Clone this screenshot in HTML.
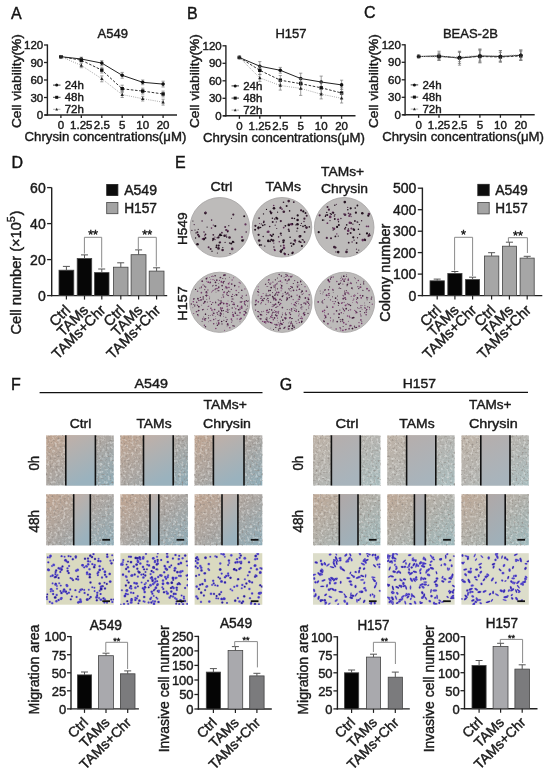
<!DOCTYPE html>
<html><head><meta charset="utf-8"><title>Chrysin figure</title>
<style>html,body{margin:0;padding:0;background:#fff;} svg{display:block;font-family:"Liberation Sans", Arial, sans-serif;} text{stroke:#1a1a1a;stroke-width:0.42px;}</style>
</head><body>
<svg width="550" height="776" viewBox="0 0 550 776">
<rect width="550" height="776" fill="#fff"/>
<text x="11.0" y="18.5" font-size="16" text-anchor="start" fill="#111">A</text>
<text x="187.0" y="18.5" font-size="16" text-anchor="start" fill="#111">B</text>
<text x="364.0" y="18.3" font-size="16" text-anchor="start" fill="#111">C</text>
<text x="11.5" y="167.8" font-size="16" text-anchor="start" fill="#111">D</text>
<text x="175.0" y="167.8" font-size="16" text-anchor="start" fill="#111">E</text>
<text x="11.0" y="390.0" font-size="16" text-anchor="start" fill="#111">F</text>
<text x="279.8" y="390.0" font-size="16" text-anchor="start" fill="#111">G</text>
<text x="112.8" y="37.5" font-size="13" text-anchor="middle" fill="#1a1a1a">A549</text>
<line x1="47.4" y1="44.4" x2="47.4" y2="115.6" stroke="#222" stroke-width="1.4"/>
<line x1="44.7" y1="115.0" x2="177.0" y2="115.0" stroke="#222" stroke-width="1.4"/>
<line x1="44.0" y1="115.0" x2="47.4" y2="115.0" stroke="#222" stroke-width="1.3"/>
<text x="43.2" y="119.1" font-size="11.5" text-anchor="end" fill="#1a1a1a">0</text>
<line x1="44.0" y1="97.5" x2="47.4" y2="97.5" stroke="#222" stroke-width="1.3"/>
<text x="43.2" y="101.6" font-size="11.5" text-anchor="end" fill="#1a1a1a">30</text>
<line x1="44.0" y1="80.0" x2="47.4" y2="80.0" stroke="#222" stroke-width="1.3"/>
<text x="43.2" y="84.1" font-size="11.5" text-anchor="end" fill="#1a1a1a">60</text>
<line x1="44.0" y1="62.5" x2="47.4" y2="62.5" stroke="#222" stroke-width="1.3"/>
<text x="43.2" y="66.6" font-size="11.5" text-anchor="end" fill="#1a1a1a">90</text>
<line x1="44.0" y1="45.0" x2="47.4" y2="45.0" stroke="#222" stroke-width="1.3"/>
<text x="43.2" y="49.1" font-size="11.5" text-anchor="end" fill="#1a1a1a">120</text>
<line x1="60.9" y1="115.0" x2="60.9" y2="118.0" stroke="#222" stroke-width="1.3"/>
<line x1="81.3" y1="115.0" x2="81.3" y2="118.0" stroke="#222" stroke-width="1.3"/>
<line x1="101.8" y1="115.0" x2="101.8" y2="118.0" stroke="#222" stroke-width="1.3"/>
<line x1="122.2" y1="115.0" x2="122.2" y2="118.0" stroke="#222" stroke-width="1.3"/>
<line x1="142.7" y1="115.0" x2="142.7" y2="118.0" stroke="#222" stroke-width="1.3"/>
<line x1="163.1" y1="115.0" x2="163.1" y2="118.0" stroke="#222" stroke-width="1.3"/>
<text x="60.9" y="128.7" font-size="11.5" text-anchor="middle" fill="#1a1a1a">0</text>
<text x="81.3" y="128.7" font-size="11.5" text-anchor="middle" fill="#1a1a1a">1.25</text>
<text x="101.8" y="128.7" font-size="11.5" text-anchor="middle" fill="#1a1a1a">2.5</text>
<text x="122.2" y="128.7" font-size="11.5" text-anchor="middle" fill="#1a1a1a">5</text>
<text x="142.7" y="128.7" font-size="11.5" text-anchor="middle" fill="#1a1a1a">10</text>
<text x="163.1" y="128.7" font-size="11.5" text-anchor="middle" fill="#1a1a1a">20</text>
<text x="24.5" y="141.3" font-size="13.2" text-anchor="start" fill="#1a1a1a" textLength="161.8" lengthAdjust="spacingAndGlyphs">Chrysin concentrations(μM)</text>
<text transform="translate(20.6,81.1) rotate(-90)" font-size="13" text-anchor="middle" fill="#1a1a1a" textLength="94" lengthAdjust="spacingAndGlyphs">Cell viability(%)</text>
<polyline points="60.9,56.7 81.3,59.0 101.8,63.1 122.2,75.3 142.7,82.3 163.1,84.1" fill="none" stroke="#222" stroke-width="1.0"/>
<polyline points="60.9,56.7 81.3,60.2 101.8,70.1 122.2,88.8 142.7,91.1 163.1,94.0" fill="none" stroke="#333" stroke-width="1.0" stroke-dasharray="2.6,1.6"/>
<polyline points="60.9,56.7 81.3,65.4 101.8,78.8 122.2,94.6 142.7,98.7 163.1,102.2" fill="none" stroke="#aaa" stroke-width="1.0" stroke-dasharray="1.0,1.2"/>
<line x1="60.9" y1="55.5" x2="60.9" y2="57.8" stroke="#777" stroke-width="0.7"/>
<line x1="59.3" y1="55.5" x2="62.5" y2="55.5" stroke="#777" stroke-width="0.7"/>
<line x1="59.3" y1="57.8" x2="62.5" y2="57.8" stroke="#777" stroke-width="0.7"/>
<circle cx="60.9" cy="56.7" r="1.8" fill="#111"/>
<line x1="81.3" y1="57.2" x2="81.3" y2="60.8" stroke="#777" stroke-width="0.7"/>
<line x1="79.7" y1="57.2" x2="82.9" y2="57.2" stroke="#777" stroke-width="0.7"/>
<line x1="79.7" y1="60.8" x2="82.9" y2="60.8" stroke="#777" stroke-width="0.7"/>
<circle cx="81.3" cy="59.0" r="1.8" fill="#111"/>
<line x1="101.8" y1="60.7" x2="101.8" y2="65.4" stroke="#777" stroke-width="0.7"/>
<line x1="100.2" y1="60.7" x2="103.4" y2="60.7" stroke="#777" stroke-width="0.7"/>
<line x1="100.2" y1="65.4" x2="103.4" y2="65.4" stroke="#777" stroke-width="0.7"/>
<circle cx="101.8" cy="63.1" r="1.8" fill="#111"/>
<line x1="122.2" y1="72.4" x2="122.2" y2="78.2" stroke="#777" stroke-width="0.7"/>
<line x1="120.6" y1="72.4" x2="123.8" y2="72.4" stroke="#777" stroke-width="0.7"/>
<line x1="120.6" y1="78.2" x2="123.8" y2="78.2" stroke="#777" stroke-width="0.7"/>
<circle cx="122.2" cy="75.3" r="1.8" fill="#111"/>
<line x1="142.7" y1="80.0" x2="142.7" y2="84.7" stroke="#777" stroke-width="0.7"/>
<line x1="141.1" y1="80.0" x2="144.3" y2="80.0" stroke="#777" stroke-width="0.7"/>
<line x1="141.1" y1="84.7" x2="144.3" y2="84.7" stroke="#777" stroke-width="0.7"/>
<circle cx="142.7" cy="82.3" r="1.8" fill="#111"/>
<line x1="163.1" y1="81.2" x2="163.1" y2="87.0" stroke="#777" stroke-width="0.7"/>
<line x1="161.5" y1="81.2" x2="164.7" y2="81.2" stroke="#777" stroke-width="0.7"/>
<line x1="161.5" y1="87.0" x2="164.7" y2="87.0" stroke="#777" stroke-width="0.7"/>
<circle cx="163.1" cy="84.1" r="1.8" fill="#111"/>
<line x1="60.9" y1="55.5" x2="60.9" y2="57.8" stroke="#777" stroke-width="0.7"/>
<line x1="59.3" y1="55.5" x2="62.5" y2="55.5" stroke="#777" stroke-width="0.7"/>
<line x1="59.3" y1="57.8" x2="62.5" y2="57.8" stroke="#777" stroke-width="0.7"/>
<rect x="59.2" y="55.0" width="3.4" height="3.4" fill="#111"/>
<line x1="81.3" y1="58.4" x2="81.3" y2="61.9" stroke="#777" stroke-width="0.7"/>
<line x1="79.7" y1="58.4" x2="82.9" y2="58.4" stroke="#777" stroke-width="0.7"/>
<line x1="79.7" y1="61.9" x2="82.9" y2="61.9" stroke="#777" stroke-width="0.7"/>
<rect x="79.6" y="58.5" width="3.4" height="3.4" fill="#111"/>
<line x1="101.8" y1="67.2" x2="101.8" y2="73.0" stroke="#777" stroke-width="0.7"/>
<line x1="100.2" y1="67.2" x2="103.4" y2="67.2" stroke="#777" stroke-width="0.7"/>
<line x1="100.2" y1="73.0" x2="103.4" y2="73.0" stroke="#777" stroke-width="0.7"/>
<rect x="100.1" y="68.4" width="3.4" height="3.4" fill="#111"/>
<line x1="122.2" y1="85.2" x2="122.2" y2="92.2" stroke="#777" stroke-width="0.7"/>
<line x1="120.6" y1="85.2" x2="123.8" y2="85.2" stroke="#777" stroke-width="0.7"/>
<line x1="120.6" y1="92.2" x2="123.8" y2="92.2" stroke="#777" stroke-width="0.7"/>
<rect x="120.5" y="87.0" width="3.4" height="3.4" fill="#111"/>
<line x1="142.7" y1="88.2" x2="142.7" y2="94.0" stroke="#777" stroke-width="0.7"/>
<line x1="141.1" y1="88.2" x2="144.3" y2="88.2" stroke="#777" stroke-width="0.7"/>
<line x1="141.1" y1="94.0" x2="144.3" y2="94.0" stroke="#777" stroke-width="0.7"/>
<rect x="141.0" y="89.4" width="3.4" height="3.4" fill="#111"/>
<line x1="163.1" y1="91.1" x2="163.1" y2="96.9" stroke="#777" stroke-width="0.7"/>
<line x1="161.5" y1="91.1" x2="164.7" y2="91.1" stroke="#777" stroke-width="0.7"/>
<line x1="161.5" y1="96.9" x2="164.7" y2="96.9" stroke="#777" stroke-width="0.7"/>
<rect x="161.4" y="92.3" width="3.4" height="3.4" fill="#111"/>
<line x1="60.9" y1="55.5" x2="60.9" y2="57.8" stroke="#777" stroke-width="0.7"/>
<line x1="59.3" y1="55.5" x2="62.5" y2="55.5" stroke="#777" stroke-width="0.7"/>
<line x1="59.3" y1="57.8" x2="62.5" y2="57.8" stroke="#777" stroke-width="0.7"/>
<path d="M60.9,54.8 L62.6,58.0 L59.2,58.0 Z" fill="#222"/>
<line x1="81.3" y1="63.1" x2="81.3" y2="67.7" stroke="#777" stroke-width="0.7"/>
<line x1="79.7" y1="63.1" x2="82.9" y2="63.1" stroke="#777" stroke-width="0.7"/>
<line x1="79.7" y1="67.7" x2="82.9" y2="67.7" stroke="#777" stroke-width="0.7"/>
<path d="M81.3,63.5 L83.0,66.7 L79.6,66.7 Z" fill="#222"/>
<line x1="101.8" y1="75.9" x2="101.8" y2="81.8" stroke="#777" stroke-width="0.7"/>
<line x1="100.2" y1="75.9" x2="103.4" y2="75.9" stroke="#777" stroke-width="0.7"/>
<line x1="100.2" y1="81.8" x2="103.4" y2="81.8" stroke="#777" stroke-width="0.7"/>
<path d="M101.8,76.9 L103.5,80.1 L100.1,80.1 Z" fill="#222"/>
<line x1="122.2" y1="91.7" x2="122.2" y2="97.5" stroke="#777" stroke-width="0.7"/>
<line x1="120.6" y1="91.7" x2="123.8" y2="91.7" stroke="#777" stroke-width="0.7"/>
<line x1="120.6" y1="97.5" x2="123.8" y2="97.5" stroke="#777" stroke-width="0.7"/>
<path d="M122.2,92.7 L123.9,95.9 L120.5,95.9 Z" fill="#222"/>
<line x1="142.7" y1="96.3" x2="142.7" y2="101.0" stroke="#777" stroke-width="0.7"/>
<line x1="141.1" y1="96.3" x2="144.3" y2="96.3" stroke="#777" stroke-width="0.7"/>
<line x1="141.1" y1="101.0" x2="144.3" y2="101.0" stroke="#777" stroke-width="0.7"/>
<path d="M142.7,96.8 L144.4,100.0 L141.0,100.0 Z" fill="#222"/>
<line x1="163.1" y1="99.2" x2="163.1" y2="105.1" stroke="#777" stroke-width="0.7"/>
<line x1="161.5" y1="99.2" x2="164.7" y2="99.2" stroke="#777" stroke-width="0.7"/>
<line x1="161.5" y1="105.1" x2="164.7" y2="105.1" stroke="#777" stroke-width="0.7"/>
<path d="M163.1,100.3 L164.8,103.5 L161.4,103.5 Z" fill="#222"/>
<line x1="53.0" y1="85.1" x2="60.5" y2="85.1" stroke="#222" stroke-width="0.9"/>
<circle cx="56.7" cy="85.1" r="1.5" fill="#111"/>
<text x="64.7" y="89.0" font-size="11.5" text-anchor="start" fill="#1a1a1a">24h</text>
<line x1="53.0" y1="97.3" x2="60.5" y2="97.3" stroke="#333" stroke-width="0.9"/>
<rect x="55.2" y="95.8" width="3.0" height="3.0" fill="#111"/>
<text x="64.7" y="101.2" font-size="11.5" text-anchor="start" fill="#1a1a1a">48h</text>
<line x1="53.0" y1="109.3" x2="60.5" y2="109.3" stroke="#aaa" stroke-width="0.9"/>
<path d="M56.7,107.7 L58.1,110.4 L55.3,110.4 Z" fill="#222"/>
<text x="64.7" y="113.2" font-size="11.5" text-anchor="start" fill="#1a1a1a">72h</text>
<text x="291.0" y="38.4" font-size="13" text-anchor="middle" fill="#1a1a1a">H157</text>
<line x1="225.9" y1="45.2" x2="225.9" y2="116.4" stroke="#222" stroke-width="1.4"/>
<line x1="223.2" y1="115.8" x2="355.5" y2="115.8" stroke="#222" stroke-width="1.4"/>
<line x1="222.5" y1="115.8" x2="225.9" y2="115.8" stroke="#222" stroke-width="1.3"/>
<text x="221.7" y="119.9" font-size="11.5" text-anchor="end" fill="#1a1a1a">0</text>
<line x1="222.5" y1="98.3" x2="225.9" y2="98.3" stroke="#222" stroke-width="1.3"/>
<text x="221.7" y="102.4" font-size="11.5" text-anchor="end" fill="#1a1a1a">30</text>
<line x1="222.5" y1="80.8" x2="225.9" y2="80.8" stroke="#222" stroke-width="1.3"/>
<text x="221.7" y="84.9" font-size="11.5" text-anchor="end" fill="#1a1a1a">60</text>
<line x1="222.5" y1="63.3" x2="225.9" y2="63.3" stroke="#222" stroke-width="1.3"/>
<text x="221.7" y="67.4" font-size="11.5" text-anchor="end" fill="#1a1a1a">90</text>
<line x1="222.5" y1="45.8" x2="225.9" y2="45.8" stroke="#222" stroke-width="1.3"/>
<text x="221.7" y="49.9" font-size="11.5" text-anchor="end" fill="#1a1a1a">120</text>
<line x1="239.4" y1="115.8" x2="239.4" y2="118.8" stroke="#222" stroke-width="1.3"/>
<line x1="259.8" y1="115.8" x2="259.8" y2="118.8" stroke="#222" stroke-width="1.3"/>
<line x1="280.3" y1="115.8" x2="280.3" y2="118.8" stroke="#222" stroke-width="1.3"/>
<line x1="300.7" y1="115.8" x2="300.7" y2="118.8" stroke="#222" stroke-width="1.3"/>
<line x1="321.2" y1="115.8" x2="321.2" y2="118.8" stroke="#222" stroke-width="1.3"/>
<line x1="341.6" y1="115.8" x2="341.6" y2="118.8" stroke="#222" stroke-width="1.3"/>
<text x="239.4" y="129.5" font-size="11.5" text-anchor="middle" fill="#1a1a1a">0</text>
<text x="259.8" y="129.5" font-size="11.5" text-anchor="middle" fill="#1a1a1a">1.25</text>
<text x="280.3" y="129.5" font-size="11.5" text-anchor="middle" fill="#1a1a1a">2.5</text>
<text x="300.7" y="129.5" font-size="11.5" text-anchor="middle" fill="#1a1a1a">5</text>
<text x="321.2" y="129.5" font-size="11.5" text-anchor="middle" fill="#1a1a1a">10</text>
<text x="341.6" y="129.5" font-size="11.5" text-anchor="middle" fill="#1a1a1a">20</text>
<text x="203.0" y="142.1" font-size="13.2" text-anchor="start" fill="#1a1a1a" textLength="161.8" lengthAdjust="spacingAndGlyphs">Chrysin concentrations(μM)</text>
<text transform="translate(199.1,81.1) rotate(-90)" font-size="13" text-anchor="middle" fill="#1a1a1a" textLength="94" lengthAdjust="spacingAndGlyphs">Cell viability(%)</text>
<polyline points="239.4,57.5 259.8,66.2 280.3,70.3 300.7,78.5 321.2,82.0 341.6,84.9" fill="none" stroke="#222" stroke-width="1.0"/>
<polyline points="239.4,57.5 259.8,70.3 280.3,80.2 300.7,83.7 321.2,87.8 341.6,93.0" fill="none" stroke="#333" stroke-width="1.0" stroke-dasharray="2.6,1.6"/>
<polyline points="239.4,57.5 259.8,77.9 280.3,85.5 300.7,88.4 321.2,94.2 341.6,98.3" fill="none" stroke="#aaa" stroke-width="1.0" stroke-dasharray="1.0,1.2"/>
<line x1="239.4" y1="56.3" x2="239.4" y2="58.6" stroke="#777" stroke-width="0.7"/>
<line x1="237.8" y1="56.3" x2="241.0" y2="56.3" stroke="#777" stroke-width="0.7"/>
<line x1="237.8" y1="58.6" x2="241.0" y2="58.6" stroke="#777" stroke-width="0.7"/>
<circle cx="239.4" cy="57.5" r="1.8" fill="#111"/>
<line x1="259.8" y1="61.6" x2="259.8" y2="70.9" stroke="#777" stroke-width="0.7"/>
<line x1="258.2" y1="61.6" x2="261.4" y2="61.6" stroke="#777" stroke-width="0.7"/>
<line x1="258.2" y1="70.9" x2="261.4" y2="70.9" stroke="#777" stroke-width="0.7"/>
<circle cx="259.8" cy="66.2" r="1.8" fill="#111"/>
<line x1="280.3" y1="67.4" x2="280.3" y2="73.2" stroke="#777" stroke-width="0.7"/>
<line x1="278.7" y1="67.4" x2="281.9" y2="67.4" stroke="#777" stroke-width="0.7"/>
<line x1="278.7" y1="73.2" x2="281.9" y2="73.2" stroke="#777" stroke-width="0.7"/>
<circle cx="280.3" cy="70.3" r="1.8" fill="#111"/>
<line x1="300.7" y1="73.2" x2="300.7" y2="83.7" stroke="#777" stroke-width="0.7"/>
<line x1="299.1" y1="73.2" x2="302.3" y2="73.2" stroke="#777" stroke-width="0.7"/>
<line x1="299.1" y1="83.7" x2="302.3" y2="83.7" stroke="#777" stroke-width="0.7"/>
<circle cx="300.7" cy="78.5" r="1.8" fill="#111"/>
<line x1="321.2" y1="76.1" x2="321.2" y2="87.8" stroke="#777" stroke-width="0.7"/>
<line x1="319.6" y1="76.1" x2="322.8" y2="76.1" stroke="#777" stroke-width="0.7"/>
<line x1="319.6" y1="87.8" x2="322.8" y2="87.8" stroke="#777" stroke-width="0.7"/>
<circle cx="321.2" cy="82.0" r="1.8" fill="#111"/>
<line x1="341.6" y1="80.2" x2="341.6" y2="89.5" stroke="#777" stroke-width="0.7"/>
<line x1="340.0" y1="80.2" x2="343.2" y2="80.2" stroke="#777" stroke-width="0.7"/>
<line x1="340.0" y1="89.5" x2="343.2" y2="89.5" stroke="#777" stroke-width="0.7"/>
<circle cx="341.6" cy="84.9" r="1.8" fill="#111"/>
<line x1="239.4" y1="56.3" x2="239.4" y2="58.6" stroke="#777" stroke-width="0.7"/>
<line x1="237.8" y1="56.3" x2="241.0" y2="56.3" stroke="#777" stroke-width="0.7"/>
<line x1="237.8" y1="58.6" x2="241.0" y2="58.6" stroke="#777" stroke-width="0.7"/>
<rect x="237.7" y="55.8" width="3.4" height="3.4" fill="#111"/>
<line x1="259.8" y1="66.2" x2="259.8" y2="74.4" stroke="#777" stroke-width="0.7"/>
<line x1="258.2" y1="66.2" x2="261.4" y2="66.2" stroke="#777" stroke-width="0.7"/>
<line x1="258.2" y1="74.4" x2="261.4" y2="74.4" stroke="#777" stroke-width="0.7"/>
<rect x="258.1" y="68.6" width="3.4" height="3.4" fill="#111"/>
<line x1="280.3" y1="75.5" x2="280.3" y2="84.9" stroke="#777" stroke-width="0.7"/>
<line x1="278.7" y1="75.5" x2="281.9" y2="75.5" stroke="#777" stroke-width="0.7"/>
<line x1="278.7" y1="84.9" x2="281.9" y2="84.9" stroke="#777" stroke-width="0.7"/>
<rect x="278.6" y="78.5" width="3.4" height="3.4" fill="#111"/>
<line x1="300.7" y1="78.5" x2="300.7" y2="89.0" stroke="#777" stroke-width="0.7"/>
<line x1="299.1" y1="78.5" x2="302.3" y2="78.5" stroke="#777" stroke-width="0.7"/>
<line x1="299.1" y1="89.0" x2="302.3" y2="89.0" stroke="#777" stroke-width="0.7"/>
<rect x="299.0" y="82.0" width="3.4" height="3.4" fill="#111"/>
<line x1="321.2" y1="82.0" x2="321.2" y2="93.6" stroke="#777" stroke-width="0.7"/>
<line x1="319.6" y1="82.0" x2="322.8" y2="82.0" stroke="#777" stroke-width="0.7"/>
<line x1="319.6" y1="93.6" x2="322.8" y2="93.6" stroke="#777" stroke-width="0.7"/>
<rect x="319.5" y="86.1" width="3.4" height="3.4" fill="#111"/>
<line x1="341.6" y1="87.8" x2="341.6" y2="98.3" stroke="#777" stroke-width="0.7"/>
<line x1="340.0" y1="87.8" x2="343.2" y2="87.8" stroke="#777" stroke-width="0.7"/>
<line x1="340.0" y1="98.3" x2="343.2" y2="98.3" stroke="#777" stroke-width="0.7"/>
<rect x="339.9" y="91.3" width="3.4" height="3.4" fill="#111"/>
<line x1="239.4" y1="56.3" x2="239.4" y2="58.6" stroke="#777" stroke-width="0.7"/>
<line x1="237.8" y1="56.3" x2="241.0" y2="56.3" stroke="#777" stroke-width="0.7"/>
<line x1="237.8" y1="58.6" x2="241.0" y2="58.6" stroke="#777" stroke-width="0.7"/>
<path d="M239.4,55.6 L241.1,58.8 L237.7,58.8 Z" fill="#222"/>
<line x1="259.8" y1="74.4" x2="259.8" y2="81.4" stroke="#777" stroke-width="0.7"/>
<line x1="258.2" y1="74.4" x2="261.4" y2="74.4" stroke="#777" stroke-width="0.7"/>
<line x1="258.2" y1="81.4" x2="261.4" y2="81.4" stroke="#777" stroke-width="0.7"/>
<path d="M259.8,76.0 L261.5,79.2 L258.1,79.2 Z" fill="#222"/>
<line x1="280.3" y1="80.8" x2="280.3" y2="90.1" stroke="#777" stroke-width="0.7"/>
<line x1="278.7" y1="80.8" x2="281.9" y2="80.8" stroke="#777" stroke-width="0.7"/>
<line x1="278.7" y1="90.1" x2="281.9" y2="90.1" stroke="#777" stroke-width="0.7"/>
<path d="M280.3,83.6 L282.0,86.8 L278.6,86.8 Z" fill="#222"/>
<line x1="300.7" y1="81.4" x2="300.7" y2="95.4" stroke="#777" stroke-width="0.7"/>
<line x1="299.1" y1="81.4" x2="302.3" y2="81.4" stroke="#777" stroke-width="0.7"/>
<line x1="299.1" y1="95.4" x2="302.3" y2="95.4" stroke="#777" stroke-width="0.7"/>
<path d="M300.7,86.5 L302.4,89.7 L299.0,89.7 Z" fill="#222"/>
<line x1="321.2" y1="89.5" x2="321.2" y2="98.9" stroke="#777" stroke-width="0.7"/>
<line x1="319.6" y1="89.5" x2="322.8" y2="89.5" stroke="#777" stroke-width="0.7"/>
<line x1="319.6" y1="98.9" x2="322.8" y2="98.9" stroke="#777" stroke-width="0.7"/>
<path d="M321.2,92.3 L322.9,95.5 L319.5,95.5 Z" fill="#222"/>
<line x1="341.6" y1="93.6" x2="341.6" y2="103.0" stroke="#777" stroke-width="0.7"/>
<line x1="340.0" y1="93.6" x2="343.2" y2="93.6" stroke="#777" stroke-width="0.7"/>
<line x1="340.0" y1="103.0" x2="343.2" y2="103.0" stroke="#777" stroke-width="0.7"/>
<path d="M341.6,96.4 L343.3,99.6 L339.9,99.6 Z" fill="#222"/>
<line x1="231.5" y1="85.9" x2="239.0" y2="85.9" stroke="#222" stroke-width="0.9"/>
<circle cx="235.2" cy="85.9" r="1.5" fill="#111"/>
<text x="243.2" y="89.8" font-size="11.5" text-anchor="start" fill="#1a1a1a">24h</text>
<line x1="231.5" y1="98.1" x2="239.0" y2="98.1" stroke="#333" stroke-width="0.9"/>
<rect x="233.7" y="96.6" width="3.0" height="3.0" fill="#111"/>
<text x="243.2" y="102.0" font-size="11.5" text-anchor="start" fill="#1a1a1a">48h</text>
<line x1="231.5" y1="110.1" x2="239.0" y2="110.1" stroke="#aaa" stroke-width="0.9"/>
<path d="M235.2,108.5 L236.6,111.2 L233.8,111.2 Z" fill="#222"/>
<text x="243.2" y="114.0" font-size="11.5" text-anchor="start" fill="#1a1a1a">72h</text>
<text x="470.4" y="38.2" font-size="13" text-anchor="middle" fill="#1a1a1a">BEAS-2B</text>
<line x1="405.1" y1="44.2" x2="405.1" y2="115.4" stroke="#222" stroke-width="1.4"/>
<line x1="402.4" y1="114.8" x2="534.7" y2="114.8" stroke="#222" stroke-width="1.4"/>
<line x1="401.7" y1="114.8" x2="405.1" y2="114.8" stroke="#222" stroke-width="1.3"/>
<text x="400.9" y="118.9" font-size="11.5" text-anchor="end" fill="#1a1a1a">0</text>
<line x1="401.7" y1="97.3" x2="405.1" y2="97.3" stroke="#222" stroke-width="1.3"/>
<text x="400.9" y="101.4" font-size="11.5" text-anchor="end" fill="#1a1a1a">30</text>
<line x1="401.7" y1="79.8" x2="405.1" y2="79.8" stroke="#222" stroke-width="1.3"/>
<text x="400.9" y="83.9" font-size="11.5" text-anchor="end" fill="#1a1a1a">60</text>
<line x1="401.7" y1="62.3" x2="405.1" y2="62.3" stroke="#222" stroke-width="1.3"/>
<text x="400.9" y="66.4" font-size="11.5" text-anchor="end" fill="#1a1a1a">90</text>
<line x1="401.7" y1="44.8" x2="405.1" y2="44.8" stroke="#222" stroke-width="1.3"/>
<text x="400.9" y="48.9" font-size="11.5" text-anchor="end" fill="#1a1a1a">120</text>
<line x1="418.6" y1="114.8" x2="418.6" y2="117.8" stroke="#222" stroke-width="1.3"/>
<line x1="439.0" y1="114.8" x2="439.0" y2="117.8" stroke="#222" stroke-width="1.3"/>
<line x1="459.5" y1="114.8" x2="459.5" y2="117.8" stroke="#222" stroke-width="1.3"/>
<line x1="479.9" y1="114.8" x2="479.9" y2="117.8" stroke="#222" stroke-width="1.3"/>
<line x1="500.4" y1="114.8" x2="500.4" y2="117.8" stroke="#222" stroke-width="1.3"/>
<line x1="520.8" y1="114.8" x2="520.8" y2="117.8" stroke="#222" stroke-width="1.3"/>
<text x="418.6" y="128.5" font-size="11.5" text-anchor="middle" fill="#1a1a1a">0</text>
<text x="439.0" y="128.5" font-size="11.5" text-anchor="middle" fill="#1a1a1a">1.25</text>
<text x="459.5" y="128.5" font-size="11.5" text-anchor="middle" fill="#1a1a1a">2.5</text>
<text x="479.9" y="128.5" font-size="11.5" text-anchor="middle" fill="#1a1a1a">5</text>
<text x="500.4" y="128.5" font-size="11.5" text-anchor="middle" fill="#1a1a1a">10</text>
<text x="520.8" y="128.5" font-size="11.5" text-anchor="middle" fill="#1a1a1a">20</text>
<text x="382.2" y="141.1" font-size="13.2" text-anchor="start" fill="#1a1a1a" textLength="161.8" lengthAdjust="spacingAndGlyphs">Chrysin concentrations(μM)</text>
<text transform="translate(378.3,81.1) rotate(-90)" font-size="13" text-anchor="middle" fill="#1a1a1a" textLength="94" lengthAdjust="spacingAndGlyphs">Cell viability(%)</text>
<polyline points="418.6,56.5 439.0,55.9 459.5,58.2 479.9,55.9 500.4,56.5 520.8,55.3" fill="none" stroke="#222" stroke-width="1.0"/>
<polyline points="418.6,56.5 439.0,56.5 459.5,57.6 479.9,56.5 500.4,57.0 520.8,55.9" fill="none" stroke="#333" stroke-width="1.0" stroke-dasharray="2.6,1.6"/>
<polyline points="418.6,56.5 439.0,57.0 459.5,57.0 479.9,55.3 500.4,55.9 520.8,54.7" fill="none" stroke="#aaa" stroke-width="1.0" stroke-dasharray="1.0,1.2"/>
<line x1="418.6" y1="55.3" x2="418.6" y2="57.6" stroke="#777" stroke-width="0.7"/>
<line x1="417.0" y1="55.3" x2="420.2" y2="55.3" stroke="#777" stroke-width="0.7"/>
<line x1="417.0" y1="57.6" x2="420.2" y2="57.6" stroke="#777" stroke-width="0.7"/>
<circle cx="418.6" cy="56.5" r="1.8" fill="#111"/>
<line x1="439.0" y1="51.2" x2="439.0" y2="60.5" stroke="#777" stroke-width="0.7"/>
<line x1="437.4" y1="51.2" x2="440.6" y2="51.2" stroke="#777" stroke-width="0.7"/>
<line x1="437.4" y1="60.5" x2="440.6" y2="60.5" stroke="#777" stroke-width="0.7"/>
<circle cx="439.0" cy="55.9" r="1.8" fill="#111"/>
<line x1="459.5" y1="51.2" x2="459.5" y2="65.2" stroke="#777" stroke-width="0.7"/>
<line x1="457.9" y1="51.2" x2="461.1" y2="51.2" stroke="#777" stroke-width="0.7"/>
<line x1="457.9" y1="65.2" x2="461.1" y2="65.2" stroke="#777" stroke-width="0.7"/>
<circle cx="459.5" cy="58.2" r="1.8" fill="#111"/>
<line x1="479.9" y1="48.9" x2="479.9" y2="62.9" stroke="#777" stroke-width="0.7"/>
<line x1="478.3" y1="48.9" x2="481.5" y2="48.9" stroke="#777" stroke-width="0.7"/>
<line x1="478.3" y1="62.9" x2="481.5" y2="62.9" stroke="#777" stroke-width="0.7"/>
<circle cx="479.9" cy="55.9" r="1.8" fill="#111"/>
<line x1="500.4" y1="50.6" x2="500.4" y2="62.3" stroke="#777" stroke-width="0.7"/>
<line x1="498.8" y1="50.6" x2="502.0" y2="50.6" stroke="#777" stroke-width="0.7"/>
<line x1="498.8" y1="62.3" x2="502.0" y2="62.3" stroke="#777" stroke-width="0.7"/>
<circle cx="500.4" cy="56.5" r="1.8" fill="#111"/>
<line x1="520.8" y1="50.0" x2="520.8" y2="60.5" stroke="#777" stroke-width="0.7"/>
<line x1="519.2" y1="50.0" x2="522.4" y2="50.0" stroke="#777" stroke-width="0.7"/>
<line x1="519.2" y1="60.5" x2="522.4" y2="60.5" stroke="#777" stroke-width="0.7"/>
<circle cx="520.8" cy="55.3" r="1.8" fill="#111"/>
<line x1="418.6" y1="55.3" x2="418.6" y2="57.6" stroke="#777" stroke-width="0.7"/>
<line x1="417.0" y1="55.3" x2="420.2" y2="55.3" stroke="#777" stroke-width="0.7"/>
<line x1="417.0" y1="57.6" x2="420.2" y2="57.6" stroke="#777" stroke-width="0.7"/>
<rect x="416.9" y="54.8" width="3.4" height="3.4" fill="#111"/>
<line x1="439.0" y1="53.0" x2="439.0" y2="60.0" stroke="#777" stroke-width="0.7"/>
<line x1="437.4" y1="53.0" x2="440.6" y2="53.0" stroke="#777" stroke-width="0.7"/>
<line x1="437.4" y1="60.0" x2="440.6" y2="60.0" stroke="#777" stroke-width="0.7"/>
<rect x="437.3" y="54.8" width="3.4" height="3.4" fill="#111"/>
<line x1="459.5" y1="51.8" x2="459.5" y2="63.5" stroke="#777" stroke-width="0.7"/>
<line x1="457.9" y1="51.8" x2="461.1" y2="51.8" stroke="#777" stroke-width="0.7"/>
<line x1="457.9" y1="63.5" x2="461.1" y2="63.5" stroke="#777" stroke-width="0.7"/>
<rect x="457.8" y="55.9" width="3.4" height="3.4" fill="#111"/>
<line x1="479.9" y1="50.6" x2="479.9" y2="62.3" stroke="#777" stroke-width="0.7"/>
<line x1="478.3" y1="50.6" x2="481.5" y2="50.6" stroke="#777" stroke-width="0.7"/>
<line x1="478.3" y1="62.3" x2="481.5" y2="62.3" stroke="#777" stroke-width="0.7"/>
<rect x="478.2" y="54.8" width="3.4" height="3.4" fill="#111"/>
<line x1="500.4" y1="52.4" x2="500.4" y2="61.7" stroke="#777" stroke-width="0.7"/>
<line x1="498.8" y1="52.4" x2="502.0" y2="52.4" stroke="#777" stroke-width="0.7"/>
<line x1="498.8" y1="61.7" x2="502.0" y2="61.7" stroke="#777" stroke-width="0.7"/>
<rect x="498.7" y="55.3" width="3.4" height="3.4" fill="#111"/>
<line x1="520.8" y1="51.2" x2="520.8" y2="60.5" stroke="#777" stroke-width="0.7"/>
<line x1="519.2" y1="51.2" x2="522.4" y2="51.2" stroke="#777" stroke-width="0.7"/>
<line x1="519.2" y1="60.5" x2="522.4" y2="60.5" stroke="#777" stroke-width="0.7"/>
<rect x="519.1" y="54.2" width="3.4" height="3.4" fill="#111"/>
<line x1="418.6" y1="55.3" x2="418.6" y2="57.6" stroke="#777" stroke-width="0.7"/>
<line x1="417.0" y1="55.3" x2="420.2" y2="55.3" stroke="#777" stroke-width="0.7"/>
<line x1="417.0" y1="57.6" x2="420.2" y2="57.6" stroke="#777" stroke-width="0.7"/>
<path d="M418.6,54.6 L420.3,57.8 L416.9,57.8 Z" fill="#222"/>
<line x1="439.0" y1="54.1" x2="439.0" y2="60.0" stroke="#777" stroke-width="0.7"/>
<line x1="437.4" y1="54.1" x2="440.6" y2="54.1" stroke="#777" stroke-width="0.7"/>
<line x1="437.4" y1="60.0" x2="440.6" y2="60.0" stroke="#777" stroke-width="0.7"/>
<path d="M439.0,55.1 L440.7,58.3 L437.3,58.3 Z" fill="#222"/>
<line x1="459.5" y1="52.4" x2="459.5" y2="61.7" stroke="#777" stroke-width="0.7"/>
<line x1="457.9" y1="52.4" x2="461.1" y2="52.4" stroke="#777" stroke-width="0.7"/>
<line x1="457.9" y1="61.7" x2="461.1" y2="61.7" stroke="#777" stroke-width="0.7"/>
<path d="M459.5,55.1 L461.2,58.3 L457.8,58.3 Z" fill="#222"/>
<line x1="479.9" y1="49.5" x2="479.9" y2="61.1" stroke="#777" stroke-width="0.7"/>
<line x1="478.3" y1="49.5" x2="481.5" y2="49.5" stroke="#777" stroke-width="0.7"/>
<line x1="478.3" y1="61.1" x2="481.5" y2="61.1" stroke="#777" stroke-width="0.7"/>
<path d="M479.9,53.4 L481.6,56.6 L478.2,56.6 Z" fill="#222"/>
<line x1="500.4" y1="50.6" x2="500.4" y2="61.1" stroke="#777" stroke-width="0.7"/>
<line x1="498.8" y1="50.6" x2="502.0" y2="50.6" stroke="#777" stroke-width="0.7"/>
<line x1="498.8" y1="61.1" x2="502.0" y2="61.1" stroke="#777" stroke-width="0.7"/>
<path d="M500.4,54.0 L502.1,57.2 L498.7,57.2 Z" fill="#222"/>
<line x1="520.8" y1="50.0" x2="520.8" y2="59.4" stroke="#777" stroke-width="0.7"/>
<line x1="519.2" y1="50.0" x2="522.4" y2="50.0" stroke="#777" stroke-width="0.7"/>
<line x1="519.2" y1="59.4" x2="522.4" y2="59.4" stroke="#777" stroke-width="0.7"/>
<path d="M520.8,52.8 L522.5,56.0 L519.1,56.0 Z" fill="#222"/>
<line x1="410.7" y1="84.9" x2="418.2" y2="84.9" stroke="#222" stroke-width="0.9"/>
<circle cx="414.4" cy="84.9" r="1.5" fill="#111"/>
<text x="422.4" y="88.8" font-size="11.5" text-anchor="start" fill="#1a1a1a">24h</text>
<line x1="410.7" y1="97.1" x2="418.2" y2="97.1" stroke="#333" stroke-width="0.9"/>
<rect x="412.9" y="95.6" width="3.0" height="3.0" fill="#111"/>
<text x="422.4" y="101.0" font-size="11.5" text-anchor="start" fill="#1a1a1a">48h</text>
<line x1="410.7" y1="109.1" x2="418.2" y2="109.1" stroke="#aaa" stroke-width="0.9"/>
<path d="M414.4,107.5 L415.8,110.2 L413.0,110.2 Z" fill="#222"/>
<text x="422.4" y="113.0" font-size="11.5" text-anchor="start" fill="#1a1a1a">72h</text>
<line x1="51.7" y1="187.6" x2="51.7" y2="296.2" stroke="#222" stroke-width="1.4"/>
<line x1="51.0" y1="295.6" x2="167.2" y2="295.6" stroke="#222" stroke-width="1.4"/>
<line x1="47.1" y1="295.6" x2="51.7" y2="295.6" stroke="#222" stroke-width="1.3"/>
<text x="45.7" y="300.7" font-size="14" text-anchor="end" fill="#1a1a1a">0</text>
<line x1="47.1" y1="259.6" x2="51.7" y2="259.6" stroke="#222" stroke-width="1.3"/>
<text x="45.7" y="264.7" font-size="14" text-anchor="end" fill="#1a1a1a">20</text>
<line x1="47.1" y1="223.6" x2="51.7" y2="223.6" stroke="#222" stroke-width="1.3"/>
<text x="45.7" y="228.7" font-size="14" text-anchor="end" fill="#1a1a1a">40</text>
<line x1="47.1" y1="187.6" x2="51.7" y2="187.6" stroke="#222" stroke-width="1.3"/>
<text x="45.7" y="192.7" font-size="14" text-anchor="end" fill="#1a1a1a">60</text>
<rect x="59.0" y="270.2" width="14.8" height="25.4" fill="#060606" stroke="#444" stroke-width="0.8"/>
<line x1="66.4" y1="270.2" x2="66.4" y2="266.4" stroke="#555" stroke-width="1.0"/>
<line x1="62.9" y1="266.4" x2="69.9" y2="266.4" stroke="#555" stroke-width="1.0"/>
<line x1="66.4" y1="295.6" x2="66.4" y2="299.6" stroke="#222" stroke-width="1.2"/>
<rect x="77.2" y="258.5" width="14.5" height="37.1" fill="#060606" stroke="#444" stroke-width="0.8"/>
<line x1="84.5" y1="258.5" x2="84.5" y2="254.9" stroke="#555" stroke-width="1.0"/>
<line x1="81.0" y1="254.9" x2="88.0" y2="254.9" stroke="#555" stroke-width="1.0"/>
<line x1="84.5" y1="295.6" x2="84.5" y2="299.6" stroke="#222" stroke-width="1.2"/>
<rect x="94.5" y="272.6" width="14.5" height="23.0" fill="#060606" stroke="#444" stroke-width="0.8"/>
<line x1="101.8" y1="272.6" x2="101.8" y2="269.0" stroke="#555" stroke-width="1.0"/>
<line x1="98.2" y1="269.0" x2="105.2" y2="269.0" stroke="#555" stroke-width="1.0"/>
<line x1="101.8" y1="295.6" x2="101.8" y2="299.6" stroke="#222" stroke-width="1.2"/>
<rect x="113.5" y="267.2" width="14.5" height="28.4" fill="#a2a2a2" stroke="#444" stroke-width="0.8"/>
<line x1="120.8" y1="267.2" x2="120.8" y2="262.8" stroke="#555" stroke-width="1.0"/>
<line x1="117.2" y1="262.8" x2="124.2" y2="262.8" stroke="#555" stroke-width="1.0"/>
<line x1="120.8" y1="295.6" x2="120.8" y2="299.6" stroke="#222" stroke-width="1.2"/>
<rect x="131.1" y="254.7" width="14.9" height="40.9" fill="#a2a2a2" stroke="#444" stroke-width="0.8"/>
<line x1="138.6" y1="254.7" x2="138.6" y2="249.9" stroke="#555" stroke-width="1.0"/>
<line x1="135.1" y1="249.9" x2="142.1" y2="249.9" stroke="#555" stroke-width="1.0"/>
<line x1="138.6" y1="295.6" x2="138.6" y2="299.6" stroke="#222" stroke-width="1.2"/>
<rect x="149.2" y="271.1" width="14.8" height="24.5" fill="#a2a2a2" stroke="#444" stroke-width="0.8"/>
<line x1="156.6" y1="271.1" x2="156.6" y2="267.8" stroke="#555" stroke-width="1.0"/>
<line x1="153.1" y1="267.8" x2="160.1" y2="267.8" stroke="#555" stroke-width="1.0"/>
<line x1="156.6" y1="295.6" x2="156.6" y2="299.6" stroke="#222" stroke-width="1.2"/>
<polyline points="84.4,253.6 84.4,237.3 101.7,237.3 101.7,267.6" fill="none" stroke="#8a8a8a" stroke-width="1.0"/>
<text x="93.1" y="239.4" font-size="12.75" text-anchor="middle" fill="#111" stroke-width="0.6">**</text>
<polyline points="138.3,249.2 138.3,237.3 156.3,237.3 156.3,266.5" fill="none" stroke="#8a8a8a" stroke-width="1.0"/>
<text x="147.3" y="239.4" font-size="12.75" text-anchor="middle" fill="#111" stroke-width="0.6">**</text>
<text transform="translate(71.2,311.1) rotate(-45)" font-size="14.6" text-anchor="end" fill="#1a1a1a">Ctrl</text>
<text transform="translate(89.2,311.1) rotate(-45)" font-size="14.6" text-anchor="end" fill="#1a1a1a">TAMs</text>
<text transform="translate(106.5,311.1) rotate(-45)" font-size="14.6" text-anchor="end" fill="#1a1a1a">TAMs+Chr</text>
<text transform="translate(125.5,311.1) rotate(-45)" font-size="14.6" text-anchor="end" fill="#1a1a1a">Ctrl</text>
<text transform="translate(143.4,311.1) rotate(-45)" font-size="14.6" text-anchor="end" fill="#1a1a1a">TAMs</text>
<text transform="translate(161.4,311.1) rotate(-45)" font-size="14.6" text-anchor="end" fill="#1a1a1a">TAMs+Chr</text>
<text transform="translate(21.0,272.6) rotate(-90)" font-size="14.6" text-anchor="middle" fill="#1a1a1a">Cell number (×10<tspan dy="-6.2" font-size="10.8">5</tspan><tspan dy="6.2" dx="0.6">)</tspan></text>
<rect x="106.7" y="184.4" width="11.2" height="11.2" fill="#0d0d0d" stroke="#222" stroke-width="0.8"/>
<rect x="106.7" y="202.5" width="11.2" height="11.2" fill="#a4a4a4" stroke="#444" stroke-width="0.8"/>
<text x="124.2" y="195.0" font-size="14" text-anchor="start" fill="#1a1a1a" textLength="32.8" lengthAdjust="spacingAndGlyphs">A549</text>
<text x="124.2" y="213.2" font-size="14" text-anchor="start" fill="#1a1a1a" textLength="32.8" lengthAdjust="spacingAndGlyphs">H157</text>
<line x1="422.4" y1="187.6" x2="422.4" y2="296.2" stroke="#222" stroke-width="1.4"/>
<line x1="421.7" y1="295.6" x2="542.3" y2="295.6" stroke="#222" stroke-width="1.4"/>
<line x1="417.8" y1="295.6" x2="422.4" y2="295.6" stroke="#222" stroke-width="1.3"/>
<text x="416.4" y="300.7" font-size="14" text-anchor="end" fill="#1a1a1a">0</text>
<line x1="417.8" y1="274.1" x2="422.4" y2="274.1" stroke="#222" stroke-width="1.3"/>
<text x="416.4" y="279.2" font-size="14" text-anchor="end" fill="#1a1a1a">100</text>
<line x1="417.8" y1="252.6" x2="422.4" y2="252.6" stroke="#222" stroke-width="1.3"/>
<text x="416.4" y="257.7" font-size="14" text-anchor="end" fill="#1a1a1a">200</text>
<line x1="417.8" y1="231.2" x2="422.4" y2="231.2" stroke="#222" stroke-width="1.3"/>
<text x="416.4" y="236.3" font-size="14" text-anchor="end" fill="#1a1a1a">300</text>
<line x1="417.8" y1="209.7" x2="422.4" y2="209.7" stroke="#222" stroke-width="1.3"/>
<text x="416.4" y="214.8" font-size="14" text-anchor="end" fill="#1a1a1a">400</text>
<line x1="417.8" y1="188.2" x2="422.4" y2="188.2" stroke="#222" stroke-width="1.3"/>
<text x="416.4" y="193.3" font-size="14" text-anchor="end" fill="#1a1a1a">500</text>
<rect x="430.0" y="280.8" width="14.4" height="14.8" fill="#060606" stroke="#444" stroke-width="0.8"/>
<line x1="437.2" y1="280.8" x2="437.2" y2="279.1" stroke="#555" stroke-width="1.0"/>
<line x1="433.7" y1="279.1" x2="440.7" y2="279.1" stroke="#555" stroke-width="1.0"/>
<line x1="437.2" y1="295.6" x2="437.2" y2="299.6" stroke="#222" stroke-width="1.2"/>
<rect x="447.8" y="273.5" width="14.2" height="22.1" fill="#060606" stroke="#444" stroke-width="0.8"/>
<line x1="454.9" y1="273.5" x2="454.9" y2="271.5" stroke="#555" stroke-width="1.0"/>
<line x1="451.4" y1="271.5" x2="458.4" y2="271.5" stroke="#555" stroke-width="1.0"/>
<line x1="454.9" y1="295.6" x2="454.9" y2="299.6" stroke="#222" stroke-width="1.2"/>
<rect x="465.5" y="279.6" width="14.1" height="16.0" fill="#060606" stroke="#444" stroke-width="0.8"/>
<line x1="472.6" y1="279.6" x2="472.6" y2="277.2" stroke="#555" stroke-width="1.0"/>
<line x1="469.1" y1="277.2" x2="476.1" y2="277.2" stroke="#555" stroke-width="1.0"/>
<line x1="472.6" y1="295.6" x2="472.6" y2="299.6" stroke="#222" stroke-width="1.2"/>
<rect x="484.4" y="256.0" width="14.4" height="39.6" fill="#a6a6a6" stroke="#444" stroke-width="0.8"/>
<line x1="491.6" y1="256.0" x2="491.6" y2="252.7" stroke="#555" stroke-width="1.0"/>
<line x1="488.1" y1="252.7" x2="495.1" y2="252.7" stroke="#555" stroke-width="1.0"/>
<line x1="491.6" y1="295.6" x2="491.6" y2="299.6" stroke="#222" stroke-width="1.2"/>
<rect x="502.4" y="246.2" width="14.1" height="49.4" fill="#a6a6a6" stroke="#444" stroke-width="0.8"/>
<line x1="509.4" y1="246.2" x2="509.4" y2="242.2" stroke="#555" stroke-width="1.0"/>
<line x1="505.9" y1="242.2" x2="513.0" y2="242.2" stroke="#555" stroke-width="1.0"/>
<line x1="509.4" y1="295.6" x2="509.4" y2="299.6" stroke="#222" stroke-width="1.2"/>
<rect x="520.1" y="258.1" width="14.1" height="37.5" fill="#a6a6a6" stroke="#444" stroke-width="0.8"/>
<line x1="527.2" y1="258.1" x2="527.2" y2="256.3" stroke="#555" stroke-width="1.0"/>
<line x1="523.7" y1="256.3" x2="530.7" y2="256.3" stroke="#555" stroke-width="1.0"/>
<line x1="527.2" y1="295.6" x2="527.2" y2="299.6" stroke="#222" stroke-width="1.2"/>
<polyline points="454.6,270.5 454.6,237.3 472.6,237.3 472.6,276.0" fill="none" stroke="#8a8a8a" stroke-width="1.0"/>
<text x="463.6" y="239.4" font-size="12.75" text-anchor="middle" fill="#111" stroke-width="0.6">*</text>
<polyline points="508.4,242.5 508.4,237.7 527.4,237.7 527.4,253.0" fill="none" stroke="#8a8a8a" stroke-width="1.0"/>
<text x="517.9" y="239.8" font-size="12.75" text-anchor="middle" fill="#111" stroke-width="0.6">**</text>
<text transform="translate(442.0,311.1) rotate(-45)" font-size="14.6" text-anchor="end" fill="#1a1a1a">Ctrl</text>
<text transform="translate(459.7,311.1) rotate(-45)" font-size="14.6" text-anchor="end" fill="#1a1a1a">TAMs</text>
<text transform="translate(477.4,311.1) rotate(-45)" font-size="14.6" text-anchor="end" fill="#1a1a1a">TAMs+Chr</text>
<text transform="translate(496.4,311.1) rotate(-45)" font-size="14.6" text-anchor="end" fill="#1a1a1a">Ctrl</text>
<text transform="translate(514.2,311.1) rotate(-45)" font-size="14.6" text-anchor="end" fill="#1a1a1a">TAMs</text>
<text transform="translate(532.0,311.1) rotate(-45)" font-size="14.6" text-anchor="end" fill="#1a1a1a">TAMs+Chr</text>
<text transform="translate(389.6,272.7) rotate(-90)" font-size="14" text-anchor="middle" fill="#1a1a1a" textLength="98" lengthAdjust="spacingAndGlyphs">Colony number</text>
<rect x="477.8" y="184.3" width="11.4" height="11.4" fill="#0d0d0d" stroke="#222" stroke-width="0.8"/>
<rect x="477.8" y="202.5" width="11.4" height="11.4" fill="#a4a4a4" stroke="#444" stroke-width="0.8"/>
<text x="495.2" y="195.2" font-size="14" text-anchor="start" fill="#1a1a1a" textLength="32.5" lengthAdjust="spacingAndGlyphs">A549</text>
<text x="495.2" y="213.4" font-size="14" text-anchor="start" fill="#1a1a1a" textLength="32.5" lengthAdjust="spacingAndGlyphs">H157</text>
<circle cx="219.8" cy="227.3" r="29.8" fill="#bdbbba" stroke="#a4a2a2" stroke-width="0.8"/>
<circle cx="214.9" cy="237.1" r="0.6" fill="#4a2644"/>
<circle cx="221.6" cy="235.4" r="0.7" fill="#1a0c18"/>
<circle cx="213.3" cy="225.1" r="0.7" fill="#603058"/>
<circle cx="197.5" cy="244.2" r="1.3" fill="#22101e"/>
<circle cx="217.2" cy="237.7" r="0.8" fill="#4a2644"/>
<circle cx="226.2" cy="230.0" r="1.1" fill="#4a2644"/>
<circle cx="205.5" cy="234.3" r="0.9" fill="#2c1628"/>
<circle cx="212.0" cy="251.3" r="0.7" fill="#1a0c18"/>
<circle cx="231.2" cy="243.5" r="1.1" fill="#1a0c18"/>
<circle cx="210.6" cy="249.0" r="1.0" fill="#3a1e34"/>
<circle cx="227.7" cy="230.9" r="1.1" fill="#603058"/>
<circle cx="242.0" cy="236.9" r="1.0" fill="#603058"/>
<circle cx="224.6" cy="235.7" r="1.3" fill="#2c1628"/>
<circle cx="229.5" cy="237.5" r="1.3" fill="#3a1e34"/>
<circle cx="216.6" cy="245.3" r="0.9" fill="#22101e"/>
<circle cx="226.7" cy="237.0" r="0.7" fill="#1a0c18"/>
<circle cx="198.2" cy="229.3" r="0.6" fill="#22101e"/>
<circle cx="204.8" cy="235.7" r="0.7" fill="#603058"/>
<circle cx="205.5" cy="237.9" r="0.9" fill="#1a0c18"/>
<circle cx="230.0" cy="253.5" r="0.6" fill="#2c1628"/>
<circle cx="192.9" cy="221.0" r="0.6" fill="#22101e"/>
<circle cx="211.6" cy="220.1" r="0.8" fill="#4a2644"/>
<circle cx="213.3" cy="234.8" r="0.9" fill="#3a1e34"/>
<circle cx="211.5" cy="228.1" r="0.8" fill="#603058"/>
<circle cx="217.4" cy="253.0" r="0.6" fill="#22101e"/>
<circle cx="215.3" cy="226.1" r="1.1" fill="#1a0c18"/>
<circle cx="232.2" cy="248.9" r="1.3" fill="#4a2644"/>
<circle cx="213.4" cy="239.0" r="1.3" fill="#22101e"/>
<circle cx="222.8" cy="247.5" r="0.6" fill="#1a0c18"/>
<circle cx="227.7" cy="231.7" r="0.8" fill="#22101e"/>
<circle cx="191.9" cy="230.4" r="0.6" fill="#3a1e34"/>
<circle cx="199.1" cy="236.4" r="1.1" fill="#3a1e34"/>
<circle cx="196.0" cy="232.9" r="0.7" fill="#22101e"/>
<circle cx="197.4" cy="232.3" r="1.0" fill="#3a1e34"/>
<circle cx="195.6" cy="238.0" r="0.7" fill="#1a0c18"/>
<circle cx="219.6" cy="242.6" r="1.0" fill="#2c1628"/>
<circle cx="218.7" cy="245.6" r="1.1" fill="#2c1628"/>
<circle cx="194.2" cy="224.6" r="0.7" fill="#4a2644"/>
<circle cx="226.1" cy="235.9" r="0.6" fill="#4a2644"/>
<circle cx="195.0" cy="230.0" r="0.6" fill="#22101e"/>
<circle cx="221.9" cy="232.7" r="0.9" fill="#4a2644"/>
<circle cx="246.2" cy="232.0" r="0.8" fill="#4a2644"/>
<circle cx="216.4" cy="247.2" r="1.0" fill="#22101e"/>
<circle cx="218.5" cy="248.4" r="1.3" fill="#3a1e34"/>
<circle cx="226.2" cy="234.8" r="0.6" fill="#603058"/>
<circle cx="220.3" cy="234.9" r="1.3" fill="#1a0c18"/>
<circle cx="203.9" cy="239.1" r="1.3" fill="#22101e"/>
<circle cx="229.6" cy="243.1" r="0.8" fill="#3a1e34"/>
<circle cx="225.1" cy="242.4" r="0.6" fill="#2c1628"/>
<circle cx="202.1" cy="221.0" r="0.8" fill="#4a2644"/>
<circle cx="205.4" cy="213.1" r="1.3" fill="#22101e"/>
<circle cx="228.8" cy="225.7" r="0.6" fill="#22101e"/>
<circle cx="218.5" cy="237.4" r="1.1" fill="#2c1628"/>
<circle cx="202.6" cy="238.9" r="0.9" fill="#603058"/>
<circle cx="212.8" cy="240.5" r="0.7" fill="#3a1e34"/>
<circle cx="231.4" cy="218.3" r="0.6" fill="#2c1628"/>
<circle cx="242.5" cy="240.5" r="1.3" fill="#1a0c18"/>
<circle cx="204.0" cy="232.0" r="0.8" fill="#4a2644"/>
<circle cx="233.9" cy="242.2" r="0.6" fill="#22101e"/>
<circle cx="205.6" cy="212.4" r="0.9" fill="#4a2644"/>
<circle cx="225.2" cy="227.1" r="1.0" fill="#4a2644"/>
<circle cx="198.1" cy="234.8" r="1.1" fill="#3a1e34"/>
<circle cx="215.1" cy="239.6" r="0.7" fill="#603058"/>
<circle cx="245.5" cy="224.4" r="1.1" fill="#603058"/>
<circle cx="233.3" cy="214.6" r="1.1" fill="#3a1e34"/>
<circle cx="220.5" cy="242.6" r="0.7" fill="#2c1628"/>
<circle cx="207.1" cy="227.1" r="0.6" fill="#1a0c18"/>
<circle cx="219.0" cy="235.7" r="0.6" fill="#3a1e34"/>
<circle cx="235.3" cy="229.5" r="1.0" fill="#4a2644"/>
<circle cx="220.3" cy="241.8" r="0.6" fill="#603058"/>
<circle cx="244.2" cy="216.3" r="1.0" fill="#1a0c18"/>
<circle cx="222.6" cy="250.0" r="1.3" fill="#3a1e34"/>
<circle cx="243.7" cy="239.8" r="0.6" fill="#4a2644"/>
<circle cx="208.6" cy="247.2" r="1.0" fill="#4a2644"/>
<circle cx="232.9" cy="241.9" r="1.1" fill="#1a0c18"/>
<circle cx="282.0" cy="227.3" r="29.8" fill="#bdbbba" stroke="#a4a2a2" stroke-width="0.8"/>
<circle cx="273.7" cy="205.5" r="0.8" fill="#603058"/>
<circle cx="262.8" cy="225.3" r="0.9" fill="#1a0c18"/>
<circle cx="303.0" cy="226.4" r="0.8" fill="#1a0c18"/>
<circle cx="285.4" cy="225.8" r="0.9" fill="#1a0c18"/>
<circle cx="293.8" cy="202.1" r="0.9" fill="#2c1628"/>
<circle cx="261.5" cy="245.0" r="0.7" fill="#1a0c18"/>
<circle cx="272.7" cy="222.1" r="1.0" fill="#2c1628"/>
<circle cx="291.9" cy="224.3" r="1.3" fill="#603058"/>
<circle cx="255.4" cy="225.8" r="1.1" fill="#2c1628"/>
<circle cx="285.1" cy="253.9" r="0.9" fill="#3a1e34"/>
<circle cx="283.7" cy="227.6" r="0.9" fill="#603058"/>
<circle cx="267.2" cy="232.0" r="0.7" fill="#3a1e34"/>
<circle cx="273.1" cy="240.5" r="1.3" fill="#2c1628"/>
<circle cx="306.5" cy="227.6" r="1.3" fill="#3a1e34"/>
<circle cx="301.9" cy="246.0" r="1.1" fill="#1a0c18"/>
<circle cx="294.4" cy="218.5" r="0.8" fill="#1a0c18"/>
<circle cx="259.9" cy="244.9" r="1.0" fill="#1a0c18"/>
<circle cx="270.1" cy="241.5" r="0.8" fill="#1a0c18"/>
<circle cx="280.8" cy="233.6" r="1.1" fill="#2c1628"/>
<circle cx="274.8" cy="219.1" r="0.8" fill="#3a1e34"/>
<circle cx="269.7" cy="226.5" r="0.8" fill="#3a1e34"/>
<circle cx="301.1" cy="210.3" r="1.1" fill="#3a1e34"/>
<circle cx="305.5" cy="213.1" r="1.0" fill="#22101e"/>
<circle cx="280.8" cy="221.1" r="1.1" fill="#3a1e34"/>
<circle cx="258.6" cy="234.8" r="1.1" fill="#2c1628"/>
<circle cx="255.1" cy="229.7" r="1.0" fill="#22101e"/>
<circle cx="290.7" cy="243.3" r="0.8" fill="#2c1628"/>
<circle cx="281.1" cy="251.6" r="1.1" fill="#2c1628"/>
<circle cx="270.5" cy="235.0" r="0.9" fill="#4a2644"/>
<circle cx="277.2" cy="218.7" r="1.1" fill="#22101e"/>
<circle cx="299.8" cy="236.4" r="1.3" fill="#3a1e34"/>
<circle cx="263.9" cy="221.4" r="0.8" fill="#3a1e34"/>
<circle cx="263.2" cy="236.5" r="0.7" fill="#1a0c18"/>
<circle cx="291.6" cy="246.1" r="0.8" fill="#22101e"/>
<circle cx="264.8" cy="246.1" r="0.7" fill="#1a0c18"/>
<circle cx="282.0" cy="209.1" r="0.9" fill="#603058"/>
<circle cx="264.8" cy="224.7" r="0.8" fill="#1a0c18"/>
<circle cx="260.5" cy="227.5" r="0.8" fill="#22101e"/>
<circle cx="274.0" cy="208.3" r="1.3" fill="#22101e"/>
<circle cx="304.4" cy="242.0" r="0.9" fill="#3a1e34"/>
<circle cx="270.7" cy="212.5" r="0.8" fill="#1a0c18"/>
<circle cx="294.9" cy="240.5" r="1.3" fill="#3a1e34"/>
<circle cx="301.4" cy="223.4" r="0.6" fill="#3a1e34"/>
<circle cx="306.7" cy="215.7" r="1.0" fill="#3a1e34"/>
<circle cx="295.9" cy="224.9" r="0.6" fill="#22101e"/>
<circle cx="293.6" cy="244.2" r="1.1" fill="#1a0c18"/>
<circle cx="304.4" cy="218.7" r="1.1" fill="#3a1e34"/>
<circle cx="303.5" cy="240.0" r="0.6" fill="#22101e"/>
<circle cx="285.0" cy="254.3" r="1.1" fill="#603058"/>
<circle cx="278.6" cy="236.9" r="0.8" fill="#4a2644"/>
<circle cx="266.5" cy="209.4" r="0.6" fill="#1a0c18"/>
<circle cx="300.5" cy="236.1" r="1.0" fill="#22101e"/>
<circle cx="271.8" cy="236.0" r="1.0" fill="#1a0c18"/>
<circle cx="297.5" cy="228.3" r="0.9" fill="#2c1628"/>
<circle cx="304.0" cy="221.5" r="0.7" fill="#3a1e34"/>
<circle cx="261.3" cy="223.9" r="0.6" fill="#3a1e34"/>
<circle cx="277.6" cy="212.2" r="0.6" fill="#22101e"/>
<circle cx="258.8" cy="227.5" r="0.9" fill="#1a0c18"/>
<circle cx="280.9" cy="250.4" r="0.8" fill="#22101e"/>
<circle cx="258.4" cy="228.3" r="1.1" fill="#3a1e34"/>
<circle cx="270.4" cy="240.9" r="0.6" fill="#2c1628"/>
<circle cx="280.6" cy="207.2" r="0.7" fill="#3a1e34"/>
<circle cx="297.5" cy="224.3" r="1.3" fill="#22101e"/>
<circle cx="283.6" cy="240.5" r="1.3" fill="#2c1628"/>
<circle cx="299.3" cy="241.4" r="1.0" fill="#22101e"/>
<circle cx="297.7" cy="215.4" r="1.1" fill="#1a0c18"/>
<circle cx="292.3" cy="223.9" r="0.9" fill="#1a0c18"/>
<circle cx="288.4" cy="254.5" r="0.7" fill="#3a1e34"/>
<circle cx="288.6" cy="229.5" r="0.9" fill="#3a1e34"/>
<circle cx="303.3" cy="211.4" r="1.1" fill="#1a0c18"/>
<circle cx="309.3" cy="226.9" r="0.8" fill="#22101e"/>
<circle cx="292.8" cy="252.5" r="1.1" fill="#3a1e34"/>
<circle cx="304.6" cy="231.9" r="0.9" fill="#2c1628"/>
<circle cx="300.7" cy="225.5" r="0.6" fill="#1a0c18"/>
<circle cx="289.1" cy="231.1" r="0.9" fill="#1a0c18"/>
<circle cx="259.1" cy="218.1" r="0.9" fill="#2c1628"/>
<circle cx="283.8" cy="211.7" r="1.3" fill="#3a1e34"/>
<circle cx="302.3" cy="239.8" r="0.7" fill="#2c1628"/>
<circle cx="263.7" cy="222.4" r="0.8" fill="#2c1628"/>
<circle cx="280.4" cy="207.9" r="1.1" fill="#3a1e34"/>
<circle cx="282.3" cy="249.7" r="0.9" fill="#1a0c18"/>
<circle cx="268.3" cy="240.9" r="1.3" fill="#1a0c18"/>
<circle cx="280.9" cy="251.7" r="1.0" fill="#2c1628"/>
<circle cx="271.3" cy="239.7" r="1.0" fill="#1a0c18"/>
<circle cx="280.2" cy="251.2" r="0.8" fill="#2c1628"/>
<circle cx="274.9" cy="250.3" r="1.0" fill="#603058"/>
<circle cx="288.8" cy="224.9" r="1.3" fill="#22101e"/>
<circle cx="300.7" cy="242.2" r="0.9" fill="#3a1e34"/>
<circle cx="288.7" cy="201.1" r="1.3" fill="#3a1e34"/>
<circle cx="295.4" cy="242.1" r="0.6" fill="#603058"/>
<circle cx="274.3" cy="249.5" r="0.7" fill="#4a2644"/>
<circle cx="284.3" cy="253.5" r="0.9" fill="#2c1628"/>
<circle cx="286.6" cy="205.9" r="1.0" fill="#22101e"/>
<circle cx="273.2" cy="234.4" r="0.9" fill="#1a0c18"/>
<circle cx="270.4" cy="211.4" r="1.0" fill="#2c1628"/>
<circle cx="291.8" cy="243.0" r="0.6" fill="#1a0c18"/>
<circle cx="281.2" cy="235.5" r="0.6" fill="#3a1e34"/>
<circle cx="258.2" cy="227.5" r="0.9" fill="#22101e"/>
<circle cx="283.8" cy="245.5" r="1.0" fill="#603058"/>
<circle cx="284.0" cy="248.0" r="1.3" fill="#603058"/>
<circle cx="283.5" cy="202.3" r="0.8" fill="#2c1628"/>
<circle cx="279.3" cy="241.7" r="0.8" fill="#603058"/>
<circle cx="280.8" cy="246.0" r="0.7" fill="#22101e"/>
<circle cx="283.4" cy="242.3" r="1.0" fill="#22101e"/>
<circle cx="273.8" cy="243.1" r="0.7" fill="#4a2644"/>
<circle cx="259.5" cy="223.5" r="0.6" fill="#603058"/>
<circle cx="276.7" cy="228.5" r="0.6" fill="#3a1e34"/>
<circle cx="292.1" cy="218.2" r="0.9" fill="#2c1628"/>
<circle cx="296.9" cy="231.1" r="0.6" fill="#1a0c18"/>
<circle cx="292.3" cy="253.2" r="1.0" fill="#22101e"/>
<circle cx="297.6" cy="220.0" r="1.3" fill="#22101e"/>
<circle cx="268.3" cy="231.8" r="1.3" fill="#603058"/>
<circle cx="290.7" cy="224.2" r="1.0" fill="#603058"/>
<circle cx="272.4" cy="218.3" r="0.8" fill="#2c1628"/>
<circle cx="290.1" cy="237.2" r="0.8" fill="#1a0c18"/>
<circle cx="263.5" cy="213.9" r="0.7" fill="#1a0c18"/>
<circle cx="289.6" cy="210.9" r="0.8" fill="#22101e"/>
<circle cx="276.3" cy="221.9" r="0.6" fill="#3a1e34"/>
<circle cx="275.2" cy="225.2" r="0.6" fill="#3a1e34"/>
<circle cx="276.3" cy="217.8" r="1.0" fill="#1a0c18"/>
<circle cx="271.8" cy="212.7" r="0.8" fill="#3a1e34"/>
<circle cx="305.1" cy="225.6" r="0.9" fill="#1a0c18"/>
<circle cx="273.9" cy="247.0" r="0.8" fill="#3a1e34"/>
<circle cx="259.2" cy="240.5" r="1.3" fill="#2c1628"/>
<circle cx="271.1" cy="213.4" r="0.9" fill="#22101e"/>
<circle cx="344.2" cy="227.3" r="29.8" fill="#bdbbba" stroke="#a4a2a2" stroke-width="0.8"/>
<circle cx="361.6" cy="220.7" r="0.7" fill="#3a1e34"/>
<circle cx="350.6" cy="232.9" r="1.0" fill="#2c1628"/>
<circle cx="333.1" cy="230.1" r="0.6" fill="#1a0c18"/>
<circle cx="322.7" cy="220.1" r="0.9" fill="#1a0c18"/>
<circle cx="319.7" cy="215.3" r="1.1" fill="#4a2644"/>
<circle cx="352.1" cy="242.0" r="0.7" fill="#4a2644"/>
<circle cx="347.7" cy="233.8" r="0.9" fill="#3a1e34"/>
<circle cx="344.8" cy="202.1" r="1.3" fill="#22101e"/>
<circle cx="335.9" cy="251.9" r="0.6" fill="#3a1e34"/>
<circle cx="335.5" cy="247.6" r="1.1" fill="#3a1e34"/>
<circle cx="364.7" cy="239.6" r="1.1" fill="#22101e"/>
<circle cx="327.5" cy="207.1" r="1.0" fill="#3a1e34"/>
<circle cx="334.8" cy="219.0" r="0.9" fill="#22101e"/>
<circle cx="338.9" cy="225.0" r="1.0" fill="#22101e"/>
<circle cx="336.8" cy="233.9" r="0.7" fill="#603058"/>
<circle cx="349.2" cy="215.9" r="1.0" fill="#603058"/>
<circle cx="369.4" cy="233.5" r="0.6" fill="#3a1e34"/>
<circle cx="327.2" cy="215.0" r="1.1" fill="#2c1628"/>
<circle cx="334.9" cy="214.6" r="0.7" fill="#3a1e34"/>
<circle cx="331.0" cy="238.3" r="1.0" fill="#3a1e34"/>
<circle cx="344.9" cy="228.8" r="0.9" fill="#3a1e34"/>
<circle cx="346.5" cy="251.9" r="1.3" fill="#3a1e34"/>
<circle cx="357.4" cy="205.5" r="0.9" fill="#1a0c18"/>
<circle cx="359.7" cy="234.2" r="0.8" fill="#1a0c18"/>
<circle cx="350.7" cy="208.3" r="1.1" fill="#1a0c18"/>
<circle cx="354.1" cy="229.9" r="1.1" fill="#2c1628"/>
<circle cx="347.7" cy="207.4" r="0.6" fill="#4a2644"/>
<circle cx="362.3" cy="213.3" r="1.3" fill="#22101e"/>
<circle cx="351.4" cy="228.5" r="1.0" fill="#603058"/>
<circle cx="340.9" cy="218.5" r="0.7" fill="#3a1e34"/>
<circle cx="338.2" cy="252.1" r="1.3" fill="#22101e"/>
<circle cx="334.8" cy="205.2" r="0.7" fill="#1a0c18"/>
<circle cx="355.2" cy="208.1" r="0.8" fill="#22101e"/>
<circle cx="334.3" cy="247.1" r="1.3" fill="#3a1e34"/>
<circle cx="356.6" cy="243.0" r="0.9" fill="#22101e"/>
<circle cx="325.6" cy="215.2" r="0.7" fill="#2c1628"/>
<circle cx="335.4" cy="236.4" r="0.9" fill="#22101e"/>
<circle cx="334.4" cy="216.0" r="0.8" fill="#3a1e34"/>
<circle cx="356.5" cy="249.2" r="0.6" fill="#4a2644"/>
<circle cx="369.2" cy="235.2" r="1.3" fill="#3a1e34"/>
<circle cx="323.9" cy="220.0" r="0.6" fill="#2c1628"/>
<circle cx="366.6" cy="226.3" r="0.9" fill="#603058"/>
<circle cx="348.5" cy="213.4" r="0.8" fill="#4a2644"/>
<circle cx="354.1" cy="240.2" r="0.6" fill="#3a1e34"/>
<circle cx="347.0" cy="249.3" r="0.6" fill="#2c1628"/>
<circle cx="350.3" cy="214.4" r="1.1" fill="#4a2644"/>
<circle cx="368.3" cy="215.7" r="1.1" fill="#1a0c18"/>
<circle cx="344.0" cy="214.0" r="0.8" fill="#4a2644"/>
<circle cx="331.3" cy="214.3" r="0.8" fill="#1a0c18"/>
<circle cx="353.3" cy="237.3" r="1.1" fill="#1a0c18"/>
<circle cx="345.6" cy="227.5" r="0.8" fill="#2c1628"/>
<circle cx="357.5" cy="237.8" r="0.7" fill="#3a1e34"/>
<circle cx="325.4" cy="216.4" r="0.7" fill="#2c1628"/>
<circle cx="330.3" cy="213.6" r="0.7" fill="#1a0c18"/>
<circle cx="357.1" cy="221.9" r="0.7" fill="#3a1e34"/>
<circle cx="362.8" cy="240.1" r="1.3" fill="#603058"/>
<circle cx="347.8" cy="209.7" r="0.8" fill="#1a0c18"/>
<circle cx="368.3" cy="236.2" r="0.8" fill="#4a2644"/>
<circle cx="332.7" cy="212.4" r="1.0" fill="#603058"/>
<circle cx="332.7" cy="227.8" r="0.6" fill="#1a0c18"/>
<circle cx="348.4" cy="229.0" r="0.7" fill="#22101e"/>
<circle cx="358.8" cy="250.1" r="0.6" fill="#1a0c18"/>
<circle cx="326.8" cy="212.4" r="0.7" fill="#22101e"/>
<circle cx="326.8" cy="237.9" r="1.1" fill="#4a2644"/>
<circle cx="333.3" cy="212.7" r="1.0" fill="#22101e"/>
<circle cx="337.1" cy="226.9" r="1.1" fill="#1a0c18"/>
<circle cx="368.3" cy="226.4" r="0.9" fill="#603058"/>
<circle cx="327.4" cy="223.2" r="0.9" fill="#603058"/>
<circle cx="351.0" cy="223.1" r="1.1" fill="#3a1e34"/>
<circle cx="357.0" cy="252.5" r="0.8" fill="#22101e"/>
<circle cx="338.1" cy="219.5" r="1.1" fill="#603058"/>
<circle cx="357.8" cy="222.2" r="0.6" fill="#2c1628"/>
<circle cx="328.9" cy="209.7" r="1.1" fill="#4a2644"/>
<circle cx="359.4" cy="224.6" r="0.7" fill="#1a0c18"/>
<circle cx="346.7" cy="224.9" r="0.8" fill="#22101e"/>
<circle cx="351.1" cy="216.6" r="0.7" fill="#603058"/>
<circle cx="354.9" cy="221.0" r="0.9" fill="#2c1628"/>
<circle cx="330.2" cy="216.9" r="1.3" fill="#603058"/>
<circle cx="368.9" cy="214.0" r="1.3" fill="#4a2644"/>
<circle cx="318.7" cy="232.2" r="1.1" fill="#1a0c18"/>
<circle cx="355.9" cy="212.7" r="1.1" fill="#22101e"/>
<circle cx="330.0" cy="220.6" r="0.7" fill="#3a1e34"/>
<circle cx="338.5" cy="221.8" r="0.7" fill="#22101e"/>
<circle cx="353.5" cy="229.2" r="1.0" fill="#22101e"/>
<circle cx="338.2" cy="236.1" r="0.6" fill="#1a0c18"/>
<circle cx="367.0" cy="233.4" r="1.1" fill="#1a0c18"/>
<circle cx="336.3" cy="204.3" r="0.6" fill="#4a2644"/>
<circle cx="345.1" cy="214.7" r="1.3" fill="#4a2644"/>
<circle cx="349.8" cy="222.7" r="1.3" fill="#603058"/>
<circle cx="352.9" cy="224.1" r="0.7" fill="#22101e"/>
<circle cx="348.2" cy="230.7" r="1.3" fill="#603058"/>
<circle cx="365.1" cy="240.1" r="1.1" fill="#2c1628"/>
<circle cx="334.0" cy="228.8" r="1.3" fill="#603058"/>
<circle cx="348.7" cy="242.7" r="0.9" fill="#2c1628"/>
<circle cx="358.4" cy="229.2" r="0.8" fill="#1a0c18"/>
<circle cx="219.7" cy="302.3" r="30.1" fill="#bdbbba" stroke="#a4a2a2" stroke-width="0.8"/>
<circle cx="216.0" cy="285.4" r="0.55" fill="#3a1a35"/>
<circle cx="193.3" cy="301.7" r="0.75" fill="#7a3a6e"/>
<circle cx="237.7" cy="305.9" r="0.65" fill="#3a1a35"/>
<circle cx="222.1" cy="285.6" r="0.85" fill="#552a4e"/>
<circle cx="206.8" cy="299.2" r="0.45" fill="#3a1a35"/>
<circle cx="224.7" cy="291.6" r="0.45" fill="#3a1a35"/>
<circle cx="227.1" cy="326.1" r="0.45" fill="#552a4e"/>
<circle cx="214.6" cy="309.5" r="0.85" fill="#66305e"/>
<circle cx="241.2" cy="297.8" r="0.75" fill="#45203e"/>
<circle cx="209.6" cy="296.9" r="0.5" fill="#7a3a6e"/>
<circle cx="221.0" cy="313.9" r="0.85" fill="#552a4e"/>
<circle cx="191.3" cy="304.0" r="0.75" fill="#552a4e"/>
<circle cx="207.9" cy="290.0" r="0.65" fill="#74406c"/>
<circle cx="238.9" cy="286.8" r="0.65" fill="#7a3a6e"/>
<circle cx="232.5" cy="304.3" r="0.55" fill="#74406c"/>
<circle cx="236.2" cy="290.5" r="0.65" fill="#7a3a6e"/>
<circle cx="221.7" cy="321.6" r="0.75" fill="#3a1a35"/>
<circle cx="220.4" cy="277.5" r="0.85" fill="#552a4e"/>
<circle cx="210.2" cy="315.6" r="0.5" fill="#74406c"/>
<circle cx="206.8" cy="281.3" r="0.5" fill="#74406c"/>
<circle cx="196.4" cy="311.7" r="0.75" fill="#66305e"/>
<circle cx="233.4" cy="316.1" r="0.85" fill="#66305e"/>
<circle cx="204.9" cy="301.6" r="0.85" fill="#3a1a35"/>
<circle cx="226.1" cy="311.6" r="0.5" fill="#7a3a6e"/>
<circle cx="210.1" cy="320.6" r="0.5" fill="#66305e"/>
<circle cx="213.8" cy="313.3" r="0.85" fill="#552a4e"/>
<circle cx="231.6" cy="322.2" r="0.5" fill="#74406c"/>
<circle cx="226.1" cy="311.2" r="0.55" fill="#7a3a6e"/>
<circle cx="215.3" cy="316.6" r="0.45" fill="#7a3a6e"/>
<circle cx="232.6" cy="294.3" r="0.65" fill="#74406c"/>
<circle cx="237.4" cy="306.1" r="0.65" fill="#7a3a6e"/>
<circle cx="224.6" cy="330.2" r="0.55" fill="#74406c"/>
<circle cx="234.1" cy="304.3" r="0.85" fill="#74406c"/>
<circle cx="233.8" cy="302.8" r="0.65" fill="#7a3a6e"/>
<circle cx="197.6" cy="291.2" r="0.65" fill="#66305e"/>
<circle cx="208.3" cy="282.2" r="0.85" fill="#7a3a6e"/>
<circle cx="207.9" cy="295.4" r="0.5" fill="#7a3a6e"/>
<circle cx="233.1" cy="315.5" r="0.55" fill="#7a3a6e"/>
<circle cx="211.4" cy="276.5" r="0.5" fill="#74406c"/>
<circle cx="214.5" cy="280.2" r="0.55" fill="#74406c"/>
<circle cx="215.7" cy="302.7" r="0.65" fill="#3a1a35"/>
<circle cx="207.2" cy="277.7" r="0.5" fill="#7a3a6e"/>
<circle cx="218.3" cy="304.9" r="0.65" fill="#552a4e"/>
<circle cx="240.2" cy="307.3" r="0.5" fill="#7a3a6e"/>
<circle cx="225.2" cy="275.1" r="0.75" fill="#45203e"/>
<circle cx="237.1" cy="315.2" r="0.75" fill="#66305e"/>
<circle cx="215.5" cy="282.3" r="0.85" fill="#45203e"/>
<circle cx="201.6" cy="299.8" r="0.65" fill="#66305e"/>
<circle cx="231.9" cy="301.6" r="0.75" fill="#552a4e"/>
<circle cx="216.8" cy="280.1" r="0.85" fill="#552a4e"/>
<circle cx="219.4" cy="320.0" r="0.45" fill="#552a4e"/>
<circle cx="244.1" cy="314.7" r="0.85" fill="#7a3a6e"/>
<circle cx="209.8" cy="282.9" r="0.45" fill="#66305e"/>
<circle cx="213.7" cy="319.4" r="0.75" fill="#66305e"/>
<circle cx="247.7" cy="301.3" r="0.65" fill="#66305e"/>
<circle cx="233.8" cy="326.0" r="0.45" fill="#7a3a6e"/>
<circle cx="227.7" cy="323.8" r="0.85" fill="#66305e"/>
<circle cx="224.0" cy="292.3" r="0.85" fill="#7a3a6e"/>
<circle cx="232.1" cy="280.0" r="0.65" fill="#74406c"/>
<circle cx="244.6" cy="301.7" r="0.85" fill="#66305e"/>
<circle cx="223.4" cy="283.1" r="0.5" fill="#45203e"/>
<circle cx="213.0" cy="279.6" r="0.65" fill="#7a3a6e"/>
<circle cx="220.3" cy="303.7" r="0.85" fill="#45203e"/>
<circle cx="205.2" cy="320.3" r="0.55" fill="#74406c"/>
<circle cx="197.2" cy="304.4" r="0.45" fill="#7a3a6e"/>
<circle cx="228.6" cy="295.6" r="0.55" fill="#74406c"/>
<circle cx="244.1" cy="311.4" r="0.55" fill="#66305e"/>
<circle cx="203.2" cy="299.1" r="0.75" fill="#552a4e"/>
<circle cx="212.5" cy="291.4" r="0.45" fill="#7a3a6e"/>
<circle cx="213.7" cy="323.8" r="0.75" fill="#66305e"/>
<circle cx="227.2" cy="292.5" r="0.65" fill="#45203e"/>
<circle cx="222.5" cy="289.6" r="0.65" fill="#3a1a35"/>
<circle cx="233.0" cy="325.8" r="0.75" fill="#552a4e"/>
<circle cx="206.4" cy="278.7" r="0.85" fill="#45203e"/>
<circle cx="227.4" cy="324.8" r="0.75" fill="#552a4e"/>
<circle cx="218.7" cy="283.4" r="0.45" fill="#3a1a35"/>
<circle cx="233.3" cy="314.8" r="0.5" fill="#74406c"/>
<circle cx="212.8" cy="302.6" r="0.65" fill="#66305e"/>
<circle cx="215.3" cy="288.8" r="0.5" fill="#3a1a35"/>
<circle cx="199.8" cy="287.9" r="0.5" fill="#45203e"/>
<circle cx="198.7" cy="306.6" r="0.85" fill="#45203e"/>
<circle cx="229.1" cy="287.5" r="0.65" fill="#7a3a6e"/>
<circle cx="240.0" cy="312.7" r="0.85" fill="#7a3a6e"/>
<circle cx="241.7" cy="306.3" r="0.85" fill="#7a3a6e"/>
<circle cx="234.6" cy="295.4" r="0.45" fill="#3a1a35"/>
<circle cx="194.9" cy="304.8" r="0.5" fill="#552a4e"/>
<circle cx="223.9" cy="320.2" r="0.5" fill="#45203e"/>
<circle cx="238.9" cy="315.3" r="0.55" fill="#74406c"/>
<circle cx="223.5" cy="281.4" r="0.5" fill="#45203e"/>
<circle cx="202.6" cy="309.7" r="0.75" fill="#552a4e"/>
<circle cx="226.9" cy="288.6" r="0.65" fill="#74406c"/>
<circle cx="205.5" cy="326.8" r="0.75" fill="#45203e"/>
<circle cx="242.5" cy="298.7" r="0.45" fill="#45203e"/>
<circle cx="228.3" cy="324.9" r="0.5" fill="#3a1a35"/>
<circle cx="228.0" cy="300.9" r="0.45" fill="#74406c"/>
<circle cx="215.1" cy="275.8" r="0.75" fill="#3a1a35"/>
<circle cx="234.6" cy="307.1" r="0.45" fill="#552a4e"/>
<circle cx="229.8" cy="327.8" r="0.75" fill="#7a3a6e"/>
<circle cx="238.5" cy="309.8" r="0.75" fill="#3a1a35"/>
<circle cx="211.9" cy="310.0" r="0.85" fill="#7a3a6e"/>
<circle cx="209.7" cy="277.5" r="0.45" fill="#66305e"/>
<circle cx="241.8" cy="307.9" r="0.85" fill="#66305e"/>
<circle cx="229.5" cy="309.5" r="0.45" fill="#74406c"/>
<circle cx="223.9" cy="275.3" r="0.85" fill="#552a4e"/>
<circle cx="202.1" cy="321.3" r="0.55" fill="#3a1a35"/>
<circle cx="213.1" cy="276.6" r="0.5" fill="#74406c"/>
<circle cx="223.7" cy="303.2" r="0.75" fill="#7a3a6e"/>
<circle cx="195.6" cy="289.4" r="0.65" fill="#3a1a35"/>
<circle cx="194.0" cy="298.7" r="0.65" fill="#3a1a35"/>
<circle cx="213.6" cy="285.2" r="0.45" fill="#552a4e"/>
<circle cx="210.3" cy="282.4" r="0.85" fill="#66305e"/>
<circle cx="201.6" cy="305.1" r="0.45" fill="#552a4e"/>
<circle cx="211.6" cy="291.9" r="0.5" fill="#7a3a6e"/>
<circle cx="221.7" cy="302.5" r="0.85" fill="#7a3a6e"/>
<circle cx="240.0" cy="321.8" r="0.45" fill="#66305e"/>
<circle cx="226.7" cy="294.8" r="0.45" fill="#45203e"/>
<circle cx="217.0" cy="288.5" r="0.85" fill="#7a3a6e"/>
<circle cx="222.2" cy="308.2" r="0.85" fill="#7a3a6e"/>
<circle cx="216.0" cy="292.1" r="0.45" fill="#45203e"/>
<circle cx="203.1" cy="284.9" r="0.65" fill="#7a3a6e"/>
<circle cx="232.8" cy="296.4" r="0.45" fill="#7a3a6e"/>
<circle cx="226.6" cy="303.7" r="0.85" fill="#7a3a6e"/>
<circle cx="223.0" cy="294.9" r="0.55" fill="#45203e"/>
<circle cx="218.2" cy="290.7" r="0.65" fill="#3a1a35"/>
<circle cx="235.8" cy="308.7" r="0.75" fill="#7a3a6e"/>
<circle cx="197.9" cy="311.1" r="0.5" fill="#552a4e"/>
<circle cx="204.7" cy="319.7" r="0.85" fill="#74406c"/>
<circle cx="194.7" cy="305.9" r="0.65" fill="#45203e"/>
<circle cx="224.3" cy="281.3" r="0.55" fill="#45203e"/>
<circle cx="245.9" cy="312.8" r="0.85" fill="#3a1a35"/>
<circle cx="208.7" cy="321.7" r="0.45" fill="#66305e"/>
<circle cx="206.9" cy="292.9" r="0.65" fill="#66305e"/>
<circle cx="202.8" cy="318.9" r="0.75" fill="#66305e"/>
<circle cx="225.1" cy="288.1" r="0.45" fill="#45203e"/>
<circle cx="218.2" cy="320.8" r="0.75" fill="#552a4e"/>
<circle cx="217.1" cy="312.7" r="0.75" fill="#66305e"/>
<circle cx="215.8" cy="328.4" r="0.75" fill="#7a3a6e"/>
<circle cx="223.1" cy="282.4" r="0.75" fill="#552a4e"/>
<circle cx="200.4" cy="297.4" r="0.65" fill="#66305e"/>
<circle cx="225.4" cy="278.7" r="0.5" fill="#45203e"/>
<circle cx="201.3" cy="287.7" r="0.65" fill="#7a3a6e"/>
<circle cx="223.6" cy="316.2" r="0.45" fill="#74406c"/>
<circle cx="211.5" cy="304.4" r="0.55" fill="#552a4e"/>
<circle cx="222.0" cy="323.9" r="0.55" fill="#3a1a35"/>
<circle cx="210.9" cy="320.7" r="0.5" fill="#66305e"/>
<circle cx="221.7" cy="310.7" r="0.85" fill="#45203e"/>
<circle cx="205.7" cy="318.6" r="0.65" fill="#3a1a35"/>
<circle cx="228.5" cy="291.2" r="0.65" fill="#45203e"/>
<circle cx="231.3" cy="289.3" r="0.65" fill="#552a4e"/>
<circle cx="232.0" cy="320.7" r="0.55" fill="#45203e"/>
<circle cx="215.6" cy="301.8" r="0.45" fill="#66305e"/>
<circle cx="246.3" cy="300.7" r="0.65" fill="#3a1a35"/>
<circle cx="206.4" cy="296.3" r="0.55" fill="#74406c"/>
<circle cx="235.4" cy="313.3" r="0.75" fill="#3a1a35"/>
<circle cx="233.7" cy="299.0" r="0.45" fill="#45203e"/>
<circle cx="223.4" cy="313.9" r="0.45" fill="#552a4e"/>
<circle cx="240.0" cy="309.0" r="0.85" fill="#74406c"/>
<circle cx="193.5" cy="304.5" r="0.45" fill="#3a1a35"/>
<circle cx="202.2" cy="281.2" r="0.85" fill="#552a4e"/>
<circle cx="218.7" cy="323.8" r="0.85" fill="#552a4e"/>
<circle cx="242.2" cy="296.0" r="0.65" fill="#66305e"/>
<circle cx="208.9" cy="305.9" r="0.5" fill="#7a3a6e"/>
<circle cx="220.7" cy="307.8" r="0.55" fill="#45203e"/>
<circle cx="239.5" cy="310.0" r="0.45" fill="#552a4e"/>
<circle cx="218.7" cy="322.8" r="0.85" fill="#7a3a6e"/>
<circle cx="221.2" cy="282.5" r="0.45" fill="#66305e"/>
<circle cx="218.8" cy="304.3" r="0.5" fill="#7a3a6e"/>
<circle cx="219.5" cy="280.3" r="0.65" fill="#7a3a6e"/>
<circle cx="232.5" cy="312.3" r="0.55" fill="#74406c"/>
<circle cx="233.8" cy="316.3" r="0.5" fill="#74406c"/>
<circle cx="220.5" cy="313.1" r="0.85" fill="#552a4e"/>
<circle cx="192.9" cy="307.8" r="0.45" fill="#66305e"/>
<circle cx="231.8" cy="296.4" r="0.75" fill="#45203e"/>
<circle cx="227.9" cy="295.4" r="0.65" fill="#552a4e"/>
<circle cx="235.6" cy="294.3" r="0.45" fill="#7a3a6e"/>
<circle cx="244.8" cy="315.1" r="0.55" fill="#66305e"/>
<circle cx="197.3" cy="305.5" r="0.5" fill="#45203e"/>
<circle cx="220.9" cy="309.0" r="0.85" fill="#74406c"/>
<circle cx="209.4" cy="298.7" r="0.5" fill="#45203e"/>
<circle cx="207.3" cy="309.3" r="0.45" fill="#45203e"/>
<circle cx="205.7" cy="295.6" r="0.5" fill="#45203e"/>
<circle cx="203.6" cy="303.2" r="0.65" fill="#552a4e"/>
<circle cx="231.4" cy="319.1" r="0.85" fill="#7a3a6e"/>
<circle cx="238.8" cy="292.6" r="0.55" fill="#552a4e"/>
<circle cx="219.1" cy="315.1" r="0.55" fill="#74406c"/>
<circle cx="248.2" cy="300.7" r="0.5" fill="#552a4e"/>
<circle cx="205.5" cy="314.0" r="0.5" fill="#552a4e"/>
<circle cx="233.7" cy="277.7" r="0.5" fill="#7a3a6e"/>
<circle cx="245.3" cy="304.9" r="0.55" fill="#3a1a35"/>
<circle cx="220.5" cy="303.3" r="0.75" fill="#45203e"/>
<circle cx="227.1" cy="319.7" r="0.65" fill="#66305e"/>
<circle cx="217.7" cy="314.3" r="0.5" fill="#3a1a35"/>
<circle cx="222.8" cy="278.4" r="0.5" fill="#3a1a35"/>
<circle cx="227.1" cy="306.3" r="0.75" fill="#7a3a6e"/>
<circle cx="204.7" cy="302.7" r="0.5" fill="#66305e"/>
<circle cx="201.4" cy="286.7" r="0.5" fill="#3a1a35"/>
<circle cx="218.7" cy="305.0" r="0.85" fill="#7a3a6e"/>
<circle cx="193.7" cy="299.1" r="0.45" fill="#3a1a35"/>
<circle cx="225.9" cy="286.9" r="0.85" fill="#74406c"/>
<circle cx="235.1" cy="312.1" r="0.65" fill="#66305e"/>
<circle cx="229.9" cy="291.7" r="0.5" fill="#3a1a35"/>
<circle cx="228.2" cy="287.2" r="0.5" fill="#7a3a6e"/>
<circle cx="204.5" cy="318.3" r="0.45" fill="#45203e"/>
<circle cx="200.8" cy="299.9" r="0.75" fill="#552a4e"/>
<circle cx="237.2" cy="318.9" r="0.55" fill="#7a3a6e"/>
<circle cx="234.4" cy="286.3" r="0.45" fill="#45203e"/>
<circle cx="239.2" cy="282.3" r="0.65" fill="#74406c"/>
<circle cx="198.9" cy="300.6" r="0.75" fill="#66305e"/>
<circle cx="247.6" cy="305.9" r="0.5" fill="#3a1a35"/>
<circle cx="223.5" cy="310.6" r="0.55" fill="#3a1a35"/>
<circle cx="221.7" cy="297.8" r="0.45" fill="#7a3a6e"/>
<circle cx="218.7" cy="287.7" r="0.75" fill="#7a3a6e"/>
<circle cx="201.4" cy="292.7" r="0.85" fill="#74406c"/>
<circle cx="241.0" cy="318.4" r="0.85" fill="#66305e"/>
<circle cx="229.3" cy="305.1" r="0.65" fill="#3a1a35"/>
<circle cx="204.6" cy="302.2" r="0.45" fill="#552a4e"/>
<circle cx="210.9" cy="308.2" r="0.75" fill="#66305e"/>
<circle cx="226.8" cy="293.9" r="0.75" fill="#74406c"/>
<circle cx="219.5" cy="290.7" r="0.45" fill="#7a3a6e"/>
<circle cx="205.5" cy="314.2" r="0.75" fill="#3a1a35"/>
<circle cx="247.1" cy="308.7" r="0.45" fill="#45203e"/>
<circle cx="212.3" cy="314.2" r="0.55" fill="#7a3a6e"/>
<circle cx="193.7" cy="313.5" r="0.55" fill="#74406c"/>
<circle cx="223.5" cy="296.9" r="0.75" fill="#66305e"/>
<circle cx="246.4" cy="295.1" r="0.5" fill="#74406c"/>
<circle cx="218.1" cy="299.7" r="0.45" fill="#3a1a35"/>
<circle cx="225.9" cy="317.3" r="0.5" fill="#3a1a35"/>
<circle cx="213.1" cy="290.4" r="0.65" fill="#74406c"/>
<circle cx="224.3" cy="275.0" r="0.85" fill="#552a4e"/>
<circle cx="229.5" cy="277.3" r="0.45" fill="#552a4e"/>
<circle cx="234.7" cy="285.5" r="0.85" fill="#3a1a35"/>
<circle cx="216.6" cy="323.1" r="0.45" fill="#3a1a35"/>
<circle cx="227.8" cy="308.2" r="0.45" fill="#74406c"/>
<circle cx="220.2" cy="308.0" r="0.45" fill="#45203e"/>
<circle cx="213.0" cy="311.9" r="0.45" fill="#3a1a35"/>
<circle cx="246.2" cy="295.3" r="0.55" fill="#552a4e"/>
<circle cx="199.3" cy="306.7" r="0.5" fill="#74406c"/>
<circle cx="227.1" cy="309.6" r="0.55" fill="#74406c"/>
<circle cx="206.5" cy="295.3" r="0.85" fill="#552a4e"/>
<circle cx="218.8" cy="287.0" r="0.65" fill="#3a1a35"/>
<circle cx="215.1" cy="289.6" r="0.65" fill="#66305e"/>
<circle cx="203.2" cy="297.1" r="0.75" fill="#45203e"/>
<circle cx="204.8" cy="289.6" r="0.55" fill="#552a4e"/>
<circle cx="220.4" cy="315.7" r="0.75" fill="#3a1a35"/>
<circle cx="203.5" cy="317.0" r="0.45" fill="#45203e"/>
<circle cx="234.3" cy="326.1" r="0.55" fill="#3a1a35"/>
<circle cx="212.9" cy="315.5" r="0.5" fill="#45203e"/>
<circle cx="223.7" cy="303.8" r="0.75" fill="#552a4e"/>
<circle cx="206.4" cy="291.9" r="0.85" fill="#552a4e"/>
<circle cx="193.7" cy="299.5" r="0.55" fill="#7a3a6e"/>
<circle cx="221.4" cy="281.7" r="0.85" fill="#7a3a6e"/>
<circle cx="236.6" cy="294.9" r="0.85" fill="#45203e"/>
<circle cx="227.9" cy="312.2" r="0.75" fill="#45203e"/>
<circle cx="228.6" cy="283.7" r="0.85" fill="#7a3a6e"/>
<circle cx="244.9" cy="288.9" r="0.55" fill="#7a3a6e"/>
<circle cx="212.7" cy="275.9" r="0.5" fill="#74406c"/>
<circle cx="221.0" cy="300.9" r="0.75" fill="#3a1a35"/>
<circle cx="233.0" cy="314.4" r="0.75" fill="#66305e"/>
<circle cx="197.7" cy="314.8" r="0.75" fill="#3a1a35"/>
<circle cx="239.9" cy="319.3" r="0.85" fill="#74406c"/>
<circle cx="215.7" cy="318.8" r="0.55" fill="#74406c"/>
<circle cx="197.9" cy="298.7" r="0.85" fill="#45203e"/>
<circle cx="244.4" cy="303.3" r="0.65" fill="#74406c"/>
<circle cx="208.2" cy="306.5" r="0.55" fill="#66305e"/>
<circle cx="203.6" cy="309.2" r="0.5" fill="#552a4e"/>
<circle cx="226.8" cy="287.5" r="0.75" fill="#66305e"/>
<circle cx="232.2" cy="299.0" r="0.65" fill="#552a4e"/>
<circle cx="234.0" cy="304.6" r="0.65" fill="#45203e"/>
<circle cx="241.8" cy="290.2" r="0.75" fill="#3a1a35"/>
<circle cx="240.3" cy="302.1" r="0.75" fill="#7a3a6e"/>
<circle cx="212.6" cy="285.9" r="0.55" fill="#552a4e"/>
<circle cx="205.7" cy="292.8" r="0.45" fill="#7a3a6e"/>
<circle cx="232.2" cy="308.0" r="0.65" fill="#45203e"/>
<circle cx="196.7" cy="302.2" r="0.75" fill="#66305e"/>
<circle cx="240.2" cy="283.1" r="0.65" fill="#74406c"/>
<circle cx="198.7" cy="310.6" r="0.75" fill="#45203e"/>
<circle cx="210.8" cy="279.2" r="0.45" fill="#66305e"/>
<circle cx="208.4" cy="315.5" r="0.45" fill="#45203e"/>
<circle cx="210.2" cy="301.5" r="0.55" fill="#7a3a6e"/>
<circle cx="204.4" cy="325.3" r="0.75" fill="#74406c"/>
<circle cx="205.6" cy="287.1" r="0.75" fill="#66305e"/>
<circle cx="207.3" cy="301.9" r="0.5" fill="#552a4e"/>
<circle cx="204.5" cy="286.1" r="0.55" fill="#3a1a35"/>
<circle cx="242.5" cy="301.4" r="0.45" fill="#7a3a6e"/>
<circle cx="198.2" cy="315.7" r="0.55" fill="#7a3a6e"/>
<circle cx="219.0" cy="300.6" r="0.55" fill="#74406c"/>
<circle cx="231.7" cy="284.0" r="0.85" fill="#552a4e"/>
<circle cx="226.3" cy="321.4" r="0.75" fill="#3a1a35"/>
<circle cx="217.4" cy="325.2" r="0.75" fill="#3a1a35"/>
<circle cx="241.4" cy="301.9" r="0.65" fill="#3a1a35"/>
<circle cx="227.9" cy="310.1" r="0.75" fill="#552a4e"/>
<circle cx="227.5" cy="303.7" r="0.75" fill="#74406c"/>
<circle cx="229.6" cy="282.2" r="0.45" fill="#7a3a6e"/>
<circle cx="244.7" cy="304.3" r="0.55" fill="#66305e"/>
<circle cx="216.0" cy="285.7" r="0.5" fill="#552a4e"/>
<circle cx="218.8" cy="311.3" r="0.75" fill="#552a4e"/>
<circle cx="208.5" cy="317.9" r="0.65" fill="#552a4e"/>
<circle cx="245.1" cy="311.4" r="0.75" fill="#552a4e"/>
<circle cx="198.8" cy="310.6" r="0.5" fill="#66305e"/>
<circle cx="246.2" cy="309.8" r="0.5" fill="#45203e"/>
<circle cx="282.0" cy="302.3" r="30.1" fill="#bdbbba" stroke="#a4a2a2" stroke-width="0.8"/>
<circle cx="308.6" cy="303.3" r="0.65" fill="#45203e"/>
<circle cx="269.5" cy="309.3" r="0.65" fill="#552a4e"/>
<circle cx="282.8" cy="320.1" r="0.85" fill="#3a1a35"/>
<circle cx="284.8" cy="317.9" r="0.85" fill="#74406c"/>
<circle cx="308.4" cy="306.0" r="0.45" fill="#66305e"/>
<circle cx="290.5" cy="317.7" r="0.45" fill="#45203e"/>
<circle cx="268.3" cy="312.8" r="0.55" fill="#3a1a35"/>
<circle cx="293.5" cy="290.3" r="0.85" fill="#552a4e"/>
<circle cx="300.0" cy="297.8" r="0.55" fill="#3a1a35"/>
<circle cx="282.4" cy="314.8" r="0.55" fill="#45203e"/>
<circle cx="282.4" cy="307.6" r="0.85" fill="#552a4e"/>
<circle cx="275.9" cy="311.8" r="0.85" fill="#66305e"/>
<circle cx="294.4" cy="310.5" r="0.5" fill="#3a1a35"/>
<circle cx="257.5" cy="311.4" r="0.5" fill="#66305e"/>
<circle cx="273.0" cy="312.1" r="0.65" fill="#74406c"/>
<circle cx="267.0" cy="286.5" r="0.55" fill="#74406c"/>
<circle cx="268.4" cy="301.9" r="0.65" fill="#7a3a6e"/>
<circle cx="298.3" cy="319.9" r="0.55" fill="#3a1a35"/>
<circle cx="299.7" cy="289.4" r="0.55" fill="#3a1a35"/>
<circle cx="282.5" cy="324.6" r="0.5" fill="#66305e"/>
<circle cx="289.0" cy="295.1" r="0.75" fill="#552a4e"/>
<circle cx="267.7" cy="298.4" r="0.65" fill="#552a4e"/>
<circle cx="270.2" cy="284.3" r="0.55" fill="#552a4e"/>
<circle cx="275.5" cy="307.6" r="0.5" fill="#66305e"/>
<circle cx="272.0" cy="323.3" r="0.45" fill="#552a4e"/>
<circle cx="266.1" cy="295.8" r="0.75" fill="#45203e"/>
<circle cx="290.5" cy="325.0" r="0.45" fill="#66305e"/>
<circle cx="275.8" cy="327.4" r="0.65" fill="#45203e"/>
<circle cx="265.8" cy="323.0" r="0.65" fill="#7a3a6e"/>
<circle cx="301.7" cy="284.5" r="0.5" fill="#45203e"/>
<circle cx="289.7" cy="317.8" r="0.85" fill="#7a3a6e"/>
<circle cx="271.1" cy="317.1" r="0.85" fill="#7a3a6e"/>
<circle cx="277.5" cy="288.8" r="0.65" fill="#45203e"/>
<circle cx="289.4" cy="297.3" r="0.55" fill="#552a4e"/>
<circle cx="279.1" cy="324.4" r="0.5" fill="#7a3a6e"/>
<circle cx="274.0" cy="286.0" r="0.75" fill="#66305e"/>
<circle cx="259.4" cy="312.8" r="0.5" fill="#74406c"/>
<circle cx="280.4" cy="281.1" r="0.85" fill="#7a3a6e"/>
<circle cx="302.1" cy="294.6" r="0.5" fill="#3a1a35"/>
<circle cx="261.4" cy="302.6" r="0.65" fill="#7a3a6e"/>
<circle cx="275.2" cy="286.8" r="0.45" fill="#552a4e"/>
<circle cx="294.7" cy="280.6" r="0.55" fill="#552a4e"/>
<circle cx="297.5" cy="286.8" r="0.85" fill="#552a4e"/>
<circle cx="305.3" cy="298.5" r="0.45" fill="#45203e"/>
<circle cx="288.8" cy="328.8" r="0.85" fill="#552a4e"/>
<circle cx="260.6" cy="314.6" r="0.85" fill="#3a1a35"/>
<circle cx="289.2" cy="289.0" r="0.45" fill="#45203e"/>
<circle cx="299.6" cy="296.1" r="0.55" fill="#7a3a6e"/>
<circle cx="258.3" cy="301.8" r="0.85" fill="#7a3a6e"/>
<circle cx="275.6" cy="304.2" r="0.85" fill="#66305e"/>
<circle cx="263.6" cy="311.2" r="0.5" fill="#74406c"/>
<circle cx="282.4" cy="296.3" r="0.85" fill="#3a1a35"/>
<circle cx="280.5" cy="323.4" r="0.85" fill="#66305e"/>
<circle cx="268.3" cy="298.4" r="0.45" fill="#66305e"/>
<circle cx="270.5" cy="316.6" r="0.5" fill="#7a3a6e"/>
<circle cx="278.1" cy="312.1" r="0.85" fill="#74406c"/>
<circle cx="275.3" cy="290.1" r="0.5" fill="#552a4e"/>
<circle cx="263.0" cy="300.5" r="0.85" fill="#45203e"/>
<circle cx="278.7" cy="292.4" r="0.85" fill="#66305e"/>
<circle cx="270.0" cy="295.0" r="0.85" fill="#552a4e"/>
<circle cx="258.2" cy="294.9" r="0.5" fill="#7a3a6e"/>
<circle cx="270.9" cy="283.1" r="0.65" fill="#74406c"/>
<circle cx="286.7" cy="293.9" r="0.55" fill="#552a4e"/>
<circle cx="273.7" cy="312.3" r="0.45" fill="#45203e"/>
<circle cx="278.8" cy="311.3" r="0.55" fill="#74406c"/>
<circle cx="293.2" cy="299.6" r="0.65" fill="#74406c"/>
<circle cx="268.0" cy="295.8" r="0.75" fill="#552a4e"/>
<circle cx="300.8" cy="307.8" r="0.65" fill="#552a4e"/>
<circle cx="281.7" cy="285.8" r="0.85" fill="#3a1a35"/>
<circle cx="279.9" cy="325.2" r="0.65" fill="#74406c"/>
<circle cx="289.8" cy="321.9" r="0.45" fill="#45203e"/>
<circle cx="302.1" cy="291.2" r="0.85" fill="#3a1a35"/>
<circle cx="303.2" cy="293.2" r="0.55" fill="#7a3a6e"/>
<circle cx="282.3" cy="312.9" r="0.45" fill="#552a4e"/>
<circle cx="286.0" cy="276.4" r="0.55" fill="#45203e"/>
<circle cx="291.0" cy="323.3" r="0.85" fill="#66305e"/>
<circle cx="301.4" cy="316.8" r="0.55" fill="#7a3a6e"/>
<circle cx="268.9" cy="290.5" r="0.85" fill="#45203e"/>
<circle cx="274.6" cy="318.0" r="0.75" fill="#45203e"/>
<circle cx="289.5" cy="290.0" r="0.45" fill="#552a4e"/>
<circle cx="302.0" cy="318.3" r="0.85" fill="#74406c"/>
<circle cx="305.0" cy="286.7" r="0.65" fill="#74406c"/>
<circle cx="270.7" cy="302.3" r="0.55" fill="#3a1a35"/>
<circle cx="274.9" cy="298.3" r="0.85" fill="#66305e"/>
<circle cx="291.8" cy="318.6" r="0.65" fill="#552a4e"/>
<circle cx="308.1" cy="298.8" r="0.65" fill="#66305e"/>
<circle cx="285.5" cy="319.4" r="0.45" fill="#3a1a35"/>
<circle cx="297.6" cy="282.3" r="0.65" fill="#66305e"/>
<circle cx="277.2" cy="325.1" r="0.75" fill="#7a3a6e"/>
<circle cx="267.4" cy="310.2" r="0.65" fill="#552a4e"/>
<circle cx="268.9" cy="279.8" r="0.85" fill="#66305e"/>
<circle cx="280.7" cy="303.6" r="0.75" fill="#7a3a6e"/>
<circle cx="274.7" cy="312.6" r="0.45" fill="#3a1a35"/>
<circle cx="273.3" cy="319.7" r="0.75" fill="#7a3a6e"/>
<circle cx="300.7" cy="281.2" r="0.75" fill="#3a1a35"/>
<circle cx="304.4" cy="314.9" r="0.85" fill="#7a3a6e"/>
<circle cx="270.6" cy="322.5" r="0.75" fill="#3a1a35"/>
<circle cx="266.7" cy="310.6" r="0.85" fill="#7a3a6e"/>
<circle cx="299.4" cy="322.5" r="0.75" fill="#7a3a6e"/>
<circle cx="294.2" cy="304.5" r="0.85" fill="#7a3a6e"/>
<circle cx="274.1" cy="305.0" r="0.85" fill="#3a1a35"/>
<circle cx="266.9" cy="318.0" r="0.65" fill="#45203e"/>
<circle cx="260.9" cy="298.3" r="0.65" fill="#45203e"/>
<circle cx="291.2" cy="310.3" r="0.5" fill="#3a1a35"/>
<circle cx="282.0" cy="288.8" r="0.55" fill="#7a3a6e"/>
<circle cx="299.2" cy="314.0" r="0.55" fill="#7a3a6e"/>
<circle cx="260.8" cy="303.7" r="0.5" fill="#3a1a35"/>
<circle cx="273.4" cy="298.1" r="0.75" fill="#3a1a35"/>
<circle cx="257.9" cy="291.5" r="0.85" fill="#552a4e"/>
<circle cx="285.3" cy="292.3" r="0.75" fill="#3a1a35"/>
<circle cx="255.8" cy="301.1" r="0.45" fill="#7a3a6e"/>
<circle cx="306.2" cy="300.9" r="0.45" fill="#74406c"/>
<circle cx="290.6" cy="286.6" r="0.5" fill="#66305e"/>
<circle cx="258.8" cy="292.6" r="0.5" fill="#45203e"/>
<circle cx="283.1" cy="295.5" r="0.5" fill="#552a4e"/>
<circle cx="279.6" cy="304.8" r="0.75" fill="#66305e"/>
<circle cx="272.4" cy="304.8" r="0.5" fill="#74406c"/>
<circle cx="289.1" cy="297.7" r="0.5" fill="#3a1a35"/>
<circle cx="300.3" cy="318.4" r="0.55" fill="#66305e"/>
<circle cx="264.4" cy="321.8" r="0.85" fill="#7a3a6e"/>
<circle cx="296.4" cy="303.4" r="0.5" fill="#45203e"/>
<circle cx="261.4" cy="300.6" r="0.55" fill="#7a3a6e"/>
<circle cx="256.2" cy="304.1" r="0.55" fill="#552a4e"/>
<circle cx="271.9" cy="315.2" r="0.75" fill="#552a4e"/>
<circle cx="308.7" cy="308.1" r="0.5" fill="#45203e"/>
<circle cx="267.5" cy="321.2" r="0.45" fill="#3a1a35"/>
<circle cx="258.4" cy="311.7" r="0.65" fill="#552a4e"/>
<circle cx="295.0" cy="308.8" r="0.5" fill="#3a1a35"/>
<circle cx="306.3" cy="291.1" r="0.85" fill="#74406c"/>
<circle cx="293.3" cy="283.5" r="0.55" fill="#3a1a35"/>
<circle cx="306.9" cy="301.9" r="0.55" fill="#74406c"/>
<circle cx="298.7" cy="303.7" r="0.5" fill="#74406c"/>
<circle cx="255.3" cy="302.0" r="0.45" fill="#552a4e"/>
<circle cx="292.7" cy="325.9" r="0.85" fill="#3a1a35"/>
<circle cx="266.6" cy="314.6" r="0.5" fill="#7a3a6e"/>
<circle cx="292.1" cy="287.5" r="0.75" fill="#3a1a35"/>
<circle cx="296.6" cy="309.8" r="0.5" fill="#45203e"/>
<circle cx="299.3" cy="288.7" r="0.45" fill="#66305e"/>
<circle cx="290.3" cy="317.3" r="0.65" fill="#45203e"/>
<circle cx="266.2" cy="294.0" r="0.55" fill="#45203e"/>
<circle cx="303.7" cy="303.1" r="0.55" fill="#66305e"/>
<circle cx="301.2" cy="304.8" r="0.75" fill="#552a4e"/>
<circle cx="265.4" cy="284.4" r="0.5" fill="#45203e"/>
<circle cx="276.6" cy="307.1" r="0.55" fill="#45203e"/>
<circle cx="263.1" cy="293.6" r="0.5" fill="#7a3a6e"/>
<circle cx="302.9" cy="306.9" r="0.45" fill="#66305e"/>
<circle cx="285.5" cy="279.8" r="0.85" fill="#552a4e"/>
<circle cx="272.1" cy="313.8" r="0.5" fill="#66305e"/>
<circle cx="275.4" cy="288.0" r="0.55" fill="#7a3a6e"/>
<circle cx="264.8" cy="322.4" r="0.5" fill="#45203e"/>
<circle cx="298.9" cy="285.0" r="0.55" fill="#552a4e"/>
<circle cx="275.4" cy="279.8" r="0.65" fill="#3a1a35"/>
<circle cx="272.5" cy="312.7" r="0.5" fill="#45203e"/>
<circle cx="289.6" cy="312.8" r="0.85" fill="#74406c"/>
<circle cx="267.1" cy="312.4" r="0.55" fill="#66305e"/>
<circle cx="272.7" cy="296.7" r="0.85" fill="#45203e"/>
<circle cx="281.7" cy="323.9" r="0.85" fill="#45203e"/>
<circle cx="293.2" cy="307.9" r="0.45" fill="#3a1a35"/>
<circle cx="291.4" cy="321.9" r="0.65" fill="#45203e"/>
<circle cx="305.4" cy="297.9" r="0.85" fill="#552a4e"/>
<circle cx="290.5" cy="288.6" r="0.5" fill="#45203e"/>
<circle cx="298.9" cy="289.6" r="0.5" fill="#7a3a6e"/>
<circle cx="279.3" cy="326.1" r="0.5" fill="#552a4e"/>
<circle cx="271.7" cy="309.9" r="0.75" fill="#45203e"/>
<circle cx="297.1" cy="284.9" r="0.5" fill="#66305e"/>
<circle cx="279.2" cy="274.4" r="0.75" fill="#552a4e"/>
<circle cx="304.6" cy="314.6" r="0.75" fill="#45203e"/>
<circle cx="281.6" cy="300.3" r="0.55" fill="#3a1a35"/>
<circle cx="279.8" cy="299.6" r="0.55" fill="#552a4e"/>
<circle cx="285.8" cy="318.2" r="0.85" fill="#552a4e"/>
<circle cx="271.2" cy="287.6" r="0.85" fill="#45203e"/>
<circle cx="294.1" cy="325.9" r="0.45" fill="#552a4e"/>
<circle cx="270.4" cy="290.5" r="0.65" fill="#3a1a35"/>
<circle cx="259.6" cy="318.7" r="0.45" fill="#552a4e"/>
<circle cx="301.2" cy="292.6" r="0.55" fill="#552a4e"/>
<circle cx="261.2" cy="314.5" r="0.55" fill="#66305e"/>
<circle cx="291.4" cy="308.6" r="0.5" fill="#3a1a35"/>
<circle cx="282.9" cy="293.8" r="0.55" fill="#74406c"/>
<circle cx="268.9" cy="321.9" r="0.75" fill="#66305e"/>
<circle cx="269.8" cy="283.8" r="0.55" fill="#66305e"/>
<circle cx="281.2" cy="287.8" r="0.85" fill="#74406c"/>
<circle cx="284.1" cy="277.2" r="0.55" fill="#7a3a6e"/>
<circle cx="286.0" cy="274.3" r="0.65" fill="#3a1a35"/>
<circle cx="278.3" cy="322.7" r="0.55" fill="#66305e"/>
<circle cx="281.6" cy="323.7" r="0.45" fill="#7a3a6e"/>
<circle cx="292.3" cy="276.0" r="0.5" fill="#7a3a6e"/>
<circle cx="285.4" cy="326.9" r="0.45" fill="#552a4e"/>
<circle cx="274.9" cy="295.2" r="0.75" fill="#3a1a35"/>
<circle cx="289.0" cy="326.5" r="0.55" fill="#3a1a35"/>
<circle cx="274.7" cy="310.6" r="0.5" fill="#7a3a6e"/>
<circle cx="297.6" cy="282.4" r="0.75" fill="#552a4e"/>
<circle cx="267.7" cy="321.7" r="0.65" fill="#74406c"/>
<circle cx="288.3" cy="328.9" r="0.65" fill="#74406c"/>
<circle cx="288.0" cy="327.0" r="0.45" fill="#552a4e"/>
<circle cx="280.1" cy="299.3" r="0.85" fill="#74406c"/>
<circle cx="274.2" cy="287.3" r="0.5" fill="#3a1a35"/>
<circle cx="262.6" cy="321.4" r="0.65" fill="#7a3a6e"/>
<circle cx="272.6" cy="292.6" r="0.55" fill="#552a4e"/>
<circle cx="280.5" cy="321.1" r="0.5" fill="#45203e"/>
<circle cx="289.2" cy="326.1" r="0.85" fill="#45203e"/>
<circle cx="273.5" cy="329.5" r="0.5" fill="#3a1a35"/>
<circle cx="287.0" cy="283.2" r="0.55" fill="#66305e"/>
<circle cx="288.7" cy="288.7" r="0.55" fill="#552a4e"/>
<circle cx="255.1" cy="304.7" r="0.5" fill="#45203e"/>
<circle cx="272.9" cy="282.1" r="0.65" fill="#66305e"/>
<circle cx="258.4" cy="289.5" r="0.5" fill="#7a3a6e"/>
<circle cx="265.9" cy="321.7" r="0.65" fill="#66305e"/>
<circle cx="272.2" cy="306.6" r="0.55" fill="#7a3a6e"/>
<circle cx="291.4" cy="303.8" r="0.45" fill="#66305e"/>
<circle cx="291.4" cy="296.4" r="0.85" fill="#45203e"/>
<circle cx="291.6" cy="309.1" r="0.85" fill="#74406c"/>
<circle cx="296.1" cy="311.2" r="0.85" fill="#7a3a6e"/>
<circle cx="268.8" cy="312.3" r="0.45" fill="#3a1a35"/>
<circle cx="284.5" cy="327.6" r="0.85" fill="#552a4e"/>
<circle cx="301.7" cy="307.1" r="0.5" fill="#3a1a35"/>
<circle cx="273.6" cy="306.2" r="0.45" fill="#552a4e"/>
<circle cx="298.1" cy="301.4" r="0.45" fill="#552a4e"/>
<circle cx="309.2" cy="294.8" r="0.75" fill="#74406c"/>
<circle cx="295.5" cy="302.5" r="0.75" fill="#66305e"/>
<circle cx="267.9" cy="286.6" r="0.45" fill="#3a1a35"/>
<circle cx="269.8" cy="318.3" r="0.45" fill="#45203e"/>
<circle cx="308.0" cy="297.4" r="0.5" fill="#7a3a6e"/>
<circle cx="303.5" cy="312.8" r="0.45" fill="#45203e"/>
<circle cx="278.7" cy="330.2" r="0.5" fill="#3a1a35"/>
<circle cx="306.3" cy="309.8" r="0.55" fill="#45203e"/>
<circle cx="305.7" cy="303.9" r="0.85" fill="#74406c"/>
<circle cx="261.6" cy="296.5" r="0.85" fill="#74406c"/>
<circle cx="308.6" cy="299.3" r="0.85" fill="#45203e"/>
<circle cx="269.0" cy="311.8" r="0.65" fill="#74406c"/>
<circle cx="299.5" cy="299.3" r="0.65" fill="#74406c"/>
<circle cx="291.0" cy="276.7" r="0.85" fill="#552a4e"/>
<circle cx="283.4" cy="322.5" r="0.55" fill="#7a3a6e"/>
<circle cx="268.5" cy="291.0" r="0.5" fill="#66305e"/>
<circle cx="277.6" cy="295.1" r="0.75" fill="#552a4e"/>
<circle cx="287.3" cy="298.8" r="0.85" fill="#3a1a35"/>
<circle cx="271.6" cy="322.8" r="0.75" fill="#7a3a6e"/>
<circle cx="270.7" cy="328.1" r="0.45" fill="#74406c"/>
<circle cx="281.4" cy="275.9" r="0.75" fill="#45203e"/>
<circle cx="258.1" cy="286.7" r="0.5" fill="#7a3a6e"/>
<circle cx="288.9" cy="276.5" r="0.55" fill="#7a3a6e"/>
<circle cx="308.0" cy="313.4" r="0.55" fill="#3a1a35"/>
<circle cx="268.0" cy="280.4" r="0.45" fill="#7a3a6e"/>
<circle cx="288.8" cy="280.0" r="0.75" fill="#45203e"/>
<circle cx="280.0" cy="328.4" r="0.85" fill="#45203e"/>
<circle cx="262.4" cy="299.6" r="0.5" fill="#66305e"/>
<circle cx="304.8" cy="312.3" r="0.55" fill="#3a1a35"/>
<circle cx="285.3" cy="313.6" r="0.55" fill="#66305e"/>
<circle cx="276.8" cy="292.4" r="0.85" fill="#74406c"/>
<circle cx="294.2" cy="327.3" r="0.85" fill="#552a4e"/>
<circle cx="274.5" cy="317.8" r="0.65" fill="#552a4e"/>
<circle cx="261.8" cy="315.1" r="0.65" fill="#552a4e"/>
<circle cx="266.6" cy="319.8" r="0.75" fill="#3a1a35"/>
<circle cx="274.5" cy="324.3" r="0.55" fill="#74406c"/>
<circle cx="277.2" cy="320.8" r="0.45" fill="#74406c"/>
<circle cx="265.8" cy="284.0" r="0.5" fill="#3a1a35"/>
<circle cx="295.9" cy="321.4" r="0.55" fill="#74406c"/>
<circle cx="268.2" cy="300.5" r="0.55" fill="#3a1a35"/>
<circle cx="272.5" cy="317.2" r="0.45" fill="#3a1a35"/>
<circle cx="288.6" cy="322.9" r="0.45" fill="#3a1a35"/>
<circle cx="292.5" cy="324.1" r="0.55" fill="#45203e"/>
<circle cx="281.5" cy="317.0" r="0.65" fill="#552a4e"/>
<circle cx="262.2" cy="299.1" r="0.45" fill="#66305e"/>
<circle cx="301.4" cy="322.5" r="0.55" fill="#3a1a35"/>
<circle cx="287.3" cy="275.4" r="0.85" fill="#74406c"/>
<circle cx="277.8" cy="306.4" r="0.55" fill="#74406c"/>
<circle cx="261.8" cy="311.7" r="0.55" fill="#45203e"/>
<circle cx="283.9" cy="328.6" r="0.5" fill="#3a1a35"/>
<circle cx="292.1" cy="328.6" r="0.85" fill="#3a1a35"/>
<circle cx="265.8" cy="319.1" r="0.55" fill="#552a4e"/>
<circle cx="298.7" cy="311.5" r="0.65" fill="#3a1a35"/>
<circle cx="258.2" cy="316.4" r="0.85" fill="#552a4e"/>
<circle cx="298.7" cy="315.8" r="0.65" fill="#7a3a6e"/>
<circle cx="291.8" cy="286.7" r="0.65" fill="#66305e"/>
<circle cx="296.6" cy="290.2" r="0.65" fill="#66305e"/>
<circle cx="256.1" cy="300.4" r="0.85" fill="#66305e"/>
<circle cx="280.9" cy="284.2" r="0.45" fill="#7a3a6e"/>
<circle cx="277.5" cy="318.1" r="0.65" fill="#74406c"/>
<circle cx="291.9" cy="311.4" r="0.45" fill="#3a1a35"/>
<circle cx="285.8" cy="294.0" r="0.45" fill="#66305e"/>
<circle cx="275.8" cy="299.7" r="0.85" fill="#66305e"/>
<circle cx="277.2" cy="283.0" r="0.45" fill="#3a1a35"/>
<circle cx="275.3" cy="285.1" r="0.75" fill="#66305e"/>
<circle cx="307.8" cy="302.0" r="0.85" fill="#66305e"/>
<circle cx="276.7" cy="313.6" r="0.45" fill="#66305e"/>
<circle cx="296.9" cy="301.2" r="0.55" fill="#552a4e"/>
<circle cx="276.4" cy="315.6" r="0.55" fill="#3a1a35"/>
<circle cx="260.8" cy="318.8" r="0.85" fill="#552a4e"/>
<circle cx="277.0" cy="315.7" r="0.65" fill="#74406c"/>
<circle cx="291.0" cy="290.9" r="0.5" fill="#66305e"/>
<circle cx="301.8" cy="309.0" r="0.55" fill="#74406c"/>
<circle cx="268.6" cy="282.3" r="0.5" fill="#45203e"/>
<circle cx="297.1" cy="295.2" r="0.65" fill="#7a3a6e"/>
<circle cx="275.9" cy="300.1" r="0.55" fill="#552a4e"/>
<circle cx="264.1" cy="298.5" r="0.75" fill="#45203e"/>
<circle cx="295.1" cy="305.2" r="0.65" fill="#45203e"/>
<circle cx="286.0" cy="314.8" r="0.75" fill="#3a1a35"/>
<circle cx="255.5" cy="310.1" r="0.65" fill="#66305e"/>
<circle cx="287.0" cy="297.5" r="0.65" fill="#7a3a6e"/>
<circle cx="289.5" cy="309.8" r="0.45" fill="#3a1a35"/>
<circle cx="278.6" cy="302.4" r="0.85" fill="#3a1a35"/>
<circle cx="281.1" cy="290.8" r="0.5" fill="#7a3a6e"/>
<circle cx="277.4" cy="278.0" r="0.5" fill="#3a1a35"/>
<circle cx="287.8" cy="293.0" r="0.85" fill="#66305e"/>
<circle cx="262.6" cy="300.3" r="0.5" fill="#552a4e"/>
<circle cx="299.5" cy="296.7" r="0.85" fill="#45203e"/>
<circle cx="276.8" cy="284.0" r="0.65" fill="#66305e"/>
<circle cx="300.6" cy="282.0" r="0.5" fill="#552a4e"/>
<circle cx="292.2" cy="318.4" r="0.5" fill="#3a1a35"/>
<circle cx="289.0" cy="279.3" r="0.85" fill="#66305e"/>
<circle cx="276.7" cy="315.8" r="0.75" fill="#66305e"/>
<circle cx="296.8" cy="323.2" r="0.5" fill="#74406c"/>
<circle cx="298.2" cy="299.7" r="0.5" fill="#7a3a6e"/>
<circle cx="276.1" cy="324.7" r="0.85" fill="#552a4e"/>
<circle cx="285.5" cy="312.8" r="0.5" fill="#74406c"/>
<circle cx="273.0" cy="318.0" r="0.45" fill="#45203e"/>
<circle cx="301.8" cy="321.4" r="0.85" fill="#3a1a35"/>
<circle cx="266.8" cy="299.8" r="0.55" fill="#552a4e"/>
<circle cx="282.0" cy="282.2" r="0.45" fill="#66305e"/>
<circle cx="255.5" cy="304.8" r="0.75" fill="#3a1a35"/>
<circle cx="273.8" cy="300.1" r="0.5" fill="#74406c"/>
<circle cx="278.4" cy="329.1" r="0.5" fill="#3a1a35"/>
<circle cx="286.6" cy="300.0" r="0.75" fill="#552a4e"/>
<circle cx="298.4" cy="298.9" r="0.5" fill="#7a3a6e"/>
<circle cx="278.3" cy="313.6" r="0.55" fill="#74406c"/>
<circle cx="265.7" cy="304.3" r="0.55" fill="#66305e"/>
<circle cx="302.1" cy="318.9" r="0.45" fill="#7a3a6e"/>
<circle cx="273.8" cy="299.1" r="0.75" fill="#552a4e"/>
<circle cx="287.2" cy="280.9" r="0.65" fill="#552a4e"/>
<circle cx="302.0" cy="306.6" r="0.45" fill="#74406c"/>
<circle cx="275.7" cy="294.0" r="0.75" fill="#45203e"/>
<circle cx="303.6" cy="313.5" r="0.85" fill="#66305e"/>
<circle cx="267.2" cy="320.3" r="0.45" fill="#45203e"/>
<circle cx="304.9" cy="303.0" r="0.65" fill="#45203e"/>
<circle cx="287.2" cy="309.4" r="0.5" fill="#552a4e"/>
<circle cx="290.5" cy="314.5" r="0.75" fill="#552a4e"/>
<circle cx="275.6" cy="315.0" r="0.75" fill="#3a1a35"/>
<circle cx="296.0" cy="306.1" r="0.5" fill="#45203e"/>
<circle cx="271.4" cy="309.6" r="0.5" fill="#66305e"/>
<circle cx="278.9" cy="281.6" r="0.5" fill="#552a4e"/>
<circle cx="309.6" cy="304.9" r="0.65" fill="#7a3a6e"/>
<circle cx="344.6" cy="302.3" r="30.1" fill="#bdbbba" stroke="#a4a2a2" stroke-width="0.8"/>
<circle cx="323.2" cy="292.1" r="0.5" fill="#552a4e"/>
<circle cx="344.6" cy="291.1" r="0.55" fill="#552a4e"/>
<circle cx="324.5" cy="312.7" r="0.45" fill="#45203e"/>
<circle cx="335.6" cy="298.1" r="0.85" fill="#3a1a35"/>
<circle cx="347.5" cy="316.1" r="0.75" fill="#7a3a6e"/>
<circle cx="355.5" cy="278.8" r="0.45" fill="#3a1a35"/>
<circle cx="339.9" cy="309.9" r="0.5" fill="#3a1a35"/>
<circle cx="346.3" cy="290.5" r="0.55" fill="#45203e"/>
<circle cx="366.1" cy="314.8" r="0.75" fill="#66305e"/>
<circle cx="372.3" cy="304.2" r="0.65" fill="#74406c"/>
<circle cx="369.5" cy="307.4" r="0.5" fill="#7a3a6e"/>
<circle cx="332.9" cy="301.5" r="0.55" fill="#66305e"/>
<circle cx="352.5" cy="328.6" r="0.85" fill="#45203e"/>
<circle cx="342.7" cy="295.2" r="0.45" fill="#74406c"/>
<circle cx="364.8" cy="307.2" r="0.55" fill="#552a4e"/>
<circle cx="344.8" cy="279.5" r="0.5" fill="#7a3a6e"/>
<circle cx="361.0" cy="307.7" r="0.65" fill="#552a4e"/>
<circle cx="328.2" cy="279.4" r="0.75" fill="#66305e"/>
<circle cx="351.2" cy="283.3" r="0.85" fill="#74406c"/>
<circle cx="361.8" cy="321.8" r="0.55" fill="#552a4e"/>
<circle cx="343.8" cy="276.2" r="0.85" fill="#3a1a35"/>
<circle cx="353.7" cy="317.6" r="0.85" fill="#3a1a35"/>
<circle cx="336.1" cy="329.0" r="0.75" fill="#7a3a6e"/>
<circle cx="353.8" cy="299.1" r="0.55" fill="#66305e"/>
<circle cx="346.0" cy="324.2" r="0.75" fill="#66305e"/>
<circle cx="360.2" cy="287.2" r="0.85" fill="#7a3a6e"/>
<circle cx="366.7" cy="309.5" r="0.65" fill="#7a3a6e"/>
<circle cx="333.2" cy="277.0" r="0.65" fill="#74406c"/>
<circle cx="357.5" cy="297.9" r="0.85" fill="#45203e"/>
<circle cx="330.5" cy="279.0" r="0.65" fill="#45203e"/>
<circle cx="364.6" cy="302.9" r="0.45" fill="#552a4e"/>
<circle cx="358.8" cy="288.6" r="0.65" fill="#3a1a35"/>
<circle cx="341.3" cy="312.7" r="0.75" fill="#66305e"/>
<circle cx="360.2" cy="311.3" r="0.65" fill="#3a1a35"/>
<circle cx="360.8" cy="305.7" r="0.55" fill="#66305e"/>
<circle cx="338.9" cy="284.2" r="0.85" fill="#3a1a35"/>
<circle cx="348.1" cy="293.0" r="0.85" fill="#7a3a6e"/>
<circle cx="369.7" cy="309.0" r="0.5" fill="#74406c"/>
<circle cx="340.8" cy="330.0" r="0.55" fill="#66305e"/>
<circle cx="349.0" cy="328.9" r="0.75" fill="#74406c"/>
<circle cx="338.8" cy="317.4" r="0.75" fill="#3a1a35"/>
<circle cx="354.3" cy="326.5" r="0.5" fill="#74406c"/>
<circle cx="344.1" cy="302.2" r="0.5" fill="#552a4e"/>
<circle cx="362.7" cy="295.8" r="0.85" fill="#45203e"/>
<circle cx="342.6" cy="278.9" r="0.75" fill="#7a3a6e"/>
<circle cx="357.9" cy="286.7" r="0.65" fill="#66305e"/>
<circle cx="369.0" cy="290.6" r="0.85" fill="#74406c"/>
<circle cx="364.7" cy="312.7" r="0.65" fill="#45203e"/>
<circle cx="361.2" cy="297.8" r="0.85" fill="#7a3a6e"/>
<circle cx="332.8" cy="289.4" r="0.75" fill="#7a3a6e"/>
<circle cx="366.1" cy="310.8" r="0.65" fill="#45203e"/>
<circle cx="343.2" cy="298.7" r="0.85" fill="#552a4e"/>
<circle cx="326.7" cy="295.5" r="0.75" fill="#66305e"/>
<circle cx="341.3" cy="277.8" r="0.45" fill="#45203e"/>
<circle cx="342.2" cy="302.6" r="0.55" fill="#66305e"/>
<circle cx="355.1" cy="327.6" r="0.75" fill="#552a4e"/>
<circle cx="356.5" cy="302.1" r="0.75" fill="#7a3a6e"/>
<circle cx="367.1" cy="299.8" r="0.5" fill="#45203e"/>
<circle cx="345.3" cy="297.8" r="0.75" fill="#74406c"/>
<circle cx="329.4" cy="281.7" r="0.85" fill="#7a3a6e"/>
<circle cx="324.1" cy="321.4" r="0.85" fill="#45203e"/>
<circle cx="339.1" cy="288.3" r="0.5" fill="#3a1a35"/>
<circle cx="338.3" cy="302.5" r="0.75" fill="#45203e"/>
<circle cx="354.7" cy="294.4" r="0.45" fill="#66305e"/>
<circle cx="337.2" cy="321.6" r="0.85" fill="#45203e"/>
<circle cx="362.9" cy="290.3" r="0.65" fill="#45203e"/>
<circle cx="356.6" cy="299.4" r="0.55" fill="#74406c"/>
<circle cx="349.9" cy="317.6" r="0.65" fill="#74406c"/>
<circle cx="355.9" cy="311.5" r="0.65" fill="#45203e"/>
<circle cx="323.5" cy="320.8" r="0.55" fill="#552a4e"/>
<circle cx="352.4" cy="328.4" r="0.65" fill="#3a1a35"/>
<circle cx="356.5" cy="282.8" r="0.55" fill="#552a4e"/>
<circle cx="359.0" cy="322.6" r="0.65" fill="#7a3a6e"/>
<circle cx="322.8" cy="293.9" r="0.45" fill="#45203e"/>
<circle cx="325.8" cy="317.5" r="0.65" fill="#3a1a35"/>
<circle cx="354.5" cy="277.8" r="0.45" fill="#45203e"/>
<circle cx="341.7" cy="303.3" r="0.75" fill="#7a3a6e"/>
<circle cx="329.1" cy="295.4" r="0.55" fill="#45203e"/>
<circle cx="371.3" cy="299.0" r="0.75" fill="#552a4e"/>
<circle cx="345.2" cy="278.8" r="0.65" fill="#7a3a6e"/>
<circle cx="356.7" cy="312.5" r="0.85" fill="#66305e"/>
<circle cx="366.9" cy="297.7" r="0.85" fill="#552a4e"/>
<circle cx="347.4" cy="284.6" r="0.85" fill="#45203e"/>
<circle cx="328.2" cy="314.2" r="0.55" fill="#45203e"/>
<circle cx="360.6" cy="284.2" r="0.5" fill="#3a1a35"/>
<circle cx="342.9" cy="284.0" r="0.55" fill="#66305e"/>
<circle cx="350.0" cy="325.3" r="0.65" fill="#552a4e"/>
<circle cx="318.2" cy="301.9" r="0.85" fill="#66305e"/>
<circle cx="328.6" cy="293.8" r="0.75" fill="#7a3a6e"/>
<circle cx="340.7" cy="328.3" r="0.5" fill="#66305e"/>
<circle cx="349.2" cy="328.3" r="0.5" fill="#3a1a35"/>
<circle cx="355.4" cy="313.0" r="0.45" fill="#7a3a6e"/>
<circle cx="371.7" cy="297.1" r="0.65" fill="#45203e"/>
<circle cx="360.9" cy="319.9" r="0.85" fill="#74406c"/>
<circle cx="333.2" cy="292.6" r="0.45" fill="#3a1a35"/>
<circle cx="328.5" cy="289.8" r="0.75" fill="#66305e"/>
<circle cx="357.7" cy="293.3" r="0.55" fill="#7a3a6e"/>
<circle cx="320.1" cy="291.0" r="0.45" fill="#45203e"/>
<circle cx="364.9" cy="305.3" r="0.45" fill="#45203e"/>
<circle cx="348.4" cy="321.3" r="0.5" fill="#74406c"/>
<circle cx="343.5" cy="309.2" r="0.65" fill="#3a1a35"/>
<circle cx="320.4" cy="293.6" r="0.45" fill="#3a1a35"/>
<circle cx="349.0" cy="293.9" r="0.5" fill="#45203e"/>
<circle cx="333.1" cy="290.2" r="0.55" fill="#3a1a35"/>
<circle cx="332.5" cy="296.7" r="0.5" fill="#45203e"/>
<circle cx="358.3" cy="280.5" r="0.75" fill="#7a3a6e"/>
<circle cx="369.4" cy="307.1" r="0.45" fill="#3a1a35"/>
<circle cx="342.6" cy="319.7" r="0.85" fill="#45203e"/>
<circle cx="341.1" cy="280.7" r="0.65" fill="#74406c"/>
<circle cx="322.7" cy="300.6" r="0.5" fill="#7a3a6e"/>
<circle cx="363.8" cy="281.2" r="0.55" fill="#3a1a35"/>
<circle cx="331.0" cy="327.2" r="0.45" fill="#7a3a6e"/>
<circle cx="334.2" cy="303.7" r="0.65" fill="#7a3a6e"/>
<circle cx="361.0" cy="287.0" r="0.5" fill="#45203e"/>
<circle cx="337.5" cy="295.9" r="0.5" fill="#45203e"/>
<circle cx="345.1" cy="294.4" r="0.75" fill="#552a4e"/>
<circle cx="332.8" cy="307.1" r="0.85" fill="#7a3a6e"/>
<circle cx="349.4" cy="316.2" r="0.75" fill="#7a3a6e"/>
<circle cx="352.8" cy="289.1" r="0.45" fill="#7a3a6e"/>
<circle cx="340.4" cy="278.4" r="0.45" fill="#45203e"/>
<circle cx="345.5" cy="305.4" r="0.85" fill="#7a3a6e"/>
<circle cx="344.3" cy="281.3" r="0.75" fill="#45203e"/>
<circle cx="329.6" cy="286.9" r="0.55" fill="#45203e"/>
<circle cx="342.5" cy="307.9" r="0.5" fill="#7a3a6e"/>
<circle cx="327.9" cy="323.7" r="0.85" fill="#74406c"/>
<circle cx="347.0" cy="285.7" r="0.5" fill="#45203e"/>
<circle cx="348.0" cy="283.0" r="0.45" fill="#45203e"/>
<circle cx="350.1" cy="283.3" r="0.5" fill="#552a4e"/>
<circle cx="330.5" cy="299.8" r="0.65" fill="#66305e"/>
<circle cx="330.5" cy="320.7" r="0.5" fill="#7a3a6e"/>
<circle cx="340.0" cy="327.7" r="0.75" fill="#74406c"/>
<circle cx="348.3" cy="278.2" r="0.5" fill="#74406c"/>
<circle cx="346.8" cy="304.7" r="0.5" fill="#7a3a6e"/>
<circle cx="329.5" cy="293.3" r="0.45" fill="#552a4e"/>
<circle cx="338.8" cy="303.6" r="0.75" fill="#3a1a35"/>
<circle cx="367.3" cy="288.7" r="0.55" fill="#3a1a35"/>
<circle cx="326.5" cy="295.2" r="0.85" fill="#66305e"/>
<circle cx="357.5" cy="302.9" r="0.55" fill="#74406c"/>
<circle cx="351.2" cy="296.2" r="0.5" fill="#66305e"/>
<circle cx="324.5" cy="310.3" r="0.85" fill="#7a3a6e"/>
<circle cx="339.5" cy="284.0" r="0.45" fill="#3a1a35"/>
<circle cx="343.5" cy="295.8" r="0.65" fill="#66305e"/>
<circle cx="325.6" cy="316.1" r="0.85" fill="#66305e"/>
<circle cx="340.5" cy="283.1" r="0.65" fill="#3a1a35"/>
<circle cx="361.7" cy="323.5" r="0.75" fill="#74406c"/>
<circle cx="357.5" cy="307.7" r="0.5" fill="#552a4e"/>
<circle cx="324.8" cy="318.2" r="0.5" fill="#7a3a6e"/>
<circle cx="342.9" cy="279.3" r="0.5" fill="#552a4e"/>
<circle cx="355.3" cy="295.3" r="0.45" fill="#552a4e"/>
<circle cx="326.9" cy="306.1" r="0.5" fill="#7a3a6e"/>
<circle cx="365.1" cy="308.2" r="0.75" fill="#74406c"/>
<circle cx="343.7" cy="313.5" r="0.45" fill="#74406c"/>
<circle cx="345.0" cy="293.1" r="0.85" fill="#552a4e"/>
<circle cx="354.5" cy="326.0" r="0.5" fill="#3a1a35"/>
<circle cx="335.3" cy="301.6" r="0.65" fill="#552a4e"/>
<circle cx="349.0" cy="304.5" r="0.85" fill="#552a4e"/>
<circle cx="322.1" cy="301.9" r="0.75" fill="#3a1a35"/>
<circle cx="350.5" cy="305.4" r="0.75" fill="#3a1a35"/>
<circle cx="340.0" cy="319.7" r="0.45" fill="#3a1a35"/>
<circle cx="344.5" cy="297.9" r="0.75" fill="#74406c"/>
<circle cx="350.8" cy="325.6" r="0.85" fill="#66305e"/>
<circle cx="331.2" cy="277.3" r="0.75" fill="#552a4e"/>
<circle cx="328.3" cy="297.4" r="0.45" fill="#552a4e"/>
<circle cx="341.3" cy="276.1" r="0.45" fill="#552a4e"/>
<circle cx="334.0" cy="313.9" r="0.55" fill="#66305e"/>
<circle cx="322.9" cy="303.1" r="0.55" fill="#66305e"/>
<circle cx="352.4" cy="302.6" r="0.45" fill="#7a3a6e"/>
<circle cx="336.8" cy="281.6" r="0.75" fill="#74406c"/>
<circle cx="327.1" cy="307.3" r="0.75" fill="#3a1a35"/>
<circle cx="328.3" cy="280.3" r="0.85" fill="#552a4e"/>
<circle cx="366.9" cy="288.7" r="0.85" fill="#7a3a6e"/>
<circle cx="367.8" cy="306.8" r="0.65" fill="#552a4e"/>
<circle cx="356.5" cy="327.4" r="0.65" fill="#45203e"/>
<circle cx="340.7" cy="288.5" r="0.55" fill="#45203e"/>
<circle cx="362.0" cy="305.4" r="0.5" fill="#74406c"/>
<circle cx="359.1" cy="326.1" r="0.85" fill="#74406c"/>
<circle cx="346.6" cy="276.2" r="0.55" fill="#45203e"/>
<circle cx="345.7" cy="299.2" r="0.75" fill="#552a4e"/>
<circle cx="333.2" cy="320.1" r="0.55" fill="#45203e"/>
<circle cx="369.7" cy="302.6" r="0.5" fill="#45203e"/>
<circle cx="350.4" cy="282.3" r="0.45" fill="#552a4e"/>
<circle cx="351.9" cy="288.1" r="0.85" fill="#45203e"/>
<circle cx="330.5" cy="317.8" r="0.65" fill="#66305e"/>
<circle cx="346.2" cy="308.7" r="0.85" fill="#3a1a35"/>
<circle cx="345.5" cy="329.7" r="0.75" fill="#7a3a6e"/>
<circle cx="348.3" cy="279.9" r="0.85" fill="#66305e"/>
<circle cx="349.6" cy="326.6" r="0.45" fill="#7a3a6e"/>
<circle cx="343.1" cy="326.4" r="0.5" fill="#3a1a35"/>
<circle cx="322.7" cy="311.3" r="0.85" fill="#7a3a6e"/>
<circle cx="340.8" cy="319.8" r="0.55" fill="#45203e"/>
<circle cx="353.0" cy="300.2" r="0.5" fill="#7a3a6e"/>
<circle cx="342.9" cy="330.3" r="0.85" fill="#7a3a6e"/>
<circle cx="325.1" cy="289.8" r="0.75" fill="#552a4e"/>
<circle cx="339.3" cy="287.5" r="0.45" fill="#7a3a6e"/>
<circle cx="347.7" cy="303.7" r="0.55" fill="#552a4e"/>
<circle cx="350.6" cy="309.8" r="0.65" fill="#7a3a6e"/>
<circle cx="367.9" cy="297.8" r="0.55" fill="#74406c"/>
<circle cx="348.6" cy="310.4" r="0.55" fill="#74406c"/>
<circle cx="324.6" cy="315.2" r="0.65" fill="#7a3a6e"/>
<circle cx="363.7" cy="283.9" r="0.65" fill="#45203e"/>
<circle cx="338.9" cy="313.9" r="0.65" fill="#66305e"/>
<circle cx="354.8" cy="310.4" r="0.55" fill="#7a3a6e"/>
<circle cx="333.0" cy="321.7" r="0.5" fill="#552a4e"/>
<circle cx="354.0" cy="295.9" r="0.85" fill="#7a3a6e"/>
<circle cx="324.7" cy="290.2" r="0.5" fill="#552a4e"/>
<circle cx="350.1" cy="309.3" r="0.45" fill="#74406c"/>
<circle cx="344.4" cy="310.8" r="0.75" fill="#66305e"/>
<circle cx="359.0" cy="308.2" r="0.55" fill="#66305e"/>
<circle cx="360.3" cy="295.6" r="0.75" fill="#7a3a6e"/>
<circle cx="352.4" cy="317.9" r="0.85" fill="#45203e"/>
<circle cx="336.6" cy="310.8" r="0.85" fill="#552a4e"/>
<circle cx="363.6" cy="282.7" r="0.5" fill="#45203e"/>
<circle cx="346.5" cy="274.8" r="0.45" fill="#66305e"/>
<circle cx="328.6" cy="280.7" r="0.65" fill="#45203e"/>
<circle cx="346.1" cy="329.3" r="0.55" fill="#552a4e"/>
<circle cx="366.7" cy="309.6" r="0.55" fill="#66305e"/>
<circle cx="340.7" cy="321.6" r="0.65" fill="#552a4e"/>
<circle cx="361.0" cy="315.9" r="0.65" fill="#552a4e"/>
<circle cx="328.2" cy="313.5" r="0.5" fill="#66305e"/>
<circle cx="338.3" cy="305.5" r="0.5" fill="#552a4e"/>
<circle cx="342.7" cy="321.3" r="0.5" fill="#45203e"/>
<circle cx="337.4" cy="299.7" r="0.5" fill="#74406c"/>
<circle cx="343.8" cy="280.9" r="0.65" fill="#552a4e"/>
<circle cx="362.1" cy="309.2" r="0.45" fill="#66305e"/>
<circle cx="324.4" cy="299.5" r="0.55" fill="#66305e"/>
<circle cx="360.5" cy="314.1" r="0.65" fill="#74406c"/>
<circle cx="346.9" cy="292.2" r="0.65" fill="#7a3a6e"/>
<circle cx="339.2" cy="314.1" r="0.85" fill="#45203e"/>
<circle cx="366.4" cy="312.3" r="0.65" fill="#74406c"/>
<circle cx="343.7" cy="322.7" r="0.85" fill="#7a3a6e"/>
<text x="221.5" y="191.2" font-size="13.5" text-anchor="middle" fill="#1a1a1a" textLength="22" lengthAdjust="spacingAndGlyphs">Ctrl</text>
<text x="283.2" y="191.2" font-size="13.5" text-anchor="middle" fill="#1a1a1a" textLength="35.6" lengthAdjust="spacingAndGlyphs">TAMs</text>
<text x="342.6" y="176.0" font-size="13.5" text-anchor="middle" fill="#1a1a1a" textLength="43" lengthAdjust="spacingAndGlyphs">TAMs+</text>
<text x="344.5" y="192.8" font-size="13.5" text-anchor="middle" fill="#1a1a1a" textLength="47" lengthAdjust="spacingAndGlyphs">Chrysin</text>
<text transform="translate(186.6,228.7) rotate(-90)" font-size="13.5" text-anchor="middle" fill="#1a1a1a" textLength="32.6" lengthAdjust="spacingAndGlyphs">H549</text>
<text transform="translate(187.2,303.5) rotate(-90)" font-size="13.5" text-anchor="middle" fill="#1a1a1a" textLength="34.3" lengthAdjust="spacingAndGlyphs">H157</text>
<defs>
<linearGradient id="gF" x1="0" y1="0" x2="1" y2="1"><stop offset="0" stop-color="#c0a490"/><stop offset="0.5" stop-color="#aaa6a2"/><stop offset="1" stop-color="#8eacb8"/></linearGradient>
<linearGradient id="gFm" x1="0" y1="0" x2="0.3" y2="1"><stop offset="0" stop-color="#c0b0a8"/><stop offset="1" stop-color="#9ab2be"/></linearGradient>
<linearGradient id="gG" x1="0" y1="0" x2="1" y2="1"><stop offset="0" stop-color="#bea896"/><stop offset="0.5" stop-color="#b0b0aa"/><stop offset="1" stop-color="#9cb8bc"/></linearGradient>
<linearGradient id="gGm" x1="0" y1="0" x2="0.3" y2="1"><stop offset="0" stop-color="#b0a8a7"/><stop offset="1" stop-color="#a0b0b9"/></linearGradient>
<filter id="noise" x="0" y="0" width="100%" height="100%"><feTurbulence type="fractalNoise" baseFrequency="0.38" numOctaves="3" seed="3"/><feColorMatrix type="matrix" values="0 0 0 0 1  0 0 0 0 1  0 0 0 0 0.98  3.2 0 0 0 -1.55"/></filter>
<filter id="noise2" x="0" y="0" width="100%" height="100%"><feTurbulence type="fractalNoise" baseFrequency="0.5" numOctaves="2" seed="9"/><feColorMatrix type="matrix" values="0 0 0 0 0.25  0 0 0 0 0.22  0 0 0 0 0.2  0 -3.2 0 0 1.45"/></filter>
<linearGradient id="gG0" x1="0" y1="0" x2="1" y2="1"><stop offset="0" stop-color="#beb2a6"/><stop offset="0.5" stop-color="#b4b4b0"/><stop offset="1" stop-color="#a8bcbe"/></linearGradient>
<linearGradient id="gG0m" x1="0" y1="0" x2="0.3" y2="1"><stop offset="0" stop-color="#b6aeac"/><stop offset="1" stop-color="#a8b4bc"/></linearGradient>
</defs>
<rect x="46.2" y="435.3" width="67.6" height="50.2" fill="url(#gF)"/>
<rect x="46.2" y="435.3" width="19.6" height="50.2" filter="url(#noise2)" opacity="0.75"/>
<rect x="95.4" y="435.3" width="18.4" height="50.2" filter="url(#noise2)" opacity="0.75"/>
<rect x="46.2" y="435.3" width="19.6" height="50.2" filter="url(#noise)" opacity="0.38"/>
<rect x="95.4" y="435.3" width="18.4" height="50.2" filter="url(#noise)" opacity="0.38"/>
<rect x="65.8" y="435.3" width="29.6" height="50.2" fill="url(#gFm)"/>
<line x1="65.8" y1="435.3" x2="65.8" y2="485.5" stroke="#111" stroke-width="1.6"/>
<line x1="95.4" y1="435.3" x2="95.4" y2="485.5" stroke="#111" stroke-width="1.6"/>
<rect x="313.0" y="435.3" width="67.4" height="50.2" fill="url(#gG0)"/>
<rect x="313.0" y="435.3" width="18.4" height="50.2" filter="url(#noise2)" opacity="0.75"/>
<rect x="360.3" y="435.3" width="20.1" height="50.2" filter="url(#noise2)" opacity="0.75"/>
<rect x="313.0" y="435.3" width="18.4" height="50.2" filter="url(#noise)" opacity="0.38"/>
<rect x="360.3" y="435.3" width="20.1" height="50.2" filter="url(#noise)" opacity="0.38"/>
<rect x="331.4" y="435.3" width="28.9" height="50.2" fill="url(#gG0m)"/>
<line x1="331.4" y1="435.3" x2="331.4" y2="485.5" stroke="#111" stroke-width="1.6"/>
<line x1="360.3" y1="435.3" x2="360.3" y2="485.5" stroke="#111" stroke-width="1.6"/>
<rect x="46.2" y="494.2" width="67.6" height="51.1" fill="url(#gF)"/>
<rect x="46.2" y="494.2" width="27.5" height="51.1" filter="url(#noise2)" opacity="0.75"/>
<rect x="90.3" y="494.2" width="23.5" height="51.1" filter="url(#noise2)" opacity="0.75"/>
<rect x="46.2" y="494.2" width="27.5" height="51.1" filter="url(#noise)" opacity="0.38"/>
<rect x="90.3" y="494.2" width="23.5" height="51.1" filter="url(#noise)" opacity="0.38"/>
<rect x="73.7" y="494.2" width="16.6" height="51.1" fill="url(#gFm)"/>
<line x1="73.7" y1="494.2" x2="73.7" y2="545.3" stroke="#111" stroke-width="1.6"/>
<line x1="90.3" y1="494.2" x2="90.3" y2="545.3" stroke="#111" stroke-width="1.6"/>
<line x1="102.3" y1="539.8" x2="110.0" y2="539.8" stroke="#111" stroke-width="1.8"/>
<rect x="313.0" y="494.2" width="67.4" height="51.1" fill="url(#gG)"/>
<rect x="313.0" y="494.2" width="26.3" height="51.1" filter="url(#noise2)" opacity="0.75"/>
<rect x="358.0" y="494.2" width="22.4" height="51.1" filter="url(#noise2)" opacity="0.75"/>
<rect x="313.0" y="494.2" width="26.3" height="51.1" filter="url(#noise)" opacity="0.38"/>
<rect x="358.0" y="494.2" width="22.4" height="51.1" filter="url(#noise)" opacity="0.38"/>
<rect x="339.3" y="494.2" width="18.7" height="51.1" fill="url(#gGm)"/>
<line x1="339.3" y1="494.2" x2="339.3" y2="545.3" stroke="#111" stroke-width="1.6"/>
<line x1="358.0" y1="494.2" x2="358.0" y2="545.3" stroke="#111" stroke-width="1.6"/>
<line x1="368.9" y1="539.8" x2="376.6" y2="539.8" stroke="#111" stroke-width="1.8"/>
<rect x="120.4" y="435.3" width="67.6" height="50.2" fill="url(#gF)"/>
<rect x="120.4" y="435.3" width="23.1" height="50.2" filter="url(#noise2)" opacity="0.75"/>
<rect x="173.2" y="435.3" width="14.8" height="50.2" filter="url(#noise2)" opacity="0.75"/>
<rect x="120.4" y="435.3" width="23.1" height="50.2" filter="url(#noise)" opacity="0.38"/>
<rect x="173.2" y="435.3" width="14.8" height="50.2" filter="url(#noise)" opacity="0.38"/>
<rect x="143.5" y="435.3" width="29.7" height="50.2" fill="url(#gFm)"/>
<line x1="143.5" y1="435.3" x2="143.5" y2="485.5" stroke="#111" stroke-width="1.6"/>
<line x1="173.2" y1="435.3" x2="173.2" y2="485.5" stroke="#111" stroke-width="1.6"/>
<rect x="387.2" y="435.3" width="67.4" height="50.2" fill="url(#gG0)"/>
<rect x="387.2" y="435.3" width="19.4" height="50.2" filter="url(#noise2)" opacity="0.75"/>
<rect x="435.8" y="435.3" width="18.8" height="50.2" filter="url(#noise2)" opacity="0.75"/>
<rect x="387.2" y="435.3" width="19.4" height="50.2" filter="url(#noise)" opacity="0.38"/>
<rect x="435.8" y="435.3" width="18.8" height="50.2" filter="url(#noise)" opacity="0.38"/>
<rect x="406.6" y="435.3" width="29.2" height="50.2" fill="url(#gG0m)"/>
<line x1="406.6" y1="435.3" x2="406.6" y2="485.5" stroke="#111" stroke-width="1.6"/>
<line x1="435.8" y1="435.3" x2="435.8" y2="485.5" stroke="#111" stroke-width="1.6"/>
<rect x="120.4" y="494.2" width="67.6" height="51.1" fill="url(#gF)"/>
<rect x="120.4" y="494.2" width="29.6" height="51.1" filter="url(#noise2)" opacity="0.75"/>
<rect x="158.8" y="494.2" width="29.2" height="51.1" filter="url(#noise2)" opacity="0.75"/>
<rect x="120.4" y="494.2" width="29.6" height="51.1" filter="url(#noise)" opacity="0.38"/>
<rect x="158.8" y="494.2" width="29.2" height="51.1" filter="url(#noise)" opacity="0.38"/>
<rect x="150.0" y="494.2" width="8.8" height="51.1" fill="url(#gFm)"/>
<line x1="150.0" y1="494.2" x2="150.0" y2="545.3" stroke="#111" stroke-width="1.6"/>
<line x1="158.8" y1="494.2" x2="158.8" y2="545.3" stroke="#111" stroke-width="1.6"/>
<line x1="176.5" y1="539.8" x2="184.2" y2="539.8" stroke="#111" stroke-width="1.8"/>
<rect x="387.2" y="494.2" width="67.4" height="51.1" fill="url(#gG)"/>
<rect x="387.2" y="494.2" width="27.2" height="51.1" filter="url(#noise2)" opacity="0.75"/>
<rect x="425.3" y="494.2" width="29.3" height="51.1" filter="url(#noise2)" opacity="0.75"/>
<rect x="387.2" y="494.2" width="27.2" height="51.1" filter="url(#noise)" opacity="0.38"/>
<rect x="425.3" y="494.2" width="29.3" height="51.1" filter="url(#noise)" opacity="0.38"/>
<rect x="414.4" y="494.2" width="10.9" height="51.1" fill="url(#gGm)"/>
<line x1="414.4" y1="494.2" x2="414.4" y2="545.3" stroke="#111" stroke-width="1.6"/>
<line x1="425.3" y1="494.2" x2="425.3" y2="545.3" stroke="#111" stroke-width="1.6"/>
<line x1="443.1" y1="539.8" x2="450.8" y2="539.8" stroke="#111" stroke-width="1.8"/>
<rect x="194.6" y="435.3" width="67.7" height="50.2" fill="url(#gF)"/>
<rect x="194.6" y="435.3" width="18.8" height="50.2" filter="url(#noise2)" opacity="0.75"/>
<rect x="244.0" y="435.3" width="18.3" height="50.2" filter="url(#noise2)" opacity="0.75"/>
<rect x="194.6" y="435.3" width="18.8" height="50.2" filter="url(#noise)" opacity="0.38"/>
<rect x="244.0" y="435.3" width="18.3" height="50.2" filter="url(#noise)" opacity="0.38"/>
<rect x="213.4" y="435.3" width="30.6" height="50.2" fill="url(#gFm)"/>
<line x1="213.4" y1="435.3" x2="213.4" y2="485.5" stroke="#111" stroke-width="1.6"/>
<line x1="244.0" y1="435.3" x2="244.0" y2="485.5" stroke="#111" stroke-width="1.6"/>
<rect x="461.4" y="435.3" width="67.4" height="50.2" fill="url(#gG0)"/>
<rect x="461.4" y="435.3" width="19.4" height="50.2" filter="url(#noise2)" opacity="0.75"/>
<rect x="510.0" y="435.3" width="18.8" height="50.2" filter="url(#noise2)" opacity="0.75"/>
<rect x="461.4" y="435.3" width="19.4" height="50.2" filter="url(#noise)" opacity="0.38"/>
<rect x="510.0" y="435.3" width="18.8" height="50.2" filter="url(#noise)" opacity="0.38"/>
<rect x="480.8" y="435.3" width="29.2" height="50.2" fill="url(#gG0m)"/>
<line x1="480.8" y1="435.3" x2="480.8" y2="485.5" stroke="#111" stroke-width="1.6"/>
<line x1="510.0" y1="435.3" x2="510.0" y2="485.5" stroke="#111" stroke-width="1.6"/>
<rect x="194.6" y="494.2" width="67.7" height="51.1" fill="url(#gF)"/>
<rect x="194.6" y="494.2" width="27.4" height="51.1" filter="url(#noise2)" opacity="0.75"/>
<rect x="237.9" y="494.2" width="24.4" height="51.1" filter="url(#noise2)" opacity="0.75"/>
<rect x="194.6" y="494.2" width="27.4" height="51.1" filter="url(#noise)" opacity="0.38"/>
<rect x="237.9" y="494.2" width="24.4" height="51.1" filter="url(#noise)" opacity="0.38"/>
<rect x="222.0" y="494.2" width="15.9" height="51.1" fill="url(#gFm)"/>
<line x1="222.0" y1="494.2" x2="222.0" y2="545.3" stroke="#111" stroke-width="1.6"/>
<line x1="237.9" y1="494.2" x2="237.9" y2="545.3" stroke="#111" stroke-width="1.6"/>
<line x1="250.8" y1="539.8" x2="258.5" y2="539.8" stroke="#111" stroke-width="1.8"/>
<rect x="461.4" y="494.2" width="67.4" height="51.1" fill="url(#gG)"/>
<rect x="461.4" y="494.2" width="25.5" height="51.1" filter="url(#noise2)" opacity="0.75"/>
<rect x="505.2" y="494.2" width="23.6" height="51.1" filter="url(#noise2)" opacity="0.75"/>
<rect x="461.4" y="494.2" width="25.5" height="51.1" filter="url(#noise)" opacity="0.38"/>
<rect x="505.2" y="494.2" width="23.6" height="51.1" filter="url(#noise)" opacity="0.38"/>
<rect x="486.9" y="494.2" width="18.3" height="51.1" fill="url(#gGm)"/>
<line x1="486.9" y1="494.2" x2="486.9" y2="545.3" stroke="#111" stroke-width="1.6"/>
<line x1="505.2" y1="494.2" x2="505.2" y2="545.3" stroke="#111" stroke-width="1.6"/>
<line x1="517.3" y1="539.8" x2="525.0" y2="539.8" stroke="#111" stroke-width="1.8"/>
<rect x="46.2" y="553.2" width="67.6" height="51.5" fill="#dadac0"/>
<svg x="46.2" y="553.2" width="67.6" height="51.5">
<circle cx="54.9" cy="46.5" r="1.4" fill="#7c72d0" opacity="0.55"/>
<circle cx="54.9" cy="46.5" r="1.0" fill="#3a2cb8"/>
<circle cx="36.3" cy="12.1" r="1.4" fill="#7c72d0" opacity="0.55"/>
<circle cx="36.3" cy="12.1" r="1.0" fill="#281c96"/>
<circle cx="9.4" cy="18.8" r="1.3" fill="#7c72d0" opacity="0.55"/>
<circle cx="9.4" cy="18.8" r="0.9" fill="#3024a8"/>
<circle cx="50.0" cy="44.2" r="1.3" fill="#7c72d0" opacity="0.55"/>
<circle cx="50.0" cy="44.2" r="0.9" fill="#4134c4"/>
<circle cx="47.3" cy="0.8" r="1.4" fill="#7c72d0" opacity="0.55"/>
<circle cx="47.3" cy="0.8" r="1.0" fill="#3a2cb8"/>
<circle cx="30.4" cy="43.8" r="1.3" fill="#7c72d0" opacity="0.55"/>
<circle cx="30.4" cy="43.8" r="0.9" fill="#4134c4"/>
<circle cx="56.7" cy="15.7" r="1.3" fill="#7c72d0" opacity="0.55"/>
<circle cx="56.7" cy="15.7" r="0.9" fill="#4134c4"/>
<circle cx="63.5" cy="20.7" r="1.5" fill="#7c72d0" opacity="0.55"/>
<circle cx="63.5" cy="20.7" r="1.1" fill="#3a2cb8"/>
<circle cx="24.3" cy="24.9" r="1.2" fill="#7c72d0" opacity="0.55"/>
<circle cx="24.3" cy="24.9" r="0.8" fill="#3024a8"/>
<circle cx="34.6" cy="48.8" r="1.4" fill="#7c72d0" opacity="0.55"/>
<circle cx="34.6" cy="48.8" r="1.0" fill="#4134c4"/>
<circle cx="42.0" cy="11.1" r="1.5" fill="#7c72d0" opacity="0.55"/>
<circle cx="42.0" cy="11.1" r="1.1" fill="#4134c4"/>
<circle cx="20.9" cy="40.4" r="1.3" fill="#7c72d0" opacity="0.55"/>
<circle cx="20.9" cy="40.4" r="0.9" fill="#3024a8"/>
<circle cx="2.1" cy="9.1" r="1.3" fill="#7c72d0" opacity="0.55"/>
<circle cx="2.1" cy="9.1" r="0.9" fill="#3a2cb8"/>
<circle cx="38.4" cy="39.7" r="1.3" fill="#7c72d0" opacity="0.55"/>
<circle cx="38.4" cy="39.7" r="0.9" fill="#3a2cb8"/>
<circle cx="10.5" cy="41.8" r="1.4" fill="#7c72d0" opacity="0.55"/>
<circle cx="10.5" cy="41.8" r="1.0" fill="#4c40c8"/>
<circle cx="38.0" cy="36.7" r="1.2" fill="#7c72d0" opacity="0.55"/>
<circle cx="38.0" cy="36.7" r="0.8" fill="#4134c4"/>
<circle cx="38.0" cy="14.1" r="1.3" fill="#7c72d0" opacity="0.55"/>
<circle cx="38.0" cy="14.1" r="0.9" fill="#4134c4"/>
<circle cx="67.5" cy="7.0" r="1.3" fill="#7c72d0" opacity="0.55"/>
<circle cx="67.5" cy="7.0" r="0.9" fill="#3a2cb8"/>
<circle cx="11.3" cy="21.8" r="1.2" fill="#7c72d0" opacity="0.55"/>
<circle cx="11.3" cy="21.8" r="0.8" fill="#4c40c8"/>
<circle cx="53.4" cy="13.0" r="1.4" fill="#7c72d0" opacity="0.55"/>
<circle cx="53.4" cy="13.0" r="1.0" fill="#4134c4"/>
<circle cx="58.2" cy="49.3" r="1.3" fill="#7c72d0" opacity="0.55"/>
<circle cx="58.2" cy="49.3" r="0.9" fill="#4c40c8"/>
<circle cx="6.4" cy="22.4" r="1.5" fill="#7c72d0" opacity="0.55"/>
<circle cx="6.4" cy="22.4" r="1.1" fill="#3a2cb8"/>
<circle cx="61.1" cy="3.6" r="1.5" fill="#7c72d0" opacity="0.55"/>
<circle cx="61.1" cy="3.6" r="1.1" fill="#4134c4"/>
<circle cx="58.8" cy="21.6" r="1.4" fill="#7c72d0" opacity="0.55"/>
<circle cx="58.8" cy="21.6" r="1.0" fill="#3024a8"/>
<circle cx="54.6" cy="33.7" r="1.4" fill="#7c72d0" opacity="0.55"/>
<circle cx="54.6" cy="33.7" r="1.0" fill="#3a2cb8"/>
<circle cx="30.2" cy="25.7" r="1.4" fill="#7c72d0" opacity="0.55"/>
<circle cx="30.2" cy="25.7" r="1.0" fill="#3024a8"/>
<circle cx="60.8" cy="49.6" r="1.2" fill="#7c72d0" opacity="0.55"/>
<circle cx="60.8" cy="49.6" r="0.8" fill="#3a2cb8"/>
<circle cx="40.0" cy="13.0" r="1.3" fill="#7c72d0" opacity="0.55"/>
<circle cx="40.0" cy="13.0" r="0.9" fill="#3024a8"/>
<circle cx="43.5" cy="21.2" r="1.6" fill="#7c72d0" opacity="0.55"/>
<circle cx="43.5" cy="21.2" r="1.2" fill="#3024a8"/>
<circle cx="45.8" cy="3.8" r="1.5" fill="#7c72d0" opacity="0.55"/>
<circle cx="45.8" cy="3.8" r="1.1" fill="#281c96"/>
<circle cx="46.1" cy="10.9" r="1.3" fill="#7c72d0" opacity="0.55"/>
<circle cx="46.1" cy="10.9" r="0.9" fill="#3a2cb8"/>
<circle cx="30.1" cy="17.5" r="1.5" fill="#7c72d0" opacity="0.55"/>
<circle cx="30.1" cy="17.5" r="1.1" fill="#4134c4"/>
<circle cx="31.5" cy="16.7" r="1.6" fill="#7c72d0" opacity="0.55"/>
<circle cx="31.5" cy="16.7" r="1.2" fill="#4c40c8"/>
<circle cx="6.0" cy="50.0" r="1.4" fill="#7c72d0" opacity="0.55"/>
<circle cx="6.0" cy="50.0" r="1.0" fill="#4c40c8"/>
<circle cx="65.0" cy="46.4" r="1.3" fill="#7c72d0" opacity="0.55"/>
<circle cx="65.0" cy="46.4" r="0.9" fill="#3024a8"/>
<circle cx="25.7" cy="25.5" r="1.3" fill="#7c72d0" opacity="0.55"/>
<circle cx="25.7" cy="25.5" r="0.9" fill="#4134c4"/>
<circle cx="43.3" cy="45.3" r="1.2" fill="#7c72d0" opacity="0.55"/>
<circle cx="43.3" cy="45.3" r="0.8" fill="#281c96"/>
<circle cx="9.2" cy="20.9" r="1.3" fill="#7c72d0" opacity="0.55"/>
<circle cx="9.2" cy="20.9" r="0.9" fill="#3a2cb8"/>
<circle cx="31.7" cy="23.4" r="1.3" fill="#7c72d0" opacity="0.55"/>
<circle cx="31.7" cy="23.4" r="0.9" fill="#281c96"/>
<circle cx="24.0" cy="36.3" r="1.3" fill="#7c72d0" opacity="0.55"/>
<circle cx="24.0" cy="36.3" r="0.9" fill="#4134c4"/>
<circle cx="54.8" cy="35.7" r="1.5" fill="#7c72d0" opacity="0.55"/>
<circle cx="54.8" cy="35.7" r="1.1" fill="#4134c4"/>
<circle cx="26.6" cy="6.0" r="1.4" fill="#7c72d0" opacity="0.55"/>
<circle cx="26.6" cy="6.0" r="1.0" fill="#3024a8"/>
<circle cx="56.5" cy="33.1" r="1.4" fill="#7c72d0" opacity="0.55"/>
<circle cx="56.5" cy="33.1" r="1.0" fill="#281c96"/>
<circle cx="65.3" cy="10.1" r="1.5" fill="#7c72d0" opacity="0.55"/>
<circle cx="65.3" cy="10.1" r="1.1" fill="#3024a8"/>
<circle cx="43.9" cy="8.4" r="1.2" fill="#7c72d0" opacity="0.55"/>
<circle cx="43.9" cy="8.4" r="0.8" fill="#4c40c8"/>
<circle cx="57.4" cy="45.1" r="1.4" fill="#7c72d0" opacity="0.55"/>
<circle cx="57.4" cy="45.1" r="1.0" fill="#4134c4"/>
<circle cx="60.6" cy="30.7" r="1.3" fill="#7c72d0" opacity="0.55"/>
<circle cx="60.6" cy="30.7" r="0.9" fill="#281c96"/>
<circle cx="18.4" cy="3.6" r="1.2" fill="#7c72d0" opacity="0.55"/>
<circle cx="18.4" cy="3.6" r="0.8" fill="#4134c4"/>
<circle cx="5.8" cy="12.8" r="1.2" fill="#7c72d0" opacity="0.55"/>
<circle cx="5.8" cy="12.8" r="0.8" fill="#4134c4"/>
<circle cx="17.9" cy="36.6" r="1.6" fill="#7c72d0" opacity="0.55"/>
<circle cx="17.9" cy="36.6" r="1.2" fill="#3a2cb8"/>
<circle cx="1.6" cy="4.2" r="1.2" fill="#7c72d0" opacity="0.55"/>
<circle cx="1.6" cy="4.2" r="0.8" fill="#4134c4"/>
<circle cx="10.0" cy="17.3" r="1.4" fill="#7c72d0" opacity="0.55"/>
<circle cx="10.0" cy="17.3" r="1.0" fill="#3024a8"/>
<circle cx="19.7" cy="38.5" r="1.5" fill="#7c72d0" opacity="0.55"/>
<circle cx="19.7" cy="38.5" r="1.1" fill="#3024a8"/>
<circle cx="3.7" cy="4.3" r="1.2" fill="#7c72d0" opacity="0.55"/>
<circle cx="3.7" cy="4.3" r="0.8" fill="#3a2cb8"/>
<circle cx="4.3" cy="2.7" r="1.6" fill="#7c72d0" opacity="0.55"/>
<circle cx="4.3" cy="2.7" r="1.2" fill="#4134c4"/>
<circle cx="53.5" cy="37.5" r="1.3" fill="#7c72d0" opacity="0.55"/>
<circle cx="53.5" cy="37.5" r="0.9" fill="#4c40c8"/>
<circle cx="9.5" cy="31.2" r="1.6" fill="#7c72d0" opacity="0.55"/>
<circle cx="9.5" cy="31.2" r="1.2" fill="#3a2cb8"/>
<circle cx="50.8" cy="43.2" r="1.3" fill="#7c72d0" opacity="0.55"/>
<circle cx="50.8" cy="43.2" r="0.9" fill="#3024a8"/>
<circle cx="48.5" cy="11.8" r="1.5" fill="#7c72d0" opacity="0.55"/>
<circle cx="48.5" cy="11.8" r="1.1" fill="#4c40c8"/>
<circle cx="6.4" cy="30.2" r="1.2" fill="#7c72d0" opacity="0.55"/>
<circle cx="6.4" cy="30.2" r="0.8" fill="#4c40c8"/>
<circle cx="54.4" cy="40.8" r="1.3" fill="#7c72d0" opacity="0.55"/>
<circle cx="54.4" cy="40.8" r="0.9" fill="#3a2cb8"/>
<circle cx="55.8" cy="24.3" r="1.3" fill="#7c72d0" opacity="0.55"/>
<circle cx="55.8" cy="24.3" r="0.9" fill="#3a2cb8"/>
<circle cx="13.0" cy="30.0" r="1.2" fill="#7c72d0" opacity="0.55"/>
<circle cx="13.0" cy="30.0" r="0.8" fill="#4c40c8"/>
<circle cx="16.3" cy="13.3" r="1.3" fill="#7c72d0" opacity="0.55"/>
<circle cx="16.3" cy="13.3" r="0.9" fill="#281c96"/>
<circle cx="22.4" cy="2.9" r="1.3" fill="#7c72d0" opacity="0.55"/>
<circle cx="22.4" cy="2.9" r="0.9" fill="#3a2cb8"/>
<circle cx="14.9" cy="15.0" r="1.4" fill="#7c72d0" opacity="0.55"/>
<circle cx="14.9" cy="15.0" r="1.0" fill="#4c40c8"/>
<circle cx="41.6" cy="46.4" r="1.2" fill="#7c72d0" opacity="0.55"/>
<circle cx="41.6" cy="46.4" r="0.8" fill="#3024a8"/>
<circle cx="67.3" cy="46.3" r="1.2" fill="#7c72d0" opacity="0.55"/>
<circle cx="67.3" cy="46.3" r="0.8" fill="#3a2cb8"/>
<circle cx="15.3" cy="39.7" r="1.5" fill="#7c72d0" opacity="0.55"/>
<circle cx="15.3" cy="39.7" r="1.1" fill="#3024a8"/>
<circle cx="26.8" cy="26.9" r="1.3" fill="#7c72d0" opacity="0.55"/>
<circle cx="26.8" cy="26.9" r="0.9" fill="#281c96"/>
<circle cx="21.3" cy="15.1" r="1.3" fill="#7c72d0" opacity="0.55"/>
<circle cx="21.3" cy="15.1" r="0.9" fill="#4134c4"/>
<circle cx="10.2" cy="48.0" r="1.5" fill="#7c72d0" opacity="0.55"/>
<circle cx="10.2" cy="48.0" r="1.1" fill="#4c40c8"/>
<circle cx="2.0" cy="16.5" r="1.5" fill="#7c72d0" opacity="0.55"/>
<circle cx="2.0" cy="16.5" r="1.1" fill="#281c96"/>
<circle cx="58.8" cy="35.3" r="1.4" fill="#7c72d0" opacity="0.55"/>
<circle cx="58.8" cy="35.3" r="1.0" fill="#3024a8"/>
<circle cx="52.4" cy="5.5" r="1.2" fill="#7c72d0" opacity="0.55"/>
<circle cx="52.4" cy="5.5" r="0.8" fill="#4c40c8"/>
<circle cx="29.6" cy="3.4" r="1.5" fill="#7c72d0" opacity="0.55"/>
<circle cx="29.6" cy="3.4" r="1.1" fill="#281c96"/>
<circle cx="15.0" cy="16.4" r="1.4" fill="#7c72d0" opacity="0.55"/>
<circle cx="15.0" cy="16.4" r="1.0" fill="#4c40c8"/>
<circle cx="52.1" cy="19.1" r="1.4" fill="#7c72d0" opacity="0.55"/>
<circle cx="52.1" cy="19.1" r="1.0" fill="#3024a8"/>
<circle cx="41.8" cy="5.4" r="1.4" fill="#7c72d0" opacity="0.55"/>
<circle cx="41.8" cy="5.4" r="1.0" fill="#3024a8"/>
<circle cx="9.0" cy="44.2" r="1.6" fill="#7c72d0" opacity="0.55"/>
<circle cx="9.0" cy="44.2" r="1.2" fill="#281c96"/>
<circle cx="8.7" cy="24.0" r="1.4" fill="#7c72d0" opacity="0.55"/>
<circle cx="8.7" cy="24.0" r="1.0" fill="#3024a8"/>
<circle cx="44.5" cy="43.9" r="1.4" fill="#7c72d0" opacity="0.55"/>
<circle cx="44.5" cy="43.9" r="1.0" fill="#3024a8"/>
<circle cx="29.6" cy="4.4" r="1.3" fill="#7c72d0" opacity="0.55"/>
<circle cx="29.6" cy="4.4" r="0.9" fill="#3a2cb8"/>
<circle cx="48.4" cy="37.9" r="1.2" fill="#7c72d0" opacity="0.55"/>
<circle cx="48.4" cy="37.9" r="0.8" fill="#4134c4"/>
<circle cx="35.8" cy="36.1" r="1.3" fill="#7c72d0" opacity="0.55"/>
<circle cx="35.8" cy="36.1" r="0.9" fill="#281c96"/>
<circle cx="40.8" cy="20.9" r="1.3" fill="#7c72d0" opacity="0.55"/>
<circle cx="40.8" cy="20.9" r="0.9" fill="#4c40c8"/>
<circle cx="51.7" cy="21.9" r="1.3" fill="#7c72d0" opacity="0.55"/>
<circle cx="51.7" cy="21.9" r="0.9" fill="#3a2cb8"/>
<circle cx="60.2" cy="23.6" r="1.4" fill="#7c72d0" opacity="0.55"/>
<circle cx="60.2" cy="23.6" r="1.0" fill="#3a2cb8"/>
<circle cx="17.5" cy="38.1" r="1.6" fill="#7c72d0" opacity="0.55"/>
<circle cx="17.5" cy="38.1" r="1.2" fill="#4c40c8"/>
<circle cx="32.0" cy="49.3" r="1.4" fill="#7c72d0" opacity="0.55"/>
<circle cx="32.0" cy="49.3" r="1.0" fill="#3024a8"/>
<circle cx="51.3" cy="20.2" r="1.2" fill="#7c72d0" opacity="0.55"/>
<circle cx="51.3" cy="20.2" r="0.8" fill="#4134c4"/>
<circle cx="50.6" cy="47.1" r="1.4" fill="#7c72d0" opacity="0.55"/>
<circle cx="50.6" cy="47.1" r="1.0" fill="#281c96"/>
<circle cx="22.9" cy="12.8" r="1.3" fill="#7c72d0" opacity="0.55"/>
<circle cx="22.9" cy="12.8" r="0.9" fill="#4c40c8"/>
<circle cx="55.0" cy="35.8" r="1.6" fill="#7c72d0" opacity="0.55"/>
<circle cx="55.0" cy="35.8" r="1.2" fill="#281c96"/>
<circle cx="21.7" cy="8.9" r="1.5" fill="#7c72d0" opacity="0.55"/>
<circle cx="21.7" cy="8.9" r="1.1" fill="#3024a8"/>
<circle cx="46.1" cy="34.0" r="1.2" fill="#7c72d0" opacity="0.55"/>
<circle cx="46.1" cy="34.0" r="0.8" fill="#3a2cb8"/>
<circle cx="58.3" cy="29.6" r="1.2" fill="#7c72d0" opacity="0.55"/>
<circle cx="58.3" cy="29.6" r="0.8" fill="#3024a8"/>
<circle cx="41.0" cy="46.3" r="1.6" fill="#7c72d0" opacity="0.55"/>
<circle cx="41.0" cy="46.3" r="1.2" fill="#3024a8"/>
<circle cx="15.4" cy="16.4" r="1.5" fill="#7c72d0" opacity="0.55"/>
<circle cx="15.4" cy="16.4" r="1.1" fill="#3024a8"/>
<circle cx="20.4" cy="31.8" r="1.3" fill="#7c72d0" opacity="0.55"/>
<circle cx="20.4" cy="31.8" r="0.9" fill="#3024a8"/>
<circle cx="7.5" cy="11.7" r="1.6" fill="#7c72d0" opacity="0.55"/>
<circle cx="7.5" cy="11.7" r="1.2" fill="#4c40c8"/>
<circle cx="51.1" cy="39.6" r="1.4" fill="#7c72d0" opacity="0.55"/>
<circle cx="51.1" cy="39.6" r="1.0" fill="#4134c4"/>
<circle cx="55.2" cy="33.2" r="1.2" fill="#7c72d0" opacity="0.55"/>
<circle cx="55.2" cy="33.2" r="0.8" fill="#4134c4"/>
<circle cx="51.0" cy="41.9" r="1.3" fill="#7c72d0" opacity="0.55"/>
<circle cx="51.0" cy="41.9" r="0.9" fill="#3024a8"/>
<circle cx="25.7" cy="43.2" r="1.2" fill="#7c72d0" opacity="0.55"/>
<circle cx="25.7" cy="43.2" r="0.8" fill="#281c96"/>
<circle cx="48.2" cy="34.5" r="1.2" fill="#7c72d0" opacity="0.55"/>
<circle cx="48.2" cy="34.5" r="0.8" fill="#4134c4"/>
<circle cx="57.3" cy="45.3" r="1.2" fill="#7c72d0" opacity="0.55"/>
<circle cx="57.3" cy="45.3" r="0.8" fill="#281c96"/>
<circle cx="44.1" cy="2.5" r="1.5" fill="#7c72d0" opacity="0.55"/>
<circle cx="44.1" cy="2.5" r="1.1" fill="#281c96"/>
<circle cx="66.2" cy="48.7" r="1.4" fill="#7c72d0" opacity="0.55"/>
<circle cx="66.2" cy="48.7" r="1.0" fill="#4c40c8"/>
<circle cx="52.9" cy="44.8" r="1.2" fill="#7c72d0" opacity="0.55"/>
<circle cx="52.9" cy="44.8" r="0.8" fill="#3024a8"/>
<circle cx="24.4" cy="3.3" r="1.2" fill="#7c72d0" opacity="0.55"/>
<circle cx="24.4" cy="3.3" r="0.8" fill="#3a2cb8"/>
<circle cx="61.0" cy="1.3" r="1.3" fill="#7c72d0" opacity="0.55"/>
<circle cx="61.0" cy="1.3" r="0.9" fill="#281c96"/>
<circle cx="4.6" cy="38.2" r="1.2" fill="#7c72d0" opacity="0.55"/>
<circle cx="4.6" cy="38.2" r="0.8" fill="#4c40c8"/>
<circle cx="43.3" cy="16.0" r="1.4" fill="#7c72d0" opacity="0.55"/>
<circle cx="43.3" cy="16.0" r="1.0" fill="#4c40c8"/>
<circle cx="20.9" cy="32.6" r="1.6" fill="#7c72d0" opacity="0.55"/>
<circle cx="20.9" cy="32.6" r="1.2" fill="#4c40c8"/>
<circle cx="21.5" cy="17.8" r="1.5" fill="#7c72d0" opacity="0.55"/>
<circle cx="21.5" cy="17.8" r="1.1" fill="#3024a8"/>
<circle cx="38.8" cy="5.5" r="1.4" fill="#7c72d0" opacity="0.55"/>
<circle cx="38.8" cy="5.5" r="1.0" fill="#281c96"/>
<circle cx="4.6" cy="23.0" r="1.2" fill="#7c72d0" opacity="0.55"/>
<circle cx="4.6" cy="23.0" r="0.8" fill="#4134c4"/>
<circle cx="14.1" cy="18.7" r="1.3" fill="#7c72d0" opacity="0.55"/>
<circle cx="14.1" cy="18.7" r="0.9" fill="#3a2cb8"/>
<circle cx="44.3" cy="29.3" r="1.4" fill="#7c72d0" opacity="0.55"/>
<circle cx="44.3" cy="29.3" r="1.0" fill="#281c96"/>
<circle cx="29.2" cy="37.0" r="1.3" fill="#7c72d0" opacity="0.55"/>
<circle cx="29.2" cy="37.0" r="0.9" fill="#3a2cb8"/>
<circle cx="12.4" cy="15.0" r="1.4" fill="#7c72d0" opacity="0.55"/>
<circle cx="12.4" cy="15.0" r="1.0" fill="#3024a8"/>
<circle cx="6.9" cy="40.9" r="1.4" fill="#7c72d0" opacity="0.55"/>
<circle cx="6.9" cy="40.9" r="1.0" fill="#3a2cb8"/>
<circle cx="14.8" cy="45.5" r="1.6" fill="#7c72d0" opacity="0.55"/>
<circle cx="14.8" cy="45.5" r="1.2" fill="#4c40c8"/>
<circle cx="10.7" cy="32.8" r="1.2" fill="#7c72d0" opacity="0.55"/>
<circle cx="10.7" cy="32.8" r="0.8" fill="#4c40c8"/>
<circle cx="13.6" cy="15.5" r="1.3" fill="#7c72d0" opacity="0.55"/>
<circle cx="13.6" cy="15.5" r="0.9" fill="#4134c4"/>
<circle cx="33.2" cy="38.7" r="1.2" fill="#7c72d0" opacity="0.55"/>
<circle cx="33.2" cy="38.7" r="0.8" fill="#4134c4"/>
<circle cx="40.9" cy="19.5" r="1.5" fill="#7c72d0" opacity="0.55"/>
<circle cx="40.9" cy="19.5" r="1.1" fill="#4134c4"/>
<circle cx="12.4" cy="46.9" r="1.4" fill="#7c72d0" opacity="0.55"/>
<circle cx="12.4" cy="46.9" r="1.0" fill="#3a2cb8"/>
<circle cx="58.7" cy="18.6" r="1.6" fill="#7c72d0" opacity="0.55"/>
<circle cx="58.7" cy="18.6" r="1.2" fill="#4134c4"/>
<circle cx="34.1" cy="46.4" r="1.5" fill="#7c72d0" opacity="0.55"/>
<circle cx="34.1" cy="46.4" r="1.1" fill="#4134c4"/>
<circle cx="34.5" cy="48.0" r="1.4" fill="#7c72d0" opacity="0.55"/>
<circle cx="34.5" cy="48.0" r="1.0" fill="#4134c4"/>
<circle cx="10.4" cy="22.6" r="1.2" fill="#7c72d0" opacity="0.55"/>
<circle cx="10.4" cy="22.6" r="0.8" fill="#4134c4"/>
<circle cx="40.7" cy="13.3" r="1.3" fill="#7c72d0" opacity="0.55"/>
<circle cx="40.7" cy="13.3" r="0.9" fill="#4c40c8"/>
<circle cx="14.6" cy="32.4" r="1.2" fill="#7c72d0" opacity="0.55"/>
<circle cx="14.6" cy="32.4" r="0.8" fill="#3a2cb8"/>
<circle cx="54.3" cy="46.5" r="1.2" fill="#7c72d0" opacity="0.55"/>
<circle cx="54.3" cy="46.5" r="0.8" fill="#4134c4"/>
<circle cx="36.4" cy="12.0" r="1.5" fill="#7c72d0" opacity="0.55"/>
<circle cx="36.4" cy="12.0" r="1.1" fill="#4134c4"/>
<circle cx="40.8" cy="46.6" r="1.2" fill="#7c72d0" opacity="0.55"/>
<circle cx="40.8" cy="46.6" r="0.8" fill="#281c96"/>
<circle cx="48.8" cy="5.7" r="1.4" fill="#7c72d0" opacity="0.55"/>
<circle cx="48.8" cy="5.7" r="1.0" fill="#281c96"/>
<circle cx="48.0" cy="14.0" r="1.5" fill="#7c72d0" opacity="0.55"/>
<circle cx="48.0" cy="14.0" r="1.1" fill="#281c96"/>
<circle cx="3.6" cy="48.6" r="1.3" fill="#7c72d0" opacity="0.55"/>
<circle cx="3.6" cy="48.6" r="0.9" fill="#3a2cb8"/>
<circle cx="58.7" cy="46.2" r="1.4" fill="#7c72d0" opacity="0.55"/>
<circle cx="58.7" cy="46.2" r="1.0" fill="#4c40c8"/>
<circle cx="9.6" cy="23.7" r="1.4" fill="#7c72d0" opacity="0.55"/>
<circle cx="9.6" cy="23.7" r="1.0" fill="#281c96"/>
<circle cx="22.7" cy="39.5" r="1.3" fill="#7c72d0" opacity="0.55"/>
<circle cx="22.7" cy="39.5" r="0.9" fill="#4134c4"/>
<circle cx="15.4" cy="44.8" r="1.3" fill="#7c72d0" opacity="0.55"/>
<circle cx="15.4" cy="44.8" r="0.9" fill="#4c40c8"/>
<circle cx="20.5" cy="8.3" r="1.2" fill="#7c72d0" opacity="0.55"/>
<circle cx="20.5" cy="8.3" r="0.8" fill="#3a2cb8"/>
<circle cx="9.6" cy="30.4" r="1.2" fill="#7c72d0" opacity="0.55"/>
<circle cx="9.6" cy="30.4" r="0.8" fill="#3024a8"/>
<circle cx="12.4" cy="24.7" r="1.3" fill="#7c72d0" opacity="0.55"/>
<circle cx="12.4" cy="24.7" r="0.9" fill="#281c96"/>
<circle cx="32.9" cy="48.7" r="1.4" fill="#7c72d0" opacity="0.55"/>
<circle cx="32.9" cy="48.7" r="1.0" fill="#4134c4"/>
<circle cx="31.9" cy="26.2" r="1.4" fill="#7c72d0" opacity="0.55"/>
<circle cx="31.9" cy="26.2" r="1.0" fill="#4134c4"/>
<circle cx="5.0" cy="36.1" r="1.6" fill="#7c72d0" opacity="0.55"/>
<circle cx="5.0" cy="36.1" r="1.2" fill="#4c40c8"/>
<circle cx="6.8" cy="37.8" r="1.3" fill="#7c72d0" opacity="0.55"/>
<circle cx="6.8" cy="37.8" r="0.9" fill="#4c40c8"/>
<circle cx="43.6" cy="24.0" r="1.5" fill="#7c72d0" opacity="0.55"/>
<circle cx="43.6" cy="24.0" r="1.1" fill="#281c96"/>
<circle cx="0.4" cy="43.7" r="1.5" fill="#7c72d0" opacity="0.55"/>
<circle cx="0.4" cy="43.7" r="1.1" fill="#3024a8"/>
<circle cx="34.4" cy="36.7" r="1.5" fill="#7c72d0" opacity="0.55"/>
<circle cx="34.4" cy="36.7" r="1.1" fill="#4c40c8"/>
<circle cx="41.9" cy="8.1" r="1.4" fill="#7c72d0" opacity="0.55"/>
<circle cx="41.9" cy="8.1" r="1.0" fill="#3a2cb8"/>
<circle cx="64.2" cy="7.5" r="1.3" fill="#7c72d0" opacity="0.55"/>
<circle cx="64.2" cy="7.5" r="0.9" fill="#4c40c8"/>
<circle cx="53.5" cy="30.4" r="1.5" fill="#7c72d0" opacity="0.55"/>
<circle cx="53.5" cy="30.4" r="1.1" fill="#3024a8"/>
<circle cx="54.2" cy="8.1" r="1.4" fill="#7c72d0" opacity="0.55"/>
<circle cx="54.2" cy="8.1" r="1.0" fill="#4134c4"/>
<circle cx="19.3" cy="7.0" r="1.6" fill="#7c72d0" opacity="0.55"/>
<circle cx="19.3" cy="7.0" r="1.2" fill="#3a2cb8"/>
<circle cx="41.7" cy="41.5" r="1.3" fill="#7c72d0" opacity="0.55"/>
<circle cx="41.7" cy="41.5" r="0.9" fill="#3024a8"/>
<circle cx="24.6" cy="46.1" r="1.3" fill="#7c72d0" opacity="0.55"/>
<circle cx="24.6" cy="46.1" r="0.9" fill="#281c96"/>
<circle cx="53.5" cy="16.7" r="1.6" fill="#7c72d0" opacity="0.55"/>
<circle cx="53.5" cy="16.7" r="1.2" fill="#3a2cb8"/>
<circle cx="22.5" cy="19.9" r="1.4" fill="#7c72d0" opacity="0.55"/>
<circle cx="22.5" cy="19.9" r="1.0" fill="#3024a8"/>
<circle cx="1.1" cy="41.2" r="1.2" fill="#7c72d0" opacity="0.55"/>
<circle cx="1.1" cy="41.2" r="0.8" fill="#281c96"/>
<circle cx="0.8" cy="45.9" r="1.3" fill="#7c72d0" opacity="0.55"/>
<circle cx="0.8" cy="45.9" r="0.9" fill="#4c40c8"/>
<circle cx="10.8" cy="35.5" r="1.2" fill="#7c72d0" opacity="0.55"/>
<circle cx="10.8" cy="35.5" r="0.8" fill="#4134c4"/>
<circle cx="14.2" cy="37.9" r="1.2" fill="#7c72d0" opacity="0.55"/>
<circle cx="14.2" cy="37.9" r="0.8" fill="#3024a8"/>
<circle cx="15.4" cy="3.0" r="1.3" fill="#7c72d0" opacity="0.55"/>
<circle cx="15.4" cy="3.0" r="0.9" fill="#3a2cb8"/>
<circle cx="64.0" cy="28.4" r="1.6" fill="#7c72d0" opacity="0.55"/>
<circle cx="64.0" cy="28.4" r="1.2" fill="#3a2cb8"/>
<circle cx="52.2" cy="7.7" r="1.5" fill="#7c72d0" opacity="0.55"/>
<circle cx="52.2" cy="7.7" r="1.1" fill="#3a2cb8"/>
<circle cx="50.6" cy="44.2" r="1.3" fill="#7c72d0" opacity="0.55"/>
<circle cx="50.6" cy="44.2" r="0.9" fill="#3a2cb8"/>
<circle cx="42.6" cy="36.5" r="1.2" fill="#7c72d0" opacity="0.55"/>
<circle cx="42.6" cy="36.5" r="0.8" fill="#4134c4"/>
<circle cx="66.0" cy="2.0" r="1.2" fill="#7c72d0" opacity="0.55"/>
<circle cx="66.0" cy="2.0" r="0.8" fill="#3a2cb8"/>
<circle cx="2.6" cy="16.9" r="1.5" fill="#7c72d0" opacity="0.55"/>
<circle cx="2.6" cy="16.9" r="1.1" fill="#4134c4"/>
</svg>
<line x1="102.3" y1="601.2" x2="110.0" y2="601.2" stroke="#111" stroke-width="1.8"/>
<rect x="120.4" y="553.2" width="67.6" height="51.5" fill="#dadac0"/>
<svg x="120.4" y="553.2" width="67.6" height="51.5">
<circle cx="7.6" cy="8.3" r="1.2" fill="#7c72d0" opacity="0.55"/>
<circle cx="7.6" cy="8.3" r="0.8" fill="#281c96"/>
<circle cx="24.2" cy="48.5" r="1.2" fill="#7c72d0" opacity="0.55"/>
<circle cx="24.2" cy="48.5" r="0.8" fill="#3a2cb8"/>
<circle cx="66.2" cy="22.4" r="1.3" fill="#7c72d0" opacity="0.55"/>
<circle cx="66.2" cy="22.4" r="0.9" fill="#3024a8"/>
<circle cx="30.2" cy="24.9" r="1.2" fill="#7c72d0" opacity="0.55"/>
<circle cx="30.2" cy="24.9" r="0.8" fill="#4134c4"/>
<circle cx="11.2" cy="46.0" r="1.5" fill="#7c72d0" opacity="0.55"/>
<circle cx="11.2" cy="46.0" r="1.1" fill="#3a2cb8"/>
<circle cx="30.1" cy="32.0" r="1.6" fill="#7c72d0" opacity="0.55"/>
<circle cx="30.1" cy="32.0" r="1.2" fill="#4c40c8"/>
<circle cx="37.0" cy="45.5" r="1.2" fill="#7c72d0" opacity="0.55"/>
<circle cx="37.0" cy="45.5" r="0.8" fill="#4c40c8"/>
<circle cx="59.6" cy="31.0" r="1.3" fill="#7c72d0" opacity="0.55"/>
<circle cx="59.6" cy="31.0" r="0.9" fill="#4c40c8"/>
<circle cx="34.6" cy="7.6" r="1.2" fill="#7c72d0" opacity="0.55"/>
<circle cx="34.6" cy="7.6" r="0.8" fill="#281c96"/>
<circle cx="34.9" cy="25.6" r="1.5" fill="#7c72d0" opacity="0.55"/>
<circle cx="34.9" cy="25.6" r="1.1" fill="#4134c4"/>
<circle cx="46.7" cy="0.2" r="1.5" fill="#7c72d0" opacity="0.55"/>
<circle cx="46.7" cy="0.2" r="1.1" fill="#281c96"/>
<circle cx="63.5" cy="43.5" r="1.3" fill="#7c72d0" opacity="0.55"/>
<circle cx="63.5" cy="43.5" r="0.9" fill="#4134c4"/>
<circle cx="38.5" cy="37.5" r="1.3" fill="#7c72d0" opacity="0.55"/>
<circle cx="38.5" cy="37.5" r="0.9" fill="#4c40c8"/>
<circle cx="64.6" cy="47.8" r="1.4" fill="#7c72d0" opacity="0.55"/>
<circle cx="64.6" cy="47.8" r="1.0" fill="#3024a8"/>
<circle cx="60.5" cy="9.8" r="1.6" fill="#7c72d0" opacity="0.55"/>
<circle cx="60.5" cy="9.8" r="1.2" fill="#4134c4"/>
<circle cx="53.6" cy="40.6" r="1.5" fill="#7c72d0" opacity="0.55"/>
<circle cx="53.6" cy="40.6" r="1.1" fill="#281c96"/>
<circle cx="46.5" cy="16.4" r="1.5" fill="#7c72d0" opacity="0.55"/>
<circle cx="46.5" cy="16.4" r="1.1" fill="#3024a8"/>
<circle cx="54.2" cy="17.3" r="1.4" fill="#7c72d0" opacity="0.55"/>
<circle cx="54.2" cy="17.3" r="1.0" fill="#281c96"/>
<circle cx="33.0" cy="14.2" r="1.6" fill="#7c72d0" opacity="0.55"/>
<circle cx="33.0" cy="14.2" r="1.2" fill="#3a2cb8"/>
<circle cx="33.3" cy="42.7" r="1.2" fill="#7c72d0" opacity="0.55"/>
<circle cx="33.3" cy="42.7" r="0.8" fill="#4c40c8"/>
<circle cx="51.4" cy="29.5" r="1.6" fill="#7c72d0" opacity="0.55"/>
<circle cx="51.4" cy="29.5" r="1.2" fill="#281c96"/>
<circle cx="34.3" cy="36.3" r="1.2" fill="#7c72d0" opacity="0.55"/>
<circle cx="34.3" cy="36.3" r="0.8" fill="#281c96"/>
<circle cx="52.5" cy="5.3" r="1.3" fill="#7c72d0" opacity="0.55"/>
<circle cx="52.5" cy="5.3" r="0.9" fill="#3a2cb8"/>
<circle cx="41.0" cy="22.4" r="1.5" fill="#7c72d0" opacity="0.55"/>
<circle cx="41.0" cy="22.4" r="1.1" fill="#3024a8"/>
<circle cx="5.5" cy="23.1" r="1.3" fill="#7c72d0" opacity="0.55"/>
<circle cx="5.5" cy="23.1" r="0.9" fill="#3a2cb8"/>
<circle cx="33.4" cy="37.2" r="1.2" fill="#7c72d0" opacity="0.55"/>
<circle cx="33.4" cy="37.2" r="0.8" fill="#3024a8"/>
<circle cx="18.8" cy="19.1" r="1.6" fill="#7c72d0" opacity="0.55"/>
<circle cx="18.8" cy="19.1" r="1.2" fill="#281c96"/>
<circle cx="67.5" cy="22.0" r="1.4" fill="#7c72d0" opacity="0.55"/>
<circle cx="67.5" cy="22.0" r="1.0" fill="#3024a8"/>
<circle cx="30.8" cy="44.5" r="1.3" fill="#7c72d0" opacity="0.55"/>
<circle cx="30.8" cy="44.5" r="0.9" fill="#4c40c8"/>
<circle cx="64.8" cy="2.4" r="1.5" fill="#7c72d0" opacity="0.55"/>
<circle cx="64.8" cy="2.4" r="1.1" fill="#3024a8"/>
<circle cx="3.6" cy="50.9" r="1.4" fill="#7c72d0" opacity="0.55"/>
<circle cx="3.6" cy="50.9" r="1.0" fill="#4134c4"/>
<circle cx="23.8" cy="43.8" r="1.5" fill="#7c72d0" opacity="0.55"/>
<circle cx="23.8" cy="43.8" r="1.1" fill="#3024a8"/>
<circle cx="55.1" cy="1.7" r="1.4" fill="#7c72d0" opacity="0.55"/>
<circle cx="55.1" cy="1.7" r="1.0" fill="#3a2cb8"/>
<circle cx="5.5" cy="40.7" r="1.5" fill="#7c72d0" opacity="0.55"/>
<circle cx="5.5" cy="40.7" r="1.1" fill="#4134c4"/>
<circle cx="31.4" cy="24.2" r="1.5" fill="#7c72d0" opacity="0.55"/>
<circle cx="31.4" cy="24.2" r="1.1" fill="#3024a8"/>
<circle cx="23.2" cy="48.0" r="1.2" fill="#7c72d0" opacity="0.55"/>
<circle cx="23.2" cy="48.0" r="0.8" fill="#4134c4"/>
<circle cx="43.6" cy="39.0" r="1.4" fill="#7c72d0" opacity="0.55"/>
<circle cx="43.6" cy="39.0" r="1.0" fill="#281c96"/>
<circle cx="17.6" cy="8.5" r="1.6" fill="#7c72d0" opacity="0.55"/>
<circle cx="17.6" cy="8.5" r="1.2" fill="#4134c4"/>
<circle cx="32.0" cy="40.5" r="1.3" fill="#7c72d0" opacity="0.55"/>
<circle cx="32.0" cy="40.5" r="0.9" fill="#3a2cb8"/>
<circle cx="15.0" cy="46.7" r="1.4" fill="#7c72d0" opacity="0.55"/>
<circle cx="15.0" cy="46.7" r="1.0" fill="#3a2cb8"/>
<circle cx="42.6" cy="27.4" r="1.5" fill="#7c72d0" opacity="0.55"/>
<circle cx="42.6" cy="27.4" r="1.1" fill="#4c40c8"/>
<circle cx="14.3" cy="21.4" r="1.4" fill="#7c72d0" opacity="0.55"/>
<circle cx="14.3" cy="21.4" r="1.0" fill="#3024a8"/>
<circle cx="46.1" cy="38.4" r="1.3" fill="#7c72d0" opacity="0.55"/>
<circle cx="46.1" cy="38.4" r="0.9" fill="#4c40c8"/>
<circle cx="32.5" cy="27.3" r="1.2" fill="#7c72d0" opacity="0.55"/>
<circle cx="32.5" cy="27.3" r="0.8" fill="#3024a8"/>
<circle cx="10.8" cy="35.2" r="1.4" fill="#7c72d0" opacity="0.55"/>
<circle cx="10.8" cy="35.2" r="1.0" fill="#4c40c8"/>
<circle cx="60.1" cy="47.1" r="1.6" fill="#7c72d0" opacity="0.55"/>
<circle cx="60.1" cy="47.1" r="1.2" fill="#4c40c8"/>
<circle cx="33.3" cy="13.8" r="1.3" fill="#7c72d0" opacity="0.55"/>
<circle cx="33.3" cy="13.8" r="0.9" fill="#281c96"/>
<circle cx="33.6" cy="50.2" r="1.3" fill="#7c72d0" opacity="0.55"/>
<circle cx="33.6" cy="50.2" r="0.9" fill="#3024a8"/>
<circle cx="59.9" cy="18.9" r="1.6" fill="#7c72d0" opacity="0.55"/>
<circle cx="59.9" cy="18.9" r="1.2" fill="#4134c4"/>
<circle cx="33.7" cy="14.6" r="1.3" fill="#7c72d0" opacity="0.55"/>
<circle cx="33.7" cy="14.6" r="0.9" fill="#281c96"/>
<circle cx="37.0" cy="16.2" r="1.2" fill="#7c72d0" opacity="0.55"/>
<circle cx="37.0" cy="16.2" r="0.8" fill="#4134c4"/>
<circle cx="31.0" cy="49.3" r="1.4" fill="#7c72d0" opacity="0.55"/>
<circle cx="31.0" cy="49.3" r="1.0" fill="#3024a8"/>
<circle cx="38.1" cy="48.8" r="1.5" fill="#7c72d0" opacity="0.55"/>
<circle cx="38.1" cy="48.8" r="1.1" fill="#3024a8"/>
<circle cx="32.5" cy="47.9" r="1.2" fill="#7c72d0" opacity="0.55"/>
<circle cx="32.5" cy="47.9" r="0.8" fill="#4134c4"/>
<circle cx="24.4" cy="31.1" r="1.3" fill="#7c72d0" opacity="0.55"/>
<circle cx="24.4" cy="31.1" r="0.9" fill="#4134c4"/>
<circle cx="47.9" cy="30.2" r="1.3" fill="#7c72d0" opacity="0.55"/>
<circle cx="47.9" cy="30.2" r="0.9" fill="#4134c4"/>
<circle cx="37.4" cy="10.6" r="1.4" fill="#7c72d0" opacity="0.55"/>
<circle cx="37.4" cy="10.6" r="1.0" fill="#3a2cb8"/>
<circle cx="50.9" cy="12.2" r="1.2" fill="#7c72d0" opacity="0.55"/>
<circle cx="50.9" cy="12.2" r="0.8" fill="#3024a8"/>
<circle cx="62.6" cy="51.1" r="1.5" fill="#7c72d0" opacity="0.55"/>
<circle cx="62.6" cy="51.1" r="1.1" fill="#3a2cb8"/>
<circle cx="18.0" cy="50.2" r="1.2" fill="#7c72d0" opacity="0.55"/>
<circle cx="18.0" cy="50.2" r="0.8" fill="#3024a8"/>
<circle cx="21.2" cy="29.3" r="1.2" fill="#7c72d0" opacity="0.55"/>
<circle cx="21.2" cy="29.3" r="0.8" fill="#4c40c8"/>
<circle cx="23.7" cy="36.6" r="1.4" fill="#7c72d0" opacity="0.55"/>
<circle cx="23.7" cy="36.6" r="1.0" fill="#4134c4"/>
<circle cx="0.9" cy="10.4" r="1.2" fill="#7c72d0" opacity="0.55"/>
<circle cx="0.9" cy="10.4" r="0.8" fill="#4134c4"/>
<circle cx="6.9" cy="48.0" r="1.3" fill="#7c72d0" opacity="0.55"/>
<circle cx="6.9" cy="48.0" r="0.9" fill="#281c96"/>
<circle cx="64.7" cy="34.8" r="1.3" fill="#7c72d0" opacity="0.55"/>
<circle cx="64.7" cy="34.8" r="0.9" fill="#3a2cb8"/>
<circle cx="4.5" cy="42.8" r="1.6" fill="#7c72d0" opacity="0.55"/>
<circle cx="4.5" cy="42.8" r="1.2" fill="#3a2cb8"/>
<circle cx="56.1" cy="46.0" r="1.4" fill="#7c72d0" opacity="0.55"/>
<circle cx="56.1" cy="46.0" r="1.0" fill="#4c40c8"/>
<circle cx="24.6" cy="34.1" r="1.6" fill="#7c72d0" opacity="0.55"/>
<circle cx="24.6" cy="34.1" r="1.2" fill="#3a2cb8"/>
<circle cx="67.2" cy="32.1" r="1.4" fill="#7c72d0" opacity="0.55"/>
<circle cx="67.2" cy="32.1" r="1.0" fill="#4134c4"/>
<circle cx="25.1" cy="18.8" r="1.2" fill="#7c72d0" opacity="0.55"/>
<circle cx="25.1" cy="18.8" r="0.8" fill="#3024a8"/>
<circle cx="17.2" cy="7.3" r="1.2" fill="#7c72d0" opacity="0.55"/>
<circle cx="17.2" cy="7.3" r="0.8" fill="#4134c4"/>
<circle cx="7.5" cy="41.0" r="1.2" fill="#7c72d0" opacity="0.55"/>
<circle cx="7.5" cy="41.0" r="0.8" fill="#3024a8"/>
<circle cx="34.0" cy="29.6" r="1.4" fill="#7c72d0" opacity="0.55"/>
<circle cx="34.0" cy="29.6" r="1.0" fill="#4c40c8"/>
<circle cx="31.3" cy="38.6" r="1.5" fill="#7c72d0" opacity="0.55"/>
<circle cx="31.3" cy="38.6" r="1.1" fill="#4134c4"/>
<circle cx="28.6" cy="12.2" r="1.5" fill="#7c72d0" opacity="0.55"/>
<circle cx="28.6" cy="12.2" r="1.1" fill="#4134c4"/>
<circle cx="60.5" cy="18.4" r="1.5" fill="#7c72d0" opacity="0.55"/>
<circle cx="60.5" cy="18.4" r="1.1" fill="#4c40c8"/>
<circle cx="39.8" cy="22.1" r="1.4" fill="#7c72d0" opacity="0.55"/>
<circle cx="39.8" cy="22.1" r="1.0" fill="#3a2cb8"/>
<circle cx="15.0" cy="34.5" r="1.5" fill="#7c72d0" opacity="0.55"/>
<circle cx="15.0" cy="34.5" r="1.1" fill="#4c40c8"/>
<circle cx="66.8" cy="12.3" r="1.2" fill="#7c72d0" opacity="0.55"/>
<circle cx="66.8" cy="12.3" r="0.8" fill="#4134c4"/>
<circle cx="13.4" cy="13.4" r="1.5" fill="#7c72d0" opacity="0.55"/>
<circle cx="13.4" cy="13.4" r="1.1" fill="#3a2cb8"/>
<circle cx="22.9" cy="4.1" r="1.5" fill="#7c72d0" opacity="0.55"/>
<circle cx="22.9" cy="4.1" r="1.1" fill="#3a2cb8"/>
<circle cx="34.6" cy="48.2" r="1.3" fill="#7c72d0" opacity="0.55"/>
<circle cx="34.6" cy="48.2" r="0.9" fill="#4134c4"/>
<circle cx="11.6" cy="22.2" r="1.6" fill="#7c72d0" opacity="0.55"/>
<circle cx="11.6" cy="22.2" r="1.2" fill="#3a2cb8"/>
<circle cx="47.7" cy="22.1" r="1.2" fill="#7c72d0" opacity="0.55"/>
<circle cx="47.7" cy="22.1" r="0.8" fill="#3a2cb8"/>
<circle cx="33.6" cy="51.0" r="1.5" fill="#7c72d0" opacity="0.55"/>
<circle cx="33.6" cy="51.0" r="1.1" fill="#4134c4"/>
<circle cx="55.3" cy="40.7" r="1.3" fill="#7c72d0" opacity="0.55"/>
<circle cx="55.3" cy="40.7" r="0.9" fill="#3a2cb8"/>
<circle cx="22.7" cy="5.3" r="1.5" fill="#7c72d0" opacity="0.55"/>
<circle cx="22.7" cy="5.3" r="1.1" fill="#4134c4"/>
<circle cx="34.5" cy="8.7" r="1.5" fill="#7c72d0" opacity="0.55"/>
<circle cx="34.5" cy="8.7" r="1.1" fill="#4c40c8"/>
<circle cx="17.5" cy="23.4" r="1.3" fill="#7c72d0" opacity="0.55"/>
<circle cx="17.5" cy="23.4" r="0.9" fill="#4c40c8"/>
<circle cx="0.2" cy="11.5" r="1.3" fill="#7c72d0" opacity="0.55"/>
<circle cx="0.2" cy="11.5" r="0.9" fill="#4134c4"/>
<circle cx="27.6" cy="27.6" r="1.3" fill="#7c72d0" opacity="0.55"/>
<circle cx="27.6" cy="27.6" r="0.9" fill="#3024a8"/>
<circle cx="22.6" cy="13.7" r="1.5" fill="#7c72d0" opacity="0.55"/>
<circle cx="22.6" cy="13.7" r="1.1" fill="#4134c4"/>
<circle cx="2.6" cy="21.5" r="1.5" fill="#7c72d0" opacity="0.55"/>
<circle cx="2.6" cy="21.5" r="1.1" fill="#3a2cb8"/>
<circle cx="10.5" cy="3.6" r="1.4" fill="#7c72d0" opacity="0.55"/>
<circle cx="10.5" cy="3.6" r="1.0" fill="#3024a8"/>
<circle cx="62.2" cy="5.1" r="1.4" fill="#7c72d0" opacity="0.55"/>
<circle cx="62.2" cy="5.1" r="1.0" fill="#4c40c8"/>
<circle cx="17.1" cy="5.1" r="1.6" fill="#7c72d0" opacity="0.55"/>
<circle cx="17.1" cy="5.1" r="1.2" fill="#281c96"/>
<circle cx="54.7" cy="15.0" r="1.6" fill="#7c72d0" opacity="0.55"/>
<circle cx="54.7" cy="15.0" r="1.2" fill="#4c40c8"/>
<circle cx="8.6" cy="3.5" r="1.3" fill="#7c72d0" opacity="0.55"/>
<circle cx="8.6" cy="3.5" r="0.9" fill="#3a2cb8"/>
<circle cx="47.1" cy="29.8" r="1.6" fill="#7c72d0" opacity="0.55"/>
<circle cx="47.1" cy="29.8" r="1.2" fill="#3a2cb8"/>
<circle cx="53.4" cy="40.7" r="1.2" fill="#7c72d0" opacity="0.55"/>
<circle cx="53.4" cy="40.7" r="0.8" fill="#3024a8"/>
<circle cx="16.2" cy="11.4" r="1.6" fill="#7c72d0" opacity="0.55"/>
<circle cx="16.2" cy="11.4" r="1.2" fill="#3024a8"/>
<circle cx="23.5" cy="35.8" r="1.3" fill="#7c72d0" opacity="0.55"/>
<circle cx="23.5" cy="35.8" r="0.9" fill="#3024a8"/>
<circle cx="10.9" cy="22.5" r="1.2" fill="#7c72d0" opacity="0.55"/>
<circle cx="10.9" cy="22.5" r="0.8" fill="#4134c4"/>
<circle cx="6.2" cy="37.4" r="1.5" fill="#7c72d0" opacity="0.55"/>
<circle cx="6.2" cy="37.4" r="1.1" fill="#4134c4"/>
<circle cx="44.6" cy="13.4" r="1.2" fill="#7c72d0" opacity="0.55"/>
<circle cx="44.6" cy="13.4" r="0.8" fill="#4c40c8"/>
<circle cx="6.2" cy="11.4" r="1.2" fill="#7c72d0" opacity="0.55"/>
<circle cx="6.2" cy="11.4" r="0.8" fill="#3024a8"/>
<circle cx="5.7" cy="15.8" r="1.4" fill="#7c72d0" opacity="0.55"/>
<circle cx="5.7" cy="15.8" r="1.0" fill="#281c96"/>
<circle cx="58.5" cy="30.3" r="1.6" fill="#7c72d0" opacity="0.55"/>
<circle cx="58.5" cy="30.3" r="1.2" fill="#281c96"/>
<circle cx="36.0" cy="16.0" r="1.2" fill="#7c72d0" opacity="0.55"/>
<circle cx="36.0" cy="16.0" r="0.8" fill="#3024a8"/>
<circle cx="8.5" cy="18.3" r="1.4" fill="#7c72d0" opacity="0.55"/>
<circle cx="8.5" cy="18.3" r="1.0" fill="#4134c4"/>
<circle cx="41.9" cy="34.0" r="1.2" fill="#7c72d0" opacity="0.55"/>
<circle cx="41.9" cy="34.0" r="0.8" fill="#3a2cb8"/>
<circle cx="28.3" cy="34.2" r="1.2" fill="#7c72d0" opacity="0.55"/>
<circle cx="28.3" cy="34.2" r="0.8" fill="#281c96"/>
<circle cx="19.8" cy="6.1" r="1.4" fill="#7c72d0" opacity="0.55"/>
<circle cx="19.8" cy="6.1" r="1.0" fill="#4c40c8"/>
<circle cx="52.8" cy="26.6" r="1.3" fill="#7c72d0" opacity="0.55"/>
<circle cx="52.8" cy="26.6" r="0.9" fill="#281c96"/>
<circle cx="36.7" cy="28.0" r="1.3" fill="#7c72d0" opacity="0.55"/>
<circle cx="36.7" cy="28.0" r="0.9" fill="#3a2cb8"/>
<circle cx="55.3" cy="24.9" r="1.5" fill="#7c72d0" opacity="0.55"/>
<circle cx="55.3" cy="24.9" r="1.1" fill="#4134c4"/>
<circle cx="49.3" cy="44.4" r="1.5" fill="#7c72d0" opacity="0.55"/>
<circle cx="49.3" cy="44.4" r="1.1" fill="#4c40c8"/>
<circle cx="24.3" cy="38.9" r="1.5" fill="#7c72d0" opacity="0.55"/>
<circle cx="24.3" cy="38.9" r="1.1" fill="#4134c4"/>
<circle cx="55.8" cy="50.6" r="1.3" fill="#7c72d0" opacity="0.55"/>
<circle cx="55.8" cy="50.6" r="0.9" fill="#3024a8"/>
<circle cx="42.9" cy="35.7" r="1.3" fill="#7c72d0" opacity="0.55"/>
<circle cx="42.9" cy="35.7" r="0.9" fill="#3a2cb8"/>
<circle cx="23.1" cy="21.1" r="1.3" fill="#7c72d0" opacity="0.55"/>
<circle cx="23.1" cy="21.1" r="0.9" fill="#281c96"/>
<circle cx="35.5" cy="34.5" r="1.6" fill="#7c72d0" opacity="0.55"/>
<circle cx="35.5" cy="34.5" r="1.2" fill="#4134c4"/>
<circle cx="23.0" cy="24.3" r="1.5" fill="#7c72d0" opacity="0.55"/>
<circle cx="23.0" cy="24.3" r="1.1" fill="#4134c4"/>
<circle cx="33.0" cy="19.0" r="1.3" fill="#7c72d0" opacity="0.55"/>
<circle cx="33.0" cy="19.0" r="0.9" fill="#4c40c8"/>
<circle cx="2.9" cy="6.8" r="1.3" fill="#7c72d0" opacity="0.55"/>
<circle cx="2.9" cy="6.8" r="0.9" fill="#4c40c8"/>
<circle cx="58.7" cy="22.6" r="1.3" fill="#7c72d0" opacity="0.55"/>
<circle cx="58.7" cy="22.6" r="0.9" fill="#3024a8"/>
<circle cx="10.4" cy="33.0" r="1.5" fill="#7c72d0" opacity="0.55"/>
<circle cx="10.4" cy="33.0" r="1.1" fill="#3024a8"/>
<circle cx="19.0" cy="47.5" r="1.5" fill="#7c72d0" opacity="0.55"/>
<circle cx="19.0" cy="47.5" r="1.1" fill="#3024a8"/>
<circle cx="2.5" cy="8.9" r="1.2" fill="#7c72d0" opacity="0.55"/>
<circle cx="2.5" cy="8.9" r="0.8" fill="#4c40c8"/>
<circle cx="13.0" cy="39.8" r="1.3" fill="#7c72d0" opacity="0.55"/>
<circle cx="13.0" cy="39.8" r="0.9" fill="#3a2cb8"/>
<circle cx="7.5" cy="14.0" r="1.4" fill="#7c72d0" opacity="0.55"/>
<circle cx="7.5" cy="14.0" r="1.0" fill="#281c96"/>
<circle cx="66.8" cy="50.8" r="1.3" fill="#7c72d0" opacity="0.55"/>
<circle cx="66.8" cy="50.8" r="0.9" fill="#4134c4"/>
<circle cx="25.6" cy="0.6" r="1.3" fill="#7c72d0" opacity="0.55"/>
<circle cx="25.6" cy="0.6" r="0.9" fill="#3024a8"/>
<circle cx="22.5" cy="35.0" r="1.4" fill="#7c72d0" opacity="0.55"/>
<circle cx="22.5" cy="35.0" r="1.0" fill="#4134c4"/>
<circle cx="14.0" cy="29.8" r="1.4" fill="#7c72d0" opacity="0.55"/>
<circle cx="14.0" cy="29.8" r="1.0" fill="#4134c4"/>
<circle cx="19.9" cy="10.3" r="1.5" fill="#7c72d0" opacity="0.55"/>
<circle cx="19.9" cy="10.3" r="1.1" fill="#4134c4"/>
<circle cx="15.8" cy="30.2" r="1.4" fill="#7c72d0" opacity="0.55"/>
<circle cx="15.8" cy="30.2" r="1.0" fill="#3024a8"/>
<circle cx="8.2" cy="29.4" r="1.4" fill="#7c72d0" opacity="0.55"/>
<circle cx="8.2" cy="29.4" r="1.0" fill="#281c96"/>
<circle cx="6.1" cy="23.7" r="1.3" fill="#7c72d0" opacity="0.55"/>
<circle cx="6.1" cy="23.7" r="0.9" fill="#4c40c8"/>
<circle cx="21.0" cy="21.4" r="1.3" fill="#7c72d0" opacity="0.55"/>
<circle cx="21.0" cy="21.4" r="0.9" fill="#4134c4"/>
<circle cx="7.8" cy="50.8" r="1.3" fill="#7c72d0" opacity="0.55"/>
<circle cx="7.8" cy="50.8" r="0.9" fill="#4c40c8"/>
<circle cx="16.5" cy="30.2" r="1.3" fill="#7c72d0" opacity="0.55"/>
<circle cx="16.5" cy="30.2" r="0.9" fill="#3a2cb8"/>
<circle cx="35.1" cy="28.3" r="1.3" fill="#7c72d0" opacity="0.55"/>
<circle cx="35.1" cy="28.3" r="0.9" fill="#4c40c8"/>
<circle cx="52.5" cy="24.7" r="1.6" fill="#7c72d0" opacity="0.55"/>
<circle cx="52.5" cy="24.7" r="1.2" fill="#3a2cb8"/>
<circle cx="44.8" cy="23.8" r="1.4" fill="#7c72d0" opacity="0.55"/>
<circle cx="44.8" cy="23.8" r="1.0" fill="#4134c4"/>
<circle cx="52.6" cy="43.4" r="1.4" fill="#7c72d0" opacity="0.55"/>
<circle cx="52.6" cy="43.4" r="1.0" fill="#4c40c8"/>
<circle cx="10.8" cy="49.2" r="1.6" fill="#7c72d0" opacity="0.55"/>
<circle cx="10.8" cy="49.2" r="1.2" fill="#4c40c8"/>
<circle cx="63.5" cy="45.2" r="1.3" fill="#7c72d0" opacity="0.55"/>
<circle cx="63.5" cy="45.2" r="0.9" fill="#4134c4"/>
<circle cx="46.9" cy="3.5" r="1.6" fill="#7c72d0" opacity="0.55"/>
<circle cx="46.9" cy="3.5" r="1.2" fill="#4134c4"/>
<circle cx="24.9" cy="22.3" r="1.4" fill="#7c72d0" opacity="0.55"/>
<circle cx="24.9" cy="22.3" r="1.0" fill="#3024a8"/>
<circle cx="62.1" cy="17.9" r="1.3" fill="#7c72d0" opacity="0.55"/>
<circle cx="62.1" cy="17.9" r="0.9" fill="#4134c4"/>
<circle cx="6.8" cy="27.2" r="1.2" fill="#7c72d0" opacity="0.55"/>
<circle cx="6.8" cy="27.2" r="0.8" fill="#3024a8"/>
<circle cx="58.2" cy="10.8" r="1.5" fill="#7c72d0" opacity="0.55"/>
<circle cx="58.2" cy="10.8" r="1.1" fill="#3024a8"/>
<circle cx="57.3" cy="31.0" r="1.4" fill="#7c72d0" opacity="0.55"/>
<circle cx="57.3" cy="31.0" r="1.0" fill="#3024a8"/>
<circle cx="19.2" cy="4.3" r="1.6" fill="#7c72d0" opacity="0.55"/>
<circle cx="19.2" cy="4.3" r="1.2" fill="#3024a8"/>
<circle cx="57.0" cy="18.9" r="1.6" fill="#7c72d0" opacity="0.55"/>
<circle cx="57.0" cy="18.9" r="1.2" fill="#3024a8"/>
<circle cx="9.3" cy="34.7" r="1.2" fill="#7c72d0" opacity="0.55"/>
<circle cx="9.3" cy="34.7" r="0.8" fill="#4134c4"/>
<circle cx="28.2" cy="49.3" r="1.3" fill="#7c72d0" opacity="0.55"/>
<circle cx="28.2" cy="49.3" r="0.9" fill="#4c40c8"/>
<circle cx="0.2" cy="51.4" r="1.2" fill="#7c72d0" opacity="0.55"/>
<circle cx="0.2" cy="51.4" r="0.8" fill="#281c96"/>
<circle cx="30.2" cy="20.9" r="1.3" fill="#7c72d0" opacity="0.55"/>
<circle cx="30.2" cy="20.9" r="0.9" fill="#4c40c8"/>
<circle cx="11.1" cy="47.2" r="1.5" fill="#7c72d0" opacity="0.55"/>
<circle cx="11.1" cy="47.2" r="1.1" fill="#3a2cb8"/>
<circle cx="1.9" cy="11.3" r="1.6" fill="#7c72d0" opacity="0.55"/>
<circle cx="1.9" cy="11.3" r="1.2" fill="#4c40c8"/>
<circle cx="45.7" cy="25.6" r="1.4" fill="#7c72d0" opacity="0.55"/>
<circle cx="45.7" cy="25.6" r="1.0" fill="#4134c4"/>
<circle cx="36.6" cy="3.5" r="1.2" fill="#7c72d0" opacity="0.55"/>
<circle cx="36.6" cy="3.5" r="0.8" fill="#4134c4"/>
<circle cx="17.5" cy="33.2" r="1.2" fill="#7c72d0" opacity="0.55"/>
<circle cx="17.5" cy="33.2" r="0.8" fill="#281c96"/>
<circle cx="52.1" cy="33.9" r="1.5" fill="#7c72d0" opacity="0.55"/>
<circle cx="52.1" cy="33.9" r="1.1" fill="#3024a8"/>
<circle cx="37.2" cy="6.9" r="1.4" fill="#7c72d0" opacity="0.55"/>
<circle cx="37.2" cy="6.9" r="1.0" fill="#281c96"/>
<circle cx="7.5" cy="14.1" r="1.3" fill="#7c72d0" opacity="0.55"/>
<circle cx="7.5" cy="14.1" r="0.9" fill="#4134c4"/>
<circle cx="36.9" cy="31.8" r="1.5" fill="#7c72d0" opacity="0.55"/>
<circle cx="36.9" cy="31.8" r="1.1" fill="#281c96"/>
<circle cx="56.3" cy="34.6" r="1.5" fill="#7c72d0" opacity="0.55"/>
<circle cx="56.3" cy="34.6" r="1.1" fill="#3024a8"/>
<circle cx="38.3" cy="38.8" r="1.3" fill="#7c72d0" opacity="0.55"/>
<circle cx="38.3" cy="38.8" r="0.9" fill="#4c40c8"/>
<circle cx="37.2" cy="8.5" r="1.2" fill="#7c72d0" opacity="0.55"/>
<circle cx="37.2" cy="8.5" r="0.8" fill="#3a2cb8"/>
<circle cx="5.5" cy="32.2" r="1.4" fill="#7c72d0" opacity="0.55"/>
<circle cx="5.5" cy="32.2" r="1.0" fill="#281c96"/>
<circle cx="49.2" cy="13.8" r="1.5" fill="#7c72d0" opacity="0.55"/>
<circle cx="49.2" cy="13.8" r="1.1" fill="#4134c4"/>
<circle cx="61.2" cy="48.9" r="1.2" fill="#7c72d0" opacity="0.55"/>
<circle cx="61.2" cy="48.9" r="0.8" fill="#281c96"/>
<circle cx="60.2" cy="22.7" r="1.5" fill="#7c72d0" opacity="0.55"/>
<circle cx="60.2" cy="22.7" r="1.1" fill="#4c40c8"/>
<circle cx="36.0" cy="44.4" r="1.2" fill="#7c72d0" opacity="0.55"/>
<circle cx="36.0" cy="44.4" r="0.8" fill="#3024a8"/>
<circle cx="40.8" cy="6.8" r="1.3" fill="#7c72d0" opacity="0.55"/>
<circle cx="40.8" cy="6.8" r="0.9" fill="#3a2cb8"/>
<circle cx="1.5" cy="37.1" r="1.2" fill="#7c72d0" opacity="0.55"/>
<circle cx="1.5" cy="37.1" r="0.8" fill="#3024a8"/>
<circle cx="45.4" cy="15.5" r="1.5" fill="#7c72d0" opacity="0.55"/>
<circle cx="45.4" cy="15.5" r="1.1" fill="#3a2cb8"/>
<circle cx="58.8" cy="51.0" r="1.3" fill="#7c72d0" opacity="0.55"/>
<circle cx="58.8" cy="51.0" r="0.9" fill="#3024a8"/>
<circle cx="37.4" cy="0.3" r="1.2" fill="#7c72d0" opacity="0.55"/>
<circle cx="37.4" cy="0.3" r="0.8" fill="#3024a8"/>
<circle cx="15.4" cy="4.7" r="1.6" fill="#7c72d0" opacity="0.55"/>
<circle cx="15.4" cy="4.7" r="1.2" fill="#281c96"/>
<circle cx="32.7" cy="30.9" r="1.5" fill="#7c72d0" opacity="0.55"/>
<circle cx="32.7" cy="30.9" r="1.1" fill="#4c40c8"/>
<circle cx="47.3" cy="23.9" r="1.5" fill="#7c72d0" opacity="0.55"/>
<circle cx="47.3" cy="23.9" r="1.1" fill="#4c40c8"/>
<circle cx="56.1" cy="48.4" r="1.2" fill="#7c72d0" opacity="0.55"/>
<circle cx="56.1" cy="48.4" r="0.8" fill="#3024a8"/>
<circle cx="50.4" cy="42.8" r="1.3" fill="#7c72d0" opacity="0.55"/>
<circle cx="50.4" cy="42.8" r="0.9" fill="#3024a8"/>
<circle cx="26.8" cy="11.5" r="1.2" fill="#7c72d0" opacity="0.55"/>
<circle cx="26.8" cy="11.5" r="0.8" fill="#3024a8"/>
<circle cx="31.2" cy="17.9" r="1.4" fill="#7c72d0" opacity="0.55"/>
<circle cx="31.2" cy="17.9" r="1.0" fill="#281c96"/>
<circle cx="50.9" cy="38.4" r="1.5" fill="#7c72d0" opacity="0.55"/>
<circle cx="50.9" cy="38.4" r="1.1" fill="#3024a8"/>
<circle cx="27.1" cy="8.2" r="1.4" fill="#7c72d0" opacity="0.55"/>
<circle cx="27.1" cy="8.2" r="1.0" fill="#4c40c8"/>
<circle cx="10.6" cy="39.4" r="1.3" fill="#7c72d0" opacity="0.55"/>
<circle cx="10.6" cy="39.4" r="0.9" fill="#4134c4"/>
<circle cx="31.9" cy="26.1" r="1.5" fill="#7c72d0" opacity="0.55"/>
<circle cx="31.9" cy="26.1" r="1.1" fill="#4134c4"/>
<circle cx="44.2" cy="12.8" r="1.4" fill="#7c72d0" opacity="0.55"/>
<circle cx="44.2" cy="12.8" r="1.0" fill="#3a2cb8"/>
<circle cx="17.8" cy="18.0" r="1.2" fill="#7c72d0" opacity="0.55"/>
<circle cx="17.8" cy="18.0" r="0.8" fill="#3024a8"/>
<circle cx="25.5" cy="29.8" r="1.2" fill="#7c72d0" opacity="0.55"/>
<circle cx="25.5" cy="29.8" r="0.8" fill="#4c40c8"/>
<circle cx="54.6" cy="44.9" r="1.3" fill="#7c72d0" opacity="0.55"/>
<circle cx="54.6" cy="44.9" r="0.9" fill="#4134c4"/>
<circle cx="37.3" cy="31.0" r="1.4" fill="#7c72d0" opacity="0.55"/>
<circle cx="37.3" cy="31.0" r="1.0" fill="#4134c4"/>
<circle cx="47.4" cy="8.8" r="1.5" fill="#7c72d0" opacity="0.55"/>
<circle cx="47.4" cy="8.8" r="1.1" fill="#3a2cb8"/>
<circle cx="53.2" cy="34.9" r="1.5" fill="#7c72d0" opacity="0.55"/>
<circle cx="53.2" cy="34.9" r="1.1" fill="#4c40c8"/>
<circle cx="56.4" cy="36.7" r="1.3" fill="#7c72d0" opacity="0.55"/>
<circle cx="56.4" cy="36.7" r="0.9" fill="#3a2cb8"/>
<circle cx="10.6" cy="8.9" r="1.6" fill="#7c72d0" opacity="0.55"/>
<circle cx="10.6" cy="8.9" r="1.2" fill="#3024a8"/>
<circle cx="15.0" cy="44.6" r="1.3" fill="#7c72d0" opacity="0.55"/>
<circle cx="15.0" cy="44.6" r="0.9" fill="#4134c4"/>
<circle cx="6.7" cy="37.2" r="1.5" fill="#7c72d0" opacity="0.55"/>
<circle cx="6.7" cy="37.2" r="1.1" fill="#4134c4"/>
<circle cx="32.1" cy="27.7" r="1.3" fill="#7c72d0" opacity="0.55"/>
<circle cx="32.1" cy="27.7" r="0.9" fill="#281c96"/>
<circle cx="32.9" cy="5.1" r="1.6" fill="#7c72d0" opacity="0.55"/>
<circle cx="32.9" cy="5.1" r="1.2" fill="#4134c4"/>
<circle cx="30.0" cy="45.8" r="1.4" fill="#7c72d0" opacity="0.55"/>
<circle cx="30.0" cy="45.8" r="1.0" fill="#3a2cb8"/>
<circle cx="36.4" cy="11.2" r="1.5" fill="#7c72d0" opacity="0.55"/>
<circle cx="36.4" cy="11.2" r="1.1" fill="#3024a8"/>
<circle cx="42.6" cy="30.6" r="1.6" fill="#7c72d0" opacity="0.55"/>
<circle cx="42.6" cy="30.6" r="1.2" fill="#4134c4"/>
<circle cx="43.8" cy="19.1" r="1.4" fill="#7c72d0" opacity="0.55"/>
<circle cx="43.8" cy="19.1" r="1.0" fill="#3a2cb8"/>
<circle cx="66.3" cy="8.1" r="1.3" fill="#7c72d0" opacity="0.55"/>
<circle cx="66.3" cy="8.1" r="0.9" fill="#3024a8"/>
<circle cx="37.2" cy="37.8" r="1.2" fill="#7c72d0" opacity="0.55"/>
<circle cx="37.2" cy="37.8" r="0.8" fill="#281c96"/>
<circle cx="58.8" cy="2.6" r="1.3" fill="#7c72d0" opacity="0.55"/>
<circle cx="58.8" cy="2.6" r="0.9" fill="#3a2cb8"/>
<circle cx="17.3" cy="42.9" r="1.3" fill="#7c72d0" opacity="0.55"/>
<circle cx="17.3" cy="42.9" r="0.9" fill="#4134c4"/>
<circle cx="16.9" cy="15.5" r="1.4" fill="#7c72d0" opacity="0.55"/>
<circle cx="16.9" cy="15.5" r="1.0" fill="#3024a8"/>
<circle cx="16.4" cy="45.2" r="1.3" fill="#7c72d0" opacity="0.55"/>
<circle cx="16.4" cy="45.2" r="0.9" fill="#4134c4"/>
<circle cx="58.4" cy="5.9" r="1.5" fill="#7c72d0" opacity="0.55"/>
<circle cx="58.4" cy="5.9" r="1.1" fill="#4c40c8"/>
<circle cx="47.1" cy="40.2" r="1.6" fill="#7c72d0" opacity="0.55"/>
<circle cx="47.1" cy="40.2" r="1.2" fill="#4134c4"/>
<circle cx="23.7" cy="16.1" r="1.3" fill="#7c72d0" opacity="0.55"/>
<circle cx="23.7" cy="16.1" r="0.9" fill="#281c96"/>
<circle cx="26.5" cy="16.1" r="1.2" fill="#7c72d0" opacity="0.55"/>
<circle cx="26.5" cy="16.1" r="0.8" fill="#281c96"/>
<circle cx="50.6" cy="34.9" r="1.4" fill="#7c72d0" opacity="0.55"/>
<circle cx="50.6" cy="34.9" r="1.0" fill="#281c96"/>
<circle cx="56.2" cy="24.5" r="1.2" fill="#7c72d0" opacity="0.55"/>
<circle cx="56.2" cy="24.5" r="0.8" fill="#4c40c8"/>
<circle cx="61.2" cy="42.3" r="1.2" fill="#7c72d0" opacity="0.55"/>
<circle cx="61.2" cy="42.3" r="0.8" fill="#3a2cb8"/>
<circle cx="37.8" cy="23.8" r="1.4" fill="#7c72d0" opacity="0.55"/>
<circle cx="37.8" cy="23.8" r="1.0" fill="#4134c4"/>
<circle cx="67.3" cy="26.2" r="1.2" fill="#7c72d0" opacity="0.55"/>
<circle cx="67.3" cy="26.2" r="0.8" fill="#3024a8"/>
</svg>
<line x1="176.5" y1="601.2" x2="184.2" y2="601.2" stroke="#111" stroke-width="1.8"/>
<rect x="194.6" y="553.2" width="67.7" height="51.5" fill="#dadac0"/>
<svg x="194.6" y="553.2" width="67.7" height="51.5">
<circle cx="60.9" cy="22.2" r="1.2" fill="#7c72d0" opacity="0.55"/>
<circle cx="60.9" cy="22.2" r="0.8" fill="#3024a8"/>
<circle cx="42.5" cy="32.6" r="1.5" fill="#7c72d0" opacity="0.55"/>
<circle cx="42.5" cy="32.6" r="1.1" fill="#4c40c8"/>
<circle cx="55.4" cy="45.0" r="1.3" fill="#7c72d0" opacity="0.55"/>
<circle cx="55.4" cy="45.0" r="0.9" fill="#4134c4"/>
<circle cx="9.7" cy="20.2" r="1.2" fill="#7c72d0" opacity="0.55"/>
<circle cx="9.7" cy="20.2" r="0.8" fill="#3024a8"/>
<circle cx="1.5" cy="22.7" r="1.3" fill="#7c72d0" opacity="0.55"/>
<circle cx="1.5" cy="22.7" r="0.9" fill="#281c96"/>
<circle cx="15.7" cy="3.5" r="1.2" fill="#7c72d0" opacity="0.55"/>
<circle cx="15.7" cy="3.5" r="0.8" fill="#3a2cb8"/>
<circle cx="19.4" cy="40.7" r="1.3" fill="#7c72d0" opacity="0.55"/>
<circle cx="19.4" cy="40.7" r="0.9" fill="#281c96"/>
<circle cx="46.6" cy="8.4" r="1.2" fill="#7c72d0" opacity="0.55"/>
<circle cx="46.6" cy="8.4" r="0.8" fill="#3a2cb8"/>
<circle cx="67.4" cy="15.4" r="1.5" fill="#7c72d0" opacity="0.55"/>
<circle cx="67.4" cy="15.4" r="1.1" fill="#3024a8"/>
<circle cx="47.7" cy="31.7" r="1.4" fill="#7c72d0" opacity="0.55"/>
<circle cx="47.7" cy="31.7" r="1.0" fill="#4c40c8"/>
<circle cx="60.6" cy="6.1" r="1.4" fill="#7c72d0" opacity="0.55"/>
<circle cx="60.6" cy="6.1" r="1.0" fill="#4c40c8"/>
<circle cx="65.5" cy="19.7" r="1.3" fill="#7c72d0" opacity="0.55"/>
<circle cx="65.5" cy="19.7" r="0.9" fill="#4134c4"/>
<circle cx="25.7" cy="10.3" r="1.4" fill="#7c72d0" opacity="0.55"/>
<circle cx="25.7" cy="10.3" r="1.0" fill="#4c40c8"/>
<circle cx="26.6" cy="38.9" r="1.3" fill="#7c72d0" opacity="0.55"/>
<circle cx="26.6" cy="38.9" r="0.9" fill="#3a2cb8"/>
<circle cx="39.7" cy="33.6" r="1.3" fill="#7c72d0" opacity="0.55"/>
<circle cx="39.7" cy="33.6" r="0.9" fill="#4134c4"/>
<circle cx="10.4" cy="20.1" r="1.4" fill="#7c72d0" opacity="0.55"/>
<circle cx="10.4" cy="20.1" r="1.0" fill="#3024a8"/>
<circle cx="10.3" cy="26.7" r="1.3" fill="#7c72d0" opacity="0.55"/>
<circle cx="10.3" cy="26.7" r="0.9" fill="#3024a8"/>
<circle cx="60.8" cy="12.3" r="1.4" fill="#7c72d0" opacity="0.55"/>
<circle cx="60.8" cy="12.3" r="1.0" fill="#4c40c8"/>
<circle cx="5.5" cy="31.6" r="1.4" fill="#7c72d0" opacity="0.55"/>
<circle cx="5.5" cy="31.6" r="1.0" fill="#3024a8"/>
<circle cx="61.7" cy="22.7" r="1.5" fill="#7c72d0" opacity="0.55"/>
<circle cx="61.7" cy="22.7" r="1.1" fill="#3a2cb8"/>
<circle cx="62.6" cy="5.6" r="1.3" fill="#7c72d0" opacity="0.55"/>
<circle cx="62.6" cy="5.6" r="0.9" fill="#3a2cb8"/>
<circle cx="54.9" cy="18.8" r="1.5" fill="#7c72d0" opacity="0.55"/>
<circle cx="54.9" cy="18.8" r="1.1" fill="#3a2cb8"/>
<circle cx="1.1" cy="7.8" r="1.3" fill="#7c72d0" opacity="0.55"/>
<circle cx="1.1" cy="7.8" r="0.9" fill="#3a2cb8"/>
<circle cx="55.2" cy="28.5" r="1.4" fill="#7c72d0" opacity="0.55"/>
<circle cx="55.2" cy="28.5" r="1.0" fill="#3a2cb8"/>
<circle cx="9.3" cy="42.3" r="1.3" fill="#7c72d0" opacity="0.55"/>
<circle cx="9.3" cy="42.3" r="0.9" fill="#3024a8"/>
<circle cx="39.7" cy="16.1" r="1.6" fill="#7c72d0" opacity="0.55"/>
<circle cx="39.7" cy="16.1" r="1.2" fill="#281c96"/>
<circle cx="50.2" cy="5.0" r="1.6" fill="#7c72d0" opacity="0.55"/>
<circle cx="50.2" cy="5.0" r="1.2" fill="#4c40c8"/>
<circle cx="20.7" cy="3.0" r="1.2" fill="#7c72d0" opacity="0.55"/>
<circle cx="20.7" cy="3.0" r="0.8" fill="#4c40c8"/>
<circle cx="4.3" cy="35.7" r="1.4" fill="#7c72d0" opacity="0.55"/>
<circle cx="4.3" cy="35.7" r="1.0" fill="#3024a8"/>
<circle cx="45.9" cy="14.9" r="1.4" fill="#7c72d0" opacity="0.55"/>
<circle cx="45.9" cy="14.9" r="1.0" fill="#3a2cb8"/>
<circle cx="19.1" cy="30.2" r="1.3" fill="#7c72d0" opacity="0.55"/>
<circle cx="19.1" cy="30.2" r="0.9" fill="#3024a8"/>
<circle cx="43.2" cy="26.2" r="1.2" fill="#7c72d0" opacity="0.55"/>
<circle cx="43.2" cy="26.2" r="0.8" fill="#281c96"/>
<circle cx="33.6" cy="11.8" r="1.2" fill="#7c72d0" opacity="0.55"/>
<circle cx="33.6" cy="11.8" r="0.8" fill="#281c96"/>
<circle cx="56.4" cy="15.0" r="1.3" fill="#7c72d0" opacity="0.55"/>
<circle cx="56.4" cy="15.0" r="0.9" fill="#4134c4"/>
<circle cx="27.9" cy="46.0" r="1.3" fill="#7c72d0" opacity="0.55"/>
<circle cx="27.9" cy="46.0" r="0.9" fill="#281c96"/>
<circle cx="60.4" cy="51.0" r="1.6" fill="#7c72d0" opacity="0.55"/>
<circle cx="60.4" cy="51.0" r="1.2" fill="#3024a8"/>
<circle cx="64.1" cy="44.1" r="1.5" fill="#7c72d0" opacity="0.55"/>
<circle cx="64.1" cy="44.1" r="1.1" fill="#4134c4"/>
<circle cx="67.5" cy="33.4" r="1.5" fill="#7c72d0" opacity="0.55"/>
<circle cx="67.5" cy="33.4" r="1.1" fill="#281c96"/>
<circle cx="1.0" cy="13.3" r="1.5" fill="#7c72d0" opacity="0.55"/>
<circle cx="1.0" cy="13.3" r="1.1" fill="#3024a8"/>
<circle cx="17.5" cy="31.7" r="1.2" fill="#7c72d0" opacity="0.55"/>
<circle cx="17.5" cy="31.7" r="0.8" fill="#4c40c8"/>
<circle cx="11.8" cy="33.5" r="1.3" fill="#7c72d0" opacity="0.55"/>
<circle cx="11.8" cy="33.5" r="0.9" fill="#3a2cb8"/>
<circle cx="12.5" cy="33.1" r="1.4" fill="#7c72d0" opacity="0.55"/>
<circle cx="12.5" cy="33.1" r="1.0" fill="#4c40c8"/>
<circle cx="2.9" cy="9.8" r="1.6" fill="#7c72d0" opacity="0.55"/>
<circle cx="2.9" cy="9.8" r="1.2" fill="#4c40c8"/>
<circle cx="46.4" cy="10.1" r="1.4" fill="#7c72d0" opacity="0.55"/>
<circle cx="46.4" cy="10.1" r="1.0" fill="#281c96"/>
<circle cx="50.1" cy="33.5" r="1.3" fill="#7c72d0" opacity="0.55"/>
<circle cx="50.1" cy="33.5" r="0.9" fill="#281c96"/>
<circle cx="27.1" cy="20.4" r="1.3" fill="#7c72d0" opacity="0.55"/>
<circle cx="27.1" cy="20.4" r="0.9" fill="#4134c4"/>
<circle cx="65.3" cy="40.0" r="1.6" fill="#7c72d0" opacity="0.55"/>
<circle cx="65.3" cy="40.0" r="1.2" fill="#4c40c8"/>
<circle cx="2.5" cy="4.2" r="1.5" fill="#7c72d0" opacity="0.55"/>
<circle cx="2.5" cy="4.2" r="1.1" fill="#3a2cb8"/>
<circle cx="48.4" cy="48.3" r="1.5" fill="#7c72d0" opacity="0.55"/>
<circle cx="48.4" cy="48.3" r="1.1" fill="#3024a8"/>
<circle cx="60.4" cy="23.6" r="1.3" fill="#7c72d0" opacity="0.55"/>
<circle cx="60.4" cy="23.6" r="0.9" fill="#281c96"/>
<circle cx="24.9" cy="41.1" r="1.5" fill="#7c72d0" opacity="0.55"/>
<circle cx="24.9" cy="41.1" r="1.1" fill="#281c96"/>
<circle cx="45.3" cy="8.8" r="1.2" fill="#7c72d0" opacity="0.55"/>
<circle cx="45.3" cy="8.8" r="0.8" fill="#281c96"/>
<circle cx="35.9" cy="24.6" r="1.5" fill="#7c72d0" opacity="0.55"/>
<circle cx="35.9" cy="24.6" r="1.1" fill="#281c96"/>
<circle cx="10.5" cy="36.9" r="1.3" fill="#7c72d0" opacity="0.55"/>
<circle cx="10.5" cy="36.9" r="0.9" fill="#3024a8"/>
<circle cx="65.7" cy="14.9" r="1.2" fill="#7c72d0" opacity="0.55"/>
<circle cx="65.7" cy="14.9" r="0.8" fill="#4134c4"/>
<circle cx="26.7" cy="0.6" r="1.3" fill="#7c72d0" opacity="0.55"/>
<circle cx="26.7" cy="0.6" r="0.9" fill="#4c40c8"/>
<circle cx="31.6" cy="22.7" r="1.4" fill="#7c72d0" opacity="0.55"/>
<circle cx="31.6" cy="22.7" r="1.0" fill="#3a2cb8"/>
<circle cx="6.4" cy="48.7" r="1.3" fill="#7c72d0" opacity="0.55"/>
<circle cx="6.4" cy="48.7" r="0.9" fill="#4134c4"/>
<circle cx="1.6" cy="5.1" r="1.5" fill="#7c72d0" opacity="0.55"/>
<circle cx="1.6" cy="5.1" r="1.1" fill="#281c96"/>
<circle cx="45.1" cy="4.6" r="1.4" fill="#7c72d0" opacity="0.55"/>
<circle cx="45.1" cy="4.6" r="1.0" fill="#4134c4"/>
<circle cx="65.7" cy="19.2" r="1.6" fill="#7c72d0" opacity="0.55"/>
<circle cx="65.7" cy="19.2" r="1.2" fill="#3a2cb8"/>
<circle cx="51.8" cy="30.4" r="1.4" fill="#7c72d0" opacity="0.55"/>
<circle cx="51.8" cy="30.4" r="1.0" fill="#281c96"/>
<circle cx="54.8" cy="35.8" r="1.4" fill="#7c72d0" opacity="0.55"/>
<circle cx="54.8" cy="35.8" r="1.0" fill="#4c40c8"/>
<circle cx="10.5" cy="27.8" r="1.3" fill="#7c72d0" opacity="0.55"/>
<circle cx="10.5" cy="27.8" r="0.9" fill="#4c40c8"/>
<circle cx="10.9" cy="4.6" r="1.6" fill="#7c72d0" opacity="0.55"/>
<circle cx="10.9" cy="4.6" r="1.2" fill="#3024a8"/>
<circle cx="40.6" cy="47.5" r="1.5" fill="#7c72d0" opacity="0.55"/>
<circle cx="40.6" cy="47.5" r="1.1" fill="#281c96"/>
<circle cx="46.2" cy="2.4" r="1.4" fill="#7c72d0" opacity="0.55"/>
<circle cx="46.2" cy="2.4" r="1.0" fill="#281c96"/>
<circle cx="6.9" cy="17.2" r="1.5" fill="#7c72d0" opacity="0.55"/>
<circle cx="6.9" cy="17.2" r="1.1" fill="#3024a8"/>
<circle cx="44.9" cy="48.3" r="1.5" fill="#7c72d0" opacity="0.55"/>
<circle cx="44.9" cy="48.3" r="1.1" fill="#4c40c8"/>
<circle cx="30.4" cy="24.1" r="1.4" fill="#7c72d0" opacity="0.55"/>
<circle cx="30.4" cy="24.1" r="1.0" fill="#3a2cb8"/>
<circle cx="46.6" cy="9.0" r="1.2" fill="#7c72d0" opacity="0.55"/>
<circle cx="46.6" cy="9.0" r="0.8" fill="#4134c4"/>
<circle cx="14.2" cy="10.8" r="1.5" fill="#7c72d0" opacity="0.55"/>
<circle cx="14.2" cy="10.8" r="1.1" fill="#4134c4"/>
<circle cx="64.3" cy="51.3" r="1.4" fill="#7c72d0" opacity="0.55"/>
<circle cx="64.3" cy="51.3" r="1.0" fill="#3a2cb8"/>
<circle cx="42.8" cy="8.9" r="1.6" fill="#7c72d0" opacity="0.55"/>
<circle cx="42.8" cy="8.9" r="1.2" fill="#4134c4"/>
<circle cx="30.2" cy="3.5" r="1.2" fill="#7c72d0" opacity="0.55"/>
<circle cx="30.2" cy="3.5" r="0.8" fill="#4c40c8"/>
<circle cx="50.3" cy="26.0" r="1.2" fill="#7c72d0" opacity="0.55"/>
<circle cx="50.3" cy="26.0" r="0.8" fill="#4134c4"/>
<circle cx="57.5" cy="40.2" r="1.4" fill="#7c72d0" opacity="0.55"/>
<circle cx="57.5" cy="40.2" r="1.0" fill="#4134c4"/>
<circle cx="23.0" cy="32.5" r="1.3" fill="#7c72d0" opacity="0.55"/>
<circle cx="23.0" cy="32.5" r="0.9" fill="#3a2cb8"/>
<circle cx="43.7" cy="26.0" r="1.3" fill="#7c72d0" opacity="0.55"/>
<circle cx="43.7" cy="26.0" r="0.9" fill="#281c96"/>
<circle cx="53.3" cy="22.2" r="1.2" fill="#7c72d0" opacity="0.55"/>
<circle cx="53.3" cy="22.2" r="0.8" fill="#3a2cb8"/>
<circle cx="1.8" cy="43.4" r="1.5" fill="#7c72d0" opacity="0.55"/>
<circle cx="1.8" cy="43.4" r="1.1" fill="#4c40c8"/>
<circle cx="47.2" cy="49.8" r="1.5" fill="#7c72d0" opacity="0.55"/>
<circle cx="47.2" cy="49.8" r="1.1" fill="#281c96"/>
<circle cx="25.6" cy="16.3" r="1.6" fill="#7c72d0" opacity="0.55"/>
<circle cx="25.6" cy="16.3" r="1.2" fill="#3024a8"/>
<circle cx="27.7" cy="49.4" r="1.4" fill="#7c72d0" opacity="0.55"/>
<circle cx="27.7" cy="49.4" r="1.0" fill="#281c96"/>
<circle cx="25.4" cy="25.3" r="1.3" fill="#7c72d0" opacity="0.55"/>
<circle cx="25.4" cy="25.3" r="0.9" fill="#3a2cb8"/>
<circle cx="33.7" cy="22.3" r="1.4" fill="#7c72d0" opacity="0.55"/>
<circle cx="33.7" cy="22.3" r="1.0" fill="#3a2cb8"/>
<circle cx="7.8" cy="30.9" r="1.5" fill="#7c72d0" opacity="0.55"/>
<circle cx="7.8" cy="30.9" r="1.1" fill="#3024a8"/>
<circle cx="3.1" cy="45.2" r="1.4" fill="#7c72d0" opacity="0.55"/>
<circle cx="3.1" cy="45.2" r="1.0" fill="#3024a8"/>
<circle cx="45.2" cy="0.1" r="1.4" fill="#7c72d0" opacity="0.55"/>
<circle cx="45.2" cy="0.1" r="1.0" fill="#4134c4"/>
<circle cx="23.8" cy="24.1" r="1.2" fill="#7c72d0" opacity="0.55"/>
<circle cx="23.8" cy="24.1" r="0.8" fill="#281c96"/>
<circle cx="41.7" cy="17.1" r="1.4" fill="#7c72d0" opacity="0.55"/>
<circle cx="41.7" cy="17.1" r="1.0" fill="#281c96"/>
<circle cx="27.0" cy="45.7" r="1.5" fill="#7c72d0" opacity="0.55"/>
<circle cx="27.0" cy="45.7" r="1.1" fill="#3a2cb8"/>
<circle cx="29.1" cy="45.5" r="1.4" fill="#7c72d0" opacity="0.55"/>
<circle cx="29.1" cy="45.5" r="1.0" fill="#281c96"/>
<circle cx="65.6" cy="32.1" r="1.4" fill="#7c72d0" opacity="0.55"/>
<circle cx="65.6" cy="32.1" r="1.0" fill="#281c96"/>
<circle cx="3.1" cy="14.9" r="1.4" fill="#7c72d0" opacity="0.55"/>
<circle cx="3.1" cy="14.9" r="1.0" fill="#4134c4"/>
<circle cx="21.7" cy="45.1" r="1.2" fill="#7c72d0" opacity="0.55"/>
<circle cx="21.7" cy="45.1" r="0.8" fill="#4134c4"/>
<circle cx="2.1" cy="33.4" r="1.5" fill="#7c72d0" opacity="0.55"/>
<circle cx="2.1" cy="33.4" r="1.1" fill="#4134c4"/>
<circle cx="49.6" cy="43.1" r="1.5" fill="#7c72d0" opacity="0.55"/>
<circle cx="49.6" cy="43.1" r="1.1" fill="#281c96"/>
<circle cx="66.3" cy="39.6" r="1.4" fill="#7c72d0" opacity="0.55"/>
<circle cx="66.3" cy="39.6" r="1.0" fill="#4134c4"/>
<circle cx="64.6" cy="40.1" r="1.6" fill="#7c72d0" opacity="0.55"/>
<circle cx="64.6" cy="40.1" r="1.2" fill="#4134c4"/>
<circle cx="29.7" cy="45.6" r="1.6" fill="#7c72d0" opacity="0.55"/>
<circle cx="29.7" cy="45.6" r="1.2" fill="#4134c4"/>
<circle cx="54.4" cy="9.0" r="1.4" fill="#7c72d0" opacity="0.55"/>
<circle cx="54.4" cy="9.0" r="1.0" fill="#3024a8"/>
<circle cx="63.3" cy="1.0" r="1.3" fill="#7c72d0" opacity="0.55"/>
<circle cx="63.3" cy="1.0" r="0.9" fill="#4c40c8"/>
<circle cx="3.5" cy="6.3" r="1.5" fill="#7c72d0" opacity="0.55"/>
<circle cx="3.5" cy="6.3" r="1.1" fill="#3a2cb8"/>
<circle cx="26.9" cy="28.2" r="1.6" fill="#7c72d0" opacity="0.55"/>
<circle cx="26.9" cy="28.2" r="1.2" fill="#3a2cb8"/>
<circle cx="22.1" cy="3.7" r="1.3" fill="#7c72d0" opacity="0.55"/>
<circle cx="22.1" cy="3.7" r="0.9" fill="#3024a8"/>
<circle cx="36.7" cy="2.1" r="1.5" fill="#7c72d0" opacity="0.55"/>
<circle cx="36.7" cy="2.1" r="1.1" fill="#4c40c8"/>
<circle cx="34.3" cy="7.4" r="1.5" fill="#7c72d0" opacity="0.55"/>
<circle cx="34.3" cy="7.4" r="1.1" fill="#3a2cb8"/>
<circle cx="14.7" cy="48.4" r="1.5" fill="#7c72d0" opacity="0.55"/>
<circle cx="14.7" cy="48.4" r="1.1" fill="#4134c4"/>
<circle cx="61.1" cy="2.8" r="1.6" fill="#7c72d0" opacity="0.55"/>
<circle cx="61.1" cy="2.8" r="1.2" fill="#3024a8"/>
<circle cx="6.6" cy="39.5" r="1.5" fill="#7c72d0" opacity="0.55"/>
<circle cx="6.6" cy="39.5" r="1.1" fill="#281c96"/>
<circle cx="56.4" cy="50.7" r="1.3" fill="#7c72d0" opacity="0.55"/>
<circle cx="56.4" cy="50.7" r="0.9" fill="#4134c4"/>
<circle cx="62.3" cy="16.1" r="1.5" fill="#7c72d0" opacity="0.55"/>
<circle cx="62.3" cy="16.1" r="1.1" fill="#4134c4"/>
<circle cx="57.5" cy="29.2" r="1.3" fill="#7c72d0" opacity="0.55"/>
<circle cx="57.5" cy="29.2" r="0.9" fill="#3024a8"/>
<circle cx="40.9" cy="9.4" r="1.4" fill="#7c72d0" opacity="0.55"/>
<circle cx="40.9" cy="9.4" r="1.0" fill="#3024a8"/>
<circle cx="60.2" cy="12.5" r="1.5" fill="#7c72d0" opacity="0.55"/>
<circle cx="60.2" cy="12.5" r="1.1" fill="#3a2cb8"/>
<circle cx="13.7" cy="15.8" r="1.2" fill="#7c72d0" opacity="0.55"/>
<circle cx="13.7" cy="15.8" r="0.8" fill="#3024a8"/>
<circle cx="6.6" cy="14.5" r="1.5" fill="#7c72d0" opacity="0.55"/>
<circle cx="6.6" cy="14.5" r="1.1" fill="#4c40c8"/>
<circle cx="54.6" cy="27.8" r="1.3" fill="#7c72d0" opacity="0.55"/>
<circle cx="54.6" cy="27.8" r="0.9" fill="#3a2cb8"/>
<circle cx="23.6" cy="45.3" r="1.2" fill="#7c72d0" opacity="0.55"/>
<circle cx="23.6" cy="45.3" r="0.8" fill="#3a2cb8"/>
<circle cx="63.1" cy="0.3" r="1.6" fill="#7c72d0" opacity="0.55"/>
<circle cx="63.1" cy="0.3" r="1.2" fill="#4c40c8"/>
<circle cx="5.7" cy="12.7" r="1.4" fill="#7c72d0" opacity="0.55"/>
<circle cx="5.7" cy="12.7" r="1.0" fill="#4c40c8"/>
<circle cx="42.4" cy="6.0" r="1.3" fill="#7c72d0" opacity="0.55"/>
<circle cx="42.4" cy="6.0" r="0.9" fill="#4134c4"/>
<circle cx="16.4" cy="40.6" r="1.5" fill="#7c72d0" opacity="0.55"/>
<circle cx="16.4" cy="40.6" r="1.1" fill="#4c40c8"/>
<circle cx="36.0" cy="36.0" r="1.2" fill="#7c72d0" opacity="0.55"/>
<circle cx="36.0" cy="36.0" r="0.8" fill="#4c40c8"/>
<circle cx="4.5" cy="21.6" r="1.3" fill="#7c72d0" opacity="0.55"/>
<circle cx="4.5" cy="21.6" r="0.9" fill="#3a2cb8"/>
<circle cx="14.5" cy="16.8" r="1.3" fill="#7c72d0" opacity="0.55"/>
<circle cx="14.5" cy="16.8" r="0.9" fill="#4c40c8"/>
<circle cx="20.6" cy="32.1" r="1.2" fill="#7c72d0" opacity="0.55"/>
<circle cx="20.6" cy="32.1" r="0.8" fill="#3a2cb8"/>
<circle cx="30.4" cy="29.2" r="1.5" fill="#7c72d0" opacity="0.55"/>
<circle cx="30.4" cy="29.2" r="1.1" fill="#3024a8"/>
<circle cx="33.5" cy="20.3" r="1.3" fill="#7c72d0" opacity="0.55"/>
<circle cx="33.5" cy="20.3" r="0.9" fill="#4134c4"/>
<circle cx="34.6" cy="9.8" r="1.2" fill="#7c72d0" opacity="0.55"/>
<circle cx="34.6" cy="9.8" r="0.8" fill="#4c40c8"/>
<circle cx="56.6" cy="49.7" r="1.3" fill="#7c72d0" opacity="0.55"/>
<circle cx="56.6" cy="49.7" r="0.9" fill="#3a2cb8"/>
<circle cx="37.7" cy="37.3" r="1.2" fill="#7c72d0" opacity="0.55"/>
<circle cx="37.7" cy="37.3" r="0.8" fill="#4c40c8"/>
<circle cx="44.7" cy="15.8" r="1.4" fill="#7c72d0" opacity="0.55"/>
<circle cx="44.7" cy="15.8" r="1.0" fill="#3024a8"/>
<circle cx="22.0" cy="42.8" r="1.3" fill="#7c72d0" opacity="0.55"/>
<circle cx="22.0" cy="42.8" r="0.9" fill="#281c96"/>
<circle cx="32.4" cy="49.7" r="1.2" fill="#7c72d0" opacity="0.55"/>
<circle cx="32.4" cy="49.7" r="0.8" fill="#3024a8"/>
<circle cx="43.3" cy="44.9" r="1.3" fill="#7c72d0" opacity="0.55"/>
<circle cx="43.3" cy="44.9" r="0.9" fill="#3a2cb8"/>
<circle cx="18.6" cy="27.6" r="1.4" fill="#7c72d0" opacity="0.55"/>
<circle cx="18.6" cy="27.6" r="1.0" fill="#4134c4"/>
<circle cx="28.9" cy="1.0" r="1.6" fill="#7c72d0" opacity="0.55"/>
<circle cx="28.9" cy="1.0" r="1.2" fill="#4134c4"/>
<circle cx="47.2" cy="35.1" r="1.2" fill="#7c72d0" opacity="0.55"/>
<circle cx="47.2" cy="35.1" r="0.8" fill="#4134c4"/>
</svg>
<line x1="250.8" y1="601.2" x2="258.5" y2="601.2" stroke="#111" stroke-width="1.8"/>
<rect x="313.0" y="553.2" width="67.4" height="51.5" fill="#dcddca"/>
<svg x="313.0" y="553.2" width="67.4" height="51.5">
<ellipse cx="20.9" cy="10.4" rx="2.3" ry="1.3" transform="rotate(67 20.9 10.4)" fill="#8a80d4" opacity="0.5"/>
<ellipse cx="20.9" cy="10.4" rx="1.9" ry="0.9" transform="rotate(67 20.9 10.4)" fill="#3a2cb8"/>
<ellipse cx="42.7" cy="18.8" rx="1.5" ry="1.3" transform="rotate(19 42.7 18.8)" fill="#8a80d4" opacity="0.5"/>
<ellipse cx="42.7" cy="18.8" rx="1.1" ry="0.9" transform="rotate(19 42.7 18.8)" fill="#3a2cb8"/>
<ellipse cx="51.2" cy="48.2" rx="2.1" ry="1.3" transform="rotate(119 51.2 48.2)" fill="#8a80d4" opacity="0.5"/>
<ellipse cx="51.2" cy="48.2" rx="1.7" ry="0.9" transform="rotate(119 51.2 48.2)" fill="#3628b0"/>
<ellipse cx="63.3" cy="30.4" rx="2.0" ry="1.1" transform="rotate(98 63.3 30.4)" fill="#8a80d4" opacity="0.5"/>
<ellipse cx="63.3" cy="30.4" rx="1.6" ry="0.7" transform="rotate(98 63.3 30.4)" fill="#4e40c8"/>
<ellipse cx="67.4" cy="37.7" rx="2.0" ry="1.3" transform="rotate(7 67.4 37.7)" fill="#8a80d4" opacity="0.5"/>
<ellipse cx="67.4" cy="37.7" rx="1.6" ry="0.9" transform="rotate(7 67.4 37.7)" fill="#4234c0"/>
<ellipse cx="54.8" cy="2.9" rx="1.5" ry="1.1" transform="rotate(54 54.8 2.9)" fill="#8a80d4" opacity="0.5"/>
<ellipse cx="54.8" cy="2.9" rx="1.1" ry="0.7" transform="rotate(54 54.8 2.9)" fill="#3a2cb8"/>
<ellipse cx="52.6" cy="22.7" rx="2.1" ry="1.0" transform="rotate(97 52.6 22.7)" fill="#8a80d4" opacity="0.5"/>
<ellipse cx="52.6" cy="22.7" rx="1.7" ry="0.6" transform="rotate(97 52.6 22.7)" fill="#4234c0"/>
<ellipse cx="11.6" cy="10.7" rx="1.6" ry="1.3" transform="rotate(17 11.6 10.7)" fill="#8a80d4" opacity="0.5"/>
<ellipse cx="11.6" cy="10.7" rx="1.2" ry="0.9" transform="rotate(17 11.6 10.7)" fill="#4e40c8"/>
<ellipse cx="24.4" cy="7.3" rx="2.0" ry="1.1" transform="rotate(58 24.4 7.3)" fill="#8a80d4" opacity="0.5"/>
<ellipse cx="24.4" cy="7.3" rx="1.6" ry="0.7" transform="rotate(58 24.4 7.3)" fill="#4234c0"/>
<ellipse cx="32.8" cy="1.8" rx="2.2" ry="1.1" transform="rotate(133 32.8 1.8)" fill="#8a80d4" opacity="0.5"/>
<ellipse cx="32.8" cy="1.8" rx="1.8" ry="0.7" transform="rotate(133 32.8 1.8)" fill="#3a2cb8"/>
<ellipse cx="66.4" cy="13.8" rx="1.6" ry="1.4" transform="rotate(84 66.4 13.8)" fill="#8a80d4" opacity="0.5"/>
<ellipse cx="66.4" cy="13.8" rx="1.2" ry="1.0" transform="rotate(84 66.4 13.8)" fill="#4e40c8"/>
<ellipse cx="51.2" cy="6.9" rx="2.5" ry="1.4" transform="rotate(129 51.2 6.9)" fill="#8a80d4" opacity="0.5"/>
<ellipse cx="51.2" cy="6.9" rx="2.1" ry="1.0" transform="rotate(129 51.2 6.9)" fill="#4234c0"/>
<ellipse cx="12.8" cy="50.1" rx="2.1" ry="1.3" transform="rotate(121 12.8 50.1)" fill="#8a80d4" opacity="0.5"/>
<ellipse cx="12.8" cy="50.1" rx="1.7" ry="0.9" transform="rotate(121 12.8 50.1)" fill="#4234c0"/>
<ellipse cx="37.4" cy="19.8" rx="1.8" ry="1.0" transform="rotate(112 37.4 19.8)" fill="#8a80d4" opacity="0.5"/>
<ellipse cx="37.4" cy="19.8" rx="1.4" ry="0.6" transform="rotate(112 37.4 19.8)" fill="#3a2cb8"/>
<ellipse cx="52.7" cy="37.0" rx="1.7" ry="1.4" transform="rotate(54 52.7 37.0)" fill="#8a80d4" opacity="0.5"/>
<ellipse cx="52.7" cy="37.0" rx="1.3" ry="1.0" transform="rotate(54 52.7 37.0)" fill="#4e40c8"/>
<ellipse cx="14.0" cy="32.6" rx="2.0" ry="1.2" transform="rotate(101 14.0 32.6)" fill="#8a80d4" opacity="0.5"/>
<ellipse cx="14.0" cy="32.6" rx="1.6" ry="0.8" transform="rotate(101 14.0 32.6)" fill="#3a2cb8"/>
<ellipse cx="5.6" cy="44.6" rx="2.4" ry="1.3" transform="rotate(104 5.6 44.6)" fill="#8a80d4" opacity="0.5"/>
<ellipse cx="5.6" cy="44.6" rx="2.0" ry="0.9" transform="rotate(104 5.6 44.6)" fill="#3a2cb8"/>
<ellipse cx="42.5" cy="33.3" rx="2.0" ry="1.3" transform="rotate(90 42.5 33.3)" fill="#8a80d4" opacity="0.5"/>
<ellipse cx="42.5" cy="33.3" rx="1.6" ry="0.9" transform="rotate(90 42.5 33.3)" fill="#3628b0"/>
<ellipse cx="33.0" cy="1.9" rx="1.7" ry="1.2" transform="rotate(139 33.0 1.9)" fill="#8a80d4" opacity="0.5"/>
<ellipse cx="33.0" cy="1.9" rx="1.3" ry="0.8" transform="rotate(139 33.0 1.9)" fill="#4234c0"/>
<ellipse cx="46.9" cy="15.0" rx="1.6" ry="1.4" transform="rotate(124 46.9 15.0)" fill="#8a80d4" opacity="0.5"/>
<ellipse cx="46.9" cy="15.0" rx="1.2" ry="1.0" transform="rotate(124 46.9 15.0)" fill="#3628b0"/>
<ellipse cx="19.2" cy="25.3" rx="2.6" ry="1.5" transform="rotate(33 19.2 25.3)" fill="#8a80d4" opacity="0.5"/>
<ellipse cx="19.2" cy="25.3" rx="2.2" ry="1.1" transform="rotate(33 19.2 25.3)" fill="#3a2cb8"/>
<ellipse cx="23.1" cy="4.9" rx="2.3" ry="1.3" transform="rotate(63 23.1 4.9)" fill="#8a80d4" opacity="0.5"/>
<ellipse cx="23.1" cy="4.9" rx="1.9" ry="0.9" transform="rotate(63 23.1 4.9)" fill="#3628b0"/>
<ellipse cx="27.9" cy="14.7" rx="2.2" ry="1.5" transform="rotate(67 27.9 14.7)" fill="#8a80d4" opacity="0.5"/>
<ellipse cx="27.9" cy="14.7" rx="1.8" ry="1.1" transform="rotate(67 27.9 14.7)" fill="#4e40c8"/>
<ellipse cx="17.0" cy="26.5" rx="2.5" ry="1.5" transform="rotate(49 17.0 26.5)" fill="#8a80d4" opacity="0.5"/>
<ellipse cx="17.0" cy="26.5" rx="2.1" ry="1.1" transform="rotate(49 17.0 26.5)" fill="#4e40c8"/>
<ellipse cx="51.6" cy="35.0" rx="1.8" ry="1.3" transform="rotate(166 51.6 35.0)" fill="#8a80d4" opacity="0.5"/>
<ellipse cx="51.6" cy="35.0" rx="1.4" ry="0.9" transform="rotate(166 51.6 35.0)" fill="#4234c0"/>
<ellipse cx="15.0" cy="11.8" rx="2.4" ry="1.1" transform="rotate(140 15.0 11.8)" fill="#8a80d4" opacity="0.5"/>
<ellipse cx="15.0" cy="11.8" rx="2.0" ry="0.7" transform="rotate(140 15.0 11.8)" fill="#4e40c8"/>
<ellipse cx="1.6" cy="43.0" rx="1.4" ry="1.4" transform="rotate(56 1.6 43.0)" fill="#8a80d4" opacity="0.5"/>
<ellipse cx="1.6" cy="43.0" rx="1.0" ry="1.0" transform="rotate(56 1.6 43.0)" fill="#4e40c8"/>
<ellipse cx="9.3" cy="18.8" rx="1.8" ry="1.3" transform="rotate(115 9.3 18.8)" fill="#8a80d4" opacity="0.5"/>
<ellipse cx="9.3" cy="18.8" rx="1.4" ry="0.9" transform="rotate(115 9.3 18.8)" fill="#3a2cb8"/>
<ellipse cx="16.9" cy="29.8" rx="1.8" ry="1.3" transform="rotate(80 16.9 29.8)" fill="#8a80d4" opacity="0.5"/>
<ellipse cx="16.9" cy="29.8" rx="1.4" ry="0.9" transform="rotate(80 16.9 29.8)" fill="#4234c0"/>
<ellipse cx="23.2" cy="47.3" rx="2.1" ry="1.2" transform="rotate(142 23.2 47.3)" fill="#8a80d4" opacity="0.5"/>
<ellipse cx="23.2" cy="47.3" rx="1.7" ry="0.8" transform="rotate(142 23.2 47.3)" fill="#4e40c8"/>
<ellipse cx="61.5" cy="12.6" rx="2.3" ry="1.1" transform="rotate(46 61.5 12.6)" fill="#8a80d4" opacity="0.5"/>
<ellipse cx="61.5" cy="12.6" rx="1.9" ry="0.7" transform="rotate(46 61.5 12.6)" fill="#3628b0"/>
<ellipse cx="59.8" cy="1.7" rx="1.7" ry="1.3" transform="rotate(126 59.8 1.7)" fill="#8a80d4" opacity="0.5"/>
<ellipse cx="59.8" cy="1.7" rx="1.3" ry="0.9" transform="rotate(126 59.8 1.7)" fill="#3a2cb8"/>
<ellipse cx="23.6" cy="25.7" rx="1.7" ry="1.3" transform="rotate(120 23.6 25.7)" fill="#8a80d4" opacity="0.5"/>
<ellipse cx="23.6" cy="25.7" rx="1.3" ry="0.9" transform="rotate(120 23.6 25.7)" fill="#3a2cb8"/>
<ellipse cx="34.9" cy="24.5" rx="1.8" ry="1.0" transform="rotate(8 34.9 24.5)" fill="#8a80d4" opacity="0.5"/>
<ellipse cx="34.9" cy="24.5" rx="1.4" ry="0.6" transform="rotate(8 34.9 24.5)" fill="#4e40c8"/>
<ellipse cx="7.9" cy="7.7" rx="1.6" ry="1.4" transform="rotate(95 7.9 7.7)" fill="#8a80d4" opacity="0.5"/>
<ellipse cx="7.9" cy="7.7" rx="1.2" ry="1.0" transform="rotate(95 7.9 7.7)" fill="#4234c0"/>
<ellipse cx="34.8" cy="7.7" rx="1.8" ry="1.3" transform="rotate(68 34.8 7.7)" fill="#8a80d4" opacity="0.5"/>
<ellipse cx="34.8" cy="7.7" rx="1.4" ry="0.9" transform="rotate(68 34.8 7.7)" fill="#4e40c8"/>
<ellipse cx="31.7" cy="48.0" rx="1.9" ry="1.5" transform="rotate(61 31.7 48.0)" fill="#8a80d4" opacity="0.5"/>
<ellipse cx="31.7" cy="48.0" rx="1.5" ry="1.1" transform="rotate(61 31.7 48.0)" fill="#4e40c8"/>
<ellipse cx="1.3" cy="25.3" rx="1.7" ry="1.3" transform="rotate(88 1.3 25.3)" fill="#8a80d4" opacity="0.5"/>
<ellipse cx="1.3" cy="25.3" rx="1.3" ry="0.9" transform="rotate(88 1.3 25.3)" fill="#4234c0"/>
<ellipse cx="46.4" cy="23.7" rx="1.7" ry="1.4" transform="rotate(174 46.4 23.7)" fill="#8a80d4" opacity="0.5"/>
<ellipse cx="46.4" cy="23.7" rx="1.3" ry="1.0" transform="rotate(174 46.4 23.7)" fill="#4e40c8"/>
<ellipse cx="64.6" cy="5.3" rx="2.3" ry="1.2" transform="rotate(141 64.6 5.3)" fill="#8a80d4" opacity="0.5"/>
<ellipse cx="64.6" cy="5.3" rx="1.9" ry="0.8" transform="rotate(141 64.6 5.3)" fill="#4234c0"/>
<ellipse cx="27.7" cy="38.7" rx="2.6" ry="1.2" transform="rotate(8 27.7 38.7)" fill="#8a80d4" opacity="0.5"/>
<ellipse cx="27.7" cy="38.7" rx="2.2" ry="0.8" transform="rotate(8 27.7 38.7)" fill="#3a2cb8"/>
<ellipse cx="31.8" cy="41.8" rx="2.1" ry="1.0" transform="rotate(54 31.8 41.8)" fill="#8a80d4" opacity="0.5"/>
<ellipse cx="31.8" cy="41.8" rx="1.7" ry="0.6" transform="rotate(54 31.8 41.8)" fill="#3a2cb8"/>
<ellipse cx="12.0" cy="10.5" rx="2.2" ry="1.1" transform="rotate(62 12.0 10.5)" fill="#8a80d4" opacity="0.5"/>
<ellipse cx="12.0" cy="10.5" rx="1.8" ry="0.7" transform="rotate(62 12.0 10.5)" fill="#4234c0"/>
<ellipse cx="64.5" cy="4.2" rx="2.3" ry="1.3" transform="rotate(127 64.5 4.2)" fill="#8a80d4" opacity="0.5"/>
<ellipse cx="64.5" cy="4.2" rx="1.9" ry="0.9" transform="rotate(127 64.5 4.2)" fill="#4234c0"/>
<ellipse cx="35.5" cy="25.1" rx="2.3" ry="1.1" transform="rotate(169 35.5 25.1)" fill="#8a80d4" opacity="0.5"/>
<ellipse cx="35.5" cy="25.1" rx="1.9" ry="0.7" transform="rotate(169 35.5 25.1)" fill="#4234c0"/>
<ellipse cx="27.7" cy="29.1" rx="1.8" ry="1.2" transform="rotate(95 27.7 29.1)" fill="#8a80d4" opacity="0.5"/>
<ellipse cx="27.7" cy="29.1" rx="1.4" ry="0.8" transform="rotate(95 27.7 29.1)" fill="#3628b0"/>
<ellipse cx="49.9" cy="10.8" rx="2.6" ry="1.3" transform="rotate(26 49.9 10.8)" fill="#8a80d4" opacity="0.5"/>
<ellipse cx="49.9" cy="10.8" rx="2.2" ry="0.9" transform="rotate(26 49.9 10.8)" fill="#4e40c8"/>
<ellipse cx="8.8" cy="21.3" rx="1.4" ry="1.2" transform="rotate(170 8.8 21.3)" fill="#8a80d4" opacity="0.5"/>
<ellipse cx="8.8" cy="21.3" rx="1.0" ry="0.8" transform="rotate(170 8.8 21.3)" fill="#4234c0"/>
<ellipse cx="34.1" cy="50.8" rx="2.2" ry="1.4" transform="rotate(90 34.1 50.8)" fill="#8a80d4" opacity="0.5"/>
<ellipse cx="34.1" cy="50.8" rx="1.8" ry="1.0" transform="rotate(90 34.1 50.8)" fill="#4234c0"/>
<ellipse cx="27.3" cy="7.0" rx="1.6" ry="1.4" transform="rotate(139 27.3 7.0)" fill="#8a80d4" opacity="0.5"/>
<ellipse cx="27.3" cy="7.0" rx="1.2" ry="1.0" transform="rotate(139 27.3 7.0)" fill="#3a2cb8"/>
<ellipse cx="54.1" cy="6.8" rx="1.9" ry="1.1" transform="rotate(158 54.1 6.8)" fill="#8a80d4" opacity="0.5"/>
<ellipse cx="54.1" cy="6.8" rx="1.5" ry="0.7" transform="rotate(158 54.1 6.8)" fill="#3628b0"/>
<ellipse cx="7.8" cy="47.8" rx="1.5" ry="1.4" transform="rotate(66 7.8 47.8)" fill="#8a80d4" opacity="0.5"/>
<ellipse cx="7.8" cy="47.8" rx="1.1" ry="1.0" transform="rotate(66 7.8 47.8)" fill="#3628b0"/>
<ellipse cx="66.7" cy="11.1" rx="1.8" ry="1.2" transform="rotate(3 66.7 11.1)" fill="#8a80d4" opacity="0.5"/>
<ellipse cx="66.7" cy="11.1" rx="1.4" ry="0.8" transform="rotate(3 66.7 11.1)" fill="#4234c0"/>
<ellipse cx="3.2" cy="9.3" rx="2.0" ry="1.4" transform="rotate(17 3.2 9.3)" fill="#8a80d4" opacity="0.5"/>
<ellipse cx="3.2" cy="9.3" rx="1.6" ry="1.0" transform="rotate(17 3.2 9.3)" fill="#3628b0"/>
<ellipse cx="51.1" cy="15.5" rx="1.7" ry="1.3" transform="rotate(131 51.1 15.5)" fill="#8a80d4" opacity="0.5"/>
<ellipse cx="51.1" cy="15.5" rx="1.3" ry="0.9" transform="rotate(131 51.1 15.5)" fill="#3a2cb8"/>
<ellipse cx="52.3" cy="8.6" rx="2.5" ry="1.4" transform="rotate(62 52.3 8.6)" fill="#8a80d4" opacity="0.5"/>
<ellipse cx="52.3" cy="8.6" rx="2.1" ry="1.0" transform="rotate(62 52.3 8.6)" fill="#4234c0"/>
<ellipse cx="49.3" cy="22.7" rx="2.4" ry="1.2" transform="rotate(21 49.3 22.7)" fill="#8a80d4" opacity="0.5"/>
<ellipse cx="49.3" cy="22.7" rx="2.0" ry="0.8" transform="rotate(21 49.3 22.7)" fill="#3628b0"/>
<ellipse cx="62.1" cy="33.4" rx="2.2" ry="1.2" transform="rotate(118 62.1 33.4)" fill="#8a80d4" opacity="0.5"/>
<ellipse cx="62.1" cy="33.4" rx="1.8" ry="0.8" transform="rotate(118 62.1 33.4)" fill="#3a2cb8"/>
<ellipse cx="38.6" cy="6.6" rx="1.9" ry="1.2" transform="rotate(77 38.6 6.6)" fill="#8a80d4" opacity="0.5"/>
<ellipse cx="38.6" cy="6.6" rx="1.5" ry="0.8" transform="rotate(77 38.6 6.6)" fill="#4e40c8"/>
<ellipse cx="34.9" cy="7.6" rx="1.8" ry="1.3" transform="rotate(47 34.9 7.6)" fill="#8a80d4" opacity="0.5"/>
<ellipse cx="34.9" cy="7.6" rx="1.4" ry="0.9" transform="rotate(47 34.9 7.6)" fill="#3a2cb8"/>
<ellipse cx="1.1" cy="37.2" rx="2.0" ry="1.3" transform="rotate(71 1.1 37.2)" fill="#8a80d4" opacity="0.5"/>
<ellipse cx="1.1" cy="37.2" rx="1.6" ry="0.9" transform="rotate(71 1.1 37.2)" fill="#4e40c8"/>
<ellipse cx="2.5" cy="29.1" rx="1.5" ry="1.4" transform="rotate(27 2.5 29.1)" fill="#8a80d4" opacity="0.5"/>
<ellipse cx="2.5" cy="29.1" rx="1.1" ry="1.0" transform="rotate(27 2.5 29.1)" fill="#3a2cb8"/>
<ellipse cx="45.4" cy="46.9" rx="1.7" ry="1.3" transform="rotate(164 45.4 46.9)" fill="#8a80d4" opacity="0.5"/>
<ellipse cx="45.4" cy="46.9" rx="1.3" ry="0.9" transform="rotate(164 45.4 46.9)" fill="#3a2cb8"/>
<ellipse cx="17.2" cy="36.0" rx="2.0" ry="1.2" transform="rotate(143 17.2 36.0)" fill="#8a80d4" opacity="0.5"/>
<ellipse cx="17.2" cy="36.0" rx="1.6" ry="0.8" transform="rotate(143 17.2 36.0)" fill="#3628b0"/>
<ellipse cx="12.6" cy="41.6" rx="1.9" ry="1.2" transform="rotate(142 12.6 41.6)" fill="#8a80d4" opacity="0.5"/>
<ellipse cx="12.6" cy="41.6" rx="1.5" ry="0.8" transform="rotate(142 12.6 41.6)" fill="#3a2cb8"/>
<ellipse cx="61.7" cy="49.9" rx="1.7" ry="1.4" transform="rotate(76 61.7 49.9)" fill="#8a80d4" opacity="0.5"/>
<ellipse cx="61.7" cy="49.9" rx="1.3" ry="1.0" transform="rotate(76 61.7 49.9)" fill="#3a2cb8"/>
<ellipse cx="44.9" cy="24.4" rx="2.6" ry="1.3" transform="rotate(160 44.9 24.4)" fill="#8a80d4" opacity="0.5"/>
<ellipse cx="44.9" cy="24.4" rx="2.2" ry="0.9" transform="rotate(160 44.9 24.4)" fill="#4234c0"/>
<ellipse cx="46.9" cy="0.4" rx="2.1" ry="1.4" transform="rotate(74 46.9 0.4)" fill="#8a80d4" opacity="0.5"/>
<ellipse cx="46.9" cy="0.4" rx="1.7" ry="1.0" transform="rotate(74 46.9 0.4)" fill="#4234c0"/>
<ellipse cx="39.6" cy="22.6" rx="2.6" ry="1.0" transform="rotate(39 39.6 22.6)" fill="#8a80d4" opacity="0.5"/>
<ellipse cx="39.6" cy="22.6" rx="2.2" ry="0.6" transform="rotate(39 39.6 22.6)" fill="#3628b0"/>
<ellipse cx="49.1" cy="26.7" rx="2.3" ry="1.0" transform="rotate(174 49.1 26.7)" fill="#8a80d4" opacity="0.5"/>
<ellipse cx="49.1" cy="26.7" rx="1.9" ry="0.6" transform="rotate(174 49.1 26.7)" fill="#4234c0"/>
<ellipse cx="7.5" cy="21.1" rx="2.2" ry="1.2" transform="rotate(112 7.5 21.1)" fill="#8a80d4" opacity="0.5"/>
<ellipse cx="7.5" cy="21.1" rx="1.8" ry="0.8" transform="rotate(112 7.5 21.1)" fill="#4234c0"/>
<ellipse cx="30.2" cy="16.6" rx="2.5" ry="1.3" transform="rotate(37 30.2 16.6)" fill="#8a80d4" opacity="0.5"/>
<ellipse cx="30.2" cy="16.6" rx="2.1" ry="0.9" transform="rotate(37 30.2 16.6)" fill="#3628b0"/>
<ellipse cx="60.7" cy="26.5" rx="2.2" ry="1.1" transform="rotate(46 60.7 26.5)" fill="#8a80d4" opacity="0.5"/>
<ellipse cx="60.7" cy="26.5" rx="1.8" ry="0.7" transform="rotate(46 60.7 26.5)" fill="#3628b0"/>
<ellipse cx="19.8" cy="36.1" rx="2.2" ry="1.3" transform="rotate(38 19.8 36.1)" fill="#8a80d4" opacity="0.5"/>
<ellipse cx="19.8" cy="36.1" rx="1.8" ry="0.9" transform="rotate(38 19.8 36.1)" fill="#3a2cb8"/>
<ellipse cx="8.9" cy="11.0" rx="1.9" ry="1.4" transform="rotate(60 8.9 11.0)" fill="#8a80d4" opacity="0.5"/>
<ellipse cx="8.9" cy="11.0" rx="1.5" ry="1.0" transform="rotate(60 8.9 11.0)" fill="#3a2cb8"/>
<ellipse cx="57.5" cy="50.5" rx="1.9" ry="1.0" transform="rotate(28 57.5 50.5)" fill="#8a80d4" opacity="0.5"/>
<ellipse cx="57.5" cy="50.5" rx="1.5" ry="0.6" transform="rotate(28 57.5 50.5)" fill="#4e40c8"/>
<ellipse cx="11.9" cy="47.2" rx="1.7" ry="1.5" transform="rotate(60 11.9 47.2)" fill="#8a80d4" opacity="0.5"/>
<ellipse cx="11.9" cy="47.2" rx="1.3" ry="1.1" transform="rotate(60 11.9 47.2)" fill="#3628b0"/>
<ellipse cx="8.7" cy="47.0" rx="2.5" ry="1.3" transform="rotate(180 8.7 47.0)" fill="#8a80d4" opacity="0.5"/>
<ellipse cx="8.7" cy="47.0" rx="2.1" ry="0.9" transform="rotate(180 8.7 47.0)" fill="#3628b0"/>
<ellipse cx="9.3" cy="33.2" rx="2.4" ry="1.1" transform="rotate(177 9.3 33.2)" fill="#8a80d4" opacity="0.5"/>
<ellipse cx="9.3" cy="33.2" rx="2.0" ry="0.7" transform="rotate(177 9.3 33.2)" fill="#3a2cb8"/>
<ellipse cx="12.6" cy="49.5" rx="1.5" ry="1.1" transform="rotate(16 12.6 49.5)" fill="#8a80d4" opacity="0.5"/>
<ellipse cx="12.6" cy="49.5" rx="1.1" ry="0.7" transform="rotate(16 12.6 49.5)" fill="#3a2cb8"/>
<ellipse cx="22.0" cy="12.8" rx="1.8" ry="1.2" transform="rotate(52 22.0 12.8)" fill="#8a80d4" opacity="0.5"/>
<ellipse cx="22.0" cy="12.8" rx="1.4" ry="0.8" transform="rotate(52 22.0 12.8)" fill="#4234c0"/>
<ellipse cx="47.1" cy="45.6" rx="1.5" ry="1.0" transform="rotate(118 47.1 45.6)" fill="#8a80d4" opacity="0.5"/>
<ellipse cx="47.1" cy="45.6" rx="1.1" ry="0.6" transform="rotate(118 47.1 45.6)" fill="#3628b0"/>
<ellipse cx="38.2" cy="44.6" rx="2.2" ry="1.4" transform="rotate(14 38.2 44.6)" fill="#8a80d4" opacity="0.5"/>
<ellipse cx="38.2" cy="44.6" rx="1.8" ry="1.0" transform="rotate(14 38.2 44.6)" fill="#3628b0"/>
<ellipse cx="16.3" cy="50.6" rx="1.8" ry="1.0" transform="rotate(136 16.3 50.6)" fill="#8a80d4" opacity="0.5"/>
<ellipse cx="16.3" cy="50.6" rx="1.4" ry="0.6" transform="rotate(136 16.3 50.6)" fill="#4e40c8"/>
<ellipse cx="17.3" cy="43.7" rx="2.2" ry="1.2" transform="rotate(21 17.3 43.7)" fill="#8a80d4" opacity="0.5"/>
<ellipse cx="17.3" cy="43.7" rx="1.8" ry="0.8" transform="rotate(21 17.3 43.7)" fill="#4e40c8"/>
<ellipse cx="47.8" cy="38.4" rx="2.5" ry="1.3" transform="rotate(171 47.8 38.4)" fill="#8a80d4" opacity="0.5"/>
<ellipse cx="47.8" cy="38.4" rx="2.1" ry="0.9" transform="rotate(171 47.8 38.4)" fill="#4e40c8"/>
<ellipse cx="19.0" cy="14.0" rx="2.7" ry="1.0" transform="rotate(16 19.0 14.0)" fill="#8a80d4" opacity="0.5"/>
<ellipse cx="19.0" cy="14.0" rx="2.3" ry="0.6" transform="rotate(16 19.0 14.0)" fill="#3a2cb8"/>
<ellipse cx="23.6" cy="9.6" rx="2.6" ry="1.1" transform="rotate(78 23.6 9.6)" fill="#8a80d4" opacity="0.5"/>
<ellipse cx="23.6" cy="9.6" rx="2.2" ry="0.7" transform="rotate(78 23.6 9.6)" fill="#3628b0"/>
<ellipse cx="58.3" cy="49.5" rx="1.8" ry="1.3" transform="rotate(93 58.3 49.5)" fill="#8a80d4" opacity="0.5"/>
<ellipse cx="58.3" cy="49.5" rx="1.4" ry="0.9" transform="rotate(93 58.3 49.5)" fill="#4234c0"/>
<ellipse cx="37.3" cy="1.6" rx="2.1" ry="1.1" transform="rotate(66 37.3 1.6)" fill="#8a80d4" opacity="0.5"/>
<ellipse cx="37.3" cy="1.6" rx="1.7" ry="0.7" transform="rotate(66 37.3 1.6)" fill="#3a2cb8"/>
<ellipse cx="60.3" cy="24.1" rx="2.5" ry="1.0" transform="rotate(8 60.3 24.1)" fill="#8a80d4" opacity="0.5"/>
<ellipse cx="60.3" cy="24.1" rx="2.1" ry="0.6" transform="rotate(8 60.3 24.1)" fill="#4e40c8"/>
<ellipse cx="56.4" cy="1.3" rx="1.6" ry="1.2" transform="rotate(11 56.4 1.3)" fill="#8a80d4" opacity="0.5"/>
<ellipse cx="56.4" cy="1.3" rx="1.2" ry="0.8" transform="rotate(11 56.4 1.3)" fill="#4234c0"/>
<ellipse cx="34.1" cy="8.1" rx="2.2" ry="1.3" transform="rotate(161 34.1 8.1)" fill="#8a80d4" opacity="0.5"/>
<ellipse cx="34.1" cy="8.1" rx="1.8" ry="0.9" transform="rotate(161 34.1 8.1)" fill="#4e40c8"/>
<ellipse cx="21.5" cy="6.9" rx="1.9" ry="1.1" transform="rotate(30 21.5 6.9)" fill="#8a80d4" opacity="0.5"/>
<ellipse cx="21.5" cy="6.9" rx="1.5" ry="0.7" transform="rotate(30 21.5 6.9)" fill="#3a2cb8"/>
<ellipse cx="9.1" cy="16.7" rx="1.9" ry="1.4" transform="rotate(43 9.1 16.7)" fill="#8a80d4" opacity="0.5"/>
<ellipse cx="9.1" cy="16.7" rx="1.5" ry="1.0" transform="rotate(43 9.1 16.7)" fill="#4e40c8"/>
<ellipse cx="40.8" cy="23.5" rx="1.5" ry="1.4" transform="rotate(134 40.8 23.5)" fill="#8a80d4" opacity="0.5"/>
<ellipse cx="40.8" cy="23.5" rx="1.1" ry="1.0" transform="rotate(134 40.8 23.5)" fill="#4234c0"/>
<ellipse cx="38.2" cy="31.4" rx="1.8" ry="1.4" transform="rotate(27 38.2 31.4)" fill="#8a80d4" opacity="0.5"/>
<ellipse cx="38.2" cy="31.4" rx="1.4" ry="1.0" transform="rotate(27 38.2 31.4)" fill="#4234c0"/>
<ellipse cx="36.3" cy="5.2" rx="2.4" ry="1.4" transform="rotate(127 36.3 5.2)" fill="#8a80d4" opacity="0.5"/>
<ellipse cx="36.3" cy="5.2" rx="2.0" ry="1.0" transform="rotate(127 36.3 5.2)" fill="#4e40c8"/>
<ellipse cx="21.4" cy="7.5" rx="2.3" ry="1.2" transform="rotate(137 21.4 7.5)" fill="#8a80d4" opacity="0.5"/>
<ellipse cx="21.4" cy="7.5" rx="1.9" ry="0.8" transform="rotate(137 21.4 7.5)" fill="#4e40c8"/>
<ellipse cx="43.9" cy="47.6" rx="2.2" ry="1.0" transform="rotate(82 43.9 47.6)" fill="#8a80d4" opacity="0.5"/>
<ellipse cx="43.9" cy="47.6" rx="1.8" ry="0.6" transform="rotate(82 43.9 47.6)" fill="#4e40c8"/>
<ellipse cx="21.6" cy="26.4" rx="2.5" ry="1.2" transform="rotate(134 21.6 26.4)" fill="#8a80d4" opacity="0.5"/>
<ellipse cx="21.6" cy="26.4" rx="2.1" ry="0.8" transform="rotate(134 21.6 26.4)" fill="#3a2cb8"/>
<ellipse cx="46.1" cy="18.3" rx="2.2" ry="1.2" transform="rotate(100 46.1 18.3)" fill="#8a80d4" opacity="0.5"/>
<ellipse cx="46.1" cy="18.3" rx="1.8" ry="0.8" transform="rotate(100 46.1 18.3)" fill="#3628b0"/>
<ellipse cx="59.6" cy="41.2" rx="1.5" ry="1.1" transform="rotate(55 59.6 41.2)" fill="#8a80d4" opacity="0.5"/>
<ellipse cx="59.6" cy="41.2" rx="1.1" ry="0.7" transform="rotate(55 59.6 41.2)" fill="#3a2cb8"/>
<ellipse cx="2.6" cy="41.7" rx="2.1" ry="1.3" transform="rotate(95 2.6 41.7)" fill="#8a80d4" opacity="0.5"/>
<ellipse cx="2.6" cy="41.7" rx="1.7" ry="0.9" transform="rotate(95 2.6 41.7)" fill="#3a2cb8"/>
<ellipse cx="61.6" cy="27.7" rx="1.7" ry="1.3" transform="rotate(24 61.6 27.7)" fill="#8a80d4" opacity="0.5"/>
<ellipse cx="61.6" cy="27.7" rx="1.3" ry="0.9" transform="rotate(24 61.6 27.7)" fill="#3a2cb8"/>
<ellipse cx="43.2" cy="41.5" rx="2.6" ry="1.0" transform="rotate(125 43.2 41.5)" fill="#8a80d4" opacity="0.5"/>
<ellipse cx="43.2" cy="41.5" rx="2.2" ry="0.6" transform="rotate(125 43.2 41.5)" fill="#4234c0"/>
<ellipse cx="48.8" cy="38.8" rx="1.9" ry="1.4" transform="rotate(167 48.8 38.8)" fill="#8a80d4" opacity="0.5"/>
<ellipse cx="48.8" cy="38.8" rx="1.5" ry="1.0" transform="rotate(167 48.8 38.8)" fill="#3628b0"/>
<ellipse cx="10.5" cy="27.2" rx="2.4" ry="1.2" transform="rotate(162 10.5 27.2)" fill="#8a80d4" opacity="0.5"/>
<ellipse cx="10.5" cy="27.2" rx="2.0" ry="0.8" transform="rotate(162 10.5 27.2)" fill="#3a2cb8"/>
<ellipse cx="54.5" cy="0.2" rx="1.7" ry="1.2" transform="rotate(151 54.5 0.2)" fill="#8a80d4" opacity="0.5"/>
<ellipse cx="54.5" cy="0.2" rx="1.3" ry="0.8" transform="rotate(151 54.5 0.2)" fill="#3a2cb8"/>
<ellipse cx="62.3" cy="1.8" rx="1.6" ry="1.3" transform="rotate(79 62.3 1.8)" fill="#8a80d4" opacity="0.5"/>
<ellipse cx="62.3" cy="1.8" rx="1.2" ry="0.9" transform="rotate(79 62.3 1.8)" fill="#3628b0"/>
<ellipse cx="37.9" cy="41.5" rx="2.6" ry="1.0" transform="rotate(95 37.9 41.5)" fill="#8a80d4" opacity="0.5"/>
<ellipse cx="37.9" cy="41.5" rx="2.2" ry="0.6" transform="rotate(95 37.9 41.5)" fill="#3a2cb8"/>
<ellipse cx="37.2" cy="28.3" rx="2.0" ry="1.4" transform="rotate(2 37.2 28.3)" fill="#8a80d4" opacity="0.5"/>
<ellipse cx="37.2" cy="28.3" rx="1.6" ry="1.0" transform="rotate(2 37.2 28.3)" fill="#3a2cb8"/>
<ellipse cx="25.1" cy="51.2" rx="1.5" ry="1.1" transform="rotate(117 25.1 51.2)" fill="#8a80d4" opacity="0.5"/>
<ellipse cx="25.1" cy="51.2" rx="1.1" ry="0.7" transform="rotate(117 25.1 51.2)" fill="#4234c0"/>
<ellipse cx="6.0" cy="20.6" rx="2.3" ry="1.3" transform="rotate(42 6.0 20.6)" fill="#8a80d4" opacity="0.5"/>
<ellipse cx="6.0" cy="20.6" rx="1.9" ry="0.9" transform="rotate(42 6.0 20.6)" fill="#3a2cb8"/>
<ellipse cx="61.3" cy="43.2" rx="2.0" ry="1.2" transform="rotate(101 61.3 43.2)" fill="#8a80d4" opacity="0.5"/>
<ellipse cx="61.3" cy="43.2" rx="1.6" ry="0.8" transform="rotate(101 61.3 43.2)" fill="#4e40c8"/>
<ellipse cx="32.8" cy="43.7" rx="1.7" ry="1.2" transform="rotate(177 32.8 43.7)" fill="#8a80d4" opacity="0.5"/>
<ellipse cx="32.8" cy="43.7" rx="1.3" ry="0.8" transform="rotate(177 32.8 43.7)" fill="#3a2cb8"/>
<ellipse cx="8.3" cy="17.8" rx="1.9" ry="1.5" transform="rotate(23 8.3 17.8)" fill="#8a80d4" opacity="0.5"/>
<ellipse cx="8.3" cy="17.8" rx="1.5" ry="1.1" transform="rotate(23 8.3 17.8)" fill="#3628b0"/>
<ellipse cx="64.6" cy="11.4" rx="1.4" ry="1.1" transform="rotate(40 64.6 11.4)" fill="#8a80d4" opacity="0.5"/>
<ellipse cx="64.6" cy="11.4" rx="1.0" ry="0.7" transform="rotate(40 64.6 11.4)" fill="#4234c0"/>
<ellipse cx="1.0" cy="21.6" rx="2.4" ry="1.2" transform="rotate(166 1.0 21.6)" fill="#8a80d4" opacity="0.5"/>
<ellipse cx="1.0" cy="21.6" rx="2.0" ry="0.8" transform="rotate(166 1.0 21.6)" fill="#4e40c8"/>
<ellipse cx="51.3" cy="29.6" rx="1.6" ry="1.2" transform="rotate(114 51.3 29.6)" fill="#8a80d4" opacity="0.5"/>
<ellipse cx="51.3" cy="29.6" rx="1.2" ry="0.8" transform="rotate(114 51.3 29.6)" fill="#4e40c8"/>
<ellipse cx="27.0" cy="5.0" rx="1.8" ry="1.3" transform="rotate(171 27.0 5.0)" fill="#8a80d4" opacity="0.5"/>
<ellipse cx="27.0" cy="5.0" rx="1.4" ry="0.9" transform="rotate(171 27.0 5.0)" fill="#4234c0"/>
<ellipse cx="57.5" cy="42.0" rx="1.6" ry="1.1" transform="rotate(88 57.5 42.0)" fill="#8a80d4" opacity="0.5"/>
<ellipse cx="57.5" cy="42.0" rx="1.2" ry="0.7" transform="rotate(88 57.5 42.0)" fill="#4234c0"/>
<ellipse cx="22.2" cy="30.0" rx="1.9" ry="1.4" transform="rotate(165 22.2 30.0)" fill="#8a80d4" opacity="0.5"/>
<ellipse cx="22.2" cy="30.0" rx="1.5" ry="1.0" transform="rotate(165 22.2 30.0)" fill="#4e40c8"/>
<ellipse cx="22.3" cy="37.0" rx="1.6" ry="1.4" transform="rotate(147 22.3 37.0)" fill="#8a80d4" opacity="0.5"/>
<ellipse cx="22.3" cy="37.0" rx="1.2" ry="1.0" transform="rotate(147 22.3 37.0)" fill="#4234c0"/>
<ellipse cx="39.7" cy="42.5" rx="2.1" ry="1.4" transform="rotate(11 39.7 42.5)" fill="#8a80d4" opacity="0.5"/>
<ellipse cx="39.7" cy="42.5" rx="1.7" ry="1.0" transform="rotate(11 39.7 42.5)" fill="#3628b0"/>
<ellipse cx="63.1" cy="5.4" rx="2.7" ry="1.3" transform="rotate(67 63.1 5.4)" fill="#8a80d4" opacity="0.5"/>
<ellipse cx="63.1" cy="5.4" rx="2.3" ry="0.9" transform="rotate(67 63.1 5.4)" fill="#4e40c8"/>
<ellipse cx="17.1" cy="1.3" rx="1.7" ry="1.3" transform="rotate(170 17.1 1.3)" fill="#8a80d4" opacity="0.5"/>
<ellipse cx="17.1" cy="1.3" rx="1.3" ry="0.9" transform="rotate(170 17.1 1.3)" fill="#4e40c8"/>
<ellipse cx="4.9" cy="28.6" rx="1.9" ry="1.3" transform="rotate(128 4.9 28.6)" fill="#8a80d4" opacity="0.5"/>
<ellipse cx="4.9" cy="28.6" rx="1.5" ry="0.9" transform="rotate(128 4.9 28.6)" fill="#4234c0"/>
<ellipse cx="23.3" cy="1.3" rx="1.4" ry="1.0" transform="rotate(53 23.3 1.3)" fill="#8a80d4" opacity="0.5"/>
<ellipse cx="23.3" cy="1.3" rx="1.0" ry="0.6" transform="rotate(53 23.3 1.3)" fill="#4234c0"/>
<ellipse cx="15.9" cy="36.5" rx="1.5" ry="1.5" transform="rotate(117 15.9 36.5)" fill="#8a80d4" opacity="0.5"/>
<ellipse cx="15.9" cy="36.5" rx="1.1" ry="1.1" transform="rotate(117 15.9 36.5)" fill="#4234c0"/>
</svg>
<line x1="368.9" y1="601.2" x2="376.6" y2="601.2" stroke="#111" stroke-width="1.8"/>
<rect x="387.2" y="553.2" width="67.4" height="51.5" fill="#dcddca"/>
<svg x="387.2" y="553.2" width="67.4" height="51.5">
<ellipse cx="35.9" cy="13.1" rx="2.6" ry="1.4" transform="rotate(18 35.9 13.1)" fill="#8a80d4" opacity="0.5"/>
<ellipse cx="35.9" cy="13.1" rx="2.2" ry="1.0" transform="rotate(18 35.9 13.1)" fill="#3a2cb8"/>
<ellipse cx="30.3" cy="12.2" rx="2.3" ry="1.4" transform="rotate(32 30.3 12.2)" fill="#8a80d4" opacity="0.5"/>
<ellipse cx="30.3" cy="12.2" rx="1.9" ry="1.0" transform="rotate(32 30.3 12.2)" fill="#4e40c8"/>
<ellipse cx="66.1" cy="37.6" rx="2.5" ry="1.2" transform="rotate(121 66.1 37.6)" fill="#8a80d4" opacity="0.5"/>
<ellipse cx="66.1" cy="37.6" rx="2.1" ry="0.8" transform="rotate(121 66.1 37.6)" fill="#3628b0"/>
<ellipse cx="5.7" cy="50.4" rx="2.5" ry="1.0" transform="rotate(98 5.7 50.4)" fill="#8a80d4" opacity="0.5"/>
<ellipse cx="5.7" cy="50.4" rx="2.1" ry="0.6" transform="rotate(98 5.7 50.4)" fill="#3a2cb8"/>
<ellipse cx="23.2" cy="21.0" rx="1.8" ry="1.1" transform="rotate(152 23.2 21.0)" fill="#8a80d4" opacity="0.5"/>
<ellipse cx="23.2" cy="21.0" rx="1.4" ry="0.7" transform="rotate(152 23.2 21.0)" fill="#4234c0"/>
<ellipse cx="55.6" cy="28.1" rx="2.0" ry="1.3" transform="rotate(23 55.6 28.1)" fill="#8a80d4" opacity="0.5"/>
<ellipse cx="55.6" cy="28.1" rx="1.6" ry="0.9" transform="rotate(23 55.6 28.1)" fill="#3628b0"/>
<ellipse cx="48.2" cy="50.7" rx="2.5" ry="1.2" transform="rotate(5 48.2 50.7)" fill="#8a80d4" opacity="0.5"/>
<ellipse cx="48.2" cy="50.7" rx="2.1" ry="0.8" transform="rotate(5 48.2 50.7)" fill="#4234c0"/>
<ellipse cx="29.1" cy="12.2" rx="2.7" ry="1.1" transform="rotate(106 29.1 12.2)" fill="#8a80d4" opacity="0.5"/>
<ellipse cx="29.1" cy="12.2" rx="2.3" ry="0.7" transform="rotate(106 29.1 12.2)" fill="#4234c0"/>
<ellipse cx="43.1" cy="11.8" rx="1.5" ry="1.3" transform="rotate(41 43.1 11.8)" fill="#8a80d4" opacity="0.5"/>
<ellipse cx="43.1" cy="11.8" rx="1.1" ry="0.9" transform="rotate(41 43.1 11.8)" fill="#4234c0"/>
<ellipse cx="21.9" cy="16.3" rx="1.6" ry="1.2" transform="rotate(86 21.9 16.3)" fill="#8a80d4" opacity="0.5"/>
<ellipse cx="21.9" cy="16.3" rx="1.2" ry="0.8" transform="rotate(86 21.9 16.3)" fill="#3628b0"/>
<ellipse cx="21.8" cy="41.0" rx="1.5" ry="1.3" transform="rotate(33 21.8 41.0)" fill="#8a80d4" opacity="0.5"/>
<ellipse cx="21.8" cy="41.0" rx="1.1" ry="0.9" transform="rotate(33 21.8 41.0)" fill="#3a2cb8"/>
<ellipse cx="37.8" cy="25.4" rx="1.7" ry="1.4" transform="rotate(13 37.8 25.4)" fill="#8a80d4" opacity="0.5"/>
<ellipse cx="37.8" cy="25.4" rx="1.3" ry="1.0" transform="rotate(13 37.8 25.4)" fill="#3628b0"/>
<ellipse cx="5.7" cy="34.8" rx="2.7" ry="1.2" transform="rotate(74 5.7 34.8)" fill="#8a80d4" opacity="0.5"/>
<ellipse cx="5.7" cy="34.8" rx="2.3" ry="0.8" transform="rotate(74 5.7 34.8)" fill="#3628b0"/>
<ellipse cx="41.1" cy="21.8" rx="2.0" ry="1.3" transform="rotate(33 41.1 21.8)" fill="#8a80d4" opacity="0.5"/>
<ellipse cx="41.1" cy="21.8" rx="1.6" ry="0.9" transform="rotate(33 41.1 21.8)" fill="#3628b0"/>
<ellipse cx="22.1" cy="11.5" rx="2.4" ry="1.1" transform="rotate(113 22.1 11.5)" fill="#8a80d4" opacity="0.5"/>
<ellipse cx="22.1" cy="11.5" rx="2.0" ry="0.7" transform="rotate(113 22.1 11.5)" fill="#3a2cb8"/>
<ellipse cx="33.9" cy="25.5" rx="2.4" ry="1.1" transform="rotate(97 33.9 25.5)" fill="#8a80d4" opacity="0.5"/>
<ellipse cx="33.9" cy="25.5" rx="2.0" ry="0.7" transform="rotate(97 33.9 25.5)" fill="#3628b0"/>
<ellipse cx="23.3" cy="50.7" rx="1.8" ry="1.2" transform="rotate(12 23.3 50.7)" fill="#8a80d4" opacity="0.5"/>
<ellipse cx="23.3" cy="50.7" rx="1.4" ry="0.8" transform="rotate(12 23.3 50.7)" fill="#3a2cb8"/>
<ellipse cx="42.5" cy="47.9" rx="1.4" ry="1.0" transform="rotate(121 42.5 47.9)" fill="#8a80d4" opacity="0.5"/>
<ellipse cx="42.5" cy="47.9" rx="1.0" ry="0.6" transform="rotate(121 42.5 47.9)" fill="#4234c0"/>
<ellipse cx="35.1" cy="9.7" rx="2.6" ry="1.1" transform="rotate(177 35.1 9.7)" fill="#8a80d4" opacity="0.5"/>
<ellipse cx="35.1" cy="9.7" rx="2.2" ry="0.7" transform="rotate(177 35.1 9.7)" fill="#4e40c8"/>
<ellipse cx="27.9" cy="49.4" rx="2.2" ry="1.3" transform="rotate(64 27.9 49.4)" fill="#8a80d4" opacity="0.5"/>
<ellipse cx="27.9" cy="49.4" rx="1.8" ry="0.9" transform="rotate(64 27.9 49.4)" fill="#4e40c8"/>
<ellipse cx="13.6" cy="46.5" rx="2.6" ry="1.4" transform="rotate(169 13.6 46.5)" fill="#8a80d4" opacity="0.5"/>
<ellipse cx="13.6" cy="46.5" rx="2.2" ry="1.0" transform="rotate(169 13.6 46.5)" fill="#4234c0"/>
<ellipse cx="2.5" cy="15.4" rx="2.5" ry="1.1" transform="rotate(110 2.5 15.4)" fill="#8a80d4" opacity="0.5"/>
<ellipse cx="2.5" cy="15.4" rx="2.1" ry="0.7" transform="rotate(110 2.5 15.4)" fill="#3a2cb8"/>
<ellipse cx="65.6" cy="43.0" rx="1.9" ry="1.4" transform="rotate(134 65.6 43.0)" fill="#8a80d4" opacity="0.5"/>
<ellipse cx="65.6" cy="43.0" rx="1.5" ry="1.0" transform="rotate(134 65.6 43.0)" fill="#4234c0"/>
<ellipse cx="61.9" cy="37.9" rx="1.6" ry="1.0" transform="rotate(126 61.9 37.9)" fill="#8a80d4" opacity="0.5"/>
<ellipse cx="61.9" cy="37.9" rx="1.2" ry="0.6" transform="rotate(126 61.9 37.9)" fill="#3a2cb8"/>
<ellipse cx="21.1" cy="13.8" rx="2.1" ry="1.0" transform="rotate(166 21.1 13.8)" fill="#8a80d4" opacity="0.5"/>
<ellipse cx="21.1" cy="13.8" rx="1.7" ry="0.6" transform="rotate(166 21.1 13.8)" fill="#4e40c8"/>
<ellipse cx="60.1" cy="0.9" rx="1.5" ry="1.2" transform="rotate(139 60.1 0.9)" fill="#8a80d4" opacity="0.5"/>
<ellipse cx="60.1" cy="0.9" rx="1.1" ry="0.8" transform="rotate(139 60.1 0.9)" fill="#4234c0"/>
<ellipse cx="35.3" cy="44.1" rx="2.0" ry="1.4" transform="rotate(142 35.3 44.1)" fill="#8a80d4" opacity="0.5"/>
<ellipse cx="35.3" cy="44.1" rx="1.6" ry="1.0" transform="rotate(142 35.3 44.1)" fill="#4234c0"/>
<ellipse cx="53.4" cy="6.2" rx="1.5" ry="1.4" transform="rotate(2 53.4 6.2)" fill="#8a80d4" opacity="0.5"/>
<ellipse cx="53.4" cy="6.2" rx="1.1" ry="1.0" transform="rotate(2 53.4 6.2)" fill="#3628b0"/>
<ellipse cx="26.7" cy="11.4" rx="2.2" ry="1.3" transform="rotate(124 26.7 11.4)" fill="#8a80d4" opacity="0.5"/>
<ellipse cx="26.7" cy="11.4" rx="1.8" ry="0.9" transform="rotate(124 26.7 11.4)" fill="#3a2cb8"/>
<ellipse cx="46.8" cy="49.8" rx="1.6" ry="1.3" transform="rotate(102 46.8 49.8)" fill="#8a80d4" opacity="0.5"/>
<ellipse cx="46.8" cy="49.8" rx="1.2" ry="0.9" transform="rotate(102 46.8 49.8)" fill="#4234c0"/>
<ellipse cx="5.5" cy="38.7" rx="1.8" ry="1.2" transform="rotate(41 5.5 38.7)" fill="#8a80d4" opacity="0.5"/>
<ellipse cx="5.5" cy="38.7" rx="1.4" ry="0.8" transform="rotate(41 5.5 38.7)" fill="#4234c0"/>
<ellipse cx="23.3" cy="34.3" rx="2.5" ry="1.1" transform="rotate(90 23.3 34.3)" fill="#8a80d4" opacity="0.5"/>
<ellipse cx="23.3" cy="34.3" rx="2.1" ry="0.7" transform="rotate(90 23.3 34.3)" fill="#4e40c8"/>
<ellipse cx="35.1" cy="39.5" rx="1.9" ry="1.4" transform="rotate(61 35.1 39.5)" fill="#8a80d4" opacity="0.5"/>
<ellipse cx="35.1" cy="39.5" rx="1.5" ry="1.0" transform="rotate(61 35.1 39.5)" fill="#3628b0"/>
<ellipse cx="20.8" cy="43.7" rx="2.1" ry="1.2" transform="rotate(133 20.8 43.7)" fill="#8a80d4" opacity="0.5"/>
<ellipse cx="20.8" cy="43.7" rx="1.7" ry="0.8" transform="rotate(133 20.8 43.7)" fill="#3a2cb8"/>
<ellipse cx="5.2" cy="5.0" rx="1.6" ry="1.0" transform="rotate(56 5.2 5.0)" fill="#8a80d4" opacity="0.5"/>
<ellipse cx="5.2" cy="5.0" rx="1.2" ry="0.6" transform="rotate(56 5.2 5.0)" fill="#4234c0"/>
<ellipse cx="49.3" cy="31.7" rx="2.3" ry="1.4" transform="rotate(37 49.3 31.7)" fill="#8a80d4" opacity="0.5"/>
<ellipse cx="49.3" cy="31.7" rx="1.9" ry="1.0" transform="rotate(37 49.3 31.7)" fill="#3628b0"/>
<ellipse cx="41.8" cy="21.7" rx="1.8" ry="1.3" transform="rotate(43 41.8 21.7)" fill="#8a80d4" opacity="0.5"/>
<ellipse cx="41.8" cy="21.7" rx="1.4" ry="0.9" transform="rotate(43 41.8 21.7)" fill="#4e40c8"/>
<ellipse cx="42.6" cy="48.0" rx="1.7" ry="1.3" transform="rotate(31 42.6 48.0)" fill="#8a80d4" opacity="0.5"/>
<ellipse cx="42.6" cy="48.0" rx="1.3" ry="0.9" transform="rotate(31 42.6 48.0)" fill="#4234c0"/>
<ellipse cx="57.7" cy="11.2" rx="1.8" ry="1.5" transform="rotate(41 57.7 11.2)" fill="#8a80d4" opacity="0.5"/>
<ellipse cx="57.7" cy="11.2" rx="1.4" ry="1.1" transform="rotate(41 57.7 11.2)" fill="#4e40c8"/>
<ellipse cx="43.8" cy="37.8" rx="2.3" ry="1.0" transform="rotate(98 43.8 37.8)" fill="#8a80d4" opacity="0.5"/>
<ellipse cx="43.8" cy="37.8" rx="1.9" ry="0.6" transform="rotate(98 43.8 37.8)" fill="#3628b0"/>
<ellipse cx="49.5" cy="33.0" rx="1.6" ry="1.1" transform="rotate(152 49.5 33.0)" fill="#8a80d4" opacity="0.5"/>
<ellipse cx="49.5" cy="33.0" rx="1.2" ry="0.7" transform="rotate(152 49.5 33.0)" fill="#4e40c8"/>
<ellipse cx="24.6" cy="42.2" rx="2.5" ry="1.3" transform="rotate(87 24.6 42.2)" fill="#8a80d4" opacity="0.5"/>
<ellipse cx="24.6" cy="42.2" rx="2.1" ry="0.9" transform="rotate(87 24.6 42.2)" fill="#4e40c8"/>
<ellipse cx="9.1" cy="13.6" rx="1.6" ry="1.3" transform="rotate(59 9.1 13.6)" fill="#8a80d4" opacity="0.5"/>
<ellipse cx="9.1" cy="13.6" rx="1.2" ry="0.9" transform="rotate(59 9.1 13.6)" fill="#4e40c8"/>
<ellipse cx="49.8" cy="25.4" rx="1.7" ry="1.5" transform="rotate(1 49.8 25.4)" fill="#8a80d4" opacity="0.5"/>
<ellipse cx="49.8" cy="25.4" rx="1.3" ry="1.1" transform="rotate(1 49.8 25.4)" fill="#3a2cb8"/>
<ellipse cx="44.3" cy="42.9" rx="1.6" ry="1.5" transform="rotate(87 44.3 42.9)" fill="#8a80d4" opacity="0.5"/>
<ellipse cx="44.3" cy="42.9" rx="1.2" ry="1.1" transform="rotate(87 44.3 42.9)" fill="#3a2cb8"/>
<ellipse cx="37.8" cy="6.0" rx="2.2" ry="1.3" transform="rotate(57 37.8 6.0)" fill="#8a80d4" opacity="0.5"/>
<ellipse cx="37.8" cy="6.0" rx="1.8" ry="0.9" transform="rotate(57 37.8 6.0)" fill="#3a2cb8"/>
<ellipse cx="35.8" cy="33.9" rx="2.1" ry="1.4" transform="rotate(35 35.8 33.9)" fill="#8a80d4" opacity="0.5"/>
<ellipse cx="35.8" cy="33.9" rx="1.7" ry="1.0" transform="rotate(35 35.8 33.9)" fill="#4e40c8"/>
<ellipse cx="5.1" cy="39.6" rx="1.9" ry="1.1" transform="rotate(31 5.1 39.6)" fill="#8a80d4" opacity="0.5"/>
<ellipse cx="5.1" cy="39.6" rx="1.5" ry="0.7" transform="rotate(31 5.1 39.6)" fill="#3a2cb8"/>
<ellipse cx="18.8" cy="10.2" rx="1.6" ry="1.2" transform="rotate(73 18.8 10.2)" fill="#8a80d4" opacity="0.5"/>
<ellipse cx="18.8" cy="10.2" rx="1.2" ry="0.8" transform="rotate(73 18.8 10.2)" fill="#4e40c8"/>
<ellipse cx="25.7" cy="5.2" rx="1.6" ry="1.1" transform="rotate(143 25.7 5.2)" fill="#8a80d4" opacity="0.5"/>
<ellipse cx="25.7" cy="5.2" rx="1.2" ry="0.7" transform="rotate(143 25.7 5.2)" fill="#4e40c8"/>
<ellipse cx="10.1" cy="34.1" rx="2.4" ry="1.3" transform="rotate(26 10.1 34.1)" fill="#8a80d4" opacity="0.5"/>
<ellipse cx="10.1" cy="34.1" rx="2.0" ry="0.9" transform="rotate(26 10.1 34.1)" fill="#3628b0"/>
<ellipse cx="33.3" cy="49.1" rx="1.6" ry="1.2" transform="rotate(37 33.3 49.1)" fill="#8a80d4" opacity="0.5"/>
<ellipse cx="33.3" cy="49.1" rx="1.2" ry="0.8" transform="rotate(37 33.3 49.1)" fill="#3a2cb8"/>
<ellipse cx="23.6" cy="45.7" rx="1.5" ry="1.1" transform="rotate(118 23.6 45.7)" fill="#8a80d4" opacity="0.5"/>
<ellipse cx="23.6" cy="45.7" rx="1.1" ry="0.7" transform="rotate(118 23.6 45.7)" fill="#4234c0"/>
<ellipse cx="1.8" cy="4.8" rx="2.2" ry="1.0" transform="rotate(102 1.8 4.8)" fill="#8a80d4" opacity="0.5"/>
<ellipse cx="1.8" cy="4.8" rx="1.8" ry="0.6" transform="rotate(102 1.8 4.8)" fill="#4e40c8"/>
<ellipse cx="16.2" cy="30.3" rx="1.8" ry="1.5" transform="rotate(95 16.2 30.3)" fill="#8a80d4" opacity="0.5"/>
<ellipse cx="16.2" cy="30.3" rx="1.4" ry="1.1" transform="rotate(95 16.2 30.3)" fill="#3a2cb8"/>
<ellipse cx="38.1" cy="28.9" rx="2.3" ry="1.1" transform="rotate(180 38.1 28.9)" fill="#8a80d4" opacity="0.5"/>
<ellipse cx="38.1" cy="28.9" rx="1.9" ry="0.7" transform="rotate(180 38.1 28.9)" fill="#4234c0"/>
<ellipse cx="65.4" cy="39.1" rx="2.1" ry="1.2" transform="rotate(39 65.4 39.1)" fill="#8a80d4" opacity="0.5"/>
<ellipse cx="65.4" cy="39.1" rx="1.7" ry="0.8" transform="rotate(39 65.4 39.1)" fill="#3628b0"/>
<ellipse cx="29.0" cy="24.2" rx="1.5" ry="1.4" transform="rotate(132 29.0 24.2)" fill="#8a80d4" opacity="0.5"/>
<ellipse cx="29.0" cy="24.2" rx="1.1" ry="1.0" transform="rotate(132 29.0 24.2)" fill="#3a2cb8"/>
<ellipse cx="47.6" cy="37.3" rx="2.7" ry="1.4" transform="rotate(178 47.6 37.3)" fill="#8a80d4" opacity="0.5"/>
<ellipse cx="47.6" cy="37.3" rx="2.3" ry="1.0" transform="rotate(178 47.6 37.3)" fill="#4e40c8"/>
<ellipse cx="47.9" cy="44.5" rx="1.5" ry="1.2" transform="rotate(125 47.9 44.5)" fill="#8a80d4" opacity="0.5"/>
<ellipse cx="47.9" cy="44.5" rx="1.1" ry="0.8" transform="rotate(125 47.9 44.5)" fill="#4234c0"/>
<ellipse cx="44.0" cy="8.4" rx="1.8" ry="1.2" transform="rotate(150 44.0 8.4)" fill="#8a80d4" opacity="0.5"/>
<ellipse cx="44.0" cy="8.4" rx="1.4" ry="0.8" transform="rotate(150 44.0 8.4)" fill="#4234c0"/>
<ellipse cx="4.8" cy="8.8" rx="1.9" ry="1.3" transform="rotate(80 4.8 8.8)" fill="#8a80d4" opacity="0.5"/>
<ellipse cx="4.8" cy="8.8" rx="1.5" ry="0.9" transform="rotate(80 4.8 8.8)" fill="#4e40c8"/>
<ellipse cx="26.2" cy="6.9" rx="2.1" ry="1.5" transform="rotate(3 26.2 6.9)" fill="#8a80d4" opacity="0.5"/>
<ellipse cx="26.2" cy="6.9" rx="1.7" ry="1.1" transform="rotate(3 26.2 6.9)" fill="#4e40c8"/>
<ellipse cx="10.1" cy="40.1" rx="1.9" ry="1.3" transform="rotate(58 10.1 40.1)" fill="#8a80d4" opacity="0.5"/>
<ellipse cx="10.1" cy="40.1" rx="1.5" ry="0.9" transform="rotate(58 10.1 40.1)" fill="#4234c0"/>
<ellipse cx="10.1" cy="49.8" rx="1.7" ry="1.2" transform="rotate(163 10.1 49.8)" fill="#8a80d4" opacity="0.5"/>
<ellipse cx="10.1" cy="49.8" rx="1.3" ry="0.8" transform="rotate(163 10.1 49.8)" fill="#3628b0"/>
<ellipse cx="65.1" cy="22.6" rx="2.7" ry="1.3" transform="rotate(104 65.1 22.6)" fill="#8a80d4" opacity="0.5"/>
<ellipse cx="65.1" cy="22.6" rx="2.3" ry="0.9" transform="rotate(104 65.1 22.6)" fill="#3628b0"/>
<ellipse cx="22.5" cy="1.9" rx="2.1" ry="1.3" transform="rotate(172 22.5 1.9)" fill="#8a80d4" opacity="0.5"/>
<ellipse cx="22.5" cy="1.9" rx="1.7" ry="0.9" transform="rotate(172 22.5 1.9)" fill="#4234c0"/>
<ellipse cx="60.7" cy="15.9" rx="2.0" ry="1.2" transform="rotate(75 60.7 15.9)" fill="#8a80d4" opacity="0.5"/>
<ellipse cx="60.7" cy="15.9" rx="1.6" ry="0.8" transform="rotate(75 60.7 15.9)" fill="#4e40c8"/>
<ellipse cx="13.6" cy="26.6" rx="2.0" ry="1.1" transform="rotate(42 13.6 26.6)" fill="#8a80d4" opacity="0.5"/>
<ellipse cx="13.6" cy="26.6" rx="1.6" ry="0.7" transform="rotate(42 13.6 26.6)" fill="#4234c0"/>
<ellipse cx="63.8" cy="24.2" rx="2.7" ry="1.3" transform="rotate(156 63.8 24.2)" fill="#8a80d4" opacity="0.5"/>
<ellipse cx="63.8" cy="24.2" rx="2.3" ry="0.9" transform="rotate(156 63.8 24.2)" fill="#4e40c8"/>
<ellipse cx="53.5" cy="6.0" rx="1.9" ry="1.4" transform="rotate(160 53.5 6.0)" fill="#8a80d4" opacity="0.5"/>
<ellipse cx="53.5" cy="6.0" rx="1.5" ry="1.0" transform="rotate(160 53.5 6.0)" fill="#3a2cb8"/>
<ellipse cx="5.3" cy="45.2" rx="2.5" ry="1.5" transform="rotate(66 5.3 45.2)" fill="#8a80d4" opacity="0.5"/>
<ellipse cx="5.3" cy="45.2" rx="2.1" ry="1.1" transform="rotate(66 5.3 45.2)" fill="#3628b0"/>
<ellipse cx="3.4" cy="8.4" rx="2.1" ry="1.4" transform="rotate(157 3.4 8.4)" fill="#8a80d4" opacity="0.5"/>
<ellipse cx="3.4" cy="8.4" rx="1.7" ry="1.0" transform="rotate(157 3.4 8.4)" fill="#3628b0"/>
<ellipse cx="15.1" cy="13.7" rx="1.9" ry="1.4" transform="rotate(1 15.1 13.7)" fill="#8a80d4" opacity="0.5"/>
<ellipse cx="15.1" cy="13.7" rx="1.5" ry="1.0" transform="rotate(1 15.1 13.7)" fill="#3628b0"/>
<ellipse cx="34.3" cy="31.4" rx="2.6" ry="1.3" transform="rotate(155 34.3 31.4)" fill="#8a80d4" opacity="0.5"/>
<ellipse cx="34.3" cy="31.4" rx="2.2" ry="0.9" transform="rotate(155 34.3 31.4)" fill="#4234c0"/>
<ellipse cx="16.9" cy="32.8" rx="2.2" ry="1.3" transform="rotate(164 16.9 32.8)" fill="#8a80d4" opacity="0.5"/>
<ellipse cx="16.9" cy="32.8" rx="1.8" ry="0.9" transform="rotate(164 16.9 32.8)" fill="#3a2cb8"/>
<ellipse cx="9.0" cy="0.5" rx="2.4" ry="1.2" transform="rotate(38 9.0 0.5)" fill="#8a80d4" opacity="0.5"/>
<ellipse cx="9.0" cy="0.5" rx="2.0" ry="0.8" transform="rotate(38 9.0 0.5)" fill="#4e40c8"/>
<ellipse cx="56.2" cy="48.4" rx="2.7" ry="1.0" transform="rotate(166 56.2 48.4)" fill="#8a80d4" opacity="0.5"/>
<ellipse cx="56.2" cy="48.4" rx="2.3" ry="0.6" transform="rotate(166 56.2 48.4)" fill="#3a2cb8"/>
<ellipse cx="17.1" cy="8.0" rx="2.5" ry="1.1" transform="rotate(140 17.1 8.0)" fill="#8a80d4" opacity="0.5"/>
<ellipse cx="17.1" cy="8.0" rx="2.1" ry="0.7" transform="rotate(140 17.1 8.0)" fill="#3628b0"/>
<ellipse cx="34.1" cy="49.8" rx="2.0" ry="1.1" transform="rotate(160 34.1 49.8)" fill="#8a80d4" opacity="0.5"/>
<ellipse cx="34.1" cy="49.8" rx="1.6" ry="0.7" transform="rotate(160 34.1 49.8)" fill="#3a2cb8"/>
<ellipse cx="21.8" cy="19.5" rx="1.6" ry="1.5" transform="rotate(33 21.8 19.5)" fill="#8a80d4" opacity="0.5"/>
<ellipse cx="21.8" cy="19.5" rx="1.2" ry="1.1" transform="rotate(33 21.8 19.5)" fill="#3a2cb8"/>
<ellipse cx="0.8" cy="31.5" rx="2.4" ry="1.2" transform="rotate(17 0.8 31.5)" fill="#8a80d4" opacity="0.5"/>
<ellipse cx="0.8" cy="31.5" rx="2.0" ry="0.8" transform="rotate(17 0.8 31.5)" fill="#3628b0"/>
<ellipse cx="15.1" cy="45.2" rx="1.5" ry="1.0" transform="rotate(41 15.1 45.2)" fill="#8a80d4" opacity="0.5"/>
<ellipse cx="15.1" cy="45.2" rx="1.1" ry="0.6" transform="rotate(41 15.1 45.2)" fill="#4234c0"/>
<ellipse cx="52.1" cy="49.7" rx="1.5" ry="1.3" transform="rotate(94 52.1 49.7)" fill="#8a80d4" opacity="0.5"/>
<ellipse cx="52.1" cy="49.7" rx="1.1" ry="0.9" transform="rotate(94 52.1 49.7)" fill="#3628b0"/>
<ellipse cx="36.4" cy="5.0" rx="2.0" ry="1.2" transform="rotate(104 36.4 5.0)" fill="#8a80d4" opacity="0.5"/>
<ellipse cx="36.4" cy="5.0" rx="1.6" ry="0.8" transform="rotate(104 36.4 5.0)" fill="#4e40c8"/>
<ellipse cx="46.6" cy="6.2" rx="1.5" ry="1.1" transform="rotate(19 46.6 6.2)" fill="#8a80d4" opacity="0.5"/>
<ellipse cx="46.6" cy="6.2" rx="1.1" ry="0.7" transform="rotate(19 46.6 6.2)" fill="#4234c0"/>
<ellipse cx="65.3" cy="44.5" rx="2.4" ry="1.4" transform="rotate(22 65.3 44.5)" fill="#8a80d4" opacity="0.5"/>
<ellipse cx="65.3" cy="44.5" rx="2.0" ry="1.0" transform="rotate(22 65.3 44.5)" fill="#3a2cb8"/>
<ellipse cx="64.5" cy="12.5" rx="1.7" ry="1.3" transform="rotate(88 64.5 12.5)" fill="#8a80d4" opacity="0.5"/>
<ellipse cx="64.5" cy="12.5" rx="1.3" ry="0.9" transform="rotate(88 64.5 12.5)" fill="#4234c0"/>
<ellipse cx="41.1" cy="32.1" rx="1.4" ry="1.0" transform="rotate(154 41.1 32.1)" fill="#8a80d4" opacity="0.5"/>
<ellipse cx="41.1" cy="32.1" rx="1.0" ry="0.6" transform="rotate(154 41.1 32.1)" fill="#3628b0"/>
<ellipse cx="17.7" cy="13.6" rx="1.5" ry="1.4" transform="rotate(156 17.7 13.6)" fill="#8a80d4" opacity="0.5"/>
<ellipse cx="17.7" cy="13.6" rx="1.1" ry="1.0" transform="rotate(156 17.7 13.6)" fill="#3628b0"/>
<ellipse cx="37.9" cy="31.3" rx="2.2" ry="1.3" transform="rotate(1 37.9 31.3)" fill="#8a80d4" opacity="0.5"/>
<ellipse cx="37.9" cy="31.3" rx="1.8" ry="0.9" transform="rotate(1 37.9 31.3)" fill="#4234c0"/>
<ellipse cx="7.7" cy="11.5" rx="1.5" ry="1.1" transform="rotate(118 7.7 11.5)" fill="#8a80d4" opacity="0.5"/>
<ellipse cx="7.7" cy="11.5" rx="1.1" ry="0.7" transform="rotate(118 7.7 11.5)" fill="#4e40c8"/>
<ellipse cx="49.3" cy="19.5" rx="2.0" ry="1.0" transform="rotate(72 49.3 19.5)" fill="#8a80d4" opacity="0.5"/>
<ellipse cx="49.3" cy="19.5" rx="1.6" ry="0.6" transform="rotate(72 49.3 19.5)" fill="#3628b0"/>
<ellipse cx="4.7" cy="23.2" rx="2.3" ry="1.2" transform="rotate(10 4.7 23.2)" fill="#8a80d4" opacity="0.5"/>
<ellipse cx="4.7" cy="23.2" rx="1.9" ry="0.8" transform="rotate(10 4.7 23.2)" fill="#3a2cb8"/>
<ellipse cx="66.5" cy="32.9" rx="2.2" ry="1.2" transform="rotate(33 66.5 32.9)" fill="#8a80d4" opacity="0.5"/>
<ellipse cx="66.5" cy="32.9" rx="1.8" ry="0.8" transform="rotate(33 66.5 32.9)" fill="#3a2cb8"/>
<ellipse cx="0.8" cy="7.7" rx="1.7" ry="1.3" transform="rotate(156 0.8 7.7)" fill="#8a80d4" opacity="0.5"/>
<ellipse cx="0.8" cy="7.7" rx="1.3" ry="0.9" transform="rotate(156 0.8 7.7)" fill="#3a2cb8"/>
<ellipse cx="55.3" cy="24.1" rx="1.8" ry="1.1" transform="rotate(113 55.3 24.1)" fill="#8a80d4" opacity="0.5"/>
<ellipse cx="55.3" cy="24.1" rx="1.4" ry="0.7" transform="rotate(113 55.3 24.1)" fill="#4234c0"/>
<ellipse cx="35.9" cy="11.5" rx="2.0" ry="1.2" transform="rotate(138 35.9 11.5)" fill="#8a80d4" opacity="0.5"/>
<ellipse cx="35.9" cy="11.5" rx="1.6" ry="0.8" transform="rotate(138 35.9 11.5)" fill="#4e40c8"/>
<ellipse cx="9.2" cy="15.5" rx="1.9" ry="1.2" transform="rotate(122 9.2 15.5)" fill="#8a80d4" opacity="0.5"/>
<ellipse cx="9.2" cy="15.5" rx="1.5" ry="0.8" transform="rotate(122 9.2 15.5)" fill="#4234c0"/>
<ellipse cx="1.8" cy="45.5" rx="2.2" ry="1.1" transform="rotate(54 1.8 45.5)" fill="#8a80d4" opacity="0.5"/>
<ellipse cx="1.8" cy="45.5" rx="1.8" ry="0.7" transform="rotate(54 1.8 45.5)" fill="#4e40c8"/>
<ellipse cx="10.8" cy="18.8" rx="2.3" ry="1.3" transform="rotate(142 10.8 18.8)" fill="#8a80d4" opacity="0.5"/>
<ellipse cx="10.8" cy="18.8" rx="1.9" ry="0.9" transform="rotate(142 10.8 18.8)" fill="#4234c0"/>
<ellipse cx="7.9" cy="26.6" rx="1.8" ry="1.3" transform="rotate(154 7.9 26.6)" fill="#8a80d4" opacity="0.5"/>
<ellipse cx="7.9" cy="26.6" rx="1.4" ry="0.9" transform="rotate(154 7.9 26.6)" fill="#3a2cb8"/>
<ellipse cx="62.3" cy="28.6" rx="2.0" ry="1.3" transform="rotate(165 62.3 28.6)" fill="#8a80d4" opacity="0.5"/>
<ellipse cx="62.3" cy="28.6" rx="1.6" ry="0.9" transform="rotate(165 62.3 28.6)" fill="#4e40c8"/>
<ellipse cx="2.1" cy="2.8" rx="1.9" ry="1.2" transform="rotate(170 2.1 2.8)" fill="#8a80d4" opacity="0.5"/>
<ellipse cx="2.1" cy="2.8" rx="1.5" ry="0.8" transform="rotate(170 2.1 2.8)" fill="#3628b0"/>
<ellipse cx="5.8" cy="1.0" rx="1.9" ry="1.1" transform="rotate(99 5.8 1.0)" fill="#8a80d4" opacity="0.5"/>
<ellipse cx="5.8" cy="1.0" rx="1.5" ry="0.7" transform="rotate(99 5.8 1.0)" fill="#3628b0"/>
<ellipse cx="5.9" cy="1.6" rx="2.2" ry="1.3" transform="rotate(126 5.9 1.6)" fill="#8a80d4" opacity="0.5"/>
<ellipse cx="5.9" cy="1.6" rx="1.8" ry="0.9" transform="rotate(126 5.9 1.6)" fill="#4234c0"/>
<ellipse cx="2.4" cy="23.3" rx="2.2" ry="1.0" transform="rotate(150 2.4 23.3)" fill="#8a80d4" opacity="0.5"/>
<ellipse cx="2.4" cy="23.3" rx="1.8" ry="0.6" transform="rotate(150 2.4 23.3)" fill="#4234c0"/>
<ellipse cx="45.7" cy="4.6" rx="1.7" ry="1.4" transform="rotate(140 45.7 4.6)" fill="#8a80d4" opacity="0.5"/>
<ellipse cx="45.7" cy="4.6" rx="1.3" ry="1.0" transform="rotate(140 45.7 4.6)" fill="#4234c0"/>
<ellipse cx="18.1" cy="49.5" rx="2.3" ry="1.1" transform="rotate(74 18.1 49.5)" fill="#8a80d4" opacity="0.5"/>
<ellipse cx="18.1" cy="49.5" rx="1.9" ry="0.7" transform="rotate(74 18.1 49.5)" fill="#4e40c8"/>
<ellipse cx="0.5" cy="3.3" rx="2.6" ry="1.3" transform="rotate(100 0.5 3.3)" fill="#8a80d4" opacity="0.5"/>
<ellipse cx="0.5" cy="3.3" rx="2.2" ry="0.9" transform="rotate(100 0.5 3.3)" fill="#4234c0"/>
<ellipse cx="41.0" cy="16.9" rx="2.6" ry="1.4" transform="rotate(136 41.0 16.9)" fill="#8a80d4" opacity="0.5"/>
<ellipse cx="41.0" cy="16.9" rx="2.2" ry="1.0" transform="rotate(136 41.0 16.9)" fill="#4234c0"/>
<ellipse cx="60.4" cy="43.8" rx="1.6" ry="1.1" transform="rotate(39 60.4 43.8)" fill="#8a80d4" opacity="0.5"/>
<ellipse cx="60.4" cy="43.8" rx="1.2" ry="0.7" transform="rotate(39 60.4 43.8)" fill="#3a2cb8"/>
<ellipse cx="63.1" cy="25.3" rx="2.3" ry="1.1" transform="rotate(15 63.1 25.3)" fill="#8a80d4" opacity="0.5"/>
<ellipse cx="63.1" cy="25.3" rx="1.9" ry="0.7" transform="rotate(15 63.1 25.3)" fill="#3628b0"/>
<ellipse cx="33.2" cy="16.8" rx="2.3" ry="1.2" transform="rotate(119 33.2 16.8)" fill="#8a80d4" opacity="0.5"/>
<ellipse cx="33.2" cy="16.8" rx="1.9" ry="0.8" transform="rotate(119 33.2 16.8)" fill="#4e40c8"/>
<ellipse cx="61.9" cy="15.8" rx="1.6" ry="1.1" transform="rotate(97 61.9 15.8)" fill="#8a80d4" opacity="0.5"/>
<ellipse cx="61.9" cy="15.8" rx="1.2" ry="0.7" transform="rotate(97 61.9 15.8)" fill="#4e40c8"/>
<ellipse cx="44.3" cy="3.4" rx="2.7" ry="1.1" transform="rotate(49 44.3 3.4)" fill="#8a80d4" opacity="0.5"/>
<ellipse cx="44.3" cy="3.4" rx="2.3" ry="0.7" transform="rotate(49 44.3 3.4)" fill="#4e40c8"/>
<ellipse cx="7.2" cy="4.9" rx="2.7" ry="1.2" transform="rotate(27 7.2 4.9)" fill="#8a80d4" opacity="0.5"/>
<ellipse cx="7.2" cy="4.9" rx="2.3" ry="0.8" transform="rotate(27 7.2 4.9)" fill="#3a2cb8"/>
<ellipse cx="32.5" cy="34.2" rx="1.6" ry="1.3" transform="rotate(94 32.5 34.2)" fill="#8a80d4" opacity="0.5"/>
<ellipse cx="32.5" cy="34.2" rx="1.2" ry="0.9" transform="rotate(94 32.5 34.2)" fill="#3628b0"/>
<ellipse cx="44.7" cy="15.1" rx="2.5" ry="1.4" transform="rotate(21 44.7 15.1)" fill="#8a80d4" opacity="0.5"/>
<ellipse cx="44.7" cy="15.1" rx="2.1" ry="1.0" transform="rotate(21 44.7 15.1)" fill="#3a2cb8"/>
<ellipse cx="33.2" cy="19.8" rx="1.4" ry="1.2" transform="rotate(99 33.2 19.8)" fill="#8a80d4" opacity="0.5"/>
<ellipse cx="33.2" cy="19.8" rx="1.0" ry="0.8" transform="rotate(99 33.2 19.8)" fill="#4234c0"/>
<ellipse cx="17.3" cy="26.2" rx="1.9" ry="1.2" transform="rotate(13 17.3 26.2)" fill="#8a80d4" opacity="0.5"/>
<ellipse cx="17.3" cy="26.2" rx="1.5" ry="0.8" transform="rotate(13 17.3 26.2)" fill="#3628b0"/>
<ellipse cx="19.1" cy="41.4" rx="2.2" ry="1.4" transform="rotate(117 19.1 41.4)" fill="#8a80d4" opacity="0.5"/>
<ellipse cx="19.1" cy="41.4" rx="1.8" ry="1.0" transform="rotate(117 19.1 41.4)" fill="#4e40c8"/>
<ellipse cx="19.9" cy="41.8" rx="2.5" ry="1.1" transform="rotate(150 19.9 41.8)" fill="#8a80d4" opacity="0.5"/>
<ellipse cx="19.9" cy="41.8" rx="2.1" ry="0.7" transform="rotate(150 19.9 41.8)" fill="#4234c0"/>
<ellipse cx="27.7" cy="18.6" rx="2.5" ry="1.3" transform="rotate(14 27.7 18.6)" fill="#8a80d4" opacity="0.5"/>
<ellipse cx="27.7" cy="18.6" rx="2.1" ry="0.9" transform="rotate(14 27.7 18.6)" fill="#3a2cb8"/>
<ellipse cx="29.3" cy="26.3" rx="1.5" ry="1.0" transform="rotate(81 29.3 26.3)" fill="#8a80d4" opacity="0.5"/>
<ellipse cx="29.3" cy="26.3" rx="1.1" ry="0.6" transform="rotate(81 29.3 26.3)" fill="#3628b0"/>
<ellipse cx="36.0" cy="25.6" rx="1.7" ry="1.3" transform="rotate(47 36.0 25.6)" fill="#8a80d4" opacity="0.5"/>
<ellipse cx="36.0" cy="25.6" rx="1.3" ry="0.9" transform="rotate(47 36.0 25.6)" fill="#4e40c8"/>
<ellipse cx="1.5" cy="32.2" rx="1.8" ry="1.3" transform="rotate(126 1.5 32.2)" fill="#8a80d4" opacity="0.5"/>
<ellipse cx="1.5" cy="32.2" rx="1.4" ry="0.9" transform="rotate(126 1.5 32.2)" fill="#3628b0"/>
<ellipse cx="7.0" cy="18.5" rx="2.1" ry="1.5" transform="rotate(13 7.0 18.5)" fill="#8a80d4" opacity="0.5"/>
<ellipse cx="7.0" cy="18.5" rx="1.7" ry="1.1" transform="rotate(13 7.0 18.5)" fill="#3628b0"/>
<ellipse cx="24.5" cy="14.2" rx="1.5" ry="1.4" transform="rotate(168 24.5 14.2)" fill="#8a80d4" opacity="0.5"/>
<ellipse cx="24.5" cy="14.2" rx="1.1" ry="1.0" transform="rotate(168 24.5 14.2)" fill="#3628b0"/>
<ellipse cx="4.6" cy="49.0" rx="1.9" ry="1.2" transform="rotate(116 4.6 49.0)" fill="#8a80d4" opacity="0.5"/>
<ellipse cx="4.6" cy="49.0" rx="1.5" ry="0.8" transform="rotate(116 4.6 49.0)" fill="#4e40c8"/>
<ellipse cx="35.5" cy="44.7" rx="1.8" ry="1.0" transform="rotate(161 35.5 44.7)" fill="#8a80d4" opacity="0.5"/>
<ellipse cx="35.5" cy="44.7" rx="1.4" ry="0.6" transform="rotate(161 35.5 44.7)" fill="#4234c0"/>
<ellipse cx="33.2" cy="9.7" rx="2.1" ry="1.5" transform="rotate(130 33.2 9.7)" fill="#8a80d4" opacity="0.5"/>
<ellipse cx="33.2" cy="9.7" rx="1.7" ry="1.1" transform="rotate(130 33.2 9.7)" fill="#4234c0"/>
<ellipse cx="13.1" cy="32.7" rx="2.1" ry="1.4" transform="rotate(11 13.1 32.7)" fill="#8a80d4" opacity="0.5"/>
<ellipse cx="13.1" cy="32.7" rx="1.7" ry="1.0" transform="rotate(11 13.1 32.7)" fill="#3628b0"/>
<ellipse cx="8.8" cy="44.6" rx="2.6" ry="1.1" transform="rotate(67 8.8 44.6)" fill="#8a80d4" opacity="0.5"/>
<ellipse cx="8.8" cy="44.6" rx="2.2" ry="0.7" transform="rotate(67 8.8 44.6)" fill="#4e40c8"/>
<ellipse cx="48.3" cy="28.2" rx="2.4" ry="1.3" transform="rotate(148 48.3 28.2)" fill="#8a80d4" opacity="0.5"/>
<ellipse cx="48.3" cy="28.2" rx="2.0" ry="0.9" transform="rotate(148 48.3 28.2)" fill="#3628b0"/>
<ellipse cx="58.5" cy="3.6" rx="2.4" ry="1.1" transform="rotate(87 58.5 3.6)" fill="#8a80d4" opacity="0.5"/>
<ellipse cx="58.5" cy="3.6" rx="2.0" ry="0.7" transform="rotate(87 58.5 3.6)" fill="#3a2cb8"/>
<ellipse cx="67.0" cy="3.0" rx="1.8" ry="1.0" transform="rotate(11 67.0 3.0)" fill="#8a80d4" opacity="0.5"/>
<ellipse cx="67.0" cy="3.0" rx="1.4" ry="0.6" transform="rotate(11 67.0 3.0)" fill="#3628b0"/>
<ellipse cx="24.2" cy="20.0" rx="2.1" ry="1.3" transform="rotate(154 24.2 20.0)" fill="#8a80d4" opacity="0.5"/>
<ellipse cx="24.2" cy="20.0" rx="1.7" ry="0.9" transform="rotate(154 24.2 20.0)" fill="#3a2cb8"/>
<ellipse cx="36.9" cy="42.2" rx="2.3" ry="1.3" transform="rotate(100 36.9 42.2)" fill="#8a80d4" opacity="0.5"/>
<ellipse cx="36.9" cy="42.2" rx="1.9" ry="0.9" transform="rotate(100 36.9 42.2)" fill="#3628b0"/>
<ellipse cx="13.9" cy="27.3" rx="1.9" ry="1.0" transform="rotate(15 13.9 27.3)" fill="#8a80d4" opacity="0.5"/>
<ellipse cx="13.9" cy="27.3" rx="1.5" ry="0.6" transform="rotate(15 13.9 27.3)" fill="#3a2cb8"/>
<ellipse cx="63.0" cy="7.1" rx="1.5" ry="1.3" transform="rotate(159 63.0 7.1)" fill="#8a80d4" opacity="0.5"/>
<ellipse cx="63.0" cy="7.1" rx="1.1" ry="0.9" transform="rotate(159 63.0 7.1)" fill="#3628b0"/>
<ellipse cx="57.6" cy="25.9" rx="2.0" ry="1.4" transform="rotate(20 57.6 25.9)" fill="#8a80d4" opacity="0.5"/>
<ellipse cx="57.6" cy="25.9" rx="1.6" ry="1.0" transform="rotate(20 57.6 25.9)" fill="#4e40c8"/>
<ellipse cx="27.1" cy="26.8" rx="2.6" ry="1.1" transform="rotate(51 27.1 26.8)" fill="#8a80d4" opacity="0.5"/>
<ellipse cx="27.1" cy="26.8" rx="2.2" ry="0.7" transform="rotate(51 27.1 26.8)" fill="#3628b0"/>
<ellipse cx="52.6" cy="47.5" rx="1.9" ry="1.2" transform="rotate(35 52.6 47.5)" fill="#8a80d4" opacity="0.5"/>
<ellipse cx="52.6" cy="47.5" rx="1.5" ry="0.8" transform="rotate(35 52.6 47.5)" fill="#4e40c8"/>
<ellipse cx="12.2" cy="48.3" rx="1.7" ry="1.3" transform="rotate(165 12.2 48.3)" fill="#8a80d4" opacity="0.5"/>
<ellipse cx="12.2" cy="48.3" rx="1.3" ry="0.9" transform="rotate(165 12.2 48.3)" fill="#4234c0"/>
<ellipse cx="18.9" cy="34.5" rx="2.3" ry="1.1" transform="rotate(74 18.9 34.5)" fill="#8a80d4" opacity="0.5"/>
<ellipse cx="18.9" cy="34.5" rx="1.9" ry="0.7" transform="rotate(74 18.9 34.5)" fill="#3a2cb8"/>
<ellipse cx="39.4" cy="18.2" rx="2.7" ry="1.2" transform="rotate(111 39.4 18.2)" fill="#8a80d4" opacity="0.5"/>
<ellipse cx="39.4" cy="18.2" rx="2.3" ry="0.8" transform="rotate(111 39.4 18.2)" fill="#4e40c8"/>
<ellipse cx="7.6" cy="7.6" rx="1.6" ry="1.3" transform="rotate(33 7.6 7.6)" fill="#8a80d4" opacity="0.5"/>
<ellipse cx="7.6" cy="7.6" rx="1.2" ry="0.9" transform="rotate(33 7.6 7.6)" fill="#4e40c8"/>
<ellipse cx="15.8" cy="43.3" rx="2.5" ry="1.2" transform="rotate(144 15.8 43.3)" fill="#8a80d4" opacity="0.5"/>
<ellipse cx="15.8" cy="43.3" rx="2.1" ry="0.8" transform="rotate(144 15.8 43.3)" fill="#4e40c8"/>
<ellipse cx="5.7" cy="3.8" rx="2.5" ry="1.4" transform="rotate(89 5.7 3.8)" fill="#8a80d4" opacity="0.5"/>
<ellipse cx="5.7" cy="3.8" rx="2.1" ry="1.0" transform="rotate(89 5.7 3.8)" fill="#3a2cb8"/>
<ellipse cx="49.9" cy="43.7" rx="2.6" ry="1.1" transform="rotate(86 49.9 43.7)" fill="#8a80d4" opacity="0.5"/>
<ellipse cx="49.9" cy="43.7" rx="2.2" ry="0.7" transform="rotate(86 49.9 43.7)" fill="#4234c0"/>
<ellipse cx="6.0" cy="39.9" rx="1.9" ry="1.2" transform="rotate(156 6.0 39.9)" fill="#8a80d4" opacity="0.5"/>
<ellipse cx="6.0" cy="39.9" rx="1.5" ry="0.8" transform="rotate(156 6.0 39.9)" fill="#4e40c8"/>
<ellipse cx="1.4" cy="44.4" rx="2.5" ry="1.1" transform="rotate(12 1.4 44.4)" fill="#8a80d4" opacity="0.5"/>
<ellipse cx="1.4" cy="44.4" rx="2.1" ry="0.7" transform="rotate(12 1.4 44.4)" fill="#4e40c8"/>
<ellipse cx="64.9" cy="45.0" rx="2.5" ry="1.0" transform="rotate(170 64.9 45.0)" fill="#8a80d4" opacity="0.5"/>
<ellipse cx="64.9" cy="45.0" rx="2.1" ry="0.6" transform="rotate(170 64.9 45.0)" fill="#3628b0"/>
<ellipse cx="12.9" cy="19.3" rx="1.7" ry="1.2" transform="rotate(52 12.9 19.3)" fill="#8a80d4" opacity="0.5"/>
<ellipse cx="12.9" cy="19.3" rx="1.3" ry="0.8" transform="rotate(52 12.9 19.3)" fill="#3628b0"/>
<ellipse cx="28.6" cy="7.5" rx="1.8" ry="1.1" transform="rotate(99 28.6 7.5)" fill="#8a80d4" opacity="0.5"/>
<ellipse cx="28.6" cy="7.5" rx="1.4" ry="0.7" transform="rotate(99 28.6 7.5)" fill="#3a2cb8"/>
<ellipse cx="38.7" cy="45.1" rx="2.1" ry="1.1" transform="rotate(53 38.7 45.1)" fill="#8a80d4" opacity="0.5"/>
<ellipse cx="38.7" cy="45.1" rx="1.7" ry="0.7" transform="rotate(53 38.7 45.1)" fill="#4234c0"/>
<ellipse cx="14.1" cy="33.4" rx="1.8" ry="1.0" transform="rotate(100 14.1 33.4)" fill="#8a80d4" opacity="0.5"/>
<ellipse cx="14.1" cy="33.4" rx="1.4" ry="0.6" transform="rotate(100 14.1 33.4)" fill="#3a2cb8"/>
<ellipse cx="62.9" cy="39.1" rx="1.9" ry="1.3" transform="rotate(117 62.9 39.1)" fill="#8a80d4" opacity="0.5"/>
<ellipse cx="62.9" cy="39.1" rx="1.5" ry="0.9" transform="rotate(117 62.9 39.1)" fill="#3628b0"/>
<ellipse cx="54.1" cy="12.0" rx="1.4" ry="1.0" transform="rotate(114 54.1 12.0)" fill="#8a80d4" opacity="0.5"/>
<ellipse cx="54.1" cy="12.0" rx="1.0" ry="0.6" transform="rotate(114 54.1 12.0)" fill="#3a2cb8"/>
<ellipse cx="24.2" cy="26.5" rx="2.7" ry="1.4" transform="rotate(58 24.2 26.5)" fill="#8a80d4" opacity="0.5"/>
<ellipse cx="24.2" cy="26.5" rx="2.3" ry="1.0" transform="rotate(58 24.2 26.5)" fill="#4234c0"/>
<ellipse cx="28.3" cy="26.0" rx="2.5" ry="1.3" transform="rotate(8 28.3 26.0)" fill="#8a80d4" opacity="0.5"/>
<ellipse cx="28.3" cy="26.0" rx="2.1" ry="0.9" transform="rotate(8 28.3 26.0)" fill="#4e40c8"/>
<ellipse cx="3.0" cy="48.4" rx="2.3" ry="1.4" transform="rotate(139 3.0 48.4)" fill="#8a80d4" opacity="0.5"/>
<ellipse cx="3.0" cy="48.4" rx="1.9" ry="1.0" transform="rotate(139 3.0 48.4)" fill="#4234c0"/>
<ellipse cx="37.2" cy="10.3" rx="2.4" ry="1.1" transform="rotate(6 37.2 10.3)" fill="#8a80d4" opacity="0.5"/>
<ellipse cx="37.2" cy="10.3" rx="2.0" ry="0.7" transform="rotate(6 37.2 10.3)" fill="#4234c0"/>
<ellipse cx="26.2" cy="42.9" rx="2.7" ry="1.1" transform="rotate(40 26.2 42.9)" fill="#8a80d4" opacity="0.5"/>
<ellipse cx="26.2" cy="42.9" rx="2.3" ry="0.7" transform="rotate(40 26.2 42.9)" fill="#3a2cb8"/>
</svg>
<line x1="443.1" y1="601.2" x2="450.8" y2="601.2" stroke="#111" stroke-width="1.8"/>
<rect x="461.4" y="553.2" width="67.4" height="51.5" fill="#dcddca"/>
<svg x="461.4" y="553.2" width="67.4" height="51.5">
<ellipse cx="35.2" cy="0.7" rx="2.0" ry="1.4" transform="rotate(172 35.2 0.7)" fill="#8a80d4" opacity="0.5"/>
<ellipse cx="35.2" cy="0.7" rx="1.6" ry="1.0" transform="rotate(172 35.2 0.7)" fill="#4234c0"/>
<ellipse cx="14.4" cy="48.7" rx="1.6" ry="1.4" transform="rotate(15 14.4 48.7)" fill="#8a80d4" opacity="0.5"/>
<ellipse cx="14.4" cy="48.7" rx="1.2" ry="1.0" transform="rotate(15 14.4 48.7)" fill="#3a2cb8"/>
<ellipse cx="14.8" cy="36.1" rx="2.3" ry="1.3" transform="rotate(31 14.8 36.1)" fill="#8a80d4" opacity="0.5"/>
<ellipse cx="14.8" cy="36.1" rx="1.9" ry="0.9" transform="rotate(31 14.8 36.1)" fill="#3a2cb8"/>
<ellipse cx="64.1" cy="15.2" rx="1.9" ry="1.4" transform="rotate(123 64.1 15.2)" fill="#8a80d4" opacity="0.5"/>
<ellipse cx="64.1" cy="15.2" rx="1.5" ry="1.0" transform="rotate(123 64.1 15.2)" fill="#3628b0"/>
<ellipse cx="17.6" cy="46.8" rx="2.6" ry="1.2" transform="rotate(174 17.6 46.8)" fill="#8a80d4" opacity="0.5"/>
<ellipse cx="17.6" cy="46.8" rx="2.2" ry="0.8" transform="rotate(174 17.6 46.8)" fill="#4234c0"/>
<ellipse cx="45.8" cy="43.2" rx="2.0" ry="1.2" transform="rotate(144 45.8 43.2)" fill="#8a80d4" opacity="0.5"/>
<ellipse cx="45.8" cy="43.2" rx="1.6" ry="0.8" transform="rotate(144 45.8 43.2)" fill="#3a2cb8"/>
<ellipse cx="44.1" cy="27.8" rx="1.4" ry="1.0" transform="rotate(157 44.1 27.8)" fill="#8a80d4" opacity="0.5"/>
<ellipse cx="44.1" cy="27.8" rx="1.0" ry="0.6" transform="rotate(157 44.1 27.8)" fill="#3a2cb8"/>
<ellipse cx="40.8" cy="27.3" rx="1.4" ry="1.3" transform="rotate(23 40.8 27.3)" fill="#8a80d4" opacity="0.5"/>
<ellipse cx="40.8" cy="27.3" rx="1.0" ry="0.9" transform="rotate(23 40.8 27.3)" fill="#4234c0"/>
<ellipse cx="9.0" cy="38.8" rx="1.9" ry="1.3" transform="rotate(122 9.0 38.8)" fill="#8a80d4" opacity="0.5"/>
<ellipse cx="9.0" cy="38.8" rx="1.5" ry="0.9" transform="rotate(122 9.0 38.8)" fill="#4e40c8"/>
<ellipse cx="63.9" cy="26.1" rx="2.0" ry="1.2" transform="rotate(97 63.9 26.1)" fill="#8a80d4" opacity="0.5"/>
<ellipse cx="63.9" cy="26.1" rx="1.6" ry="0.8" transform="rotate(97 63.9 26.1)" fill="#4234c0"/>
<ellipse cx="52.5" cy="22.8" rx="1.5" ry="1.2" transform="rotate(113 52.5 22.8)" fill="#8a80d4" opacity="0.5"/>
<ellipse cx="52.5" cy="22.8" rx="1.1" ry="0.8" transform="rotate(113 52.5 22.8)" fill="#4e40c8"/>
<ellipse cx="6.6" cy="4.8" rx="2.5" ry="1.4" transform="rotate(97 6.6 4.8)" fill="#8a80d4" opacity="0.5"/>
<ellipse cx="6.6" cy="4.8" rx="2.1" ry="1.0" transform="rotate(97 6.6 4.8)" fill="#3628b0"/>
<ellipse cx="24.4" cy="24.0" rx="1.6" ry="1.2" transform="rotate(36 24.4 24.0)" fill="#8a80d4" opacity="0.5"/>
<ellipse cx="24.4" cy="24.0" rx="1.2" ry="0.8" transform="rotate(36 24.4 24.0)" fill="#3628b0"/>
<ellipse cx="22.6" cy="26.5" rx="2.0" ry="1.2" transform="rotate(131 22.6 26.5)" fill="#8a80d4" opacity="0.5"/>
<ellipse cx="22.6" cy="26.5" rx="1.6" ry="0.8" transform="rotate(131 22.6 26.5)" fill="#3a2cb8"/>
<ellipse cx="26.4" cy="21.6" rx="2.0" ry="1.4" transform="rotate(40 26.4 21.6)" fill="#8a80d4" opacity="0.5"/>
<ellipse cx="26.4" cy="21.6" rx="1.6" ry="1.0" transform="rotate(40 26.4 21.6)" fill="#4e40c8"/>
<ellipse cx="57.8" cy="38.6" rx="1.7" ry="1.2" transform="rotate(139 57.8 38.6)" fill="#8a80d4" opacity="0.5"/>
<ellipse cx="57.8" cy="38.6" rx="1.3" ry="0.8" transform="rotate(139 57.8 38.6)" fill="#4e40c8"/>
<ellipse cx="64.6" cy="10.6" rx="1.7" ry="1.1" transform="rotate(12 64.6 10.6)" fill="#8a80d4" opacity="0.5"/>
<ellipse cx="64.6" cy="10.6" rx="1.3" ry="0.7" transform="rotate(12 64.6 10.6)" fill="#4234c0"/>
<ellipse cx="34.9" cy="2.2" rx="2.1" ry="1.1" transform="rotate(49 34.9 2.2)" fill="#8a80d4" opacity="0.5"/>
<ellipse cx="34.9" cy="2.2" rx="1.7" ry="0.7" transform="rotate(49 34.9 2.2)" fill="#4e40c8"/>
<ellipse cx="12.7" cy="51.4" rx="2.5" ry="1.1" transform="rotate(101 12.7 51.4)" fill="#8a80d4" opacity="0.5"/>
<ellipse cx="12.7" cy="51.4" rx="2.1" ry="0.7" transform="rotate(101 12.7 51.4)" fill="#4234c0"/>
<ellipse cx="43.7" cy="4.6" rx="1.8" ry="1.4" transform="rotate(99 43.7 4.6)" fill="#8a80d4" opacity="0.5"/>
<ellipse cx="43.7" cy="4.6" rx="1.4" ry="1.0" transform="rotate(99 43.7 4.6)" fill="#3628b0"/>
<ellipse cx="61.3" cy="31.3" rx="1.6" ry="1.4" transform="rotate(33 61.3 31.3)" fill="#8a80d4" opacity="0.5"/>
<ellipse cx="61.3" cy="31.3" rx="1.2" ry="1.0" transform="rotate(33 61.3 31.3)" fill="#3628b0"/>
<ellipse cx="4.2" cy="21.5" rx="2.0" ry="1.4" transform="rotate(51 4.2 21.5)" fill="#8a80d4" opacity="0.5"/>
<ellipse cx="4.2" cy="21.5" rx="1.6" ry="1.0" transform="rotate(51 4.2 21.5)" fill="#4234c0"/>
<ellipse cx="51.6" cy="14.3" rx="1.9" ry="1.2" transform="rotate(111 51.6 14.3)" fill="#8a80d4" opacity="0.5"/>
<ellipse cx="51.6" cy="14.3" rx="1.5" ry="0.8" transform="rotate(111 51.6 14.3)" fill="#3628b0"/>
<ellipse cx="11.3" cy="43.2" rx="1.8" ry="1.4" transform="rotate(29 11.3 43.2)" fill="#8a80d4" opacity="0.5"/>
<ellipse cx="11.3" cy="43.2" rx="1.4" ry="1.0" transform="rotate(29 11.3 43.2)" fill="#4e40c8"/>
<ellipse cx="61.5" cy="28.9" rx="1.6" ry="1.0" transform="rotate(145 61.5 28.9)" fill="#8a80d4" opacity="0.5"/>
<ellipse cx="61.5" cy="28.9" rx="1.2" ry="0.6" transform="rotate(145 61.5 28.9)" fill="#4234c0"/>
<ellipse cx="10.9" cy="38.7" rx="1.6" ry="1.2" transform="rotate(1 10.9 38.7)" fill="#8a80d4" opacity="0.5"/>
<ellipse cx="10.9" cy="38.7" rx="1.2" ry="0.8" transform="rotate(1 10.9 38.7)" fill="#4234c0"/>
<ellipse cx="34.1" cy="6.7" rx="1.5" ry="1.4" transform="rotate(80 34.1 6.7)" fill="#8a80d4" opacity="0.5"/>
<ellipse cx="34.1" cy="6.7" rx="1.1" ry="1.0" transform="rotate(80 34.1 6.7)" fill="#4234c0"/>
<ellipse cx="11.5" cy="47.2" rx="2.1" ry="1.3" transform="rotate(161 11.5 47.2)" fill="#8a80d4" opacity="0.5"/>
<ellipse cx="11.5" cy="47.2" rx="1.7" ry="0.9" transform="rotate(161 11.5 47.2)" fill="#3628b0"/>
<ellipse cx="14.6" cy="6.4" rx="1.8" ry="1.0" transform="rotate(130 14.6 6.4)" fill="#8a80d4" opacity="0.5"/>
<ellipse cx="14.6" cy="6.4" rx="1.4" ry="0.6" transform="rotate(130 14.6 6.4)" fill="#4234c0"/>
<ellipse cx="51.7" cy="29.5" rx="1.5" ry="1.4" transform="rotate(149 51.7 29.5)" fill="#8a80d4" opacity="0.5"/>
<ellipse cx="51.7" cy="29.5" rx="1.1" ry="1.0" transform="rotate(149 51.7 29.5)" fill="#4e40c8"/>
<ellipse cx="42.6" cy="12.3" rx="1.9" ry="1.4" transform="rotate(125 42.6 12.3)" fill="#8a80d4" opacity="0.5"/>
<ellipse cx="42.6" cy="12.3" rx="1.5" ry="1.0" transform="rotate(125 42.6 12.3)" fill="#4e40c8"/>
<ellipse cx="9.4" cy="15.5" rx="1.4" ry="1.3" transform="rotate(135 9.4 15.5)" fill="#8a80d4" opacity="0.5"/>
<ellipse cx="9.4" cy="15.5" rx="1.0" ry="0.9" transform="rotate(135 9.4 15.5)" fill="#4e40c8"/>
<ellipse cx="48.2" cy="16.9" rx="2.0" ry="1.4" transform="rotate(86 48.2 16.9)" fill="#8a80d4" opacity="0.5"/>
<ellipse cx="48.2" cy="16.9" rx="1.6" ry="1.0" transform="rotate(86 48.2 16.9)" fill="#4234c0"/>
<ellipse cx="67.1" cy="8.0" rx="2.3" ry="1.2" transform="rotate(164 67.1 8.0)" fill="#8a80d4" opacity="0.5"/>
<ellipse cx="67.1" cy="8.0" rx="1.9" ry="0.8" transform="rotate(164 67.1 8.0)" fill="#3628b0"/>
<ellipse cx="15.6" cy="46.1" rx="2.5" ry="1.4" transform="rotate(65 15.6 46.1)" fill="#8a80d4" opacity="0.5"/>
<ellipse cx="15.6" cy="46.1" rx="2.1" ry="1.0" transform="rotate(65 15.6 46.1)" fill="#4e40c8"/>
<ellipse cx="18.0" cy="38.8" rx="2.3" ry="1.4" transform="rotate(175 18.0 38.8)" fill="#8a80d4" opacity="0.5"/>
<ellipse cx="18.0" cy="38.8" rx="1.9" ry="1.0" transform="rotate(175 18.0 38.8)" fill="#3a2cb8"/>
<ellipse cx="31.7" cy="39.2" rx="2.1" ry="1.2" transform="rotate(91 31.7 39.2)" fill="#8a80d4" opacity="0.5"/>
<ellipse cx="31.7" cy="39.2" rx="1.7" ry="0.8" transform="rotate(91 31.7 39.2)" fill="#3628b0"/>
<ellipse cx="55.2" cy="45.6" rx="2.3" ry="1.4" transform="rotate(55 55.2 45.6)" fill="#8a80d4" opacity="0.5"/>
<ellipse cx="55.2" cy="45.6" rx="1.9" ry="1.0" transform="rotate(55 55.2 45.6)" fill="#4234c0"/>
<ellipse cx="4.7" cy="43.1" rx="2.4" ry="1.3" transform="rotate(45 4.7 43.1)" fill="#8a80d4" opacity="0.5"/>
<ellipse cx="4.7" cy="43.1" rx="2.0" ry="0.9" transform="rotate(45 4.7 43.1)" fill="#3a2cb8"/>
<ellipse cx="26.6" cy="48.7" rx="2.7" ry="1.2" transform="rotate(165 26.6 48.7)" fill="#8a80d4" opacity="0.5"/>
<ellipse cx="26.6" cy="48.7" rx="2.3" ry="0.8" transform="rotate(165 26.6 48.7)" fill="#3628b0"/>
<ellipse cx="49.5" cy="34.5" rx="2.0" ry="1.3" transform="rotate(72 49.5 34.5)" fill="#8a80d4" opacity="0.5"/>
<ellipse cx="49.5" cy="34.5" rx="1.6" ry="0.9" transform="rotate(72 49.5 34.5)" fill="#3628b0"/>
<ellipse cx="64.2" cy="25.5" rx="1.8" ry="1.1" transform="rotate(28 64.2 25.5)" fill="#8a80d4" opacity="0.5"/>
<ellipse cx="64.2" cy="25.5" rx="1.4" ry="0.7" transform="rotate(28 64.2 25.5)" fill="#4234c0"/>
<ellipse cx="34.4" cy="29.5" rx="1.4" ry="1.2" transform="rotate(120 34.4 29.5)" fill="#8a80d4" opacity="0.5"/>
<ellipse cx="34.4" cy="29.5" rx="1.0" ry="0.8" transform="rotate(120 34.4 29.5)" fill="#3a2cb8"/>
<ellipse cx="13.9" cy="24.1" rx="1.7" ry="1.4" transform="rotate(14 13.9 24.1)" fill="#8a80d4" opacity="0.5"/>
<ellipse cx="13.9" cy="24.1" rx="1.3" ry="1.0" transform="rotate(14 13.9 24.1)" fill="#4234c0"/>
<ellipse cx="20.1" cy="30.7" rx="1.6" ry="1.3" transform="rotate(74 20.1 30.7)" fill="#8a80d4" opacity="0.5"/>
<ellipse cx="20.1" cy="30.7" rx="1.2" ry="0.9" transform="rotate(74 20.1 30.7)" fill="#3a2cb8"/>
<ellipse cx="25.1" cy="23.2" rx="2.1" ry="1.3" transform="rotate(171 25.1 23.2)" fill="#8a80d4" opacity="0.5"/>
<ellipse cx="25.1" cy="23.2" rx="1.7" ry="0.9" transform="rotate(171 25.1 23.2)" fill="#4234c0"/>
<ellipse cx="5.9" cy="37.3" rx="1.5" ry="1.4" transform="rotate(74 5.9 37.3)" fill="#8a80d4" opacity="0.5"/>
<ellipse cx="5.9" cy="37.3" rx="1.1" ry="1.0" transform="rotate(74 5.9 37.3)" fill="#3628b0"/>
<ellipse cx="50.8" cy="36.6" rx="2.6" ry="1.4" transform="rotate(150 50.8 36.6)" fill="#8a80d4" opacity="0.5"/>
<ellipse cx="50.8" cy="36.6" rx="2.2" ry="1.0" transform="rotate(150 50.8 36.6)" fill="#4234c0"/>
<ellipse cx="53.1" cy="29.9" rx="1.8" ry="1.1" transform="rotate(124 53.1 29.9)" fill="#8a80d4" opacity="0.5"/>
<ellipse cx="53.1" cy="29.9" rx="1.4" ry="0.7" transform="rotate(124 53.1 29.9)" fill="#4e40c8"/>
<ellipse cx="54.3" cy="22.6" rx="1.5" ry="1.5" transform="rotate(32 54.3 22.6)" fill="#8a80d4" opacity="0.5"/>
<ellipse cx="54.3" cy="22.6" rx="1.1" ry="1.1" transform="rotate(32 54.3 22.6)" fill="#4234c0"/>
<ellipse cx="1.0" cy="2.3" rx="1.6" ry="1.4" transform="rotate(81 1.0 2.3)" fill="#8a80d4" opacity="0.5"/>
<ellipse cx="1.0" cy="2.3" rx="1.2" ry="1.0" transform="rotate(81 1.0 2.3)" fill="#3628b0"/>
<ellipse cx="23.2" cy="38.2" rx="2.4" ry="1.3" transform="rotate(154 23.2 38.2)" fill="#8a80d4" opacity="0.5"/>
<ellipse cx="23.2" cy="38.2" rx="2.0" ry="0.9" transform="rotate(154 23.2 38.2)" fill="#4234c0"/>
<ellipse cx="41.6" cy="19.9" rx="1.7" ry="1.5" transform="rotate(176 41.6 19.9)" fill="#8a80d4" opacity="0.5"/>
<ellipse cx="41.6" cy="19.9" rx="1.3" ry="1.1" transform="rotate(176 41.6 19.9)" fill="#4e40c8"/>
<ellipse cx="44.3" cy="43.9" rx="2.6" ry="1.4" transform="rotate(175 44.3 43.9)" fill="#8a80d4" opacity="0.5"/>
<ellipse cx="44.3" cy="43.9" rx="2.2" ry="1.0" transform="rotate(175 44.3 43.9)" fill="#4234c0"/>
<ellipse cx="12.3" cy="51.0" rx="2.1" ry="1.4" transform="rotate(130 12.3 51.0)" fill="#8a80d4" opacity="0.5"/>
<ellipse cx="12.3" cy="51.0" rx="1.7" ry="1.0" transform="rotate(130 12.3 51.0)" fill="#4234c0"/>
<ellipse cx="19.4" cy="19.0" rx="1.9" ry="1.4" transform="rotate(131 19.4 19.0)" fill="#8a80d4" opacity="0.5"/>
<ellipse cx="19.4" cy="19.0" rx="1.5" ry="1.0" transform="rotate(131 19.4 19.0)" fill="#4234c0"/>
<ellipse cx="32.2" cy="13.8" rx="1.9" ry="1.2" transform="rotate(109 32.2 13.8)" fill="#8a80d4" opacity="0.5"/>
<ellipse cx="32.2" cy="13.8" rx="1.5" ry="0.8" transform="rotate(109 32.2 13.8)" fill="#3a2cb8"/>
<ellipse cx="19.0" cy="14.2" rx="1.5" ry="1.4" transform="rotate(33 19.0 14.2)" fill="#8a80d4" opacity="0.5"/>
<ellipse cx="19.0" cy="14.2" rx="1.1" ry="1.0" transform="rotate(33 19.0 14.2)" fill="#3628b0"/>
<ellipse cx="8.5" cy="18.6" rx="2.5" ry="1.5" transform="rotate(163 8.5 18.6)" fill="#8a80d4" opacity="0.5"/>
<ellipse cx="8.5" cy="18.6" rx="2.1" ry="1.1" transform="rotate(163 8.5 18.6)" fill="#4e40c8"/>
<ellipse cx="20.5" cy="3.4" rx="2.1" ry="1.0" transform="rotate(45 20.5 3.4)" fill="#8a80d4" opacity="0.5"/>
<ellipse cx="20.5" cy="3.4" rx="1.7" ry="0.6" transform="rotate(45 20.5 3.4)" fill="#4e40c8"/>
<ellipse cx="56.6" cy="29.1" rx="2.5" ry="1.3" transform="rotate(137 56.6 29.1)" fill="#8a80d4" opacity="0.5"/>
<ellipse cx="56.6" cy="29.1" rx="2.1" ry="0.9" transform="rotate(137 56.6 29.1)" fill="#4234c0"/>
<ellipse cx="9.3" cy="36.0" rx="2.6" ry="1.3" transform="rotate(157 9.3 36.0)" fill="#8a80d4" opacity="0.5"/>
<ellipse cx="9.3" cy="36.0" rx="2.2" ry="0.9" transform="rotate(157 9.3 36.0)" fill="#3a2cb8"/>
<ellipse cx="56.9" cy="33.5" rx="2.5" ry="1.0" transform="rotate(54 56.9 33.5)" fill="#8a80d4" opacity="0.5"/>
<ellipse cx="56.9" cy="33.5" rx="2.1" ry="0.6" transform="rotate(54 56.9 33.5)" fill="#4234c0"/>
<ellipse cx="8.2" cy="18.8" rx="2.5" ry="1.4" transform="rotate(23 8.2 18.8)" fill="#8a80d4" opacity="0.5"/>
<ellipse cx="8.2" cy="18.8" rx="2.1" ry="1.0" transform="rotate(23 8.2 18.8)" fill="#4234c0"/>
<ellipse cx="28.6" cy="40.9" rx="1.8" ry="1.2" transform="rotate(135 28.6 40.9)" fill="#8a80d4" opacity="0.5"/>
<ellipse cx="28.6" cy="40.9" rx="1.4" ry="0.8" transform="rotate(135 28.6 40.9)" fill="#3a2cb8"/>
<ellipse cx="32.1" cy="10.9" rx="2.2" ry="1.3" transform="rotate(157 32.1 10.9)" fill="#8a80d4" opacity="0.5"/>
<ellipse cx="32.1" cy="10.9" rx="1.8" ry="0.9" transform="rotate(157 32.1 10.9)" fill="#3628b0"/>
<ellipse cx="4.1" cy="45.6" rx="2.1" ry="1.3" transform="rotate(140 4.1 45.6)" fill="#8a80d4" opacity="0.5"/>
<ellipse cx="4.1" cy="45.6" rx="1.7" ry="0.9" transform="rotate(140 4.1 45.6)" fill="#3a2cb8"/>
<ellipse cx="50.0" cy="28.4" rx="1.7" ry="1.4" transform="rotate(48 50.0 28.4)" fill="#8a80d4" opacity="0.5"/>
<ellipse cx="50.0" cy="28.4" rx="1.3" ry="1.0" transform="rotate(48 50.0 28.4)" fill="#3a2cb8"/>
<ellipse cx="0.3" cy="26.8" rx="2.3" ry="1.1" transform="rotate(157 0.3 26.8)" fill="#8a80d4" opacity="0.5"/>
<ellipse cx="0.3" cy="26.8" rx="1.9" ry="0.7" transform="rotate(157 0.3 26.8)" fill="#4234c0"/>
<ellipse cx="31.0" cy="26.2" rx="2.5" ry="1.3" transform="rotate(124 31.0 26.2)" fill="#8a80d4" opacity="0.5"/>
<ellipse cx="31.0" cy="26.2" rx="2.1" ry="0.9" transform="rotate(124 31.0 26.2)" fill="#4234c0"/>
<ellipse cx="45.8" cy="6.2" rx="1.8" ry="1.2" transform="rotate(47 45.8 6.2)" fill="#8a80d4" opacity="0.5"/>
<ellipse cx="45.8" cy="6.2" rx="1.4" ry="0.8" transform="rotate(47 45.8 6.2)" fill="#3a2cb8"/>
<ellipse cx="64.7" cy="23.9" rx="1.8" ry="1.3" transform="rotate(44 64.7 23.9)" fill="#8a80d4" opacity="0.5"/>
<ellipse cx="64.7" cy="23.9" rx="1.4" ry="0.9" transform="rotate(44 64.7 23.9)" fill="#4e40c8"/>
<ellipse cx="10.8" cy="32.4" rx="1.9" ry="1.4" transform="rotate(173 10.8 32.4)" fill="#8a80d4" opacity="0.5"/>
<ellipse cx="10.8" cy="32.4" rx="1.5" ry="1.0" transform="rotate(173 10.8 32.4)" fill="#4e40c8"/>
<ellipse cx="46.8" cy="24.4" rx="2.0" ry="1.2" transform="rotate(108 46.8 24.4)" fill="#8a80d4" opacity="0.5"/>
<ellipse cx="46.8" cy="24.4" rx="1.6" ry="0.8" transform="rotate(108 46.8 24.4)" fill="#3a2cb8"/>
<ellipse cx="60.3" cy="47.2" rx="1.6" ry="1.2" transform="rotate(138 60.3 47.2)" fill="#8a80d4" opacity="0.5"/>
<ellipse cx="60.3" cy="47.2" rx="1.2" ry="0.8" transform="rotate(138 60.3 47.2)" fill="#4234c0"/>
<ellipse cx="3.8" cy="16.3" rx="2.3" ry="1.2" transform="rotate(165 3.8 16.3)" fill="#8a80d4" opacity="0.5"/>
<ellipse cx="3.8" cy="16.3" rx="1.9" ry="0.8" transform="rotate(165 3.8 16.3)" fill="#3a2cb8"/>
<ellipse cx="15.2" cy="16.4" rx="1.8" ry="1.4" transform="rotate(1 15.2 16.4)" fill="#8a80d4" opacity="0.5"/>
<ellipse cx="15.2" cy="16.4" rx="1.4" ry="1.0" transform="rotate(1 15.2 16.4)" fill="#3628b0"/>
<ellipse cx="50.8" cy="45.2" rx="1.7" ry="1.3" transform="rotate(53 50.8 45.2)" fill="#8a80d4" opacity="0.5"/>
<ellipse cx="50.8" cy="45.2" rx="1.3" ry="0.9" transform="rotate(53 50.8 45.2)" fill="#3628b0"/>
<ellipse cx="0.1" cy="45.7" rx="1.7" ry="1.0" transform="rotate(4 0.1 45.7)" fill="#8a80d4" opacity="0.5"/>
<ellipse cx="0.1" cy="45.7" rx="1.3" ry="0.6" transform="rotate(4 0.1 45.7)" fill="#3a2cb8"/>
<ellipse cx="42.7" cy="37.9" rx="2.2" ry="1.4" transform="rotate(111 42.7 37.9)" fill="#8a80d4" opacity="0.5"/>
<ellipse cx="42.7" cy="37.9" rx="1.8" ry="1.0" transform="rotate(111 42.7 37.9)" fill="#3628b0"/>
<ellipse cx="50.4" cy="41.8" rx="1.6" ry="1.1" transform="rotate(135 50.4 41.8)" fill="#8a80d4" opacity="0.5"/>
<ellipse cx="50.4" cy="41.8" rx="1.2" ry="0.7" transform="rotate(135 50.4 41.8)" fill="#4234c0"/>
<ellipse cx="57.2" cy="37.3" rx="2.5" ry="1.0" transform="rotate(38 57.2 37.3)" fill="#8a80d4" opacity="0.5"/>
<ellipse cx="57.2" cy="37.3" rx="2.1" ry="0.6" transform="rotate(38 57.2 37.3)" fill="#4234c0"/>
<ellipse cx="19.3" cy="50.0" rx="1.6" ry="1.2" transform="rotate(29 19.3 50.0)" fill="#8a80d4" opacity="0.5"/>
<ellipse cx="19.3" cy="50.0" rx="1.2" ry="0.8" transform="rotate(29 19.3 50.0)" fill="#4e40c8"/>
<ellipse cx="6.6" cy="40.6" rx="2.4" ry="1.2" transform="rotate(98 6.6 40.6)" fill="#8a80d4" opacity="0.5"/>
<ellipse cx="6.6" cy="40.6" rx="2.0" ry="0.8" transform="rotate(98 6.6 40.6)" fill="#4234c0"/>
<ellipse cx="2.5" cy="28.3" rx="2.4" ry="1.5" transform="rotate(23 2.5 28.3)" fill="#8a80d4" opacity="0.5"/>
<ellipse cx="2.5" cy="28.3" rx="2.0" ry="1.1" transform="rotate(23 2.5 28.3)" fill="#3a2cb8"/>
<ellipse cx="18.8" cy="10.9" rx="2.3" ry="1.1" transform="rotate(153 18.8 10.9)" fill="#8a80d4" opacity="0.5"/>
<ellipse cx="18.8" cy="10.9" rx="1.9" ry="0.7" transform="rotate(153 18.8 10.9)" fill="#4234c0"/>
<ellipse cx="39.9" cy="37.6" rx="2.1" ry="1.5" transform="rotate(29 39.9 37.6)" fill="#8a80d4" opacity="0.5"/>
<ellipse cx="39.9" cy="37.6" rx="1.7" ry="1.1" transform="rotate(29 39.9 37.6)" fill="#4234c0"/>
<ellipse cx="13.3" cy="2.2" rx="2.3" ry="1.0" transform="rotate(115 13.3 2.2)" fill="#8a80d4" opacity="0.5"/>
<ellipse cx="13.3" cy="2.2" rx="1.9" ry="0.6" transform="rotate(115 13.3 2.2)" fill="#4e40c8"/>
<ellipse cx="59.3" cy="6.7" rx="2.7" ry="1.4" transform="rotate(75 59.3 6.7)" fill="#8a80d4" opacity="0.5"/>
<ellipse cx="59.3" cy="6.7" rx="2.3" ry="1.0" transform="rotate(75 59.3 6.7)" fill="#3a2cb8"/>
<ellipse cx="51.8" cy="25.2" rx="2.1" ry="1.2" transform="rotate(6 51.8 25.2)" fill="#8a80d4" opacity="0.5"/>
<ellipse cx="51.8" cy="25.2" rx="1.7" ry="0.8" transform="rotate(6 51.8 25.2)" fill="#4e40c8"/>
<ellipse cx="54.4" cy="1.5" rx="2.4" ry="1.1" transform="rotate(154 54.4 1.5)" fill="#8a80d4" opacity="0.5"/>
<ellipse cx="54.4" cy="1.5" rx="2.0" ry="0.7" transform="rotate(154 54.4 1.5)" fill="#3a2cb8"/>
<ellipse cx="15.1" cy="26.5" rx="1.7" ry="1.0" transform="rotate(15 15.1 26.5)" fill="#8a80d4" opacity="0.5"/>
<ellipse cx="15.1" cy="26.5" rx="1.3" ry="0.6" transform="rotate(15 15.1 26.5)" fill="#3a2cb8"/>
<ellipse cx="30.5" cy="47.2" rx="2.0" ry="1.0" transform="rotate(127 30.5 47.2)" fill="#8a80d4" opacity="0.5"/>
<ellipse cx="30.5" cy="47.2" rx="1.6" ry="0.6" transform="rotate(127 30.5 47.2)" fill="#4234c0"/>
<ellipse cx="2.0" cy="9.4" rx="1.8" ry="1.1" transform="rotate(152 2.0 9.4)" fill="#8a80d4" opacity="0.5"/>
<ellipse cx="2.0" cy="9.4" rx="1.4" ry="0.7" transform="rotate(152 2.0 9.4)" fill="#3628b0"/>
<ellipse cx="54.7" cy="7.5" rx="1.6" ry="1.5" transform="rotate(103 54.7 7.5)" fill="#8a80d4" opacity="0.5"/>
<ellipse cx="54.7" cy="7.5" rx="1.2" ry="1.1" transform="rotate(103 54.7 7.5)" fill="#4e40c8"/>
<ellipse cx="47.5" cy="37.4" rx="1.7" ry="1.2" transform="rotate(120 47.5 37.4)" fill="#8a80d4" opacity="0.5"/>
<ellipse cx="47.5" cy="37.4" rx="1.3" ry="0.8" transform="rotate(120 47.5 37.4)" fill="#4e40c8"/>
<ellipse cx="43.2" cy="46.8" rx="2.4" ry="1.0" transform="rotate(16 43.2 46.8)" fill="#8a80d4" opacity="0.5"/>
<ellipse cx="43.2" cy="46.8" rx="2.0" ry="0.6" transform="rotate(16 43.2 46.8)" fill="#4e40c8"/>
<ellipse cx="36.0" cy="3.8" rx="2.3" ry="1.4" transform="rotate(75 36.0 3.8)" fill="#8a80d4" opacity="0.5"/>
<ellipse cx="36.0" cy="3.8" rx="1.9" ry="1.0" transform="rotate(75 36.0 3.8)" fill="#4234c0"/>
<ellipse cx="60.5" cy="30.5" rx="2.2" ry="1.4" transform="rotate(163 60.5 30.5)" fill="#8a80d4" opacity="0.5"/>
<ellipse cx="60.5" cy="30.5" rx="1.8" ry="1.0" transform="rotate(163 60.5 30.5)" fill="#4e40c8"/>
<ellipse cx="35.5" cy="41.5" rx="2.5" ry="1.1" transform="rotate(32 35.5 41.5)" fill="#8a80d4" opacity="0.5"/>
<ellipse cx="35.5" cy="41.5" rx="2.1" ry="0.7" transform="rotate(32 35.5 41.5)" fill="#4e40c8"/>
<ellipse cx="63.1" cy="28.8" rx="2.0" ry="1.3" transform="rotate(172 63.1 28.8)" fill="#8a80d4" opacity="0.5"/>
<ellipse cx="63.1" cy="28.8" rx="1.6" ry="0.9" transform="rotate(172 63.1 28.8)" fill="#4234c0"/>
<ellipse cx="5.3" cy="3.1" rx="2.6" ry="1.1" transform="rotate(21 5.3 3.1)" fill="#8a80d4" opacity="0.5"/>
<ellipse cx="5.3" cy="3.1" rx="2.2" ry="0.7" transform="rotate(21 5.3 3.1)" fill="#4e40c8"/>
<ellipse cx="38.7" cy="16.7" rx="2.1" ry="1.1" transform="rotate(43 38.7 16.7)" fill="#8a80d4" opacity="0.5"/>
<ellipse cx="38.7" cy="16.7" rx="1.7" ry="0.7" transform="rotate(43 38.7 16.7)" fill="#3628b0"/>
<ellipse cx="27.3" cy="4.7" rx="1.9" ry="1.5" transform="rotate(86 27.3 4.7)" fill="#8a80d4" opacity="0.5"/>
<ellipse cx="27.3" cy="4.7" rx="1.5" ry="1.1" transform="rotate(86 27.3 4.7)" fill="#4234c0"/>
<ellipse cx="40.6" cy="4.0" rx="2.1" ry="1.0" transform="rotate(106 40.6 4.0)" fill="#8a80d4" opacity="0.5"/>
<ellipse cx="40.6" cy="4.0" rx="1.7" ry="0.6" transform="rotate(106 40.6 4.0)" fill="#3a2cb8"/>
<ellipse cx="7.6" cy="27.8" rx="2.7" ry="1.4" transform="rotate(64 7.6 27.8)" fill="#8a80d4" opacity="0.5"/>
<ellipse cx="7.6" cy="27.8" rx="2.3" ry="1.0" transform="rotate(64 7.6 27.8)" fill="#3a2cb8"/>
<ellipse cx="17.3" cy="22.5" rx="1.9" ry="1.3" transform="rotate(95 17.3 22.5)" fill="#8a80d4" opacity="0.5"/>
<ellipse cx="17.3" cy="22.5" rx="1.5" ry="0.9" transform="rotate(95 17.3 22.5)" fill="#4234c0"/>
<ellipse cx="55.7" cy="6.8" rx="2.5" ry="1.3" transform="rotate(19 55.7 6.8)" fill="#8a80d4" opacity="0.5"/>
<ellipse cx="55.7" cy="6.8" rx="2.1" ry="0.9" transform="rotate(19 55.7 6.8)" fill="#4e40c8"/>
<ellipse cx="54.8" cy="37.9" rx="2.3" ry="1.1" transform="rotate(69 54.8 37.9)" fill="#8a80d4" opacity="0.5"/>
<ellipse cx="54.8" cy="37.9" rx="1.9" ry="0.7" transform="rotate(69 54.8 37.9)" fill="#3628b0"/>
<ellipse cx="1.1" cy="9.9" rx="1.9" ry="1.4" transform="rotate(32 1.1 9.9)" fill="#8a80d4" opacity="0.5"/>
<ellipse cx="1.1" cy="9.9" rx="1.5" ry="1.0" transform="rotate(32 1.1 9.9)" fill="#4234c0"/>
</svg>
<line x1="517.3" y1="601.2" x2="525.0" y2="601.2" stroke="#111" stroke-width="1.8"/>
<line x1="39.6" y1="392.7" x2="262.5" y2="392.7" stroke="#111" stroke-width="1.3"/>
<text x="151.2" y="388.4" font-size="13" text-anchor="middle" fill="#1a1a1a" textLength="33.5" lengthAdjust="spacingAndGlyphs">A549</text>
<line x1="303.6" y1="392.3" x2="528.0" y2="392.3" stroke="#111" stroke-width="1.3"/>
<text x="419.3" y="388.2" font-size="13" text-anchor="middle" fill="#1a1a1a" textLength="33.3" lengthAdjust="spacingAndGlyphs">H157</text>
<text x="80.5" y="427.6" font-size="13.5" text-anchor="middle" fill="#1a1a1a" textLength="21.6" lengthAdjust="spacingAndGlyphs">Ctrl</text>
<text x="154.0" y="427.6" font-size="13.5" text-anchor="middle" fill="#1a1a1a" textLength="35.2" lengthAdjust="spacingAndGlyphs">TAMs</text>
<text x="225.2" y="409.4" font-size="13.5" text-anchor="middle" fill="#1a1a1a" textLength="43.4" lengthAdjust="spacingAndGlyphs">TAMs+</text>
<text x="227.0" y="427.6" font-size="13.5" text-anchor="middle" fill="#1a1a1a" textLength="47.8" lengthAdjust="spacingAndGlyphs">Chrysin</text>
<text x="347.0" y="428.0" font-size="13.5" text-anchor="middle" fill="#1a1a1a" textLength="23" lengthAdjust="spacingAndGlyphs">Ctrl</text>
<text x="417.0" y="428.0" font-size="13.5" text-anchor="middle" fill="#1a1a1a" textLength="35.3" lengthAdjust="spacingAndGlyphs">TAMs</text>
<text x="490.3" y="409.4" font-size="13.5" text-anchor="middle" fill="#1a1a1a" textLength="42.4" lengthAdjust="spacingAndGlyphs">TAMs+</text>
<text x="493.3" y="427.6" font-size="13.5" text-anchor="middle" fill="#1a1a1a" textLength="48.8" lengthAdjust="spacingAndGlyphs">Chrysin</text>
<text transform="translate(39.2,463.2) rotate(-90)" font-size="14.5" text-anchor="middle" fill="#1a1a1a" textLength="14.6" lengthAdjust="spacingAndGlyphs">0h</text>
<text transform="translate(39.2,521.3) rotate(-90)" font-size="14.5" text-anchor="middle" fill="#1a1a1a" textLength="22.6" lengthAdjust="spacingAndGlyphs">48h</text>
<text transform="translate(302.6,463.3) rotate(-90)" font-size="14.5" text-anchor="middle" fill="#1a1a1a" textLength="14.6" lengthAdjust="spacingAndGlyphs">0h</text>
<text transform="translate(302.6,521.3) rotate(-90)" font-size="14.5" text-anchor="middle" fill="#1a1a1a" textLength="22.6" lengthAdjust="spacingAndGlyphs">48h</text>
<text x="105.9" y="630.0" font-size="14.2" text-anchor="middle" fill="#1a1a1a" textLength="32.2" lengthAdjust="spacingAndGlyphs">A549</text>
<line x1="71.0" y1="636.0" x2="71.0" y2="709.5" stroke="#222" stroke-width="1.4"/>
<line x1="70.3" y1="708.9" x2="138.9" y2="708.9" stroke="#222" stroke-width="1.4"/>
<line x1="67.0" y1="708.9" x2="71.0" y2="708.9" stroke="#222" stroke-width="1.3"/>
<text x="66.2" y="713.7" font-size="13" text-anchor="end" fill="#1a1a1a">0</text>
<line x1="67.0" y1="690.8" x2="71.0" y2="690.8" stroke="#222" stroke-width="1.3"/>
<text x="66.2" y="695.6" font-size="13" text-anchor="end" fill="#1a1a1a">25</text>
<line x1="67.0" y1="672.8" x2="71.0" y2="672.8" stroke="#222" stroke-width="1.3"/>
<text x="66.2" y="677.5" font-size="13" text-anchor="end" fill="#1a1a1a">50</text>
<line x1="67.0" y1="654.7" x2="71.0" y2="654.7" stroke="#222" stroke-width="1.3"/>
<text x="66.2" y="659.5" font-size="13" text-anchor="end" fill="#1a1a1a">75</text>
<line x1="67.0" y1="636.6" x2="71.0" y2="636.6" stroke="#222" stroke-width="1.3"/>
<text x="66.2" y="641.4" font-size="13" text-anchor="end" fill="#1a1a1a">100</text>
<rect x="77.4" y="674.9" width="14.2" height="34.0" fill="#050505" stroke="#444" stroke-width="0.8"/>
<line x1="84.5" y1="674.9" x2="84.5" y2="672.0" stroke="#555" stroke-width="1.0"/>
<line x1="81.0" y1="672.0" x2="88.0" y2="672.0" stroke="#555" stroke-width="1.0"/>
<line x1="84.5" y1="708.9" x2="84.5" y2="712.9" stroke="#222" stroke-width="1.2"/>
<rect x="98.5" y="655.7" width="14.9" height="53.2" fill="#a9a9ad" stroke="#444" stroke-width="0.8"/>
<line x1="106.0" y1="655.7" x2="106.0" y2="653.2" stroke="#555" stroke-width="1.0"/>
<line x1="102.5" y1="653.2" x2="109.5" y2="653.2" stroke="#555" stroke-width="1.0"/>
<line x1="106.0" y1="708.9" x2="106.0" y2="712.9" stroke="#222" stroke-width="1.2"/>
<rect x="120.4" y="673.8" width="14.6" height="35.1" fill="#7b7b7d" stroke="#444" stroke-width="0.8"/>
<line x1="127.7" y1="673.8" x2="127.7" y2="670.9" stroke="#555" stroke-width="1.0"/>
<line x1="124.2" y1="670.9" x2="131.2" y2="670.9" stroke="#555" stroke-width="1.0"/>
<line x1="127.7" y1="708.9" x2="127.7" y2="712.9" stroke="#222" stroke-width="1.2"/>
<text transform="translate(88.9,723.4) rotate(-45)" font-size="14" text-anchor="end" fill="#1a1a1a">Ctrl</text>
<text transform="translate(110.4,723.4) rotate(-45)" font-size="14" text-anchor="end" fill="#1a1a1a">TAMs</text>
<text transform="translate(132.1,723.4) rotate(-45)" font-size="14" text-anchor="end" fill="#1a1a1a">TAMs+Chr</text>
<polyline points="105.8,652.0 105.8,642.3 127.6,642.3 127.6,669.0" fill="none" stroke="#8a8a8a" stroke-width="1.0"/>
<text x="116.7" y="643.9" font-size="9" text-anchor="middle" fill="#111" stroke-width="0.6">**</text>
<text transform="translate(39.4,669.6) rotate(-90)" font-size="14" text-anchor="middle" fill="#1a1a1a" textLength="90" lengthAdjust="spacingAndGlyphs">Migration area</text>
<text x="236.0" y="628.4" font-size="14.2" text-anchor="middle" fill="#1a1a1a" textLength="32.2" lengthAdjust="spacingAndGlyphs">A549</text>
<line x1="198.4" y1="635.8" x2="198.4" y2="709.6" stroke="#222" stroke-width="1.4"/>
<line x1="197.7" y1="709.0" x2="271.8" y2="709.0" stroke="#222" stroke-width="1.4"/>
<line x1="194.4" y1="709.0" x2="198.4" y2="709.0" stroke="#222" stroke-width="1.3"/>
<text x="193.6" y="713.8" font-size="13" text-anchor="end" fill="#1a1a1a">0</text>
<line x1="194.4" y1="694.5" x2="198.4" y2="694.5" stroke="#222" stroke-width="1.3"/>
<text x="193.6" y="699.3" font-size="13" text-anchor="end" fill="#1a1a1a">50</text>
<line x1="194.4" y1="680.0" x2="198.4" y2="680.0" stroke="#222" stroke-width="1.3"/>
<text x="193.6" y="684.8" font-size="13" text-anchor="end" fill="#1a1a1a">100</text>
<line x1="194.4" y1="665.4" x2="198.4" y2="665.4" stroke="#222" stroke-width="1.3"/>
<text x="193.6" y="670.2" font-size="13" text-anchor="end" fill="#1a1a1a">150</text>
<line x1="194.4" y1="650.9" x2="198.4" y2="650.9" stroke="#222" stroke-width="1.3"/>
<text x="193.6" y="655.7" font-size="13" text-anchor="end" fill="#1a1a1a">200</text>
<line x1="194.4" y1="636.4" x2="198.4" y2="636.4" stroke="#222" stroke-width="1.3"/>
<text x="193.6" y="641.2" font-size="13" text-anchor="end" fill="#1a1a1a">250</text>
<rect x="206.3" y="672.1" width="14.2" height="36.9" fill="#050505" stroke="#444" stroke-width="0.8"/>
<line x1="213.4" y1="672.1" x2="213.4" y2="668.6" stroke="#555" stroke-width="1.0"/>
<line x1="209.9" y1="668.6" x2="216.9" y2="668.6" stroke="#555" stroke-width="1.0"/>
<line x1="213.4" y1="709.0" x2="213.4" y2="713.0" stroke="#222" stroke-width="1.2"/>
<rect x="228.1" y="650.6" width="14.6" height="58.4" fill="#a9a9ad" stroke="#444" stroke-width="0.8"/>
<line x1="235.4" y1="650.6" x2="235.4" y2="646.6" stroke="#555" stroke-width="1.0"/>
<line x1="231.9" y1="646.6" x2="238.9" y2="646.6" stroke="#555" stroke-width="1.0"/>
<line x1="235.4" y1="709.0" x2="235.4" y2="713.0" stroke="#222" stroke-width="1.2"/>
<rect x="249.7" y="675.9" width="14.4" height="33.1" fill="#7b7b7d" stroke="#444" stroke-width="0.8"/>
<line x1="256.9" y1="675.9" x2="256.9" y2="673.3" stroke="#555" stroke-width="1.0"/>
<line x1="253.4" y1="673.3" x2="260.4" y2="673.3" stroke="#555" stroke-width="1.0"/>
<line x1="256.9" y1="709.0" x2="256.9" y2="713.0" stroke="#222" stroke-width="1.2"/>
<text transform="translate(217.8,723.5) rotate(-45)" font-size="14" text-anchor="end" fill="#1a1a1a">Ctrl</text>
<text transform="translate(239.8,723.5) rotate(-45)" font-size="14" text-anchor="end" fill="#1a1a1a">TAMs</text>
<text transform="translate(261.3,723.5) rotate(-45)" font-size="14" text-anchor="end" fill="#1a1a1a">TAMs+Chr</text>
<polyline points="234.7,646.5 234.7,641.6 257.4,641.6 257.4,667.4" fill="none" stroke="#8a8a8a" stroke-width="1.0"/>
<text x="246.0" y="643.2" font-size="9" text-anchor="middle" fill="#111" stroke-width="0.6">**</text>
<text transform="translate(169.2,688.8) rotate(-90)" font-size="14" text-anchor="middle" fill="#1a1a1a" textLength="127" lengthAdjust="spacingAndGlyphs">Invasive cell number</text>
<text x="373.5" y="630.0" font-size="14.2" text-anchor="middle" fill="#1a1a1a" textLength="32.2" lengthAdjust="spacingAndGlyphs">H157</text>
<line x1="337.4" y1="636.2" x2="337.4" y2="709.5" stroke="#222" stroke-width="1.4"/>
<line x1="336.7" y1="708.9" x2="409.8" y2="708.9" stroke="#222" stroke-width="1.4"/>
<line x1="333.4" y1="708.9" x2="337.4" y2="708.9" stroke="#222" stroke-width="1.3"/>
<text x="332.6" y="713.7" font-size="13" text-anchor="end" fill="#1a1a1a">0</text>
<line x1="333.4" y1="690.9" x2="337.4" y2="690.9" stroke="#222" stroke-width="1.3"/>
<text x="332.6" y="695.7" font-size="13" text-anchor="end" fill="#1a1a1a">25</text>
<line x1="333.4" y1="672.8" x2="337.4" y2="672.8" stroke="#222" stroke-width="1.3"/>
<text x="332.6" y="677.6" font-size="13" text-anchor="end" fill="#1a1a1a">50</text>
<line x1="333.4" y1="654.8" x2="337.4" y2="654.8" stroke="#222" stroke-width="1.3"/>
<text x="332.6" y="659.6" font-size="13" text-anchor="end" fill="#1a1a1a">75</text>
<line x1="333.4" y1="636.8" x2="337.4" y2="636.8" stroke="#222" stroke-width="1.3"/>
<text x="332.6" y="641.6" font-size="13" text-anchor="end" fill="#1a1a1a">100</text>
<rect x="344.5" y="672.8" width="14.2" height="36.1" fill="#050505" stroke="#444" stroke-width="0.8"/>
<line x1="351.6" y1="672.8" x2="351.6" y2="670.0" stroke="#555" stroke-width="1.0"/>
<line x1="348.1" y1="670.0" x2="355.1" y2="670.0" stroke="#555" stroke-width="1.0"/>
<line x1="351.6" y1="708.9" x2="351.6" y2="712.9" stroke="#222" stroke-width="1.2"/>
<rect x="366.4" y="657.1" width="14.2" height="51.8" fill="#a9a9ad" stroke="#444" stroke-width="0.8"/>
<line x1="373.5" y1="657.1" x2="373.5" y2="654.2" stroke="#555" stroke-width="1.0"/>
<line x1="370.0" y1="654.2" x2="377.0" y2="654.2" stroke="#555" stroke-width="1.0"/>
<line x1="373.5" y1="708.9" x2="373.5" y2="712.9" stroke="#222" stroke-width="1.2"/>
<rect x="388.2" y="677.2" width="14.2" height="31.7" fill="#7b7b7d" stroke="#444" stroke-width="0.8"/>
<line x1="395.3" y1="677.2" x2="395.3" y2="672.1" stroke="#555" stroke-width="1.0"/>
<line x1="391.8" y1="672.1" x2="398.8" y2="672.1" stroke="#555" stroke-width="1.0"/>
<line x1="395.3" y1="708.9" x2="395.3" y2="712.9" stroke="#222" stroke-width="1.2"/>
<text transform="translate(356.0,723.4) rotate(-45)" font-size="14" text-anchor="end" fill="#1a1a1a">Ctrl</text>
<text transform="translate(377.9,723.4) rotate(-45)" font-size="14" text-anchor="end" fill="#1a1a1a">TAMs</text>
<text transform="translate(399.7,723.4) rotate(-45)" font-size="14" text-anchor="end" fill="#1a1a1a">TAMs+Chr</text>
<polyline points="373.4,652.0 373.4,642.3 395.4,642.3 395.4,664.0" fill="none" stroke="#8a8a8a" stroke-width="1.0"/>
<text x="384.4" y="643.9" font-size="9" text-anchor="middle" fill="#111" stroke-width="0.6">**</text>
<text transform="translate(307.6,669.7) rotate(-90)" font-size="14" text-anchor="middle" fill="#1a1a1a" textLength="90" lengthAdjust="spacingAndGlyphs">Migration area</text>
<text x="501.9" y="628.1" font-size="14.2" text-anchor="middle" fill="#1a1a1a" textLength="32.2" lengthAdjust="spacingAndGlyphs">H157</text>
<line x1="464.5" y1="636.1" x2="464.5" y2="709.3" stroke="#222" stroke-width="1.4"/>
<line x1="463.8" y1="708.7" x2="537.5" y2="708.7" stroke="#222" stroke-width="1.4"/>
<line x1="460.5" y1="708.7" x2="464.5" y2="708.7" stroke="#222" stroke-width="1.3"/>
<text x="459.7" y="713.5" font-size="13" text-anchor="end" fill="#1a1a1a">0</text>
<line x1="460.5" y1="690.7" x2="464.5" y2="690.7" stroke="#222" stroke-width="1.3"/>
<text x="459.7" y="695.5" font-size="13" text-anchor="end" fill="#1a1a1a">50</text>
<line x1="460.5" y1="672.7" x2="464.5" y2="672.7" stroke="#222" stroke-width="1.3"/>
<text x="459.7" y="677.5" font-size="13" text-anchor="end" fill="#1a1a1a">100</text>
<line x1="460.5" y1="654.7" x2="464.5" y2="654.7" stroke="#222" stroke-width="1.3"/>
<text x="459.7" y="659.5" font-size="13" text-anchor="end" fill="#1a1a1a">150</text>
<line x1="460.5" y1="636.7" x2="464.5" y2="636.7" stroke="#222" stroke-width="1.3"/>
<text x="459.7" y="641.5" font-size="13" text-anchor="end" fill="#1a1a1a">200</text>
<rect x="472.0" y="665.5" width="14.1" height="43.2" fill="#050505" stroke="#444" stroke-width="0.8"/>
<line x1="479.1" y1="665.5" x2="479.1" y2="660.5" stroke="#555" stroke-width="1.0"/>
<line x1="475.6" y1="660.5" x2="482.6" y2="660.5" stroke="#555" stroke-width="1.0"/>
<line x1="479.1" y1="708.7" x2="479.1" y2="712.7" stroke="#222" stroke-width="1.2"/>
<rect x="493.1" y="646.5" width="14.9" height="62.2" fill="#a9a9ad" stroke="#444" stroke-width="0.8"/>
<line x1="500.6" y1="646.5" x2="500.6" y2="643.3" stroke="#555" stroke-width="1.0"/>
<line x1="497.1" y1="643.3" x2="504.1" y2="643.3" stroke="#555" stroke-width="1.0"/>
<line x1="500.6" y1="708.7" x2="500.6" y2="712.7" stroke="#222" stroke-width="1.2"/>
<rect x="514.9" y="669.1" width="14.6" height="39.6" fill="#7b7b7d" stroke="#444" stroke-width="0.8"/>
<line x1="522.2" y1="669.1" x2="522.2" y2="664.8" stroke="#555" stroke-width="1.0"/>
<line x1="518.7" y1="664.8" x2="525.7" y2="664.8" stroke="#555" stroke-width="1.0"/>
<line x1="522.2" y1="708.7" x2="522.2" y2="712.7" stroke="#222" stroke-width="1.2"/>
<text transform="translate(483.4,723.2) rotate(-45)" font-size="14" text-anchor="end" fill="#1a1a1a">Ctrl</text>
<text transform="translate(504.9,723.2) rotate(-45)" font-size="14" text-anchor="end" fill="#1a1a1a">TAMs</text>
<text transform="translate(526.6,723.2) rotate(-45)" font-size="14" text-anchor="end" fill="#1a1a1a">TAMs+Chr</text>
<polyline points="500.3,643.0 500.3,639.4 522.6,639.4 522.6,663.0" fill="none" stroke="#8a8a8a" stroke-width="1.0"/>
<text x="511.5" y="641.0" font-size="9" text-anchor="middle" fill="#111" stroke-width="0.6">**</text>
<text transform="translate(434.2,688.8) rotate(-90)" font-size="14" text-anchor="middle" fill="#1a1a1a" textLength="127" lengthAdjust="spacingAndGlyphs">Invasive cell number</text>
</svg>
</body></html>
